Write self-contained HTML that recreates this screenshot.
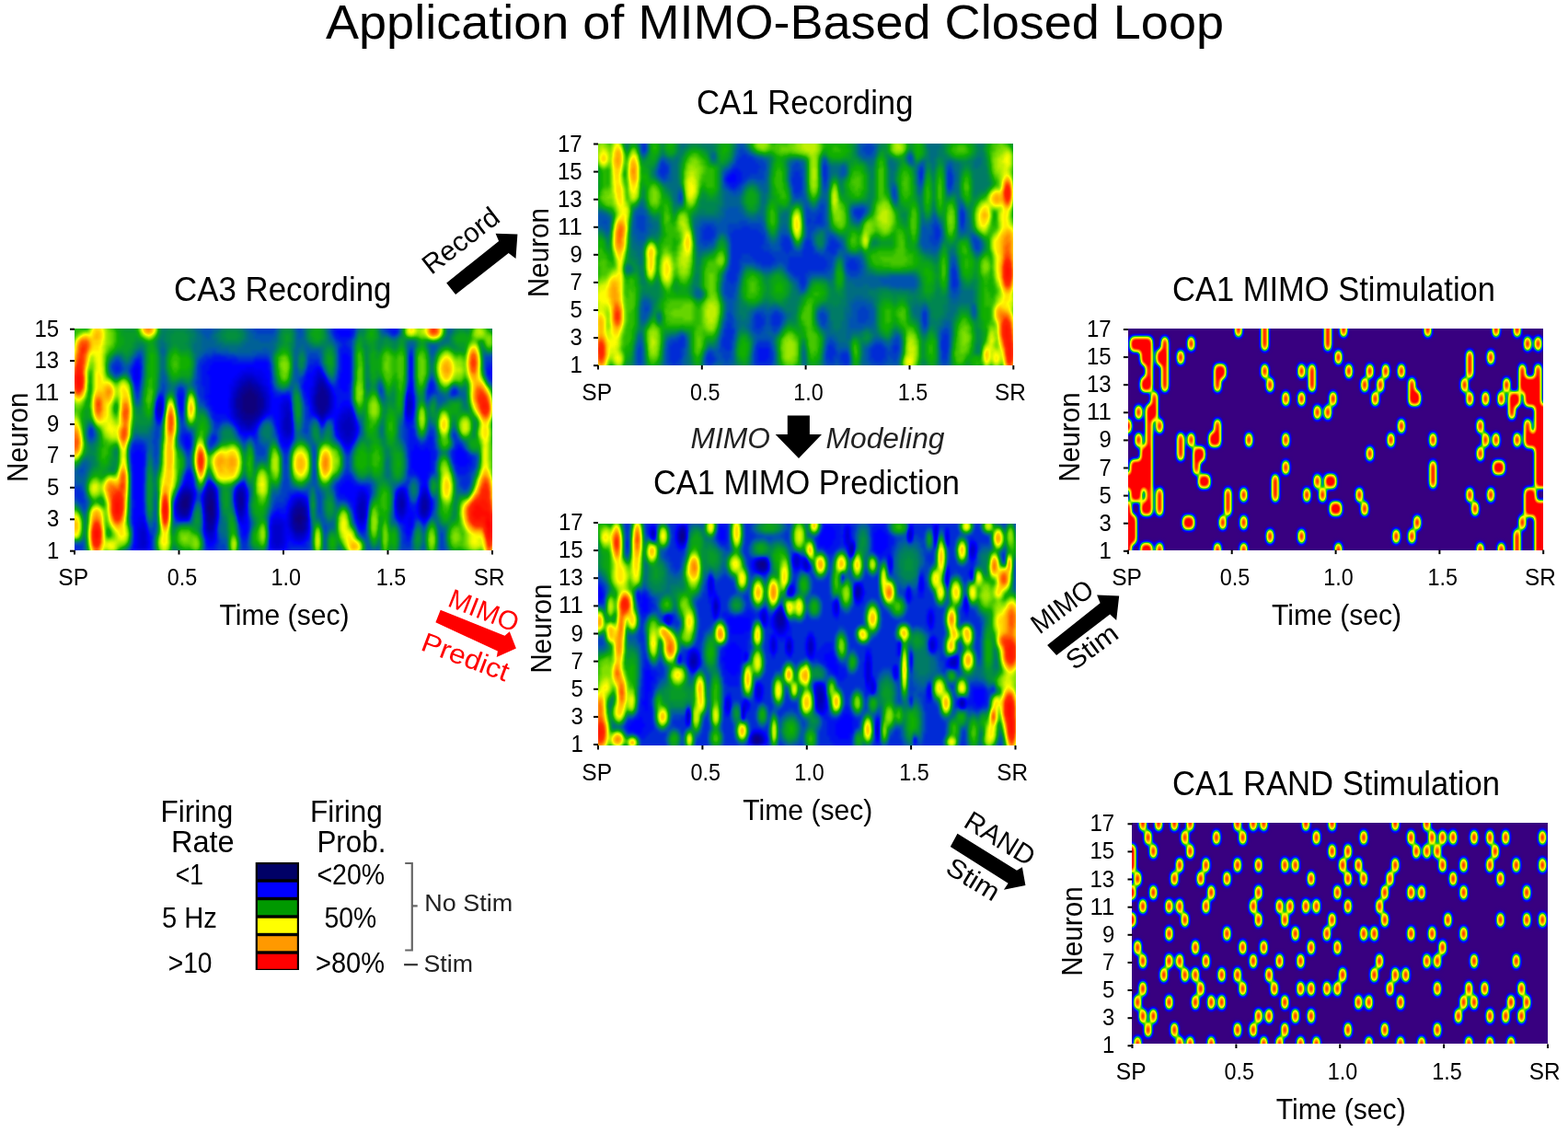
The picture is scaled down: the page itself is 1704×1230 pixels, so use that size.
<!DOCTYPE html>
<html><head><meta charset="utf-8"><title>Application of MIMO-Based Closed Loop</title>
<style>html,body{margin:0;padding:0;background:#fff;overflow:hidden}svg{display:block}text{font-family:"Liberation Sans", Arial, Helvetica, sans-serif}</style>
</head><body>
<svg width="1704" height="1230" viewBox="0 0 1704 1230">
<rect width="1704" height="1230" fill="#fff"/>
<clipPath id="c1"><rect x="81" y="357" width="454" height="241"/></clipPath>
<filter id="f1" filterUnits="userSpaceOnUse" x="69" y="345" width="480" height="267" color-interpolation-filters="sRGB"><feGaussianBlur color-interpolation-filters="sRGB" stdDeviation="1.5 1.5"/><feComponentTransfer color-interpolation-filters="sRGB"><feFuncR type="table" tableValues="0.078 0.059 0.039 0.02 0 0 0 0 0 0 0 0 0 0 0 0 0 0.015 0.029 0.044 0.059 0.172 0.284 0.397 0.51 0.632 0.755 0.877 1 1 1 1 1 1 1 1 1 1 1 1 1"/><feFuncG type="table" tableValues="0 0 0 0 0 0 0 0 0 0.083 0.167 0.25 0.333 0.382 0.431 0.48 0.529 0.569 0.608 0.647 0.686 0.735 0.784 0.833 0.882 0.912 0.941 0.971 1 0.912 0.824 0.735 0.647 0.529 0.412 0.294 0.176 0.132 0.088 0.044 0"/><feFuncB type="table" tableValues="0.412 0.49 0.569 0.647 0.725 0.794 0.863 0.931 1 0.922 0.843 0.765 0.686 0.593 0.5 0.407 0.314 0.235 0.157 0.078 0 0 0 0 0 0 0 0 0 0 0 0 0 0 0 0 0 0 0 0 0"/></feComponentTransfer></filter>
<g clip-path="url(#c1)"><g filter="url(#f1)"><g transform="translate(69 345) scale(3)" fill="none" stroke-width="1.04">
<rect x="-1" y="-1" width="162" height="91" fill="#464646"/>
<path stroke="#060606" d="M43.5 66v3M44.5 65v4M52.5 68v2M53.5 66v6M65.5 28v6M66.5 27v8M67.5 26v9M68.5 27v8M69.5 28v6M84.5 72v2M85.5 71v4M86.5 72v1"/>
<path stroke="#0d0d0d" d="M42.5 66v4M43.5 64v2M43.5 69v2M44.5 64v1M44.5 69v2M45.5 64v5M52.5 64v4M52.5 70v4M53.5 63v3M53.5 72v3M54.5 66v7M63.5 29v4M64.5 27v8M64.5 65v3M65.5 25v3M65.5 34v3M66.5 25v2M66.5 35v2M67.5 24v2M67.5 35v2M68.5 25v2M68.5 35v2M69.5 26v2M69.5 34v2M70.5 27v8M71.5 29v4M83.5 71v4M84.5 69v3M84.5 74v3M85.5 69v2M85.5 75v2M86.5 69v3M86.5 73v4M87.5 72v2M92.5 27v6M93.5 25v10M94.5 26v8M95.5 28v4M130.5 68v1"/>
<path stroke="#131313" d="M41.5 67v2M42.5 64v2M42.5 70v1M43.5 63v1M43.5 71v1M44.5 63v1M44.5 71v1M45.5 63v1M45.5 69v1M51.5 65v6M52.5 62v2M52.5 74v3M53.5 62v1M53.5 75v2M54.5 63v3M54.5 73v2M62.5 29v4M63.5 26v3M63.5 33v3M63.5 63v7M64.5 25v2M64.5 35v2M64.5 63v2M64.5 68v2M65.5 24v1M65.5 37v1M66.5 23v2M66.5 37v2M67.5 23v1M67.5 37v2M68.5 24v1M68.5 37v1M69.5 24v2M69.5 36v1M70.5 25v2M70.5 35v1M71.5 27v2M71.5 33v2M72.5 29v4M83.5 69v2M83.5 75v2M84.5 68v1M84.5 77v1M85.5 67v2M85.5 77v1M86.5 68v1M86.5 77v1M87.5 69v3M87.5 74v3M91.5 28v4M92.5 24v3M92.5 33v2M93.5 23v2M93.5 35v1M94.5 24v2M94.5 34v1M95.5 26v2M95.5 32v2M122.5 66v3M130.5 65v3M130.5 69v2M131.5 66v4"/>
<path stroke="#1a1a1a" d="M34.5 33v1M41.5 66v1M41.5 69v2M42.5 71v1M43.5 62v1M44.5 62v1M45.5 62v1M45.5 70v1M46.5 64v3M51.5 63v2M51.5 71v3M52.5 61v1M52.5 77v1M53.5 61v1M53.5 77v1M54.5 62v1M54.5 75v2M62.5 27v2M62.5 33v3M63.5 25v1M63.5 36v1M63.5 62v1M63.5 70v1M64.5 23v2M64.5 37v2M64.5 62v1M64.5 70v2M65.5 23v1M65.5 38v1M65.5 63v6M66.5 22v1M66.5 39v1M67.5 22v1M67.5 39v1M68.5 22v2M68.5 38v1M69.5 23v1M69.5 37v1M70.5 24v1M70.5 36v1M71.5 25v2M71.5 35v1M72.5 27v2M72.5 33v1M80.5 36v5M81.5 34v8M82.5 70v6M83.5 68v1M83.5 77v1M84.5 67v1M84.5 78v1M85.5 66v1M85.5 78v1M86.5 67v1M86.5 78v1M87.5 68v1M87.5 77v1M88.5 72v2M91.5 25v3M91.5 32v2M92.5 22v2M93.5 22v1M93.5 36v1M94.5 23v1M94.5 35v1M95.5 25v1M95.5 34v1M96.5 27v6M101.5 38v3M102.5 37v6M103.5 36v7M104.5 38v3M107.5 67v6M108.5 66v7M121.5 65v5M122.5 64v2M122.5 69v2M123.5 66v3M125.5 30v3M129.5 66v5M130.5 64v1M130.5 71v1M131.5 64v2M131.5 70v2"/>
<path stroke="#202020" d="M28.5 77v6M29.5 77v6M34.5 31v2M34.5 34v2M35.5 31v4M41.5 65v1M41.5 71v1M42.5 63v1M42.5 72v1M43.5 72v1M44.5 61v1M44.5 72v1M45.5 71v1M46.5 63v1M46.5 67v1M51.5 74v3M52.5 60v1M52.5 78v1M53.5 60v1M53.5 78v2M54.5 77v1M55.5 67v5M61.5 27v8M62.5 25v2M62.5 36v1M62.5 64v3M63.5 23v2M63.5 37v2M63.5 71v1M64.5 22v1M64.5 39v1M64.5 61v1M64.5 72v1M65.5 21v2M65.5 39v1M65.5 62v1M65.5 69v2M66.5 21v1M66.5 40v1M67.5 21v1M67.5 40v1M68.5 21v1M68.5 39v1M69.5 22v1M69.5 38v1M70.5 23v1M70.5 37v1M71.5 24v1M72.5 25v2M72.5 34v1M73.5 27v7M76.5 75v7M77.5 75v8M78.5 75v7M79.5 37v4M80.5 32v4M80.5 41v2M81.5 31v3M81.5 42v1M82.5 37v5M82.5 69v1M82.5 76v1M83.5 67v1M83.5 78v1M84.5 66v1M84.5 79v1M85.5 79v1M86.5 66v1M86.5 79v1M87.5 67v1M87.5 78v1M88.5 70v2M88.5 74v3M90.5 28v4M91.5 23v2M91.5 34v1M92.5 20v2M92.5 35v1M93.5 21v1M94.5 22v1M94.5 36v1M95.5 24v1M96.5 26v1M96.5 33v1M100.5 37v5M101.5 35v3M101.5 41v3M102.5 35v2M102.5 43v2M103.5 34v2M103.5 43v2M104.5 35v3M104.5 41v3M105.5 40v1M106.5 68v3M107.5 65v2M107.5 73v1M108.5 64v2M108.5 73v1M109.5 66v6M121.5 64v1M121.5 70v1M122.5 63v1M122.5 71v1M123.5 64v2M123.5 69v2M124.5 30v5M125.5 28v2M125.5 33v2M129.5 65v1M129.5 71v1M130.5 63v1M130.5 72v1M131.5 63v1M132.5 66v4"/>
<path stroke="#262626" d="M27.5 76v8M28.5 74v3M28.5 83v2M29.5 75v2M29.5 83v2M30.5 81v1M34.5 30v1M34.5 36v1M35.5 30v1M35.5 35v1M40.5 68v2M43.5 61v1M44.5 60v1M45.5 61v1M46.5 62v1M46.5 68v1M51.5 62v1M51.5 77v1M52.5 79v1M53.5 80v1M54.5 61v1M54.5 78v2M55.5 64v3M55.5 72v2M60.5 29v4M61.5 25v2M61.5 35v2M62.5 23v2M62.5 37v1M62.5 63v1M62.5 67v2M63.5 22v1M63.5 61v1M63.5 72v1M64.5 21v1M64.5 40v1M64.5 73v1M65.5 20v1M65.5 40v1M65.5 61v1M65.5 71v1M66.5 20v1M67.5 20v1M68.5 20v1M68.5 40v1M69.5 21v1M69.5 39v1M70.5 21v2M71.5 22v2M71.5 36v1M72.5 24v1M72.5 35v1M73.5 25v2M73.5 34v1M74.5 28v5M75.5 75v8M76.5 73v2M76.5 82v2M77.5 73v2M77.5 83v2M78.5 73v2M78.5 82v2M79.5 31v6M79.5 41v2M79.5 74v9M80.5 30v2M80.5 43v1M81.5 30v1M81.5 43v1M81.5 71v5M82.5 34v3M82.5 42v1M82.5 68v1M82.5 77v1M83.5 66v1M83.5 79v1M84.5 65v1M84.5 80v1M85.5 65v1M85.5 80v1M86.5 65v1M86.5 80v1M87.5 66v1M87.5 79v1M88.5 68v2M88.5 77v1M90.5 25v3M90.5 32v2M91.5 21v2M92.5 19v1M93.5 20v1M93.5 37v1M95.5 35v1M96.5 25v1M96.5 34v1M97.5 28v5M99.5 37v4M100.5 35v2M100.5 42v2M101.5 34v1M101.5 44v1M102.5 33v2M102.5 45v1M103.5 33v1M103.5 45v1M104.5 34v1M104.5 44v1M105.5 37v3M105.5 41v2M106.5 65v3M106.5 71v2M107.5 63v2M107.5 74v1M108.5 63v1M108.5 74v1M109.5 64v2M109.5 72v1M120.5 66v3M121.5 63v1M121.5 71v1M122.5 62v1M122.5 72v1M123.5 63v1M123.5 71v1M124.5 28v2M124.5 35v1M125.5 27v1M125.5 35v1M126.5 30v3M129.5 64v1M130.5 62v1M131.5 62v1M131.5 72v1M132.5 65v1M132.5 70v1"/>
<path stroke="#2d2d2d" d="M26.5 18v5M26.5 74v11M27.5 72v4M27.5 84v3M28.5 72v2M28.5 85v2M29.5 74v1M29.5 85v2M30.5 78v3M30.5 82v3M33.5 33v2M34.5 29v1M35.5 29v1M40.5 67v1M40.5 70v2M41.5 64v1M41.5 72v1M42.5 62v1M44.5 59v1M45.5 59v2M45.5 72v1M46.5 60v2M46.5 69v1M47.5 63v2M50.5 64v4M51.5 61v1M51.5 78v1M52.5 59v1M52.5 80v1M53.5 81v1M54.5 80v1M55.5 63v1M55.5 74v1M60.5 24v5M60.5 33v3M61.5 22v3M62.5 21v2M62.5 38v1M62.5 62v1M63.5 20v2M63.5 39v1M63.5 73v1M64.5 19v2M64.5 41v1M64.5 60v1M64.5 74v1M65.5 19v1M65.5 41v1M65.5 60v1M65.5 72v3M66.5 18v2M66.5 41v1M66.5 64v3M67.5 18v2M67.5 41v1M68.5 18v2M68.5 41v1M69.5 19v2M69.5 40v1M70.5 19v2M70.5 38v1M71.5 19v3M72.5 20v4M73.5 22v3M74.5 25v3M74.5 33v2M75.5 73v2M75.5 83v2M76.5 72v1M76.5 84v2M77.5 71v2M77.5 85v1M78.5 31v11M78.5 72v1M78.5 84v1M79.5 29v2M79.5 43v2M79.5 73v1M79.5 83v1M80.5 29v1M80.5 44v2M80.5 73v9M81.5 29v1M81.5 44v2M81.5 69v2M81.5 76v3M82.5 33v1M82.5 43v1M82.5 66v2M82.5 78v2M83.5 65v1M83.5 80v1M85.5 81v1M87.5 65v1M87.5 80v1M88.5 67v1M88.5 78v1M89.5 25v6M90.5 21v4M90.5 34v1M91.5 19v2M91.5 35v1M92.5 18v1M92.5 36v1M93.5 38v1M94.5 21v1M94.5 37v1M95.5 23v1M96.5 35v1M97.5 27v1M97.5 33v2M99.5 35v2M99.5 41v2M100.5 33v2M101.5 32v2M101.5 45v1M102.5 32v1M102.5 46v1M103.5 32v1M103.5 46v1M104.5 33v1M104.5 45v1M105.5 36v1M105.5 43v1M106.5 63v2M106.5 73v1M107.5 62v1M107.5 75v1M108.5 62v1M108.5 75v1M109.5 63v1M109.5 73v1M120.5 64v2M120.5 69v2M121.5 62v1M121.5 72v1M122.5 73v1M123.5 62v1M123.5 72v1M124.5 27v1M124.5 36v1M124.5 65v6M125.5 25v2M125.5 36v1M125.5 72v4M126.5 28v2M126.5 33v2M128.5 67v4M129.5 63v1M129.5 72v1M130.5 61v1M130.5 73v1M131.5 61v1M132.5 64v1M132.5 71v1"/>
<path stroke="#333333" d="M25.5 18v5M25.5 49v17M25.5 69v6M25.5 82v3M26.5 16v2M26.5 23v2M26.5 48v26M26.5 85v3M27.5 17v6M27.5 48v24M27.5 87v2M28.5 49v23M28.5 87v2M29.5 72v2M29.5 87v2M30.5 77v1M30.5 85v2M33.5 32v1M33.5 35v1M34.5 37v1M35.5 28v1M35.5 36v1M40.5 66v1M42.5 28v6M42.5 73v1M43.5 60v1M43.5 73v1M44.5 43v4M44.5 57v2M44.5 73v1M45.5 44v3M45.5 56v3M46.5 57v3M47.5 62v1M47.5 65v1M50.5 68v1M51.5 79v1M52.5 19v2M52.5 28v1M52.5 81v2M53.5 17v15M53.5 59v1M53.5 82v1M54.5 16v18M54.5 60v1M54.5 81v1M55.5 16v19M55.5 62v1M55.5 75v1M56.5 16v19M57.5 16v19M58.5 16v19M59.5 16v20M60.5 16v8M60.5 36v1M61.5 17v5M61.5 37v1M62.5 17v4M62.5 69v1M63.5 17v3M63.5 40v1M64.5 17v2M64.5 75v2M65.5 17v2M65.5 42v1M65.5 75v4M66.5 17v1M66.5 42v1M66.5 62v2M66.5 67v11M67.5 17v1M68.5 17v1M68.5 42v1M69.5 16v3M69.5 41v1M70.5 16v3M71.5 16v3M71.5 37v1M72.5 16v4M72.5 36v1M73.5 16v6M73.5 35v1M74.5 19v6M75.5 27v8M75.5 72v1M75.5 85v1M76.5 29v8M76.5 71v1M76.5 86v1M77.5 29v11M77.5 70v1M77.5 86v1M78.5 29v2M78.5 42v3M78.5 71v1M78.5 85v2M79.5 28v1M79.5 45v2M79.5 71v2M79.5 84v2M80.5 28v1M80.5 46v1M80.5 71v2M80.5 82v2M81.5 28v1M81.5 46v1M81.5 67v2M81.5 79v2M82.5 31v2M82.5 44v1M82.5 65v1M82.5 80v1M83.5 64v1M83.5 81v1M84.5 64v1M84.5 81v1M85.5 64v1M86.5 64v1M86.5 81v1M87.5 23v4M88.5 20v9M88.5 66v1M88.5 79v1M89.5 20v5M89.5 31v3M90.5 19v2M91.5 18v1M93.5 19v1M95.5 36v1M96.5 24v1M97.5 26v1M97.5 35v1M98.5 28v13M99.5 4v2M99.5 33v2M99.5 43v1M100.5 4v3M100.5 20v6M100.5 31v2M100.5 44v1M100.5 61v3M101.5 3v4M101.5 13v14M101.5 30v2M101.5 46v1M101.5 60v4M102.5 3v4M102.5 13v14M102.5 30v2M102.5 47v1M102.5 59v6M103.5 4v3M103.5 14v10M103.5 30v2M103.5 47v1M103.5 59v7M104.5 32v1M104.5 60v7M105.5 35v1M105.5 44v1M105.5 61v10M106.5 39v3M106.5 61v2M106.5 74v1M107.5 61v1M107.5 76v1M108.5 61v1M108.5 76v1M109.5 62v1M109.5 74v1M110.5 64v2M120.5 63v1M120.5 71v1M121.5 73v1M123.5 73v2M124.5 37v1M124.5 64v1M124.5 71v8M125.5 14v11M125.5 37v1M125.5 69v3M125.5 76v3M126.5 23v5M126.5 35v2M126.5 48v7M126.5 70v6M127.5 46v10M128.5 47v10M128.5 66v1M128.5 71v1M129.5 48v11M129.5 61v2M130.5 48v13M130.5 74v1M131.5 47v14M131.5 73v1M132.5 48v8M133.5 67v1M142.5 48v5M143.5 47v7M144.5 48v6M145.5 49v5M146.5 51v2M154.5 19v2"/>
<path stroke="#393939" d="M19.5 18v1M24.5 19v1M24.5 48v5M25.5 17v1M25.5 23v1M25.5 46v3M25.5 66v3M25.5 75v7M25.5 85v4M26.5 15v1M26.5 25v2M26.5 46v2M26.5 88v1M27.5 15v2M27.5 23v2M27.5 46v2M28.5 46v3M29.5 48v6M29.5 71v1M30.5 76v1M30.5 87v2M31.5 79v7M33.5 31v1M33.5 36v1M34.5 28v1M34.5 38v1M35.5 37v1M40.5 72v1M41.5 27v5M41.5 63v1M41.5 73v1M42.5 26v2M42.5 34v2M42.5 61v1M43.5 27v7M43.5 42v4M43.5 59v1M44.5 42v1M44.5 47v1M44.5 56v1M45.5 42v2M45.5 47v1M45.5 55v1M45.5 73v1M46.5 56v1M46.5 70v1M47.5 61v1M47.5 66v1M50.5 17v8M50.5 63v1M50.5 69v2M51.5 16v14M51.5 80v2M52.5 15v4M52.5 21v7M52.5 29v3M52.5 83v1M53.5 15v2M53.5 32v2M53.5 83v2M54.5 14v2M54.5 34v3M54.5 43v2M54.5 82v2M55.5 14v2M55.5 35v3M55.5 76v6M56.5 14v2M56.5 35v3M57.5 14v2M57.5 35v2M58.5 14v2M58.5 35v2M59.5 15v1M59.5 36v1M60.5 15v1M60.5 37v1M61.5 15v2M61.5 38v1M62.5 15v2M62.5 39v1M62.5 61v1M62.5 70v1M63.5 16v1M63.5 41v1M63.5 60v1M63.5 74v1M64.5 16v1M64.5 42v1M64.5 77v3M65.5 16v1M65.5 43v1M65.5 59v1M65.5 79v2M66.5 16v1M66.5 43v1M66.5 78v2M67.5 16v1M67.5 42v1M68.5 16v1M69.5 15v1M69.5 42v2M70.5 15v1M70.5 39v1M71.5 15v1M72.5 15v1M73.5 15v1M74.5 16v3M74.5 35v1M74.5 75v2M74.5 80v6M75.5 24v3M75.5 35v1M75.5 71v1M75.5 86v2M76.5 27v2M76.5 37v2M76.5 70v1M76.5 87v1M77.5 28v1M77.5 40v2M77.5 69v1M77.5 87v1M78.5 28v1M78.5 45v1M78.5 69v2M78.5 87v1M79.5 47v1M79.5 69v2M79.5 86v1M80.5 47v2M80.5 68v3M80.5 84v2M81.5 27v1M81.5 47v1M81.5 66v1M81.5 81v3M82.5 30v1M82.5 45v1M82.5 64v1M82.5 81v2M83.5 82v1M84.5 63v1M84.5 82v1M85.5 63v1M85.5 82v1M86.5 24v2M86.5 82v1M87.5 21v2M87.5 27v3M87.5 64v1M87.5 81v2M88.5 18v2M88.5 29v3M88.5 65v1M88.5 80v1M89.5 17v3M89.5 34v2M90.5 17v2M90.5 35v1M91.5 16v2M92.5 17v1M92.5 37v1M93.5 18v1M93.5 39v1M94.5 20v1M94.5 38v1M95.5 22v1M96.5 36v1M97.5 25v1M97.5 36v1M98.5 3v4M98.5 25v3M98.5 41v2M99.5 3v1M99.5 6v2M99.5 22v11M99.5 60v5M100.5 2v2M100.5 7v2M100.5 11v9M100.5 26v5M100.5 45v1M100.5 59v2M100.5 64v2M101.5 2v1M101.5 7v6M101.5 27v3M101.5 58v2M101.5 64v2M102.5 2v1M102.5 7v2M102.5 10v3M102.5 27v3M102.5 48v1M102.5 57v2M102.5 65v1M103.5 2v2M103.5 7v1M103.5 11v3M103.5 24v6M103.5 48v1M103.5 57v2M103.5 66v1M104.5 3v4M104.5 46v1M104.5 58v2M104.5 67v2M105.5 59v2M105.5 71v2M106.5 38v1M106.5 42v1M106.5 60v1M106.5 75v1M107.5 77v1M108.5 77v1M109.5 61v1M109.5 75v2M110.5 61v3M110.5 66v2M118.5 3v2M119.5 2v4M120.5 3v3M120.5 72v1M122.5 61v1M122.5 74v1M123.5 61v1M123.5 75v3M124.5 26v1M124.5 38v2M124.5 62v2M124.5 79v2M125.5 13v1M125.5 38v19M125.5 67v2M125.5 79v2M126.5 14v9M126.5 37v2M126.5 40v8M126.5 55v2M126.5 68v2M126.5 76v1M127.5 43v3M127.5 56v1M127.5 68v5M128.5 45v2M128.5 57v1M128.5 65v1M128.5 72v1M129.5 46v2M129.5 59v2M129.5 73v1M130.5 46v2M131.5 45v2M132.5 24v4M132.5 43v5M132.5 56v2M132.5 63v1M132.5 72v1M133.5 23v4M133.5 43v13M133.5 66v1M133.5 68v2M134.5 48v4M141.5 26v2M141.5 48v5M142.5 46v2M142.5 53v3M143.5 46v1M143.5 54v3M144.5 47v1M144.5 54v3M145.5 48v1M145.5 54v3M146.5 49v2M146.5 53v3M147.5 50v4M153.5 18v3M154.5 17v2M154.5 21v2M155.5 18v4"/>
<path stroke="#404040" d="M2.5 83v1M3.5 62v2M3.5 83v2M4.5 62v3M4.5 82v3M5.5 62v4M5.5 83v1M6.5 63v4M6.5 83v1M7.5 66v1M9.5 40v3M10.5 40v3M18.5 17v3M19.5 16v2M19.5 19v1M20.5 17v3M23.5 86v3M24.5 18v1M24.5 20v1M24.5 47v1M24.5 53v3M24.5 72v1M24.5 83v6M25.5 16v1M25.5 24v1M25.5 45v1M26.5 27v2M26.5 45v1M27.5 14v1M27.5 25v2M27.5 45v1M28.5 17v2M28.5 45v1M29.5 46v2M29.5 54v6M29.5 67v4M30.5 75v1M31.5 78v1M31.5 86v3M32.5 79v1M33.5 30v1M33.5 37v1M35.5 27v1M36.5 29v4M40.5 65v1M40.5 73v1M41.5 26v1M41.5 32v1M42.5 25v1M42.5 36v2M42.5 42v3M43.5 26v1M43.5 34v3M43.5 40v2M43.5 46v1M43.5 58v1M44.5 41v1M44.5 48v1M44.5 55v1M45.5 48v2M45.5 54v1M46.5 43v4M46.5 55v1M46.5 71v1M47.5 59v2M47.5 67v1M48.5 23v1M49.5 16v13M50.5 15v2M50.5 25v5M50.5 71v2M50.5 75v3M51.5 14v2M51.5 30v2M51.5 60v1M51.5 82v4M52.5 14v1M52.5 32v1M52.5 58v1M52.5 84v4M53.5 14v1M53.5 34v2M53.5 43v4M53.5 85v3M54.5 13v1M54.5 37v1M54.5 42v1M54.5 45v1M54.5 84v3M55.5 13v1M55.5 38v2M55.5 43v1M55.5 61v1M55.5 82v4M56.5 13v1M56.5 38v1M57.5 37v1M58.5 37v1M59.5 14v1M59.5 37v1M60.5 14v1M61.5 14v1M62.5 14v1M62.5 40v1M63.5 15v1M63.5 42v1M63.5 75v1M64.5 15v1M64.5 43v1M64.5 59v1M64.5 80v2M65.5 15v1M65.5 44v1M65.5 81v3M66.5 15v1M66.5 61v1M66.5 80v2M67.5 15v1M67.5 73v4M68.5 15v1M68.5 43v1M69.5 14v1M69.5 44v2M70.5 14v1M70.5 40v1M71.5 14v1M71.5 38v1M72.5 14v1M73.5 14v1M73.5 36v1M74.5 15v1M74.5 36v1M74.5 73v2M74.5 77v3M74.5 86v3M75.5 20v4M75.5 36v1M75.5 70v1M75.5 88v1M76.5 26v1M76.5 39v1M76.5 68v2M76.5 88v1M77.5 27v1M77.5 42v1M77.5 67v2M77.5 88v1M78.5 27v1M78.5 46v1M78.5 67v2M78.5 88v1M79.5 27v1M79.5 48v1M79.5 67v2M79.5 87v2M80.5 27v1M80.5 49v4M80.5 65v3M80.5 86v3M81.5 48v1M81.5 63v3M81.5 84v3M82.5 28v2M82.5 63v1M82.5 83v3M83.5 40v4M83.5 63v1M83.5 83v2M84.5 83v2M85.5 83v3M86.5 22v2M86.5 26v2M86.5 63v1M86.5 83v2M87.5 20v1M87.5 30v2M87.5 63v1M87.5 83v2M88.5 17v1M88.5 32v5M88.5 64v1M88.5 81v3M89.5 15v2M89.5 36v1M89.5 75v6M90.5 15v2M91.5 15v1M91.5 36v1M92.5 15v2M96.5 23v1M97.5 2v4M97.5 24v1M97.5 37v1M98.5 2v1M98.5 7v1M98.5 24v1M98.5 61v2M99.5 1v2M99.5 8v1M99.5 19v3M99.5 44v1M99.5 65v1M100.5 1v1M100.5 9v2M100.5 58v1M101.5 1v1M101.5 47v1M101.5 57v1M102.5 1v1M102.5 9v1M102.5 49v1M102.5 55v2M102.5 66v1M103.5 1v1M103.5 8v3M103.5 49v1M103.5 56v1M103.5 67v1M104.5 1v2M104.5 7v1M104.5 12v11M104.5 31v1M104.5 47v1M104.5 57v1M104.5 69v1M105.5 3v3M105.5 34v1M105.5 45v1M105.5 73v1M106.5 37v1M106.5 43v1M106.5 76v1M107.5 60v1M108.5 60v1M108.5 78v1M109.5 60v1M109.5 77v1M110.5 60v1M110.5 68v1M111.5 62v2M117.5 2v3M118.5 1v2M118.5 5v1M119.5 1v1M119.5 6v1M120.5 1v2M120.5 62v1M121.5 61v1M121.5 74v1M122.5 75v2M123.5 34v5M123.5 60v1M123.5 78v4M124.5 25v1M124.5 40v7M124.5 59v3M124.5 81v2M125.5 12v1M125.5 57v1M125.5 66v1M125.5 81v2M126.5 12v2M126.5 39v1M126.5 57v1M126.5 67v1M126.5 77v1M127.5 41v2M127.5 57v1M127.5 67v1M127.5 73v1M128.5 44v1M128.5 58v1M130.5 45v1M130.5 75v1M131.5 44v1M131.5 74v1M132.5 23v1M132.5 28v1M132.5 41v2M132.5 58v1M133.5 22v1M133.5 27v1M133.5 41v2M133.5 56v1M133.5 65v1M133.5 70v1M134.5 24v3M134.5 45v3M134.5 52v4M140.5 27v1M140.5 48v3M141.5 42v2M141.5 47v1M141.5 53v1M142.5 26v2M142.5 44v2M142.5 56v1M143.5 45v1M143.5 57v1M144.5 46v1M144.5 57v4M145.5 57v5M146.5 56v5M147.5 54v2M148.5 50v5M153.5 16v2M153.5 21v1M154.5 16v1M155.5 16v2M155.5 22v1M156.5 19v3"/>
<path stroke="#4c4c4c" d="M0.5 2v1M0.5 6v1M0.5 19v12M0.5 38v13M1.5 8v5M1.5 53v1M1.5 68v2M1.5 80v1M2.5 0v1M2.5 55v2M2.5 66v1M2.5 81v1M3.5 56v4M3.5 66v1M4.5 59v2M4.5 66v1M5.5 55v2M5.5 60v1M5.5 67v1M6.5 0v1M6.5 54v1M6.5 56v2M6.5 60v1M6.5 68v1M6.5 81v1M7.5 0v1M7.5 53v4M7.5 62v1M7.5 70v1M7.5 81v4M8.5 0v1M8.5 66v3M8.5 88v1M9.5 39v1M9.5 44v1M10.5 39v1M10.5 44v1M11.5 42v1M15.5 88v1M16.5 87v1M17.5 16v1M17.5 19v1M17.5 87v1M18.5 15v1M19.5 14v1M20.5 15v1M20.5 20v1M20.5 86v1M21.5 16v2M21.5 19v1M22.5 18v1M22.5 85v1M23.5 17v3M23.5 84v1M24.5 16v1M24.5 22v1M24.5 45v1M24.5 75v1M24.5 82v1M25.5 14v1M25.5 26v1M26.5 13v1M26.5 30v1M26.5 43v1M27.5 12v1M27.5 29v1M27.5 43v1M28.5 13v1M28.5 22v2M29.5 44v1M30.5 44v5M31.5 76v1M32.5 41v3M32.5 46v5M32.5 74v2M33.5 53v2M33.5 66v8M33.5 76v2M33.5 86v1M34.5 44v6M34.5 87v1M35.5 0v1M35.5 23v3M35.5 39v1M35.5 88v1M36.5 1v1M36.5 21v3M36.5 88v1M37.5 1v1M37.5 88v1M38.5 1v1M38.5 87v1M39.5 0v1M39.5 86v1M40.5 0v1M40.5 74v1M40.5 85v2M41.5 0v1M41.5 34v1M41.5 62v1M41.5 74v1M41.5 86v1M42.5 0v1M42.5 24v1M42.5 46v1M42.5 60v1M42.5 74v1M42.5 87v1M43.5 0v1M43.5 87v1M44.5 0v1M44.5 39v1M44.5 50v1M44.5 54v1M44.5 87v1M45.5 1v1M45.5 87v1M46.5 1v1M46.5 41v1M46.5 48v1M46.5 54v1M46.5 72v1M46.5 87v1M47.5 1v2M47.5 22v3M47.5 68v1M47.5 87v1M48.5 2v1M48.5 15v2M48.5 28v1M48.5 62v1M48.5 66v1M48.5 87v1M49.5 3v1M49.5 14v1M49.5 31v1M49.5 63v1M49.5 86v1M50.5 3v3M50.5 13v1M50.5 31v1M50.5 79v1M50.5 85v1M51.5 4v3M51.5 12v1M52.5 4v4M52.5 11v2M52.5 34v1M52.5 44v1M52.5 46v1M53.5 4v2M53.5 11v2M53.5 47v1M53.5 58v1M54.5 3v1M54.5 11v1M54.5 46v1M55.5 2v2M55.5 11v2M55.5 45v1M56.5 2v1M56.5 12v1M56.5 40v1M56.5 66v3M56.5 73v2M56.5 78v2M57.5 1v1M57.5 12v1M57.5 80v2M58.5 1v1M58.5 12v1M58.5 38v1M58.5 80v2M59.5 1v1M59.5 12v1M59.5 38v1M59.5 84v2M60.5 1v1M60.5 87v1M61.5 1v1M61.5 62v1M61.5 67v1M62.5 1v1M62.5 13v1M62.5 41v1M62.5 87v1M63.5 1v1M63.5 13v1M63.5 43v1M63.5 77v2M63.5 86v1M64.5 2v1M64.5 13v1M65.5 2v1M65.5 13v1M65.5 46v1M65.5 58v1M66.5 2v2M66.5 13v1M66.5 60v1M67.5 3v2M67.5 13v1M67.5 63v2M67.5 71v1M67.5 78v1M67.5 83v2M68.5 4v2M68.5 12v2M68.5 85v1M69.5 5v3M69.5 12v2M69.5 48v2M70.5 6v2M70.5 12v1M70.5 50v2M70.5 86v1M71.5 6v3M71.5 12v1M71.5 39v1M71.5 45v1M71.5 50v1M71.5 86v1M72.5 6v3M72.5 11v2M72.5 46v1M72.5 50v1M72.5 86v1M73.5 6v3M73.5 11v2M73.5 37v1M73.5 46v4M74.5 6v3M74.5 12v2M74.5 37v1M74.5 71v1M75.5 6v2M75.5 16v1M75.5 38v1M75.5 67v2M76.5 5v2M76.5 24v1M76.5 41v2M76.5 64v2M77.5 2v2M77.5 44v1M77.5 64v1M78.5 0v2M78.5 26v1M78.5 47v1M78.5 62v2M79.5 0v1M79.5 50v9M80.5 26v1M81.5 50v8M82.5 0v1M82.5 25v2M82.5 61v1M83.5 0v2M83.5 37v1M84.5 2v3M84.5 18v5M85.5 5v3M85.5 21v1M85.5 24v2M85.5 62v1M86.5 3v4M86.5 29v1M86.5 40v2M86.5 62v1M87.5 2v1M87.5 42v1M87.5 62v1M88.5 1v1M88.5 11v3M88.5 42v2M89.5 0v1M89.5 12v1M89.5 38v1M89.5 72v1M90.5 12v1M90.5 46v1M90.5 59v2M90.5 87v1M91.5 12v1M91.5 48v3M91.5 55v9M92.5 12v2M92.5 38v1M92.5 62v1M92.5 71v1M93.5 0v1M93.5 16v1M93.5 41v1M93.5 64v10M93.5 88v1M94.5 0v1M94.5 73v2M94.5 78v7M95.5 1v2M95.5 75v3M95.5 86v1M96.5 4v2M96.5 22v1M96.5 37v1M96.5 87v1M97.5 7v1M97.5 23v1M97.5 39v2M97.5 61v1M97.5 88v1M98.5 9v1M98.5 21v2M98.5 59v1M98.5 65v1M98.5 87v1M99.5 67v1M99.5 86v1M100.5 46v1M100.5 57v1M100.5 85v1M101.5 55v1M101.5 86v1M102.5 67v1M103.5 52v1M103.5 87v1M104.5 26v4M104.5 48v1M104.5 71v1M105.5 7v1M105.5 33v1M105.5 46v1M105.5 57v1M106.5 0v1M106.5 36v1M106.5 44v1M106.5 77v1M106.5 87v1M107.5 0v1M107.5 38v1M107.5 42v1M107.5 59v1M107.5 87v1M108.5 0v1M108.5 59v1M108.5 86v1M109.5 0v1M109.5 59v1M109.5 80v1M109.5 85v1M110.5 59v1M110.5 70v1M110.5 82v3M111.5 65v1M111.5 84v2M112.5 85v1M113.5 84v2M114.5 0v2M114.5 24v1M114.5 27v1M114.5 84v2M115.5 2v3M115.5 25v1M115.5 28v1M116.5 5v1M118.5 87v1M119.5 66v7M119.5 87v1M120.5 61v1M120.5 87v1M121.5 0v2M121.5 60v1M121.5 85v2M122.5 0v1M122.5 39v5M123.5 0v1M123.5 30v2M123.5 45v1M123.5 59v1M124.5 23v1M124.5 51v4M125.5 10v1M125.5 60v1M125.5 63v2M126.5 10v1M126.5 58v1M126.5 66v1M126.5 79v1M126.5 84v2M127.5 27v1M127.5 34v2M127.5 38v2M127.5 58v1M127.5 66v1M127.5 75v1M127.5 86v1M128.5 0v1M128.5 43v1M128.5 60v4M128.5 86v1M129.5 0v1M129.5 44v1M129.5 85v1M130.5 44v1M130.5 77v1M130.5 82v3M131.5 30v1M131.5 42v1M131.5 75v1M131.5 87v1M132.5 22v1M132.5 38v1M132.5 59v3M132.5 73v1M133.5 10v4M133.5 28v1M133.5 39v1M133.5 57v1M134.5 10v2M134.5 40v1M134.5 65v1M134.5 70v2M134.5 88v1M135.5 26v1M135.5 28v2M135.5 47v1M135.5 51v1M135.5 86v1M136.5 28v3M136.5 76v2M137.5 0v1M137.5 29v1M137.5 77v1M138.5 1v1M138.5 83v2M139.5 2v2M139.5 85v2M140.5 3v1M140.5 42v1M140.5 47v1M140.5 52v1M141.5 2v1M141.5 40v1M141.5 55v1M141.5 87v1M142.5 2v1M142.5 25v1M142.5 28v1M142.5 58v1M142.5 87v1M143.5 2v1M143.5 27v1M143.5 61v1M144.5 2v1M144.5 62v1M144.5 86v1M145.5 2v1M145.5 46v1M146.5 2v1M146.5 62v1M147.5 1v1M147.5 60v1M148.5 1v1M148.5 49v1M148.5 56v1M149.5 54v1M150.5 0v1M150.5 87v1M152.5 14v5M153.5 1v1M153.5 22v1M154.5 2v1M155.5 13v1M155.5 24v1M156.5 4v1M156.5 12v1M156.5 25v2M156.5 38v3M157.5 6v5M157.5 57v3M157.5 85v3M158.5 63v4M158.5 75v4M159.5 69v4"/>
<path stroke="#535353" d="M0.5 3v3M0.5 31v7M1.5 1v1M1.5 7v1M1.5 13v4M1.5 52v1M1.5 70v2M1.5 79v1M2.5 54v1M2.5 67v1M3.5 0v1M3.5 55v1M3.5 81v1M4.5 0v1M4.5 55v4M5.5 0v1M5.5 54v1M5.5 57v3M5.5 81v1M6.5 53v1M6.5 58v2M6.5 69v1M7.5 1v1M7.5 52v1M7.5 57v5M7.5 71v1M7.5 80v1M8.5 1v1M8.5 41v2M8.5 52v4M8.5 65v1M8.5 69v1M8.5 86v2M11.5 41v1M11.5 43v1M15.5 87v1M18.5 14v1M18.5 21v1M19.5 21v1M19.5 86v1M20.5 14v1M21.5 85v1M22.5 17v1M22.5 19v1M23.5 20v1M24.5 15v1M24.5 81v1M25.5 27v1M25.5 43v1M26.5 12v1M26.5 31v1M26.5 42v1M27.5 30v1M28.5 12v1M28.5 24v2M28.5 43v1M29.5 43v1M30.5 43v1M30.5 49v3M30.5 73v1M31.5 42v6M31.5 75v1M32.5 39v2M32.5 51v3M32.5 73v1M33.5 29v1M33.5 55v2M33.5 63v3M33.5 78v1M33.5 85v1M34.5 0v1M34.5 26v1M34.5 50v3M35.5 1v1M35.5 11v2M35.5 19v4M35.5 40v1M36.5 2v1M36.5 11v3M36.5 19v2M36.5 34v1M37.5 2v1M37.5 23v4M39.5 1v1M39.5 85v1M40.5 1v1M40.5 25v4M40.5 64v1M41.5 1v1M41.5 24v1M41.5 35v1M41.5 43v2M41.5 85v1M42.5 1v1M42.5 59v1M42.5 86v1M43.5 1v1M43.5 24v1M43.5 48v1M43.5 56v1M43.5 74v1M43.5 86v1M44.5 1v1M44.5 25v3M44.5 51v3M44.5 74v1M44.5 86v1M45.5 2v1M45.5 40v1M45.5 74v1M45.5 86v1M46.5 2v1M46.5 49v1M46.5 53v1M46.5 73v1M46.5 86v1M47.5 3v1M47.5 20v2M47.5 25v1M47.5 57v1M47.5 69v1M48.5 3v2M48.5 14v1M48.5 29v1M49.5 4v2M49.5 12v2M49.5 32v1M49.5 67v1M50.5 6v7M50.5 32v1M50.5 84v1M51.5 7v5M51.5 33v1M51.5 59v1M52.5 8v3M52.5 35v1M52.5 43v1M52.5 47v1M52.5 57v1M53.5 6v5M53.5 37v2M53.5 41v1M54.5 4v2M54.5 8v3M54.5 59v1M55.5 4v1M55.5 10v1M56.5 3v1M56.5 10v2M56.5 41v4M56.5 62v4M56.5 75v3M57.5 2v1M57.5 11v1M57.5 39v1M57.5 78v2M58.5 2v1M58.5 11v1M58.5 79v1M59.5 2v1M59.5 11v1M59.5 83v1M60.5 2v1M60.5 12v1M60.5 39v1M60.5 86v1M61.5 2v1M61.5 12v1M61.5 40v1M61.5 68v1M61.5 87v1M62.5 2v1M62.5 12v1M62.5 42v1M62.5 60v1M62.5 72v1M63.5 2v1M63.5 11v2M63.5 59v1M63.5 85v1M64.5 11v2M64.5 45v1M65.5 3v1M65.5 10v3M65.5 47v1M66.5 4v1M66.5 9v4M66.5 45v1M67.5 5v8M67.5 44v1M67.5 62v1M67.5 65v2M67.5 69v2M67.5 79v2M67.5 82v1M68.5 6v6M68.5 45v1M68.5 74v1M68.5 84v1M69.5 8v4M69.5 50v2M69.5 85v1M70.5 8v4M70.5 85v1M71.5 9v3M71.5 40v1M71.5 43v2M71.5 51v1M71.5 85v1M72.5 9v2M72.5 38v1M72.5 45v1M72.5 51v1M73.5 9v2M73.5 45v1M73.5 50v2M73.5 84v1M74.5 9v3M74.5 70v1M75.5 8v8M75.5 39v1M75.5 64v3M76.5 7v2M76.5 22v2M76.5 43v1M76.5 63v1M77.5 4v2M77.5 25v1M77.5 45v1M77.5 63v1M78.5 2v1M78.5 61v1M79.5 1v1M79.5 26v1M80.5 0v1M81.5 0v1M82.5 1v1M82.5 24v1M82.5 47v1M82.5 60v1M83.5 2v1M83.5 16v8M83.5 35v2M83.5 45v1M83.5 61v1M84.5 5v13M84.5 23v1M85.5 8v3M85.5 20v1M85.5 26v1M86.5 7v3M86.5 20v1M86.5 30v1M86.5 38v2M86.5 42v1M87.5 3v1M87.5 8v4M87.5 18v1M87.5 43v1M88.5 10v1M88.5 44v1M88.5 61v1M89.5 1v1M89.5 11v1M89.5 39v7M89.5 60v2M89.5 71v1M90.5 0v1M90.5 11v1M90.5 37v1M90.5 45v1M90.5 86v1M91.5 0v1M91.5 11v1M91.5 37v1M91.5 46v2M91.5 51v4M91.5 64v2M92.5 0v1M92.5 11v1M92.5 39v1M92.5 61v1M92.5 72v1M93.5 13v3M93.5 42v1M93.5 63v1M93.5 74v1M93.5 87v1M94.5 1v1M94.5 18v1M94.5 40v1M94.5 72v1M95.5 3v1M95.5 20v1M95.5 38v1M95.5 74v1M95.5 78v1M95.5 85v1M96.5 6v2M96.5 38v1M96.5 74v3M97.5 8v1M97.5 22v1M97.5 41v2M97.5 60v1M97.5 62v1M97.5 74v2M97.5 87v1M98.5 10v1M98.5 20v1M98.5 44v1M98.5 66v1M99.5 45v1M99.5 58v1M99.5 68v1M99.5 85v1M100.5 67v1M100.5 84v1M101.5 49v1M101.5 54v1M101.5 67v1M102.5 86v1M103.5 69v1M104.5 49v1M104.5 55v1M104.5 72v1M104.5 87v1M105.5 75v1M105.5 87v1M106.5 1v4M106.5 58v1M107.5 1v1M107.5 37v1M108.5 1v2M109.5 1v1M109.5 81v1M109.5 84v1M110.5 0v1M110.5 58v1M110.5 71v1M110.5 80v2M111.5 59v1M111.5 83v1M112.5 60v4M112.5 84v1M113.5 0v1M113.5 83v1M114.5 2v1M114.5 23v1M114.5 83v1M115.5 5v1M115.5 24v1M115.5 29v1M115.5 88v1M117.5 6v1M117.5 88v1M118.5 86v1M119.5 7v1M119.5 62v4M119.5 73v1M120.5 7v1M120.5 74v1M120.5 86v1M121.5 6v1M121.5 76v1M121.5 84v1M122.5 1v1M122.5 38v1M122.5 44v1M122.5 59v1M123.5 29v1M123.5 46v2M123.5 58v1M124.5 0v1M124.5 19v4M125.5 0v1M125.5 9v1M125.5 61v2M126.5 0v1M126.5 9v1M126.5 59v1M126.5 65v1M126.5 80v4M127.5 0v1M127.5 26v1M127.5 36v2M127.5 59v1M127.5 65v1M127.5 76v1M127.5 85v1M128.5 74v1M128.5 85v1M129.5 75v1M129.5 84v1M130.5 0v1M130.5 78v4M131.5 25v1M131.5 86v1M132.5 10v1M132.5 30v1M132.5 37v1M132.5 88v1M133.5 14v2M133.5 20v1M133.5 64v1M133.5 72v1M133.5 88v1M134.5 12v1M134.5 22v1M134.5 28v1M134.5 39v1M134.5 57v1M134.5 72v1M135.5 10v1M135.5 25v1M135.5 30v1M135.5 46v1M135.5 74v2M135.5 85v1M136.5 27v1M136.5 31v1M136.5 75v1M137.5 28v1M137.5 30v1M137.5 76v1M138.5 2v1M138.5 29v1M138.5 81v2M139.5 4v2M139.5 27v2M139.5 48v2M140.5 4v1M140.5 25v1M140.5 41v1M140.5 43v1M140.5 86v1M141.5 3v1M141.5 86v1M142.5 41v1M142.5 59v3M142.5 86v1M143.5 26v1M143.5 28v1M143.5 43v1M143.5 62v1M143.5 86v1M144.5 27v2M144.5 63v1M145.5 27v3M145.5 63v1M145.5 86v1M146.5 86v1M147.5 2v1M147.5 61v1M147.5 86v1M148.5 57v1M148.5 86v1M149.5 49v1M149.5 86v1M150.5 86v1M151.5 87v2M152.5 1v1M152.5 13v1M152.5 19v1M153.5 13v1M154.5 13v1M155.5 3v1M156.5 27v2M156.5 36v2M156.5 41v6M157.5 60v3M157.5 82v3M158.5 67v8"/>
<path stroke="#595959" d="M1.5 6v1M1.5 17v2M1.5 51v1M1.5 72v1M1.5 77v2M2.5 68v1M3.5 67v1M4.5 67v1M4.5 81v1M5.5 68v1M6.5 1v1M6.5 52v1M7.5 51v1M7.5 72v1M7.5 79v1M8.5 40v1M8.5 43v1M8.5 51v1M8.5 56v2M8.5 64v1M8.5 85v1M9.5 0v1M9.5 38v1M9.5 45v1M9.5 52v3M10.5 45v1M11.5 40v1M11.5 44v1M16.5 17v2M17.5 15v1M17.5 20v1M18.5 86v1M20.5 0v1M20.5 85v1M21.5 0v1M21.5 15v1M21.5 20v1M22.5 0v1M22.5 16v1M22.5 84v1M23.5 0v1M23.5 16v1M23.5 83v1M24.5 0v1M24.5 14v1M24.5 76v1M24.5 80v1M25.5 0v1M25.5 13v1M25.5 28v1M25.5 42v1M26.5 0v1M27.5 11v1M27.5 31v1M27.5 42v1M28.5 11v1M28.5 26v1M28.5 42v1M29.5 42v1M30.5 42v1M30.5 52v2M30.5 72v1M31.5 40v2M31.5 48v2M31.5 74v1M32.5 36v3M32.5 54v2M32.5 70v3M33.5 57v1M33.5 61v2M33.5 84v1M34.5 25v1M34.5 53v1M35.5 2v1M35.5 8v3M35.5 13v6M35.5 41v2M35.5 87v1M36.5 3v1M36.5 9v2M36.5 14v5M37.5 3v1M37.5 21v2M37.5 27v1M37.5 87v1M38.5 2v1M38.5 24v2M38.5 86v1M39.5 2v1M39.5 67v6M40.5 2v1M40.5 75v1M40.5 84v1M41.5 2v1M41.5 42v1M41.5 45v1M42.5 2v1M42.5 23v1M42.5 47v1M43.5 2v1M44.5 2v1M44.5 24v1M44.5 28v1M44.5 38v1M46.5 3v1M46.5 23v2M46.5 40v1M46.5 50v3M47.5 4v1M47.5 9v4M47.5 18v2M47.5 26v1M47.5 43v1M47.5 86v1M48.5 5v9M48.5 30v1M48.5 61v1M48.5 67v1M48.5 86v1M49.5 6v6M49.5 68v1M50.5 61v1M50.5 80v1M50.5 83v1M53.5 39v2M54.5 6v2M55.5 5v1M55.5 7v3M55.5 46v1M55.5 60v1M56.5 4v1M56.5 9v1M57.5 3v1M57.5 9v2M57.5 40v1M57.5 72v6M58.5 3v1M58.5 10v1M58.5 39v1M58.5 74v5M59.5 10v1M59.5 39v1M59.5 80v3M60.5 10v2M61.5 10v2M61.5 41v1M61.5 61v1M61.5 69v1M62.5 10v2M62.5 43v1M62.5 73v1M63.5 3v1M63.5 10v1M63.5 44v1M63.5 79v1M63.5 84v1M64.5 3v1M64.5 9v2M64.5 58v1M65.5 4v1M65.5 8v2M65.5 57v1M66.5 5v4M66.5 59v1M67.5 61v1M67.5 67v2M67.5 81v1M68.5 46v1M68.5 73v1M68.5 75v1M69.5 52v2M69.5 84v1M70.5 52v1M71.5 41v2M72.5 39v1M72.5 43v2M72.5 85v1M73.5 38v1M73.5 44v1M73.5 83v1M74.5 38v1M74.5 44v3M74.5 69v1M75.5 40v4M75.5 63v1M76.5 9v3M76.5 21v1M76.5 62v1M77.5 6v3M77.5 62v1M78.5 3v1M78.5 60v1M79.5 2v1M80.5 1v1M81.5 1v1M81.5 25v1M82.5 2v1M82.5 23v1M82.5 59v1M83.5 3v2M83.5 11v5M83.5 24v2M83.5 34v1M84.5 24v1M84.5 41v3M84.5 61v1M85.5 11v2M85.5 19v1M85.5 41v2M86.5 10v2M86.5 19v1M86.5 31v7M86.5 43v1M87.5 4v4M87.5 12v2M87.5 16v2M87.5 61v1M88.5 2v1M88.5 9v1M88.5 60v1M89.5 10v1M89.5 46v1M89.5 59v1M89.5 62v3M89.5 69v2M90.5 1v1M90.5 38v1M90.5 44v1M90.5 61v1M90.5 85v1M91.5 66v7M91.5 88v1M92.5 1v1M92.5 88v1M93.5 1v1M93.5 11v2M93.5 43v1M93.5 62v1M93.5 75v1M93.5 86v1M94.5 2v1M94.5 17v1M94.5 41v1M94.5 63v3M94.5 70v2M95.5 4v2M95.5 39v1M95.5 73v1M95.5 79v1M95.5 84v1M96.5 8v1M96.5 21v1M96.5 86v1M97.5 9v1M97.5 43v1M97.5 63v1M97.5 73v1M97.5 76v1M98.5 11v2M98.5 18v2M98.5 67v1M98.5 86v1M99.5 84v1M100.5 47v1M100.5 56v1M101.5 50v4M101.5 85v1M104.5 50v5M104.5 73v1M105.5 8v2M105.5 32v1M105.5 47v1M105.5 56v1M106.5 5v1M106.5 35v1M106.5 45v1M107.5 2v2M107.5 43v1M107.5 58v1M107.5 79v1M108.5 3v1M108.5 39v4M108.5 80v1M109.5 58v1M109.5 82v2M110.5 24v1M110.5 72v1M110.5 79v1M111.5 0v1M111.5 58v1M111.5 66v1M112.5 0v1M112.5 59v1M112.5 64v1M113.5 1v1M114.5 3v2M114.5 28v1M114.5 81v2M115.5 6v1M115.5 30v1M115.5 39v4M115.5 87v1M116.5 6v1M116.5 28v2M117.5 51v7M117.5 87v1M118.5 7v1M119.5 60v2M119.5 74v1M119.5 86v1M120.5 60v1M121.5 39v5M121.5 77v1M121.5 83v1M122.5 2v3M122.5 37v1M122.5 45v1M123.5 28v1M123.5 48v1M123.5 57v1M124.5 9v10M125.5 8v1M126.5 8v1M126.5 64v1M127.5 9v2M127.5 25v1M127.5 60v1M127.5 64v1M127.5 84v1M128.5 42v1M128.5 75v1M129.5 76v1M129.5 83v1M130.5 43v1M131.5 0v1M131.5 24v1M131.5 31v1M131.5 41v1M131.5 76v1M131.5 85v1M132.5 9v1M132.5 11v2M132.5 21v1M132.5 31v1M132.5 36v1M132.5 87v1M133.5 9v1M133.5 16v4M133.5 29v1M133.5 38v1M134.5 9v1M134.5 13v1M134.5 64v1M134.5 73v1M134.5 87v1M135.5 9v1M135.5 11v1M135.5 24v1M135.5 31v2M135.5 43v1M135.5 45v1M135.5 52v2M135.5 56v2M135.5 64v5M135.5 72v2M135.5 76v1M135.5 84v1M136.5 0v1M136.5 9v1M136.5 48v2M137.5 8v2M137.5 27v1M138.5 7v2M138.5 28v1M138.5 30v1M138.5 76v5M139.5 6v3M139.5 29v1M139.5 50v1M139.5 84v1M140.5 5v1M140.5 29v1M140.5 53v1M140.5 85v1M141.5 24v1M141.5 29v1M141.5 39v1M141.5 56v1M142.5 3v1M142.5 62v2M143.5 3v1M143.5 63v1M144.5 3v1M144.5 26v1M144.5 29v1M144.5 44v1M145.5 3v1M145.5 25v2M145.5 30v2M145.5 45v1M146.5 3v1M146.5 47v1M146.5 63v1M147.5 48v1M148.5 58v1M149.5 1v1M149.5 55v1M150.5 1v1M150.5 50v2M151.5 1v1M152.5 12v1M152.5 20v1M153.5 2v1M154.5 24v1M155.5 25v1M156.5 5v1M156.5 11v1M156.5 29v1M156.5 35v1M156.5 47v8M157.5 63v2M157.5 80v2"/>
<path stroke="#606060" d="M1.5 2v1M1.5 19v2M1.5 25v16M1.5 50v1M1.5 73v4M2.5 1v1M2.5 7v2M2.5 53v1M3.5 54v1M4.5 54v1M5.5 53v1M6.5 70v1M7.5 2v1M7.5 73v6M8.5 2v1M8.5 39v1M8.5 44v1M8.5 50v1M8.5 58v1M8.5 70v1M8.5 84v1M9.5 46v1M9.5 50v2M9.5 55v1M9.5 66v2M9.5 88v1M10.5 38v1M10.5 46v2M10.5 50v4M11.5 45v1M14.5 88v1M15.5 86v1M16.5 16v1M16.5 19v1M16.5 86v1M17.5 86v1M19.5 0v1M19.5 13v1M19.5 48v2M20.5 1v1M20.5 13v1M20.5 21v1M21.5 1v1M21.5 14v1M21.5 84v1M22.5 1v1M22.5 15v1M22.5 20v1M23.5 1v1M23.5 15v1M23.5 21v1M23.5 48v3M24.5 1v1M24.5 23v1M24.5 44v1M24.5 77v1M24.5 79v1M25.5 1v1M25.5 12v1M25.5 29v1M25.5 41v1M26.5 11v1M26.5 32v1M26.5 40v2M27.5 10v1M27.5 32v1M27.5 41v1M28.5 10v1M28.5 27v2M28.5 41v1M29.5 12v9M29.5 41v1M30.5 40v2M30.5 54v2M30.5 70v2M31.5 39v1M31.5 50v2M31.5 73v1M32.5 34v2M32.5 56v4M32.5 65v5M33.5 28v1M33.5 58v3M33.5 79v1M33.5 83v1M34.5 1v1M34.5 8v4M34.5 22v3M34.5 54v1M34.5 86v1M35.5 3v2M35.5 6v2M35.5 43v2M36.5 4v5M36.5 35v1M36.5 87v1M37.5 4v1M37.5 9v4M37.5 20v1M38.5 3v1M38.5 23v1M38.5 26v1M39.5 3v1M39.5 24v3M39.5 73v3M39.5 84v1M40.5 3v1M40.5 24v1M40.5 29v1M40.5 83v1M41.5 23v1M41.5 36v1M41.5 41v1M41.5 46v1M41.5 61v1M41.5 75v1M41.5 84v1M42.5 3v1M42.5 58v1M42.5 85v1M43.5 3v1M43.5 23v1M43.5 49v1M43.5 55v1M44.5 3v1M44.5 29v1M45.5 3v2M45.5 24v1M45.5 85v1M46.5 4v2M46.5 7v5M46.5 22v1M46.5 25v1M46.5 74v1M47.5 5v4M47.5 13v5M47.5 41v2M47.5 44v1M47.5 56v1M47.5 70v1M48.5 31v1M48.5 68v1M49.5 33v1M49.5 62v1M49.5 69v2M49.5 76v2M49.5 85v1M50.5 33v1M50.5 81v2M51.5 34v1M52.5 36v1M52.5 42v1M52.5 56v1M53.5 57v1M54.5 47v1M55.5 6v1M56.5 5v4M56.5 45v1M56.5 61v1M57.5 4v1M57.5 8v1M57.5 41v3M57.5 70v2M58.5 9v1M58.5 40v1M58.5 72v2M59.5 3v1M59.5 9v1M59.5 40v1M59.5 77v3M60.5 3v1M60.5 9v1M60.5 40v1M61.5 3v1M61.5 9v1M61.5 42v1M61.5 70v1M62.5 3v1M62.5 9v1M62.5 86v1M63.5 9v1M63.5 80v1M63.5 83v1M64.5 4v1M64.5 8v1M64.5 46v1M65.5 5v3M65.5 48v1M65.5 56v1M66.5 46v1M66.5 58v1M67.5 45v1M67.5 60v1M68.5 62v1M68.5 72v1M68.5 76v1M68.5 83v1M69.5 54v1M70.5 84v1M71.5 52v1M72.5 40v3M72.5 52v1M73.5 39v5M73.5 52v1M73.5 72v1M74.5 39v5M74.5 47v1M74.5 68v1M75.5 44v1M75.5 62v1M76.5 12v1M76.5 19v2M76.5 44v1M77.5 9v2M77.5 24v1M78.5 4v2M78.5 25v1M78.5 48v1M79.5 3v1M80.5 2v1M80.5 25v1M81.5 2v1M82.5 3v1M82.5 22v1M82.5 48v1M82.5 58v1M83.5 5v6M83.5 26v2M83.5 31v3M83.5 60v1M84.5 25v1M84.5 39v2M84.5 44v1M85.5 13v1M85.5 18v1M85.5 27v1M85.5 40v1M85.5 43v1M85.5 61v1M86.5 12v1M86.5 18v1M86.5 61v1M87.5 14v2M87.5 44v1M88.5 3v1M88.5 8v1M88.5 45v1M89.5 2v1M89.5 9v1M89.5 47v1M89.5 58v1M89.5 65v4M90.5 10v1M90.5 39v1M90.5 43v1M90.5 62v1M90.5 75v2M90.5 84v1M91.5 1v1M91.5 10v1M91.5 38v1M91.5 45v1M91.5 73v1M92.5 10v1M92.5 40v2M92.5 60v1M92.5 73v1M93.5 2v1M93.5 10v1M94.5 3v1M94.5 10v2M94.5 42v1M94.5 62v1M94.5 66v4M95.5 6v4M95.5 19v1M95.5 40v1M95.5 72v1M95.5 80v4M96.5 9v1M96.5 39v2M96.5 61v3M96.5 73v1M96.5 77v1M97.5 10v1M97.5 21v1M97.5 44v1M97.5 59v1M97.5 64v1M97.5 72v1M97.5 86v1M98.5 13v5M98.5 45v1M98.5 58v1M98.5 68v9M98.5 85v1M99.5 69v1M99.5 83v1M100.5 83v1M102.5 68v1M103.5 86v1M104.5 74v1M105.5 10v3M106.5 6v1M106.5 57v1M106.5 78v1M107.5 4v1M107.5 36v1M107.5 44v1M107.5 86v1M108.5 4v1M108.5 36v3M108.5 43v1M108.5 58v1M108.5 85v1M109.5 2v1M110.5 1v1M110.5 22v2M110.5 25v2M110.5 57v1M110.5 73v2M110.5 77v2M111.5 1v1M111.5 82v1M112.5 1v1M112.5 83v1M113.5 2v1M113.5 24v2M113.5 60v2M113.5 82v1M114.5 5v1M114.5 22v1M114.5 40v2M114.5 80v1M115.5 7v1M115.5 23v1M115.5 37v2M115.5 43v1M115.5 86v1M116.5 26v2M116.5 30v2M116.5 52v6M116.5 88v1M117.5 48v3M117.5 58v1M118.5 55v6M118.5 71v4M118.5 85v1M119.5 8v1M119.5 59v1M120.5 8v1M120.5 59v1M120.5 75v1M120.5 85v1M121.5 37v2M121.5 44v1M121.5 59v1M121.5 78v2M121.5 81v2M122.5 5v1M122.5 36v1M122.5 46v1M122.5 58v1M123.5 1v1M123.5 49v2M123.5 55v2M124.5 8v1M126.5 60v4M127.5 8v1M127.5 11v1M127.5 23v2M127.5 61v3M127.5 77v1M128.5 1v1M128.5 29v2M128.5 84v1M129.5 1v1M129.5 43v1M129.5 77v1M129.5 82v1M131.5 32v1M131.5 40v1M131.5 84v1M132.5 13v1M132.5 20v1M132.5 32v4M132.5 74v1M133.5 37v1M133.5 58v1M133.5 63v1M133.5 73v1M133.5 87v1M134.5 14v1M134.5 21v1M134.5 29v1M134.5 38v1M134.5 58v1M134.5 86v1M135.5 33v1M135.5 42v1M135.5 44v1M135.5 54v2M135.5 58v2M135.5 62v2M135.5 69v3M135.5 77v2M135.5 82v2M136.5 10v1M136.5 26v1M136.5 32v1M136.5 74v1M137.5 1v1M137.5 31v1M137.5 75v1M138.5 3v1M138.5 6v1M138.5 9v1M138.5 27v1M138.5 75v1M139.5 9v1M139.5 26v1M139.5 83v1M140.5 6v1M140.5 40v1M140.5 44v1M140.5 46v1M141.5 4v1M141.5 38v1M141.5 57v1M142.5 29v1M142.5 64v2M143.5 25v1M143.5 29v1M143.5 85v1M144.5 25v1M144.5 30v1M145.5 32v1M146.5 32v1M146.5 46v1M147.5 62v1M149.5 56v1M150.5 49v1M150.5 52v1M151.5 86v1M153.5 23v1M154.5 3v1M155.5 4v1M155.5 12v1M156.5 30v5M156.5 55v2M156.5 88v1M157.5 65v2M157.5 78v2"/>
<path stroke="#666666" d="M1.5 3v3M1.5 21v4M1.5 41v2M1.5 49v1M2.5 9v3M2.5 69v1M2.5 80v1M3.5 1v1M4.5 1v1M5.5 1v1M6.5 80v1M7.5 50v1M8.5 38v1M8.5 45v1M8.5 49v1M8.5 59v1M8.5 63v1M8.5 71v2M8.5 83v1M9.5 1v1M9.5 37v1M9.5 47v3M9.5 56v1M9.5 87v1M10.5 48v2M10.5 54v1M11.5 46v3M11.5 50v4M12.5 42v3M14.5 87v1M17.5 14v1M17.5 54v2M18.5 0v1M18.5 13v1M18.5 48v3M18.5 52v4M19.5 1v1M19.5 47v1M19.5 50v2M19.5 85v1M21.5 2v1M21.5 13v1M22.5 2v1M22.5 14v1M23.5 2v1M23.5 14v1M23.5 47v1M23.5 51v1M24.5 2v1M24.5 13v1M24.5 78v1M25.5 2v1M25.5 11v1M25.5 30v1M25.5 40v1M26.5 1v1M26.5 9v2M26.5 33v2M26.5 38v2M27.5 0v1M27.5 9v1M27.5 33v2M27.5 39v2M28.5 9v1M28.5 29v3M28.5 39v2M29.5 10v2M29.5 21v2M29.5 39v2M30.5 39v1M30.5 56v3M30.5 68v2M31.5 38v1M31.5 52v2M31.5 72v1M32.5 33v1M32.5 60v5M33.5 0v1M33.5 27v1M33.5 80v3M34.5 7v1M34.5 12v2M34.5 20v2M34.5 55v1M35.5 5v1M35.5 45v1M37.5 5v4M37.5 13v1M37.5 19v1M37.5 28v1M38.5 4v7M38.5 22v1M39.5 4v2M39.5 23v1M39.5 66v1M39.5 76v2M39.5 83v1M40.5 4v1M40.5 23v1M40.5 30v1M40.5 63v1M40.5 76v1M41.5 3v2M41.5 37v2M41.5 40v1M42.5 4v1M42.5 22v1M43.5 4v1M43.5 22v1M43.5 85v1M44.5 4v2M44.5 9v1M44.5 23v1M44.5 37v1M44.5 85v1M45.5 5v6M45.5 23v1M45.5 25v1M45.5 39v1M46.5 6v1M46.5 12v1M46.5 21v1M46.5 85v1M47.5 40v1M47.5 45v1M47.5 71v2M48.5 32v2M48.5 60v1M48.5 69v1M49.5 34v1M49.5 71v5M50.5 34v1M51.5 35v1M51.5 58v1M52.5 37v1M52.5 48v1M53.5 48v1M57.5 5v3M57.5 44v1M57.5 67v3M58.5 4v2M58.5 7v2M58.5 41v3M58.5 71v1M59.5 4v1M59.5 8v1M59.5 41v3M59.5 73v4M60.5 4v1M60.5 8v1M60.5 41v3M60.5 62v7M60.5 85v1M61.5 4v1M61.5 8v1M61.5 43v1M61.5 71v1M62.5 4v1M62.5 8v1M62.5 44v1M62.5 74v1M63.5 4v2M63.5 7v2M63.5 45v1M63.5 81v2M64.5 5v3M65.5 49v2M65.5 54v2M66.5 47v1M68.5 47v1M68.5 60v2M68.5 63v2M68.5 71v1M69.5 55v1M69.5 74v1M70.5 53v1M71.5 84v1M72.5 84v1M73.5 53v1M73.5 71v1M73.5 73v1M73.5 82v1M74.5 48v1M74.5 66v2M75.5 45v1M75.5 61v1M76.5 13v1M76.5 17v2M76.5 61v1M77.5 11v1M77.5 23v1M77.5 46v1M77.5 61v1M78.5 6v4M78.5 59v1M79.5 4v1M79.5 25v1M80.5 3v1M81.5 3v1M81.5 24v1M82.5 4v1M82.5 9v3M82.5 21v1M82.5 57v1M83.5 28v3M83.5 46v1M84.5 26v1M84.5 38v1M85.5 14v4M85.5 28v1M85.5 38v2M85.5 44v1M86.5 13v2M86.5 16v2M86.5 44v1M87.5 60v1M88.5 4v4M88.5 59v1M89.5 3v1M89.5 48v1M89.5 57v1M90.5 2v1M90.5 9v1M90.5 40v3M90.5 63v1M90.5 73v2M90.5 77v1M90.5 83v1M91.5 39v1M91.5 44v1M91.5 87v1M92.5 2v1M92.5 42v4M92.5 59v1M93.5 9v1M93.5 44v1M93.5 61v1M93.5 76v1M93.5 85v1M94.5 4v1M94.5 8v2M94.5 12v5M94.5 43v1M95.5 10v1M95.5 18v1M95.5 41v2M95.5 62v4M95.5 71v1M96.5 10v1M96.5 20v1M96.5 41v3M96.5 60v1M96.5 64v1M96.5 72v1M96.5 85v1M97.5 11v1M97.5 20v1M97.5 65v2M97.5 71v1M97.5 77v1M98.5 77v1M99.5 46v1M99.5 57v1M99.5 82v1M100.5 68v1M101.5 84v1M103.5 70v1M105.5 13v6M105.5 31v1M105.5 48v1M105.5 55v1M105.5 76v1M106.5 7v1M106.5 34v1M106.5 46v1M107.5 5v1M107.5 35v1M108.5 5v2M108.5 35v1M108.5 44v1M109.5 3v1M109.5 10v16M109.5 57v1M110.5 2v1M110.5 17v5M110.5 75v2M111.5 57v1M111.5 67v1M111.5 81v1M112.5 58v1M112.5 65v1M113.5 3v1M113.5 23v1M113.5 26v1M113.5 59v1M113.5 62v2M114.5 6v6M114.5 29v1M114.5 39v1M114.5 42v2M114.5 79v1M115.5 8v2M115.5 31v1M115.5 36v1M115.5 44v2M116.5 7v1M116.5 32v3M116.5 43v9M116.5 58v1M117.5 7v1M117.5 29v2M117.5 47v1M117.5 59v1M117.5 86v1M118.5 8v1M118.5 29v1M118.5 50v5M118.5 61v1M118.5 70v1M118.5 75v1M118.5 84v1M119.5 9v2M119.5 27v4M119.5 58v1M119.5 75v1M119.5 85v1M120.5 9v2M120.5 84v1M121.5 7v1M121.5 36v1M121.5 45v1M121.5 80v1M122.5 6v1M122.5 35v1M122.5 47v1M123.5 27v1M123.5 51v4M127.5 12v2M127.5 22v1M127.5 78v2M127.5 82v2M128.5 28v1M128.5 31v1M128.5 41v1M128.5 76v1M128.5 83v1M129.5 78v4M130.5 1v1M130.5 27v3M131.5 9v2M131.5 23v1M131.5 77v1M131.5 83v1M132.5 0v1M132.5 14v3M132.5 19v1M132.5 86v1M133.5 30v1M133.5 36v1M134.5 15v1M134.5 20v1M134.5 30v1M134.5 36v2M134.5 63v1M134.5 74v1M135.5 0v1M135.5 12v1M135.5 34v1M135.5 41v1M135.5 60v2M135.5 79v3M136.5 8v1M136.5 47v1M136.5 50v1M136.5 73v1M137.5 7v1M137.5 10v1M137.5 48v2M138.5 4v2M138.5 31v1M138.5 48v2M139.5 30v1M140.5 7v4M140.5 45v1M140.5 54v1M141.5 5v1M141.5 10v1M141.5 37v1M141.5 67v6M141.5 85v1M142.5 4v1M142.5 24v1M142.5 40v1M142.5 66v2M142.5 85v1M143.5 42v1M143.5 64v1M144.5 31v2M144.5 64v1M144.5 85v1M145.5 4v1M145.5 24v1M145.5 33v1M145.5 44v1M145.5 64v1M146.5 4v1M146.5 31v1M146.5 33v1M146.5 45v1M147.5 3v1M148.5 2v1M148.5 40v3M148.5 48v1M148.5 59v1M149.5 38v2M149.5 48v1M150.5 53v1M151.5 10v2M152.5 11v1M152.5 21v1M153.5 12v1M154.5 12v1M155.5 26v1M156.5 6v1M156.5 10v1M156.5 57v2M156.5 87v1M157.5 67v2M157.5 76v2"/>
<path stroke="#6c6c6c" d="M1.5 43v1M1.5 48v1M2.5 2v1M2.5 6v1M2.5 12v2M2.5 52v1M3.5 53v1M3.5 68v1M4.5 53v1M4.5 68v1M5.5 69v1M6.5 2v1M6.5 51v1M8.5 37v1M8.5 46v3M8.5 60v3M8.5 73v2M8.5 82v1M9.5 57v1M9.5 65v1M9.5 68v1M10.5 55v1M11.5 49v1M11.5 54v1M12.5 41v1M12.5 45v2M12.5 52v2M16.5 0v1M16.5 15v1M16.5 20v1M16.5 54v2M17.5 0v1M17.5 21v1M17.5 51v3M18.5 1v1M18.5 22v1M18.5 47v1M18.5 51v1M19.5 12v1M19.5 22v1M19.5 52v2M20.5 2v1M20.5 12v1M20.5 84v1M21.5 3v1M21.5 12v1M22.5 3v2M22.5 13v1M22.5 83v1M23.5 3v2M23.5 12v2M23.5 52v1M23.5 71v3M23.5 82v1M24.5 3v2M24.5 11v2M25.5 3v2M25.5 9v2M25.5 31v1M25.5 39v1M26.5 2v1M26.5 7v2M26.5 35v3M27.5 8v1M27.5 35v4M28.5 8v1M28.5 32v7M29.5 9v1M29.5 23v2M29.5 36v3M30.5 37v2M30.5 59v9M31.5 37v1M31.5 54v3M31.5 70v2M32.5 32v1M33.5 8v3M33.5 26v1M34.5 6v1M34.5 14v6M34.5 75v2M34.5 85v1M35.5 46v2M36.5 36v1M37.5 14v5M37.5 86v1M38.5 11v1M38.5 21v1M38.5 27v1M38.5 85v1M39.5 6v5M39.5 27v1M39.5 78v1M39.5 82v1M40.5 5v5M40.5 77v1M40.5 82v1M41.5 5v6M41.5 22v1M41.5 39v1M41.5 47v1M41.5 60v1M42.5 5v7M42.5 48v1M42.5 57v1M42.5 75v1M42.5 84v1M43.5 5v7M43.5 50v1M43.5 54v1M43.5 75v1M44.5 6v3M44.5 10v2M44.5 22v1M44.5 30v1M44.5 36v1M44.5 75v1M45.5 11v1M45.5 22v1M45.5 26v1M45.5 75v1M46.5 13v2M46.5 19v2M46.5 39v1M46.5 75v1M47.5 27v1M47.5 39v1M47.5 46v1M47.5 73v3M48.5 34v2M48.5 70v3M48.5 74v3M48.5 85v1M49.5 78v1M49.5 84v1M51.5 44v2M52.5 38v1M52.5 40v2M52.5 55v1M57.5 61v6M58.5 6v1M58.5 44v1M58.5 69v2M59.5 5v3M59.5 44v1M59.5 62v1M59.5 69v4M60.5 5v3M60.5 44v1M60.5 61v1M60.5 69v2M61.5 5v3M61.5 44v1M61.5 60v1M61.5 86v1M62.5 5v3M62.5 75v2M63.5 6v1M64.5 47v1M64.5 57v1M65.5 51v3M66.5 48v1M66.5 57v1M67.5 46v1M67.5 59v1M68.5 48v1M68.5 58v2M68.5 65v2M68.5 69v2M68.5 77v1M68.5 82v1M69.5 56v1M69.5 72v2M69.5 75v1M69.5 83v1M70.5 83v1M73.5 69v2M73.5 74v1M74.5 49v2M74.5 65v1M75.5 60v1M76.5 14v3M76.5 45v1M77.5 12v1M77.5 22v1M78.5 10v1M78.5 24v1M78.5 49v1M78.5 58v1M79.5 5v5M80.5 4v2M81.5 4v2M81.5 9v1M82.5 5v4M82.5 12v2M82.5 20v1M82.5 49v1M82.5 56v1M83.5 59v1M84.5 27v1M84.5 36v2M84.5 45v1M84.5 60v1M85.5 29v2M85.5 36v2M86.5 15v1M87.5 45v1M88.5 46v1M89.5 4v1M89.5 7v2M89.5 49v1M89.5 56v1M90.5 64v3M90.5 69v4M90.5 78v2M90.5 82v1M91.5 2v1M91.5 9v1M91.5 40v4M91.5 74v1M92.5 9v1M92.5 46v1M92.5 74v1M92.5 87v1M93.5 3v1M93.5 8v1M93.5 84v1M94.5 5v3M94.5 44v1M94.5 61v1M95.5 11v2M95.5 17v1M95.5 43v1M95.5 61v1M95.5 66v5M96.5 11v1M96.5 19v1M96.5 44v1M96.5 65v2M96.5 70v2M96.5 78v1M96.5 84v1M97.5 12v2M97.5 18v2M97.5 45v1M97.5 58v1M97.5 67v4M97.5 85v1M98.5 78v1M98.5 84v1M99.5 70v1M99.5 81v1M100.5 48v1M100.5 55v1M100.5 82v1M101.5 68v1M102.5 85v1M104.5 86v1M105.5 19v4M105.5 49v1M105.5 54v1M106.5 8v1M106.5 56v1M106.5 86v1M107.5 6v1M107.5 45v1M107.5 57v1M108.5 7v4M108.5 34v1M108.5 57v1M109.5 4v2M109.5 8v2M109.5 26v3M109.5 41v5M110.5 10v7M110.5 27v1M110.5 44v3M110.5 56v1M111.5 2v1M111.5 23v3M111.5 56v1M112.5 2v1M112.5 24v2M112.5 82v1M113.5 4v1M113.5 8v4M113.5 22v1M113.5 58v1M113.5 64v1M113.5 81v1M114.5 12v1M114.5 21v1M114.5 38v1M114.5 58v3M114.5 77v2M115.5 10v1M115.5 22v1M115.5 32v1M115.5 34v2M115.5 46v1M115.5 56v4M115.5 85v1M116.5 8v2M116.5 25v1M116.5 35v8M116.5 59v1M116.5 87v1M117.5 8v2M117.5 28v1M117.5 31v2M117.5 46v1M117.5 60v1M117.5 85v1M118.5 9v2M118.5 27v2M118.5 30v2M118.5 47v3M118.5 62v2M118.5 68v2M118.5 76v1M118.5 83v1M119.5 11v1M119.5 25v2M119.5 31v2M119.5 56v2M119.5 84v1M120.5 11v1M120.5 42v5M120.5 58v1M120.5 76v1M121.5 8v2M121.5 35v1M121.5 46v2M121.5 58v1M122.5 7v1M122.5 34v1M122.5 48v1M122.5 56v2M123.5 7v4M123.5 26v1M124.5 1v1M127.5 1v1M127.5 14v8M127.5 80v2M128.5 8v3M128.5 27v1M128.5 32v1M128.5 40v1M128.5 77v2M128.5 81v2M129.5 28v2M130.5 26v1M130.5 30v1M130.5 42v1M131.5 11v1M131.5 33v1M131.5 39v1M131.5 78v1M131.5 82v1M132.5 17v2M133.5 0v1M133.5 31v1M133.5 34v2M133.5 59v2M133.5 62v1M134.5 0v1M134.5 16v1M134.5 19v1M134.5 31v5M134.5 59v1M134.5 62v1M134.5 85v1M135.5 23v1M135.5 35v1M136.5 11v1M136.5 25v1M136.5 72v1M137.5 26v1M137.5 32v1M137.5 74v1M138.5 10v1M138.5 74v1M139.5 10v1M139.5 31v1M139.5 47v1M139.5 51v1M139.5 74v3M139.5 82v1M140.5 30v1M140.5 38v2M140.5 72v2M140.5 84v1M141.5 6v1M141.5 8v2M141.5 11v1M141.5 30v1M141.5 36v1M141.5 58v1M141.5 65v2M141.5 73v1M142.5 5v1M142.5 10v2M142.5 30v1M142.5 39v1M142.5 68v4M143.5 4v1M143.5 11v1M143.5 30v1M143.5 65v1M144.5 4v1M144.5 11v1M144.5 33v1M145.5 23v1M145.5 85v1M146.5 5v1M146.5 28v3M146.5 34v1M146.5 44v1M146.5 64v1M146.5 85v1M147.5 47v1M148.5 36v4M148.5 43v1M148.5 60v1M149.5 37v1M149.5 40v1M149.5 57v1M150.5 48v1M150.5 54v1M150.5 85v1M151.5 9v1M151.5 12v2M151.5 85v1M152.5 2v1M155.5 38v2M156.5 7v1M156.5 9v1M156.5 59v1M156.5 86v1M157.5 69v7"/>
<path stroke="#737373" d="M1.5 44v4M2.5 5v1M2.5 14v1M2.5 30v6M2.5 70v1M5.5 2v1M5.5 52v1M6.5 71v1M6.5 79v1M7.5 3v1M7.5 36v7M7.5 49v1M8.5 3v1M8.5 33v4M8.5 75v2M8.5 80v2M9.5 2v1M9.5 24v4M9.5 36v1M9.5 86v1M10.5 56v1M11.5 39v1M11.5 55v1M12.5 47v5M12.5 54v2M13.5 54v1M13.5 66v1M14.5 55v2M15.5 54v3M16.5 14v1M16.5 52v2M16.5 77v2M17.5 13v1M17.5 48v3M18.5 12v1M19.5 2v1M19.5 11v1M19.5 46v1M19.5 54v1M20.5 3v2M20.5 11v1M21.5 4v3M21.5 10v2M21.5 21v1M22.5 5v8M22.5 21v1M23.5 5v7M23.5 53v1M23.5 69v2M23.5 74v1M24.5 5v6M24.5 24v1M24.5 43v1M25.5 5v4M25.5 32v1M25.5 37v2M26.5 3v1M26.5 5v2M27.5 7v1M29.5 25v1M29.5 34v2M30.5 9v8M30.5 36v1M31.5 36v1M31.5 57v13M32.5 9v1M32.5 31v1M33.5 11v2M33.5 23v3M34.5 2v1M34.5 5v1M34.5 56v1M34.5 74v1M34.5 77v1M35.5 48v3M35.5 86v1M37.5 29v1M38.5 12v1M38.5 20v1M39.5 11v1M39.5 22v1M39.5 65v1M39.5 79v3M40.5 10v1M40.5 22v1M40.5 31v1M40.5 78v1M40.5 81v1M41.5 11v1M41.5 76v1M41.5 83v1M42.5 12v1M42.5 21v1M42.5 49v1M42.5 56v1M43.5 12v1M43.5 21v1M43.5 51v3M43.5 84v1M44.5 12v1M44.5 21v1M44.5 31v1M44.5 84v1M45.5 12v2M45.5 21v1M45.5 84v1M46.5 15v4M46.5 26v1M47.5 38v1M47.5 76v1M47.5 85v1M48.5 36v5M48.5 59v1M48.5 73v1M48.5 77v1M49.5 35v2M49.5 61v1M50.5 35v1M50.5 60v1M51.5 36v1M51.5 43v1M52.5 39v1M53.5 56v1M54.5 58v1M56.5 46v1M56.5 60v1M57.5 45v1M58.5 45v1M58.5 61v8M59.5 61v1M59.5 63v6M60.5 71v2M61.5 72v2M62.5 59v1M62.5 77v1M66.5 49v1M66.5 56v1M67.5 58v1M68.5 49v1M68.5 56v2M68.5 67v2M68.5 78v4M69.5 57v1M69.5 71v1M69.5 76v1M69.5 82v1M70.5 54v1M70.5 72v3M71.5 53v1M71.5 83v1M72.5 53v1M72.5 71v2M73.5 54v1M73.5 68v1M73.5 75v1M73.5 81v1M74.5 51v2M74.5 64v1M75.5 46v1M76.5 60v1M77.5 21v1M77.5 60v1M78.5 11v1M78.5 57v1M79.5 10v1M79.5 24v1M80.5 6v5M80.5 24v1M81.5 6v3M81.5 10v2M81.5 23v1M82.5 14v2M82.5 19v1M82.5 50v1M82.5 55v1M84.5 28v8M85.5 31v5M85.5 60v1M86.5 60v1M89.5 5v2M89.5 50v2M89.5 54v2M90.5 3v2M90.5 7v2M90.5 67v2M90.5 80v2M91.5 3v1M91.5 8v1M92.5 3v1M92.5 8v1M92.5 58v1M93.5 4v4M93.5 45v1M93.5 60v1M93.5 77v1M95.5 13v4M95.5 44v1M96.5 12v2M96.5 17v2M96.5 67v3M96.5 79v1M96.5 83v1M97.5 14v4M97.5 78v1M98.5 46v1M98.5 57v1M98.5 79v1M98.5 83v1M99.5 80v1M100.5 49v1M102.5 69v1M103.5 71v1M104.5 75v1M105.5 23v1M105.5 30v1M105.5 50v4M105.5 86v1M106.5 9v1M106.5 33v1M106.5 47v1M106.5 55v1M106.5 79v1M107.5 7v2M107.5 34v1M107.5 46v1M107.5 56v1M108.5 11v1M108.5 33v1M108.5 45v1M108.5 56v1M108.5 81v1M108.5 84v1M109.5 6v2M109.5 29v12M109.5 46v1M109.5 56v1M110.5 3v2M110.5 8v2M110.5 28v1M110.5 43v1M110.5 47v2M110.5 54v2M111.5 3v1M111.5 9v4M111.5 20v3M111.5 26v1M111.5 44v2M111.5 55v1M111.5 68v1M111.5 80v1M112.5 3v1M112.5 8v4M112.5 22v2M112.5 26v1M112.5 57v1M112.5 66v1M113.5 5v3M113.5 12v3M113.5 19v3M113.5 27v1M113.5 40v4M113.5 57v1M113.5 65v1M113.5 80v1M114.5 13v1M114.5 20v1M114.5 37v1M114.5 44v2M114.5 57v1M114.5 61v2M114.5 75v2M115.5 11v1M115.5 33v1M115.5 47v2M115.5 54v2M115.5 60v1M115.5 84v1M116.5 10v1M116.5 24v1M116.5 60v1M116.5 86v1M117.5 10v1M117.5 27v1M117.5 33v2M117.5 44v2M117.5 61v1M118.5 26v1M118.5 32v1M118.5 46v1M118.5 64v4M118.5 77v1M118.5 82v1M119.5 24v1M119.5 33v1M119.5 45v11M119.5 76v1M120.5 26v16M120.5 47v2M120.5 57v1M120.5 77v1M120.5 83v1M121.5 10v1M121.5 34v1M121.5 48v1M121.5 57v1M122.5 8v2M122.5 33v1M122.5 49v7M123.5 2v1M123.5 6v1M123.5 11v1M123.5 25v1M124.5 7v1M128.5 26v1M128.5 79v2M129.5 9v1M129.5 27v1M129.5 30v1M129.5 42v1M130.5 9v1M130.5 25v1M131.5 8v1M131.5 22v1M131.5 34v2M131.5 38v1M131.5 79v3M132.5 8v1M132.5 75v1M132.5 85v1M133.5 32v2M133.5 61v1M133.5 74v1M133.5 86v1M134.5 17v2M134.5 60v2M134.5 75v1M135.5 8v1M135.5 13v1M135.5 36v1M135.5 40v1M136.5 33v1M136.5 46v1M136.5 51v1M136.5 71v1M137.5 2v1M137.5 73v1M138.5 26v1M138.5 32v1M138.5 50v1M139.5 25v1M139.5 32v1M139.5 73v1M139.5 77v1M139.5 81v1M140.5 11v1M140.5 24v1M140.5 31v1M140.5 35v3M140.5 55v1M140.5 70v2M140.5 74v1M141.5 7v1M141.5 35v1M141.5 59v1M141.5 64v1M141.5 84v1M142.5 6v1M142.5 9v1M142.5 12v1M142.5 35v4M142.5 72v1M142.5 84v1M143.5 5v1M143.5 9v2M143.5 24v1M143.5 31v4M143.5 84v1M144.5 5v1M144.5 9v2M144.5 12v1M144.5 24v1M144.5 34v1M144.5 43v1M145.5 5v1M145.5 9v4M145.5 34v1M146.5 6v1M146.5 25v3M147.5 4v1M147.5 33v3M147.5 43v2M147.5 46v1M147.5 63v1M147.5 85v1M148.5 47v1M148.5 85v1M149.5 2v1M149.5 41v3M149.5 47v1M149.5 85v1M150.5 47v1M151.5 14v1M152.5 10v1M152.5 88v1M153.5 3v1M154.5 4v1M155.5 5v1M155.5 11v1M155.5 27v1M155.5 37v1M155.5 40v1M156.5 8v1M156.5 60v1"/>
<path stroke="#797979" d="M2.5 3v2M2.5 15v1M2.5 29v1M2.5 36v1M2.5 51v1M2.5 79v1M3.5 2v1M3.5 6v2M3.5 80v1M4.5 2v1M5.5 80v1M6.5 3v1M6.5 50v1M7.5 33v3M7.5 43v1M7.5 48v1M8.5 30v3M8.5 77v3M9.5 21v3M9.5 28v3M9.5 33v3M9.5 58v1M10.5 0v1M10.5 37v1M10.5 57v1M10.5 66v2M10.5 88v1M11.5 56v1M12.5 40v1M12.5 56v1M12.5 66v1M13.5 42v5M13.5 52v2M13.5 55v3M13.5 65v1M13.5 67v1M13.5 88v1M14.5 53v2M14.5 57v1M14.5 66v2M14.5 86v1M15.5 0v1M15.5 53v1M15.5 85v1M16.5 1v1M16.5 50v2M16.5 56v1M17.5 1v1M17.5 47v1M17.5 56v1M18.5 2v1M18.5 32v2M18.5 46v1M18.5 56v1M18.5 85v1M19.5 3v2M19.5 10v1M19.5 31v3M20.5 5v6M21.5 7v3M21.5 83v1M23.5 22v1M23.5 46v1M23.5 54v1M23.5 67v2M25.5 33v4M26.5 4v1M27.5 1v1M28.5 0v1M29.5 8v1M29.5 26v3M29.5 31v3M30.5 17v5M30.5 35v1M31.5 9v4M31.5 35v1M32.5 8v1M32.5 10v3M32.5 30v1M33.5 7v1M33.5 13v10M34.5 3v2M34.5 57v1M34.5 63v3M34.5 72v2M35.5 51v2M36.5 37v1M36.5 86v1M38.5 13v2M38.5 18v2M39.5 12v1M39.5 21v1M39.5 28v1M40.5 11v1M40.5 21v1M40.5 62v1M40.5 79v2M41.5 12v1M41.5 21v1M41.5 48v1M41.5 59v1M41.5 82v1M42.5 13v1M42.5 19v2M42.5 50v1M42.5 55v1M42.5 83v1M43.5 13v1M43.5 19v2M44.5 13v1M44.5 19v2M44.5 32v4M45.5 14v1M45.5 18v3M46.5 76v1M46.5 84v1M47.5 28v1M47.5 47v1M47.5 55v1M47.5 77v1M48.5 41v2M49.5 37v2M49.5 79v1M50.5 36v2M51.5 37v3M51.5 41v2M51.5 46v1M52.5 49v1M52.5 54v1M55.5 47v1M55.5 59v1M59.5 45v1M60.5 73v6M60.5 84v1M61.5 74v2M62.5 45v1M62.5 78v1M62.5 85v1M63.5 46v1M63.5 58v1M64.5 48v1M64.5 56v1M66.5 50v2M66.5 54v2M67.5 47v1M68.5 50v6M69.5 58v1M69.5 64v7M69.5 77v1M69.5 81v1M70.5 69v3M70.5 75v1M70.5 82v1M71.5 70v4M72.5 69v2M72.5 73v1M72.5 83v1M73.5 67v1M73.5 76v1M73.5 80v1M74.5 53v4M74.5 62v2M75.5 59v1M76.5 46v1M77.5 13v1M77.5 19v2M77.5 47v1M78.5 12v1M78.5 23v1M78.5 50v1M78.5 56v1M79.5 11v1M80.5 11v1M81.5 12v1M82.5 16v3M82.5 51v4M83.5 47v1M85.5 45v1M86.5 45v1M87.5 59v1M88.5 47v1M88.5 58v1M89.5 52v2M90.5 5v2M91.5 4v4M91.5 75v1M91.5 86v1M92.5 4v4M92.5 47v1M93.5 78v1M93.5 83v1M95.5 60v1M96.5 14v3M96.5 45v1M96.5 59v1M96.5 80v3M97.5 46v1M97.5 79v1M97.5 83v2M98.5 80v3M99.5 47v1M99.5 56v1M99.5 71v1M99.5 79v1M100.5 54v1M100.5 69v1M101.5 83v1M103.5 72v1M105.5 24v1M106.5 10v2M106.5 48v2M106.5 54v1M107.5 9v2M107.5 33v1M107.5 47v1M107.5 55v1M107.5 80v1M108.5 12v2M108.5 32v1M108.5 46v2M108.5 55v1M109.5 47v2M109.5 54v2M110.5 5v3M110.5 41v2M110.5 49v5M111.5 4v1M111.5 7v2M111.5 13v7M111.5 27v1M111.5 42v2M111.5 46v3M111.5 54v1M112.5 4v4M112.5 12v10M112.5 41v5M112.5 56v1M112.5 81v1M113.5 15v4M113.5 39v1M113.5 44v2M113.5 56v1M113.5 66v1M114.5 14v6M114.5 30v1M114.5 46v1M114.5 55v2M114.5 63v2M114.5 72v3M115.5 12v1M115.5 21v1M115.5 49v5M115.5 61v1M115.5 72v3M115.5 83v1M116.5 11v1M116.5 61v1M117.5 26v1M117.5 35v2M117.5 42v2M117.5 62v1M117.5 70v5M117.5 84v1M118.5 11v1M118.5 25v1M118.5 33v2M118.5 44v2M118.5 78v4M119.5 12v1M119.5 23v1M119.5 34v2M119.5 43v2M119.5 77v1M119.5 82v2M120.5 12v1M120.5 23v3M120.5 49v8M120.5 78v5M121.5 11v1M121.5 32v2M121.5 49v3M121.5 54v3M122.5 10v1M122.5 30v3M123.5 12v1M123.5 24v1M125.5 1v1M125.5 7v1M126.5 1v1M126.5 7v1M127.5 7v1M128.5 11v1M128.5 25v1M128.5 33v1M128.5 39v1M129.5 8v1M129.5 10v1M129.5 26v1M130.5 8v1M130.5 10v1M130.5 31v1M130.5 41v1M131.5 1v1M131.5 12v1M131.5 36v2M134.5 84v1M135.5 22v1M135.5 37v3M136.5 1v1M136.5 12v1M136.5 45v1M136.5 66v5M137.5 11v1M137.5 47v1M137.5 50v1M137.5 72v1M138.5 47v1M138.5 73v1M139.5 33v1M139.5 46v1M139.5 52v1M139.5 72v1M139.5 78v3M140.5 32v3M140.5 68v2M140.5 75v1M140.5 83v1M141.5 12v1M141.5 31v4M141.5 60v4M141.5 74v1M142.5 7v2M142.5 31v4M142.5 73v1M143.5 6v3M143.5 12v1M143.5 35v1M143.5 66v1M144.5 6v3M144.5 65v1M144.5 84v1M145.5 6v3M145.5 22v1M146.5 7v2M146.5 24v1M146.5 43v1M147.5 5v1M147.5 36v1M147.5 42v1M147.5 45v1M148.5 35v1M148.5 44v3M148.5 61v1M149.5 36v1M149.5 44v3M150.5 2v1M150.5 9v1M150.5 46v1M151.5 2v1M151.5 8v1M151.5 15v4M153.5 11v1M154.5 25v1M155.5 41v4M156.5 61v1M156.5 85v1"/>
<path stroke="#808080" d="M2.5 16v1M2.5 28v1M2.5 37v1M3.5 3v3M3.5 8v1M3.5 52v1M3.5 69v1M4.5 3v1M4.5 52v1M4.5 69v1M4.5 80v1M5.5 3v1M6.5 34v4M6.5 72v1M6.5 78v1M7.5 32v1M7.5 44v1M7.5 47v1M8.5 29v1M9.5 20v1M9.5 31v2M9.5 64v1M9.5 69v1M9.5 85v1M11.5 57v1M11.5 66v1M12.5 57v1M12.5 65v1M13.5 41v1M13.5 47v5M13.5 58v1M14.5 46v1M14.5 51v2M14.5 68v1M15.5 16v4M15.5 50v3M15.5 76v3M16.5 13v1M16.5 21v1M16.5 47v3M16.5 76v1M16.5 79v1M16.5 85v1M17.5 2v1M17.5 12v1M17.5 46v1M17.5 85v1M18.5 3v1M18.5 11v1M18.5 31v1M18.5 34v1M19.5 5v5M19.5 34v1M19.5 55v1M20.5 22v1M23.5 55v1M23.5 65v2M23.5 75v1M23.5 81v1M24.5 25v1M24.5 42v1M27.5 6v1M28.5 7v1M29.5 29v2M30.5 8v1M30.5 22v3M30.5 33v2M31.5 8v1M31.5 13v9M31.5 33v2M32.5 0v1M32.5 13v13M32.5 28v2M33.5 1v1M34.5 58v5M34.5 66v6M34.5 78v1M34.5 84v1M35.5 53v1M36.5 38v1M37.5 30v1M38.5 15v3M38.5 28v1M38.5 84v1M39.5 13v1M39.5 19v2M40.5 12v1M40.5 20v1M40.5 32v1M41.5 13v1M41.5 19v2M41.5 49v2M41.5 57v2M41.5 77v1M42.5 14v5M42.5 51v4M42.5 76v1M43.5 14v5M43.5 76v1M43.5 83v1M44.5 14v5M44.5 76v1M45.5 15v3M45.5 27v1M45.5 38v1M45.5 76v1M45.5 83v1M46.5 77v1M47.5 37v1M48.5 43v1M48.5 78v1M49.5 39v2M49.5 80v1M49.5 83v1M50.5 38v3M51.5 40v1M51.5 57v1M52.5 53v1M53.5 49v1M53.5 55v1M54.5 48v1M57.5 60v1M59.5 60v1M60.5 45v1M60.5 60v1M60.5 79v1M61.5 45v1M61.5 76v2M64.5 49v1M66.5 52v2M67.5 48v2M67.5 56v2M69.5 59v5M69.5 78v3M70.5 55v1M70.5 67v2M70.5 76v1M70.5 81v1M71.5 54v1M71.5 68v2M71.5 74v1M72.5 54v1M72.5 68v1M73.5 55v1M73.5 66v1M73.5 77v3M74.5 57v5M75.5 47v1M75.5 58v1M76.5 59v1M77.5 14v5M77.5 59v1M78.5 13v1M78.5 22v1M78.5 51v5M79.5 12v1M79.5 23v1M80.5 12v1M80.5 23v1M81.5 13v1M81.5 22v1M83.5 58v1M84.5 46v1M84.5 59v1M87.5 46v1M92.5 57v1M92.5 75v1M92.5 86v1M93.5 79v4M94.5 45v1M94.5 60v1M95.5 45v1M97.5 57v1M97.5 80v3M99.5 78v1M100.5 50v4M100.5 81v1M105.5 25v5M105.5 77v1M106.5 12v1M106.5 32v1M106.5 50v4M107.5 11v1M107.5 48v7M107.5 85v1M108.5 14v2M108.5 31v1M108.5 48v7M108.5 82v2M109.5 49v5M110.5 29v1M110.5 37v4M111.5 5v2M111.5 40v2M111.5 49v5M111.5 69v1M111.5 79v1M112.5 27v1M112.5 39v2M112.5 46v3M112.5 54v2M112.5 67v1M112.5 80v1M113.5 28v1M113.5 38v1M113.5 46v2M113.5 54v2M113.5 67v1M113.5 79v1M114.5 36v1M114.5 47v3M114.5 52v3M114.5 65v7M115.5 13v1M115.5 20v1M115.5 62v2M115.5 69v3M115.5 75v1M115.5 82v1M116.5 23v1M116.5 62v1M116.5 70v3M116.5 85v1M117.5 11v1M117.5 25v1M117.5 37v5M117.5 63v7M117.5 75v1M117.5 83v1M118.5 12v1M118.5 24v1M118.5 35v3M118.5 41v3M119.5 13v1M119.5 21v2M119.5 36v7M119.5 78v4M120.5 13v2M120.5 20v3M121.5 12v1M121.5 26v6M121.5 52v2M122.5 11v1M122.5 27v3M123.5 3v3M123.5 13v1M123.5 21v3M128.5 2v1M128.5 7v1M128.5 12v1M128.5 24v1M128.5 34v1M128.5 38v1M129.5 2v1M129.5 11v1M129.5 25v1M129.5 31v1M129.5 41v1M130.5 11v1M130.5 24v1M131.5 13v2M131.5 21v1M132.5 76v1M132.5 84v1M133.5 8v1M133.5 75v1M133.5 85v1M134.5 8v1M134.5 76v1M135.5 14v1M136.5 24v1M136.5 43v2M136.5 52v1M136.5 65v1M137.5 6v1M137.5 25v1M137.5 70v2M138.5 11v1M138.5 33v1M138.5 71v2M139.5 11v1M139.5 34v1M139.5 42v2M139.5 70v2M140.5 67v1M141.5 23v1M142.5 13v1M142.5 23v1M142.5 74v1M143.5 36v1M143.5 41v1M143.5 67v1M143.5 83v1M144.5 13v1M144.5 23v1M144.5 35v1M145.5 13v1M145.5 43v1M145.5 65v1M145.5 84v1M146.5 9v1M146.5 23v1M146.5 35v1M147.5 6v2M147.5 32v1M147.5 41v1M148.5 3v1M149.5 58v1M150.5 8v1M150.5 45v1M150.5 55v1M151.5 19v1M152.5 9v1M152.5 22v1M152.5 87v1M153.5 24v1M154.5 11v1M155.5 10v1M155.5 28v1M155.5 36v1M155.5 45v1M156.5 62v2M156.5 84v1"/>
<path stroke="#868686" d="M2.5 17v1M2.5 38v1M2.5 71v1M2.5 78v1M3.5 31v4M4.5 4v2M5.5 4v1M5.5 51v1M5.5 70v1M6.5 4v1M6.5 33v1M6.5 38v1M7.5 4v1M7.5 31v1M7.5 45v2M8.5 4v1M8.5 28v1M9.5 3v1M9.5 19v1M9.5 59v1M10.5 1v1M10.5 36v1M10.5 65v1M13.5 64v1M14.5 44v2M14.5 47v4M14.5 58v1M14.5 65v1M15.5 1v1M15.5 14v2M15.5 45v5M15.5 57v1M15.5 74v2M16.5 2v1M16.5 12v1M16.5 46v1M17.5 11v1M17.5 22v1M17.5 78v1M18.5 4v1M18.5 9v2M18.5 23v1M18.5 45v1M19.5 23v1M19.5 30v1M19.5 35v1M19.5 45v1M19.5 84v1M20.5 83v1M22.5 82v1M23.5 64v1M24.5 26v1M24.5 41v1M27.5 2v1M27.5 5v1M30.5 25v3M30.5 31v2M31.5 22v4M31.5 31v2M32.5 26v2M33.5 6v1M35.5 54v1M35.5 85v1M36.5 39v2M37.5 85v1M39.5 14v5M39.5 64v1M40.5 13v3M40.5 18v2M41.5 14v5M41.5 51v6M41.5 78v4M42.5 82v1M44.5 83v1M46.5 38v1M47.5 48v1M47.5 54v1M47.5 78v1M47.5 84v1M48.5 58v1M48.5 84v1M49.5 41v2M49.5 60v1M49.5 81v2M50.5 41v3M52.5 50v3M54.5 57v1M57.5 46v1M58.5 46v1M58.5 60v1M60.5 80v1M60.5 83v1M61.5 78v1M61.5 85v1M62.5 79v1M64.5 55v1M67.5 50v6M70.5 65v2M70.5 77v4M71.5 67v1M71.5 82v1M72.5 67v1M72.5 74v1M72.5 82v1M73.5 65v1M75.5 48v1M75.5 57v1M77.5 48v1M77.5 58v1M78.5 21v1M79.5 13v1M80.5 13v1M81.5 14v1M81.5 21v1M85.5 59v1M86.5 59v1M88.5 57v1M91.5 85v1M92.5 48v1M93.5 46v1M93.5 59v1M98.5 47v1M98.5 56v1M99.5 48v1M99.5 55v1M99.5 72v2M99.5 77v1M101.5 69v1M102.5 70v1M102.5 84v1M103.5 73v1M103.5 85v1M106.5 13v6M106.5 31v1M107.5 12v1M107.5 32v1M108.5 16v7M108.5 30v1M110.5 30v1M110.5 35v2M111.5 28v1M111.5 37v3M111.5 70v1M111.5 78v1M112.5 38v1M112.5 49v5M112.5 68v1M113.5 37v1M113.5 48v6M113.5 68v2M113.5 78v1M114.5 31v1M114.5 35v1M114.5 50v2M115.5 14v6M115.5 64v5M115.5 76v6M116.5 12v1M116.5 22v1M116.5 63v7M116.5 73v1M117.5 12v1M117.5 23v2M117.5 76v2M117.5 81v2M118.5 13v1M118.5 22v2M118.5 38v3M119.5 14v7M120.5 15v5M121.5 13v1M121.5 22v4M122.5 12v2M122.5 23v4M123.5 14v7M128.5 13v1M128.5 22v2M128.5 35v3M129.5 12v1M129.5 24v1M130.5 2v1M130.5 12v1M130.5 23v1M130.5 32v1M131.5 15v6M134.5 77v1M134.5 83v1M135.5 15v1M135.5 21v1M136.5 7v1M136.5 34v1M136.5 42v1M136.5 53v1M136.5 56v3M136.5 64v1M137.5 33v1M137.5 46v1M137.5 51v1M137.5 68v2M138.5 25v1M138.5 46v1M138.5 51v1M138.5 69v2M139.5 35v1M139.5 44v2M139.5 53v1M139.5 69v1M140.5 12v1M140.5 56v1M140.5 76v1M140.5 82v1M141.5 13v1M141.5 75v1M141.5 83v1M142.5 75v1M142.5 83v1M143.5 13v1M143.5 23v1M143.5 68v2M143.5 72v4M144.5 78v1M144.5 83v1M145.5 14v1M145.5 21v1M145.5 35v1M146.5 10v1M146.5 84v1M147.5 8v1M147.5 37v1M148.5 34v1M150.5 10v1M150.5 38v1M150.5 44v1M151.5 20v1M151.5 84v1M152.5 3v1M152.5 8v1M153.5 4v1M154.5 5v1M155.5 6v1M155.5 46v2M155.5 88v1M156.5 64v2M156.5 83v1"/>
<path stroke="#8c8c8c" d="M2.5 18v1M2.5 27v1M2.5 50v1M2.5 72v1M3.5 9v1M4.5 6v1M4.5 33v1M5.5 5v1M5.5 33v3M6.5 32v1M6.5 39v1M6.5 73v1M6.5 77v1M7.5 30v1M8.5 27v1M9.5 63v1M10.5 19v8M10.5 58v1M10.5 87v1M11.5 38v1M11.5 65v1M11.5 67v1M11.5 88v1M12.5 39v1M12.5 58v1M12.5 67v1M12.5 88v1M13.5 40v1M13.5 59v1M13.5 87v1M14.5 0v1M14.5 43v1M14.5 85v1M15.5 13v1M15.5 20v1M15.5 44v1M15.5 72v2M15.5 79v1M16.5 11v1M16.5 45v1M16.5 75v1M17.5 3v2M17.5 10v1M17.5 45v1M17.5 77v1M17.5 79v1M18.5 5v4M18.5 30v1M18.5 35v1M19.5 29v1M22.5 22v1M23.5 23v1M23.5 45v1M23.5 56v1M23.5 62v2M23.5 76v1M23.5 80v1M24.5 27v1M24.5 40v1M29.5 0v1M29.5 7v1M30.5 28v3M31.5 0v1M31.5 26v5M32.5 7v1M34.5 79v1M34.5 83v1M35.5 55v1M36.5 41v3M37.5 31v1M38.5 83v1M39.5 29v1M40.5 16v2M40.5 44v3M40.5 61v1M42.5 77v1M42.5 81v1M43.5 77v1M43.5 82v1M44.5 77v1M44.5 82v1M45.5 77v1M45.5 82v1M46.5 27v1M46.5 78v1M46.5 83v1M47.5 29v1M47.5 36v1M48.5 44v1M48.5 79v1M50.5 59v1M51.5 47v1M53.5 54v1M59.5 46v1M60.5 81v2M61.5 59v1M62.5 46v1M62.5 84v1M63.5 47v1M63.5 57v1M64.5 50v2M64.5 53v2M70.5 56v1M70.5 64v1M71.5 66v1M71.5 75v1M71.5 81v1M72.5 66v1M73.5 56v1M73.5 64v1M75.5 49v1M75.5 56v1M76.5 47v1M76.5 58v1M78.5 14v2M78.5 18v3M79.5 22v1M80.5 22v1M81.5 15v1M81.5 19v2M83.5 48v1M83.5 57v1M85.5 46v1M86.5 46v1M87.5 58v1M88.5 48v1M91.5 76v1M92.5 49v1M92.5 56v1M92.5 85v1M95.5 59v1M96.5 46v1M96.5 58v1M97.5 47v1M99.5 49v1M99.5 54v1M99.5 74v3M100.5 70v1M100.5 80v1M101.5 82v1M103.5 74v1M104.5 76v1M105.5 78v1M106.5 19v4M107.5 13v5M107.5 31v1M108.5 23v3M108.5 28v2M110.5 31v4M111.5 29v1M111.5 36v1M111.5 71v1M111.5 77v1M112.5 28v1M112.5 37v1M112.5 79v1M113.5 29v1M113.5 36v1M113.5 70v1M113.5 77v1M114.5 32v3M116.5 13v3M116.5 19v3M116.5 74v1M116.5 84v1M117.5 13v1M117.5 20v3M117.5 78v3M118.5 14v8M121.5 14v8M122.5 14v9M124.5 2v1M127.5 2v1M128.5 14v8M129.5 7v1M129.5 13v1M129.5 23v1M129.5 32v1M129.5 40v1M130.5 7v1M130.5 13v2M130.5 21v2M130.5 40v1M131.5 7v1M132.5 1v1M132.5 77v1M132.5 83v1M133.5 76v1M133.5 84v1M134.5 78v1M134.5 82v1M136.5 13v1M136.5 54v2M136.5 59v5M137.5 3v1M137.5 5v1M137.5 12v1M137.5 44v2M137.5 67v1M138.5 44v2M138.5 68v1M139.5 41v1M139.5 68v1M140.5 66v1M140.5 77v2M140.5 80v2M141.5 76v1M141.5 82v1M142.5 14v1M142.5 82v1M143.5 37v1M143.5 40v1M143.5 70v2M143.5 76v2M143.5 81v2M144.5 14v1M144.5 22v1M144.5 42v1M144.5 66v1M144.5 76v2M144.5 79v4M145.5 15v1M145.5 20v1M145.5 83v1M146.5 22v1M146.5 42v1M146.5 65v1M147.5 31v1M147.5 38v3M147.5 84v1M148.5 4v1M148.5 7v1M148.5 62v1M149.5 3v1M149.5 8v1M149.5 59v1M150.5 37v1M150.5 39v1M150.5 43v1M150.5 56v1M150.5 84v1M152.5 86v1M153.5 5v1M153.5 10v1M154.5 10v1M155.5 7v3M155.5 29v1M155.5 48v9M156.5 66v1"/>
<path stroke="#939393" d="M2.5 19v1M2.5 26v1M2.5 39v1M2.5 73v1M2.5 77v1M3.5 10v2M3.5 30v1M3.5 35v1M4.5 32v1M4.5 34v1M5.5 32v1M5.5 36v1M6.5 5v1M6.5 31v1M6.5 40v1M6.5 49v1M6.5 74v3M9.5 18v1M9.5 60v1M9.5 70v1M9.5 84v1M10.5 17v2M10.5 27v1M10.5 35v1M10.5 68v1M11.5 0v1M11.5 58v1M12.5 64v1M13.5 63v1M13.5 68v1M14.5 42v1M14.5 64v1M14.5 69v1M15.5 2v1M15.5 12v1M15.5 21v1M15.5 67v5M15.5 84v1M16.5 3v2M16.5 10v1M16.5 44v1M17.5 5v5M18.5 36v1M18.5 57v1M19.5 24v1M19.5 36v1M19.5 56v1M20.5 48v5M21.5 22v1M21.5 82v1M23.5 57v2M23.5 60v2M23.5 77v1M23.5 79v1M24.5 28v1M24.5 39v1M27.5 3v2M28.5 1v1M28.5 6v1M30.5 0v1M34.5 80v1M34.5 82v1M35.5 56v1M36.5 44v1M36.5 85v1M38.5 29v1M38.5 76v5M38.5 82v1M39.5 63v1M40.5 33v1M40.5 43v1M40.5 47v1M40.5 60v1M42.5 78v3M43.5 78v1M43.5 81v1M44.5 78v1M44.5 81v1M45.5 37v1M45.5 78v4M46.5 79v4M47.5 49v1M47.5 53v1M47.5 79v1M47.5 83v1M48.5 80v1M48.5 83v1M49.5 43v1M50.5 44v1M51.5 56v1M53.5 50v1M53.5 53v1M56.5 47v1M56.5 59v1M60.5 46v1M61.5 79v1M62.5 58v1M62.5 80v1M64.5 52v1M71.5 55v1M71.5 65v1M71.5 76v1M71.5 80v1M72.5 55v1M72.5 65v1M72.5 75v1M72.5 81v1M73.5 57v1M75.5 50v1M75.5 55v1M76.5 48v1M76.5 57v1M77.5 49v1M77.5 57v1M78.5 16v2M79.5 14v2M79.5 19v3M80.5 14v2M80.5 20v2M81.5 16v3M84.5 47v1M84.5 58v1M87.5 47v1M88.5 56v1M91.5 84v1M92.5 50v1M92.5 55v1M92.5 76v1M94.5 59v1M95.5 46v1M97.5 56v1M98.5 48v1M98.5 55v1M99.5 50v1M99.5 53v1M103.5 75v1M106.5 23v2M106.5 30v1M106.5 80v1M107.5 18v6M107.5 30v1M108.5 26v2M111.5 30v1M111.5 35v1M111.5 72v5M112.5 29v1M112.5 36v1M112.5 69v1M112.5 78v1M113.5 30v1M113.5 35v1M113.5 71v2M113.5 75v2M116.5 16v3M116.5 75v2M116.5 82v2M117.5 14v6M124.5 6v1M127.5 6v1M128.5 3v1M128.5 6v1M129.5 3v1M129.5 14v9M130.5 15v6M130.5 33v1M130.5 39v1M132.5 78v2M132.5 81v2M133.5 77v1M133.5 83v1M134.5 79v3M135.5 1v1M135.5 16v1M135.5 20v1M136.5 23v1M136.5 35v1M137.5 4v1M137.5 24v1M137.5 43v1M137.5 52v1M137.5 66v1M138.5 34v1M138.5 43v1M138.5 52v1M138.5 67v1M139.5 12v1M139.5 24v1M139.5 36v1M139.5 54v1M139.5 67v1M140.5 23v1M140.5 57v1M140.5 65v1M140.5 79v1M141.5 14v1M141.5 22v1M141.5 77v1M141.5 81v1M142.5 22v1M142.5 76v2M142.5 81v1M143.5 14v1M143.5 22v1M143.5 38v2M143.5 78v3M144.5 15v1M144.5 21v1M144.5 36v1M144.5 75v1M145.5 16v4M145.5 42v1M145.5 77v6M146.5 11v1M146.5 36v1M146.5 83v1M147.5 9v1M147.5 30v1M147.5 64v1M148.5 5v2M148.5 8v1M148.5 84v1M149.5 7v1M149.5 35v1M149.5 84v1M150.5 7v1M150.5 11v1M150.5 40v1M151.5 3v1M151.5 7v1M151.5 46v7M152.5 4v1M152.5 7v1M153.5 6v1M153.5 9v1M154.5 6v1M154.5 26v1M154.5 45v7M155.5 35v1M155.5 57v1M155.5 87v1M156.5 67v1M156.5 82v1"/>
<path stroke="#999999" d="M2.5 20v2M2.5 24v2M2.5 40v1M2.5 49v1M2.5 74v3M3.5 12v1M3.5 36v1M3.5 51v1M3.5 70v1M4.5 7v1M4.5 31v1M4.5 35v1M4.5 51v1M4.5 70v1M5.5 6v1M5.5 31v1M5.5 71v1M5.5 79v1M7.5 29v1M8.5 26v1M9.5 4v1M9.5 17v1M9.5 61v2M9.5 71v1M9.5 83v1M10.5 2v1M10.5 16v1M10.5 28v1M10.5 34v1M10.5 59v1M10.5 64v1M11.5 64v1M12.5 59v1M13.5 0v1M13.5 39v1M13.5 60v1M13.5 62v1M14.5 1v1M14.5 41v1M14.5 59v1M15.5 3v1M15.5 10v2M15.5 43v1M15.5 80v1M16.5 5v5M16.5 22v1M16.5 57v1M16.5 74v1M16.5 80v1M17.5 32v3M17.5 44v1M17.5 57v1M17.5 76v1M18.5 24v1M18.5 29v1M18.5 44v1M18.5 78v2M18.5 84v1M19.5 28v1M19.5 37v1M19.5 44v1M19.5 83v1M20.5 23v1M20.5 47v1M20.5 82v1M22.5 81v1M23.5 59v1M23.5 78v1M24.5 29v1M24.5 38v1M30.5 7v1M31.5 7v1M33.5 2v1M33.5 5v1M34.5 81v1M35.5 57v1M35.5 84v1M36.5 45v1M37.5 32v1M37.5 84v1M38.5 81v1M40.5 48v7M40.5 59v1M43.5 79v2M44.5 79v2M45.5 28v1M46.5 37v1M47.5 30v1M47.5 35v1M47.5 50v3M47.5 80v3M48.5 45v1M48.5 57v1M48.5 81v2M49.5 59v1M53.5 51v2M54.5 49v1M54.5 56v1M55.5 48v1M55.5 58v1M59.5 59v1M60.5 59v1M61.5 46v1M61.5 84v1M62.5 83v1M63.5 48v1M70.5 57v1M70.5 63v1M71.5 64v1M71.5 77v3M72.5 76v1M72.5 80v1M73.5 58v1M73.5 63v1M75.5 51v4M76.5 56v1M77.5 56v1M79.5 16v3M80.5 16v4M83.5 49v1M83.5 56v1M85.5 58v1M86.5 58v1M88.5 49v1M91.5 77v1M92.5 51v1M92.5 54v1M92.5 84v1M93.5 47v1M93.5 58v1M94.5 46v1M96.5 47v1M97.5 48v1M98.5 49v2M98.5 53v2M99.5 51v2M100.5 71v1M100.5 79v1M101.5 70v1M101.5 81v1M102.5 71v1M102.5 83v1M104.5 85v1M105.5 79v1M106.5 25v5M106.5 85v1M107.5 24v3M107.5 28v2M107.5 81v1M107.5 84v1M111.5 31v4M112.5 30v1M112.5 35v1M112.5 70v2M112.5 77v1M113.5 31v4M113.5 73v2M116.5 77v5M126.5 2v1M128.5 5v1M129.5 6v1M129.5 33v1M129.5 39v1M130.5 3v1M130.5 6v1M130.5 34v1M130.5 38v1M131.5 2v1M132.5 80v1M133.5 78v1M133.5 82v1M135.5 17v3M136.5 14v1M136.5 41v1M137.5 34v1M137.5 53v1M138.5 12v1M138.5 24v1M138.5 42v1M138.5 53v1M139.5 40v1M139.5 55v1M140.5 13v1M140.5 58v1M140.5 64v1M141.5 78v3M142.5 15v1M142.5 21v1M142.5 78v3M143.5 15v1M143.5 21v1M144.5 16v2M144.5 20v1M144.5 67v1M144.5 74v1M145.5 36v1M145.5 66v1M146.5 21v1M146.5 41v1M146.5 82v1M147.5 29v1M148.5 33v1M149.5 9v1M149.5 60v1M150.5 3v1M150.5 41v2M150.5 57v1M151.5 21v1M151.5 45v1M151.5 53v1M151.5 83v1M152.5 5v2M152.5 23v1M152.5 85v1M153.5 7v2M153.5 88v1M154.5 7v3M154.5 39v1M154.5 43v2M154.5 52v3M155.5 30v1M155.5 34v1M155.5 58v1M156.5 68v1M156.5 81v1"/>
<path stroke="#9f9f9f" d="M2.5 22v2M2.5 41v1M3.5 13v1M3.5 29v1M3.5 79v1M5.5 37v1M5.5 50v1M6.5 30v1M6.5 41v1M6.5 48v1M7.5 5v1M8.5 5v1M8.5 24v2M9.5 16v1M9.5 72v2M10.5 14v2M10.5 29v1M10.5 33v1M10.5 86v1M11.5 1v1M11.5 37v1M11.5 59v1M11.5 87v1M12.5 0v1M12.5 63v1M12.5 87v1M13.5 61v1M13.5 86v1M14.5 2v1M14.5 13v5M14.5 40v1M14.5 63v1M14.5 70v2M14.5 84v1M15.5 4v6M15.5 42v1M15.5 58v1M15.5 66v1M16.5 43v1M16.5 84v1M17.5 23v1M17.5 31v1M17.5 35v1M17.5 80v1M17.5 84v1M18.5 37v1M18.5 80v1M19.5 25v3M19.5 38v1M19.5 57v1M19.5 82v1M20.5 53v1M20.5 81v1M21.5 81v1M22.5 23v1M22.5 74v1M23.5 24v1M24.5 30v1M24.5 37v1M32.5 1v1M32.5 6v1M35.5 58v1M36.5 46v2M38.5 75v1M39.5 30v1M39.5 62v1M40.5 34v1M40.5 42v1M40.5 55v4M46.5 28v1M47.5 31v1M47.5 34v1M49.5 44v1M50.5 45v1M50.5 58v1M51.5 48v1M51.5 55v1M57.5 47v1M57.5 59v1M58.5 47v1M58.5 59v1M59.5 47v1M61.5 80v1M62.5 47v1M62.5 81v2M63.5 56v1M70.5 58v2M70.5 61v2M71.5 56v1M72.5 56v1M72.5 64v1M72.5 77v3M73.5 59v4M76.5 49v2M76.5 55v1M77.5 50v6M83.5 55v1M84.5 57v1M85.5 47v1M86.5 47v1M87.5 48v1M87.5 57v1M88.5 50v1M88.5 55v1M91.5 78v1M91.5 83v1M92.5 52v2M92.5 77v1M92.5 83v1M96.5 57v1M97.5 49v1M97.5 55v1M98.5 51v2M100.5 78v1M101.5 80v1M102.5 72v1M103.5 76v1M104.5 77v1M105.5 85v1M107.5 27v1M112.5 31v4M112.5 72v5M124.5 3v1M125.5 2v1M125.5 6v1M126.5 6v1M127.5 3v1M128.5 4v1M129.5 4v2M129.5 34v2M129.5 37v2M130.5 35v3M132.5 7v1M133.5 1v1M133.5 79v3M134.5 1v1M135.5 7v1M136.5 2v1M136.5 22v1M136.5 36v1M136.5 40v1M137.5 13v1M137.5 42v1M137.5 54v3M137.5 65v1M138.5 54v1M138.5 66v1M139.5 37v3M139.5 66v1M140.5 59v1M140.5 63v1M141.5 15v1M141.5 21v1M142.5 16v2M142.5 20v1M143.5 16v2M143.5 20v1M144.5 18v2M144.5 37v1M144.5 41v1M144.5 73v1M145.5 76v1M146.5 12v1M146.5 37v1M146.5 78v4M147.5 24v5M147.5 83v1M148.5 9v1M149.5 4v3M150.5 6v1M150.5 12v1M150.5 36v1M150.5 83v1M151.5 4v1M151.5 6v1M151.5 44v1M151.5 54v1M154.5 38v1M154.5 40v3M154.5 88v1M155.5 31v3M156.5 69v1M156.5 80v1"/>
<path stroke="#a6a6a6" d="M2.5 42v1M2.5 48v1M3.5 14v1M3.5 37v1M3.5 71v1M4.5 30v1M4.5 36v1M5.5 38v1M6.5 42v1M8.5 19v5M9.5 5v1M9.5 15v1M9.5 74v1M9.5 82v1M10.5 3v1M10.5 30v3M10.5 60v1M10.5 63v1M11.5 16v3M11.5 63v1M11.5 68v1M12.5 38v1M12.5 60v3M12.5 68v1M13.5 1v1M14.5 10v3M14.5 18v3M14.5 39v1M14.5 60v1M14.5 72v3M15.5 22v1M15.5 41v1M15.5 81v1M15.5 83v1M16.5 42v1M16.5 73v1M17.5 36v1M17.5 43v1M18.5 25v1M18.5 28v1M18.5 38v1M18.5 43v1M18.5 77v1M19.5 43v1M19.5 79v3M20.5 24v1M20.5 29v4M20.5 46v1M21.5 23v1M22.5 49v2M22.5 72v2M22.5 75v1M22.5 80v1M23.5 25v1M23.5 44v1M24.5 31v1M24.5 36v1M28.5 5v1M29.5 6v1M33.5 3v2M35.5 59v2M35.5 77v2M35.5 83v1M36.5 48v6M36.5 84v1M37.5 33v1M37.5 83v1M38.5 30v1M38.5 74v1M45.5 29v1M45.5 36v1M47.5 32v2M54.5 55v1M60.5 47v1M61.5 58v1M61.5 81v3M63.5 49v1M63.5 55v1M70.5 60v1M71.5 57v1M71.5 63v1M72.5 57v1M72.5 63v1M76.5 51v4M83.5 50v2M83.5 54v1M84.5 48v1M88.5 51v4M91.5 79v4M92.5 78v2M92.5 82v1M93.5 57v1M94.5 58v1M95.5 58v1M97.5 50v5M100.5 72v2M100.5 77v1M101.5 71v1M102.5 73v1M102.5 82v1M103.5 84v1M107.5 82v1M124.5 4v2M127.5 5v1M129.5 36v1M130.5 4v2M131.5 6v1M136.5 6v1M136.5 15v1M137.5 23v1M137.5 57v1M138.5 13v1M138.5 35v1M138.5 55v1M139.5 13v1M139.5 23v1M139.5 56v1M140.5 14v1M140.5 22v1M140.5 60v3M141.5 16v1M141.5 20v1M142.5 18v2M143.5 18v2M144.5 38v3M144.5 68v1M144.5 72v1M145.5 37v1M145.5 41v1M146.5 20v1M146.5 38v3M147.5 10v1M147.5 23v1M147.5 82v1M148.5 32v1M148.5 63v1M148.5 83v1M149.5 34v1M149.5 83v1M150.5 4v2M151.5 5v1M151.5 22v1M151.5 82v1M152.5 84v1M153.5 25v1M153.5 87v1M154.5 27v1M154.5 37v1M154.5 55v1M155.5 59v1M155.5 86v1M156.5 70v2M156.5 78v2"/>
<path stroke="#acacac" d="M2.5 43v2M2.5 47v1M3.5 15v1M3.5 28v1M3.5 50v1M3.5 78v1M4.5 8v1M4.5 71v1M4.5 79v1M5.5 30v1M5.5 72v1M5.5 78v1M6.5 6v1M6.5 47v1M7.5 28v1M8.5 18v1M9.5 14v1M9.5 75v1M9.5 81v1M10.5 13v1M10.5 61v2M10.5 69v1M10.5 85v1M11.5 2v1M11.5 14v2M11.5 19v7M11.5 60v1M11.5 62v1M12.5 1v1M13.5 38v1M13.5 69v1M14.5 3v2M14.5 8v2M14.5 21v2M14.5 38v1M14.5 61v2M14.5 75v1M14.5 83v1M15.5 38v3M15.5 65v1M15.5 82v1M16.5 32v6M16.5 41v1M16.5 72v1M16.5 81v1M16.5 83v1M17.5 30v1M17.5 37v2M17.5 42v1M17.5 75v1M17.5 81v1M18.5 26v2M18.5 39v1M18.5 41v2M18.5 58v1M18.5 81v3M19.5 39v2M19.5 42v1M19.5 78v1M20.5 25v1M20.5 27v2M20.5 33v1M20.5 54v1M20.5 80v1M21.5 80v1M22.5 24v1M22.5 48v1M22.5 51v2M22.5 76v2M22.5 79v1M23.5 26v1M24.5 32v4M28.5 2v1M29.5 1v1M35.5 61v1M35.5 76v1M35.5 79v1M35.5 82v1M36.5 54v2M36.5 83v1M37.5 82v1M39.5 61v1M40.5 35v1M40.5 41v1M46.5 36v1M48.5 46v1M48.5 56v1M49.5 45v1M50.5 46v1M51.5 49v1M51.5 54v1M54.5 50v1M54.5 54v1M55.5 57v1M56.5 48v1M56.5 58v1M58.5 48v1M60.5 58v1M61.5 47v1M62.5 57v1M63.5 50v1M63.5 54v1M71.5 58v2M71.5 61v2M72.5 58v2M72.5 61v2M83.5 52v2M84.5 56v1M85.5 48v1M85.5 57v1M86.5 48v1M86.5 57v1M87.5 49v1M87.5 56v1M92.5 80v2M93.5 48v1M94.5 47v1M95.5 47v1M96.5 48v1M96.5 56v1M100.5 74v3M101.5 72v1M101.5 78v2M102.5 74v3M102.5 81v1M103.5 77v1M104.5 78v1M105.5 80v1M107.5 83v1M127.5 4v1M133.5 7v1M134.5 7v1M136.5 21v1M136.5 37v3M137.5 14v1M137.5 35v1M137.5 41v1M137.5 58v2M137.5 63v2M138.5 23v1M138.5 41v1M138.5 56v1M138.5 65v1M139.5 57v1M139.5 65v1M141.5 17v3M144.5 69v3M145.5 38v3M145.5 75v1M146.5 13v1M146.5 19v1M146.5 77v1M147.5 78v4M148.5 82v1M149.5 10v1M149.5 61v1M149.5 82v1M150.5 13v1M150.5 58v1M150.5 80v3M151.5 38v2M151.5 43v1M151.5 55v1M151.5 80v2M152.5 46v1M153.5 45v8M154.5 56v1M155.5 60v1M156.5 72v6"/>
<path stroke="#b2b2b2" d="M2.5 45v2M3.5 16v1M3.5 38v1M3.5 72v1M4.5 9v1M4.5 29v1M4.5 37v1M4.5 50v1M5.5 7v1M5.5 39v1M5.5 49v1M5.5 73v1M5.5 77v1M6.5 29v1M6.5 43v2M6.5 46v1M9.5 6v1M9.5 13v1M9.5 76v1M9.5 80v1M10.5 4v1M10.5 12v1M11.5 12v2M11.5 26v1M11.5 36v1M11.5 61v1M11.5 86v1M12.5 2v1M12.5 12v8M12.5 86v1M13.5 2v1M13.5 10v11M13.5 85v1M14.5 5v3M14.5 23v1M14.5 37v1M14.5 76v1M14.5 82v1M15.5 23v1M15.5 36v2M15.5 59v1M16.5 23v1M16.5 31v1M16.5 38v3M16.5 58v1M16.5 71v1M16.5 82v1M17.5 24v1M17.5 39v3M17.5 58v1M17.5 82v2M18.5 40v1M18.5 76v1M19.5 41v1M19.5 58v1M19.5 77v1M20.5 26v1M20.5 34v5M20.5 45v1M20.5 79v1M21.5 24v1M21.5 48v3M21.5 79v1M22.5 25v1M22.5 47v1M22.5 53v1M22.5 70v2M22.5 78v1M23.5 27v1M28.5 3v2M30.5 6v1M31.5 1v1M31.5 6v1M35.5 62v2M35.5 75v1M35.5 80v2M36.5 56v2M36.5 82v1M37.5 34v1M37.5 78v4M38.5 63v4M38.5 73v1M39.5 31v1M39.5 58v3M40.5 36v2M40.5 39v2M45.5 30v1M45.5 35v1M46.5 29v1M49.5 58v1M54.5 51v1M54.5 53v1M55.5 49v1M55.5 56v1M57.5 48v1M57.5 58v1M58.5 58v1M59.5 48v1M59.5 58v1M62.5 48v1M62.5 56v1M63.5 51v3M71.5 60v1M72.5 60v1M84.5 49v1M87.5 50v1M87.5 55v1M93.5 49v1M93.5 56v1M95.5 57v1M96.5 49v1M101.5 73v5M102.5 77v4M103.5 78v1M103.5 83v1M104.5 79v1M106.5 81v1M106.5 84v1M125.5 3v1M125.5 5v1M126.5 3v1M126.5 5v1M131.5 3v1M131.5 5v1M136.5 16v2M136.5 19v2M137.5 22v1M137.5 36v1M137.5 60v3M138.5 36v1M138.5 40v1M138.5 57v1M139.5 14v1M139.5 58v1M139.5 64v1M140.5 15v1M140.5 21v1M145.5 67v1M146.5 14v1M146.5 18v1M146.5 66v1M147.5 22v1M147.5 65v1M148.5 10v1M148.5 31v1M148.5 78v4M149.5 79v3M150.5 14v1M150.5 18v4M150.5 35v1M150.5 79v1M151.5 37v1M151.5 40v3M151.5 56v1M151.5 79v1M152.5 24v1M152.5 44v2M152.5 47v7M152.5 83v1M153.5 39v1M153.5 43v2M153.5 53v2M154.5 87v1M155.5 61v1M155.5 85v1"/>
<path stroke="#b9b9b9" d="M3.5 17v1M3.5 27v1M3.5 39v1M3.5 73v1M3.5 76v2M4.5 10v1M4.5 38v1M4.5 72v1M4.5 78v1M5.5 29v1M5.5 74v3M6.5 45v1M7.5 6v1M7.5 27v1M8.5 6v1M8.5 17v1M9.5 77v3M10.5 5v2M10.5 11v1M10.5 70v1M11.5 3v1M11.5 10v2M11.5 27v1M11.5 69v1M12.5 3v1M12.5 10v2M12.5 20v6M12.5 37v1M12.5 69v1M13.5 3v2M13.5 8v2M13.5 21v5M13.5 37v1M13.5 70v1M14.5 24v1M14.5 36v1M14.5 77v5M15.5 31v5M15.5 64v1M16.5 70v1M17.5 29v1M17.5 74v1M20.5 39v1M20.5 55v1M20.5 77v2M21.5 25v4M21.5 47v1M21.5 51v2M21.5 75v4M22.5 26v1M22.5 46v1M22.5 54v1M22.5 69v1M23.5 28v1M23.5 43v1M30.5 1v1M32.5 2v1M32.5 5v1M36.5 58v2M36.5 78v4M37.5 43v3M37.5 77v1M38.5 31v1M38.5 60v3M38.5 67v2M38.5 71v2M39.5 46v2M39.5 53v5M40.5 38v1M45.5 31v1M45.5 34v1M46.5 30v1M46.5 35v1M48.5 47v1M50.5 57v1M51.5 50v1M51.5 52v2M54.5 52v1M55.5 55v1M56.5 57v1M57.5 57v1M58.5 49v1M58.5 57v1M59.5 49v1M59.5 57v1M60.5 48v1M60.5 57v1M61.5 48v1M61.5 57v1M62.5 49v1M62.5 55v1M84.5 50v1M84.5 55v1M85.5 49v1M85.5 56v1M86.5 49v1M86.5 56v1M87.5 51v1M87.5 54v1M93.5 55v1M94.5 48v1M94.5 57v1M95.5 48v1M96.5 50v1M96.5 55v1M103.5 79v4M104.5 80v1M104.5 84v1M105.5 84v1M125.5 4v1M126.5 4v1M131.5 4v1M132.5 2v1M135.5 2v1M136.5 3v1M136.5 5v1M136.5 18v1M137.5 15v1M137.5 21v1M137.5 37v1M137.5 40v1M138.5 14v1M138.5 22v1M138.5 37v3M138.5 58v1M138.5 64v1M139.5 22v1M139.5 59v1M139.5 62v2M140.5 16v1M140.5 20v1M145.5 74v1M146.5 15v3M146.5 76v1M147.5 11v1M147.5 77v1M149.5 11v1M149.5 33v1M149.5 62v1M149.5 78v1M150.5 15v3M150.5 22v1M150.5 59v1M150.5 78v1M151.5 23v1M152.5 38v6M152.5 54v1M152.5 82v1M153.5 26v1M153.5 38v1M153.5 40v3M153.5 86v1M154.5 28v1M154.5 36v1M154.5 57v1M155.5 62v3"/>
<path stroke="#bfbfbf" d="M3.5 49v1M3.5 74v2M4.5 11v1M4.5 73v1M4.5 77v1M5.5 40v1M8.5 16v1M9.5 7v1M9.5 12v1M10.5 7v4M10.5 71v1M10.5 84v1M11.5 4v2M11.5 8v2M11.5 35v1M12.5 4v1M12.5 8v2M12.5 26v1M13.5 5v3M13.5 26v1M13.5 71v1M13.5 84v1M14.5 25v2M14.5 34v2M15.5 24v1M15.5 30v1M15.5 60v1M15.5 63v1M16.5 24v1M16.5 30v1M16.5 67v3M17.5 25v1M17.5 28v1M18.5 59v1M18.5 75v1M19.5 59v1M19.5 76v1M20.5 44v1M20.5 76v1M21.5 29v1M21.5 53v1M21.5 74v1M22.5 27v2M22.5 66v3M23.5 29v1M29.5 2v1M29.5 5v1M32.5 3v2M35.5 64v1M35.5 74v1M36.5 60v1M36.5 77v1M37.5 35v1M37.5 41v2M37.5 46v15M38.5 55v5M38.5 69v2M39.5 32v1M39.5 44v2M39.5 48v5M45.5 32v2M46.5 31v1M46.5 34v1M48.5 55v1M49.5 46v1M50.5 47v1M51.5 51v1M55.5 50v1M55.5 54v1M56.5 49v1M56.5 56v1M57.5 49v1M57.5 56v1M58.5 50v1M58.5 54v3M59.5 50v1M59.5 55v2M60.5 49v1M60.5 56v1M61.5 49v1M61.5 56v1M62.5 50v1M62.5 54v1M84.5 51v4M85.5 50v1M85.5 55v1M86.5 50v1M86.5 55v1M87.5 52v2M93.5 50v2M93.5 54v1M95.5 56v1M96.5 51v4M104.5 81v1M105.5 81v1M106.5 82v2M132.5 6v1M136.5 4v1M137.5 16v1M137.5 20v1M137.5 38v2M138.5 15v1M138.5 59v5M139.5 15v1M139.5 21v1M139.5 60v2M140.5 17v3M145.5 68v1M145.5 73v1M147.5 21v1M148.5 23v4M148.5 30v1M148.5 64v1M150.5 60v1M151.5 57v1M151.5 78v1M152.5 55v1M152.5 81v1M153.5 37v1M153.5 55v1M154.5 86v1M155.5 65v1M155.5 84v1"/>
<path stroke="#c6c6c6" d="M3.5 18v1M3.5 26v1M3.5 40v1M4.5 12v1M4.5 28v1M4.5 39v1M4.5 49v1M4.5 74v3M5.5 8v1M5.5 41v1M5.5 48v1M6.5 7v1M6.5 28v1M7.5 26v1M8.5 15v1M10.5 72v1M11.5 6v2M11.5 28v1M11.5 70v1M11.5 85v1M12.5 5v3M12.5 27v1M12.5 36v1M12.5 70v1M12.5 85v1M13.5 27v1M13.5 36v1M13.5 72v1M14.5 27v7M15.5 25v1M15.5 29v1M15.5 61v2M16.5 29v1M16.5 59v1M16.5 66v1M17.5 26v2M17.5 59v1M17.5 73v1M20.5 40v1M20.5 56v1M20.5 75v1M21.5 30v1M21.5 46v1M21.5 54v1M22.5 29v1M22.5 45v1M22.5 55v1M22.5 64v2M23.5 30v1M23.5 38v5M31.5 2v1M31.5 5v1M35.5 65v1M35.5 73v1M36.5 61v1M37.5 36v5M37.5 61v2M37.5 76v1M38.5 32v1M38.5 45v10M39.5 43v1M46.5 32v2M48.5 48v1M49.5 57v1M50.5 56v1M55.5 51v3M56.5 50v1M56.5 54v2M57.5 50v1M57.5 53v3M58.5 51v3M59.5 51v4M60.5 50v1M60.5 54v2M61.5 50v1M61.5 54v2M62.5 51v3M85.5 51v4M86.5 51v4M93.5 52v2M94.5 49v1M94.5 56v1M95.5 49v1M104.5 82v2M105.5 82v2M133.5 2v1M134.5 2v1M135.5 6v1M137.5 17v3M138.5 16v1M138.5 20v2M139.5 16v2M139.5 20v1M145.5 69v1M145.5 71v2M146.5 67v1M146.5 75v1M147.5 12v1M147.5 20v1M147.5 76v1M148.5 11v1M148.5 22v1M148.5 27v3M148.5 77v1M149.5 12v1M149.5 21v3M149.5 32v1M149.5 63v1M149.5 77v1M150.5 23v1M150.5 34v1M150.5 77v1M151.5 36v1M152.5 25v1M152.5 37v1M152.5 56v1M152.5 80v1M153.5 56v1M153.5 85v1M154.5 29v1M154.5 35v1M154.5 58v1M155.5 66v1M155.5 83v1"/>
<path stroke="#cccccc" d="M3.5 19v2M3.5 25v1M3.5 41v2M3.5 48v1M4.5 13v1M4.5 40v1M5.5 28v1M5.5 42v1M7.5 7v1M8.5 7v1M8.5 14v1M9.5 8v1M9.5 11v1M10.5 73v1M10.5 83v1M11.5 29v1M11.5 34v1M11.5 71v1M12.5 28v1M12.5 71v1M13.5 28v1M13.5 35v1M13.5 73v1M13.5 83v1M15.5 26v3M16.5 25v1M16.5 28v1M16.5 65v1M18.5 60v1M19.5 60v1M19.5 75v1M20.5 41v3M20.5 57v1M21.5 31v1M21.5 38v1M21.5 45v1M21.5 73v1M22.5 30v1M22.5 56v1M22.5 63v1M23.5 31v1M23.5 37v1M29.5 3v2M30.5 2v1M30.5 5v1M35.5 66v1M35.5 72v1M36.5 62v1M36.5 76v1M37.5 63v1M38.5 43v2M39.5 33v1M39.5 42v1M48.5 54v1M56.5 51v3M57.5 51v2M60.5 51v3M61.5 51v3M94.5 50v1M94.5 55v1M95.5 50v1M95.5 54v2M132.5 3v1M138.5 17v3M139.5 18v2M145.5 70v1M146.5 74v1M147.5 66v1M148.5 21v1M149.5 20v1M149.5 24v1M149.5 31v1M150.5 24v1M150.5 61v1M151.5 24v1M151.5 58v1M151.5 77v1M153.5 27v1M153.5 57v1M154.5 30v1M154.5 59v1M154.5 85v1M155.5 67v2"/>
<path stroke="#d2d2d2" d="M3.5 21v4M3.5 43v5M4.5 14v2M4.5 41v1M4.5 48v1M5.5 9v1M5.5 43v1M5.5 46v2M6.5 27v1M7.5 19v2M7.5 24v2M8.5 13v1M9.5 9v2M10.5 74v1M11.5 30v4M11.5 72v1M12.5 35v1M12.5 72v1M13.5 29v1M13.5 34v1M13.5 74v1M13.5 82v1M16.5 26v2M16.5 60v2M16.5 63v2M17.5 60v1M17.5 72v1M18.5 74v1M19.5 61v1M20.5 58v2M20.5 74v1M21.5 32v2M21.5 36v2M21.5 39v1M21.5 55v1M21.5 72v1M22.5 44v1M22.5 57v6M23.5 32v1M23.5 35v2M30.5 3v2M31.5 3v2M35.5 67v2M35.5 71v1M36.5 63v1M37.5 75v1M38.5 33v1M38.5 42v1M39.5 34v1M39.5 41v1M48.5 49v2M48.5 53v1M49.5 47v1M49.5 56v1M50.5 48v1M50.5 55v1M94.5 51v4M95.5 51v3M132.5 4v2M133.5 6v1M134.5 6v1M135.5 3v1M147.5 13v1M147.5 19v1M147.5 75v1M148.5 12v1M148.5 20v1M148.5 65v1M148.5 76v1M149.5 13v1M149.5 19v1M149.5 25v1M149.5 30v1M150.5 33v1M150.5 62v1M151.5 25v1M151.5 35v1M151.5 59v1M152.5 26v1M152.5 36v1M152.5 57v1M152.5 79v1M153.5 36v1M153.5 84v1M154.5 31v1M154.5 34v1M154.5 60v1M155.5 69v1M155.5 82v1"/>
<path stroke="#d9d9d9" d="M4.5 16v1M4.5 27v1M4.5 42v2M4.5 47v1M5.5 10v3M5.5 44v2M6.5 8v1M7.5 8v1M7.5 17v2M7.5 21v3M8.5 8v1M8.5 12v1M10.5 75v1M10.5 82v1M11.5 73v1M11.5 84v1M12.5 29v1M12.5 34v1M12.5 73v1M12.5 84v1M13.5 30v4M13.5 75v1M16.5 62v1M17.5 61v2M17.5 71v1M18.5 61v1M19.5 74v1M20.5 60v1M21.5 34v2M21.5 40v1M21.5 44v1M21.5 56v1M21.5 71v1M22.5 31v2M22.5 37v3M22.5 43v1M23.5 33v2M35.5 69v2M36.5 75v1M37.5 64v1M38.5 34v1M38.5 41v1M39.5 35v1M39.5 39v2M48.5 51v2M135.5 4v2M146.5 68v1M146.5 72v2M147.5 14v2M147.5 17v2M149.5 14v2M149.5 17v2M149.5 26v4M149.5 64v1M149.5 76v1M150.5 25v1M150.5 32v1M150.5 63v1M150.5 76v1M151.5 60v1M151.5 76v1M152.5 58v1M152.5 78v1M153.5 28v1M153.5 58v1M153.5 83v1M154.5 32v2M154.5 61v2M154.5 84v1M155.5 70v1M155.5 81v1"/>
<path stroke="#dfdfdf" d="M4.5 17v1M4.5 26v1M4.5 44v3M5.5 13v2M5.5 27v1M6.5 9v2M6.5 26v1M7.5 9v1M7.5 13v4M8.5 9v3M10.5 76v1M10.5 81v1M11.5 83v1M12.5 30v1M12.5 32v2M12.5 83v1M13.5 76v1M13.5 80v2M17.5 63v8M18.5 62v2M18.5 73v1M19.5 62v1M20.5 61v2M20.5 73v1M21.5 41v3M21.5 57v3M21.5 62v3M21.5 70v1M22.5 33v4M22.5 40v3M36.5 64v1M37.5 65v1M37.5 74v1M38.5 35v6M39.5 36v3M49.5 48v1M49.5 55v1M50.5 49v2M50.5 53v2M133.5 3v1M133.5 5v1M134.5 3v1M134.5 5v1M146.5 69v3M147.5 16v1M147.5 67v1M147.5 74v1M148.5 13v2M148.5 18v2M148.5 66v1M148.5 75v1M149.5 16v1M149.5 65v1M150.5 26v2M150.5 31v1M150.5 64v1M151.5 26v1M151.5 34v1M151.5 61v1M152.5 27v1M152.5 35v1M152.5 59v1M153.5 29v1M153.5 35v1M153.5 59v1M153.5 82v1M154.5 63v3M154.5 83v1M155.5 71v1M155.5 80v1"/>
<path stroke="#e6e6e6" d="M4.5 18v2M5.5 15v2M6.5 11v8M7.5 10v3M10.5 77v4M11.5 74v1M12.5 31v1M12.5 74v1M13.5 77v3M18.5 64v1M18.5 72v1M19.5 63v1M19.5 73v1M20.5 63v1M20.5 72v1M21.5 60v2M21.5 65v5M36.5 65v1M36.5 74v1M37.5 66v1M37.5 73v1M49.5 49v1M49.5 54v1M50.5 51v2M133.5 4v1M134.5 4v1M147.5 68v1M147.5 73v1M148.5 15v3M149.5 75v1M150.5 28v3M150.5 65v1M150.5 75v1M151.5 27v2M151.5 33v1M151.5 62v2M151.5 75v1M152.5 28v1M152.5 60v2M152.5 76v2M153.5 30v1M153.5 34v1M153.5 60v2M153.5 81v1M154.5 66v2M155.5 72v3M155.5 77v3"/>
<path stroke="#ececec" d="M4.5 20v1M4.5 24v2M5.5 17v2M5.5 26v1M6.5 19v2M6.5 25v1M11.5 75v1M11.5 82v1M12.5 75v1M12.5 82v1M18.5 65v1M18.5 71v1M19.5 64v1M19.5 72v1M20.5 64v2M20.5 71v1M36.5 66v1M36.5 73v1M37.5 67v1M37.5 72v1M49.5 50v4M147.5 69v4M148.5 67v1M148.5 74v1M149.5 66v1M149.5 74v1M150.5 66v1M150.5 74v1M151.5 29v4M151.5 64v2M151.5 74v1M152.5 29v2M152.5 33v2M152.5 62v4M152.5 75v1M153.5 31v3M153.5 62v5M153.5 80v1M154.5 68v2M154.5 81v2M155.5 75v2"/>
<path stroke="#f2f2f2" d="M4.5 21v3M5.5 19v2M5.5 25v1M6.5 21v4M11.5 76v1M11.5 80v2M12.5 76v1M12.5 80v2M18.5 66v5M19.5 65v2M19.5 71v1M20.5 66v5M36.5 67v1M36.5 71v2M37.5 68v4M148.5 68v2M148.5 72v2M149.5 67v1M149.5 73v1M150.5 67v1M150.5 73v1M151.5 66v3M151.5 72v2M152.5 31v2M152.5 66v4M152.5 72v3M153.5 67v3M153.5 79v1M154.5 70v1M154.5 80v1"/>
<path stroke="#f9f9f9" d="M5.5 21v4M11.5 77v3M12.5 77v3M19.5 67v4M36.5 68v3M148.5 70v2M149.5 68v5M150.5 68v5M151.5 69v3M152.5 70v2M153.5 70v3M153.5 76v3M154.5 71v3M154.5 78v2"/>
<path stroke="#ffffff" d="M153.5 73v3M154.5 74v4"/>
</g></g></g>
<rect x="76.0" y="597.7" width="5" height="2" fill="#000"/>
<text x="64.2" y="606.7" font-size="25.7" fill="#000" text-anchor="end" textLength="13.3" lengthAdjust="spacingAndGlyphs">1</text>
<rect x="76.0" y="563.3" width="5" height="2" fill="#000"/>
<text x="64.2" y="572.3" font-size="25.7" fill="#000" text-anchor="end" textLength="13.3" lengthAdjust="spacingAndGlyphs">3</text>
<rect x="76.0" y="528.8" width="5" height="2" fill="#000"/>
<text x="64.2" y="537.8" font-size="25.7" fill="#000" text-anchor="end" textLength="13.3" lengthAdjust="spacingAndGlyphs">5</text>
<rect x="76.0" y="494.4" width="5" height="2" fill="#000"/>
<text x="64.2" y="503.4" font-size="25.7" fill="#000" text-anchor="end" textLength="13.3" lengthAdjust="spacingAndGlyphs">7</text>
<rect x="76.0" y="460.0" width="5" height="2" fill="#000"/>
<text x="64.2" y="469.0" font-size="25.7" fill="#000" text-anchor="end" textLength="13.3" lengthAdjust="spacingAndGlyphs">9</text>
<rect x="76.0" y="425.6" width="5" height="2" fill="#000"/>
<text x="64.2" y="434.6" font-size="25.7" fill="#000" text-anchor="end" textLength="26.7" lengthAdjust="spacingAndGlyphs">11</text>
<rect x="76.0" y="391.1" width="5" height="2" fill="#000"/>
<text x="64.2" y="400.1" font-size="25.7" fill="#000" text-anchor="end" textLength="26.7" lengthAdjust="spacingAndGlyphs">13</text>
<rect x="76.0" y="356.7" width="5" height="2" fill="#000"/>
<text x="64.2" y="365.7" font-size="25.7" fill="#000" text-anchor="end" textLength="26.7" lengthAdjust="spacingAndGlyphs">15</text>
<rect x="80.0" y="598.0" width="2" height="4.5" fill="#000"/>
<text x="79.7" y="636.3" font-size="25" fill="#000" text-anchor="middle" textLength="32.8" lengthAdjust="spacingAndGlyphs">SP</text>
<rect x="193.5" y="598.0" width="2" height="4.5" fill="#000"/>
<text x="197.9" y="636.3" font-size="25" fill="#000" text-anchor="middle" textLength="32.5" lengthAdjust="spacingAndGlyphs">0.5</text>
<rect x="307.0" y="598.0" width="2" height="4.5" fill="#000"/>
<text x="310.8" y="636.3" font-size="25" fill="#000" text-anchor="middle" textLength="32.5" lengthAdjust="spacingAndGlyphs">1.0</text>
<rect x="420.5" y="598.0" width="2" height="4.5" fill="#000"/>
<text x="424.9" y="636.3" font-size="25" fill="#000" text-anchor="middle" textLength="32.5" lengthAdjust="spacingAndGlyphs">1.5</text>
<rect x="534.0" y="598.0" width="2" height="4.5" fill="#000"/>
<text x="531.7" y="636.3" font-size="25" fill="#000" text-anchor="middle" textLength="33.8" lengthAdjust="spacingAndGlyphs">SR</text>
<text x="189.0" y="327.0" font-size="37.5" fill="#000" textLength="236.5" lengthAdjust="spacingAndGlyphs">CA3 Recording</text>
<text x="29.8" y="475.3" font-size="31.5" fill="#000" text-anchor="middle" textLength="97.5" lengthAdjust="spacingAndGlyphs" transform="rotate(-90 29.8 475.3)">Neuron</text>
<text x="309.0" y="679.0" font-size="30.5" fill="#000" text-anchor="middle" textLength="141.0" lengthAdjust="spacingAndGlyphs">Time (sec)</text>
<clipPath id="c2"><rect x="650" y="156" width="451" height="241"/></clipPath>
<filter id="f2" filterUnits="userSpaceOnUse" x="638" y="144" width="477" height="267" color-interpolation-filters="sRGB"><feGaussianBlur color-interpolation-filters="sRGB" stdDeviation="1.5 1.5"/><feComponentTransfer color-interpolation-filters="sRGB"><feFuncR type="table" tableValues="0.078 0.059 0.039 0.02 0 0 0 0 0 0 0 0 0 0 0 0 0 0.015 0.029 0.044 0.059 0.172 0.284 0.397 0.51 0.632 0.755 0.877 1 1 1 1 1 1 1 1 1 1 1 1 1"/><feFuncG type="table" tableValues="0 0 0 0 0 0 0 0 0 0.083 0.167 0.25 0.333 0.382 0.431 0.48 0.529 0.569 0.608 0.647 0.686 0.735 0.784 0.833 0.882 0.912 0.941 0.971 1 0.912 0.824 0.735 0.647 0.529 0.412 0.294 0.176 0.132 0.088 0.044 0"/><feFuncB type="table" tableValues="0.412 0.49 0.569 0.647 0.725 0.794 0.863 0.931 1 0.922 0.843 0.765 0.686 0.593 0.5 0.407 0.314 0.235 0.157 0.078 0 0 0 0 0 0 0 0 0 0 0 0 0 0 0 0 0 0 0 0 0"/></feComponentTransfer></filter>
<g clip-path="url(#c2)"><g filter="url(#f2)"><g transform="translate(638 144) scale(3)" fill="none" stroke-width="1.04">
<rect x="-1" y="-1" width="161" height="91" fill="#595959"/>
<path stroke="#333333" d="M51.5 16v2M52.5 15v3M53.5 15v3"/>
<path stroke="#393939" d="M50.5 16v2M51.5 15v1M51.5 18v1M52.5 14v1M52.5 18v2M53.5 13v2M53.5 18v2M54.5 13v6M55.5 14v4M62.5 78v5M63.5 78v5M64.5 78v5M65.5 78v4"/>
<path stroke="#404040" d="M20.5 4v3M26.5 13v2M27.5 11v5M28.5 12v3M30.5 77v6M31.5 76v8M32.5 76v7M33.5 75v7M34.5 74v4M42.5 35v4M43.5 34v5M43.5 81v2M44.5 34v5M44.5 80v4M45.5 35v3M45.5 81v2M49.5 74v4M50.5 15v1M50.5 18v1M50.5 71v8M51.5 14v1M51.5 19v1M51.5 50v4M51.5 69v10M52.5 13v1M52.5 20v1M52.5 36v19M52.5 71v4M53.5 12v1M53.5 20v1M53.5 35v19M54.5 10v3M54.5 19v1M54.5 35v16M55.5 9v5M55.5 18v1M55.5 35v11M56.5 8v10M56.5 34v10M57.5 8v9M57.5 34v10M58.5 9v7M58.5 34v10M59.5 9v6M59.5 35v10M60.5 10v5M60.5 35v11M61.5 11v4M61.5 35v12M61.5 66v5M61.5 77v7M62.5 12v1M62.5 36v11M62.5 66v5M62.5 76v2M62.5 83v2M63.5 37v4M63.5 42v6M63.5 67v3M63.5 76v2M63.5 83v2M64.5 43v5M64.5 76v2M64.5 83v2M65.5 43v5M65.5 76v2M65.5 82v3M66.5 44v4M66.5 78v6M67.5 45v2M67.5 66v4M68.5 65v5M69.5 66v4M70.5 40v1M71.5 38v5M72.5 38v6M73.5 39v4M73.5 45v5M74.5 16v3M74.5 45v6M75.5 14v8M75.5 45v7M76.5 14v8M76.5 45v7M77.5 16v5M77.5 45v10M78.5 42v14M79.5 39v12M80.5 31v2M80.5 39v11M81.5 41v9M82.5 32v1M82.5 44v6M83.5 30v3M83.5 44v6M84.5 29v4M84.5 45v5M85.5 12v4M85.5 45v5M86.5 12v6M86.5 46v3M87.5 41v2M87.5 77v5M88.5 39v5M88.5 77v6M89.5 39v5M89.5 78v3M90.5 40v2M92.5 80v3M93.5 80v4M94.5 47v2M94.5 80v4M95.5 46v4M96.5 46v4M97.5 28v2M97.5 47v3M98.5 28v3M99.5 28v2M103.5 78v4M104.5 77v6M105.5 77v6M106.5 77v6M107.5 78v4M111.5 77v3M112.5 77v2M120.5 14v3M121.5 13v4M122.5 65v5M126.5 34v5M127.5 35v3M128.5 75v4M129.5 73v9M130.5 73v7M131.5 14v6M132.5 49v7M133.5 50v6M135.5 28v6M136.5 29v4"/>
<path stroke="#464646" d="M6.5 32v1M18.5 30v5M18.5 78v6M19.5 30v6M19.5 77v7M20.5 3v1M20.5 7v1M20.5 30v6M21.5 3v4M21.5 63v2M26.5 11v2M26.5 15v1M27.5 10v1M27.5 16v1M28.5 11v1M28.5 15v2M29.5 12v3M29.5 76v8M30.5 75v2M30.5 83v3M31.5 75v1M31.5 84v2M32.5 74v2M32.5 83v3M33.5 22v3M33.5 74v1M33.5 82v3M34.5 23v1M34.5 73v1M34.5 78v4M35.5 74v4M41.5 34v6M42.5 33v2M42.5 39v2M43.5 33v1M43.5 39v2M43.5 80v1M43.5 83v2M44.5 33v1M44.5 39v1M44.5 79v1M44.5 84v1M45.5 33v2M45.5 38v2M45.5 79v2M45.5 83v1M46.5 34v4M46.5 81v2M48.5 75v5M49.5 16v2M49.5 71v3M49.5 78v4M50.5 14v1M50.5 19v1M50.5 51v8M50.5 68v3M50.5 79v4M51.5 13v1M51.5 20v1M51.5 33v5M51.5 48v2M51.5 54v6M51.5 65v4M51.5 79v3M52.5 12v1M52.5 33v3M52.5 55v5M52.5 66v5M52.5 75v4M53.5 11v1M53.5 21v1M53.5 33v2M53.5 54v4M53.5 71v2M54.5 8v2M54.5 20v1M54.5 33v2M54.5 51v3M55.5 6v3M55.5 19v2M55.5 32v3M55.5 46v4M56.5 6v2M56.5 18v1M56.5 32v2M56.5 44v3M57.5 7v1M57.5 17v1M57.5 32v2M57.5 44v3M58.5 8v1M58.5 16v1M58.5 33v1M58.5 44v3M59.5 8v1M59.5 15v2M59.5 33v2M59.5 45v2M60.5 9v1M60.5 15v2M60.5 33v2M60.5 46v1M60.5 66v6M60.5 79v5M61.5 9v2M61.5 15v2M61.5 33v2M61.5 47v1M61.5 65v1M61.5 71v2M61.5 76v1M61.5 84v1M62.5 10v2M62.5 13v4M62.5 33v3M62.5 47v1M62.5 65v1M62.5 71v2M62.5 75v1M62.5 85v1M63.5 10v7M63.5 34v3M63.5 41v1M63.5 48v1M63.5 65v2M63.5 70v2M63.5 75v1M63.5 85v1M64.5 11v3M64.5 36v7M64.5 48v1M64.5 66v4M64.5 75v1M64.5 85v1M65.5 40v3M65.5 48v1M65.5 75v1M65.5 85v1M66.5 42v2M66.5 48v1M66.5 66v4M66.5 76v2M66.5 84v1M67.5 43v2M67.5 47v1M67.5 65v1M67.5 70v2M67.5 79v4M68.5 43v5M68.5 64v1M68.5 70v2M69.5 43v4M69.5 65v1M69.5 70v1M70.5 37v3M70.5 41v6M70.5 65v4M71.5 37v1M71.5 43v5M72.5 37v1M72.5 44v6M73.5 38v1M73.5 43v2M73.5 50v1M74.5 12v4M74.5 19v3M74.5 41v4M74.5 51v1M75.5 11v3M75.5 22v2M75.5 43v2M75.5 52v1M76.5 11v3M76.5 22v2M76.5 43v2M76.5 52v2M77.5 13v3M77.5 21v2M77.5 43v2M77.5 55v2M78.5 40v2M78.5 56v1M79.5 27v7M79.5 38v1M79.5 51v4M80.5 28v3M80.5 33v6M80.5 50v2M81.5 29v7M81.5 39v2M81.5 50v1M82.5 29v3M82.5 33v2M82.5 42v2M82.5 50v1M83.5 28v2M83.5 33v1M83.5 43v1M83.5 50v1M84.5 26v3M84.5 33v1M84.5 44v1M84.5 50v1M84.5 65v3M85.5 11v1M85.5 16v3M85.5 26v8M85.5 44v1M85.5 50v1M85.5 65v5M86.5 10v2M86.5 18v2M86.5 42v4M86.5 49v2M86.5 66v3M86.5 79v4M87.5 38v3M87.5 43v7M87.5 76v1M87.5 82v2M88.5 37v2M88.5 44v5M88.5 75v2M88.5 83v1M89.5 38v1M89.5 44v1M89.5 76v2M89.5 81v3M90.5 39v1M90.5 42v2M90.5 79v3M91.5 40v2M91.5 80v4M92.5 79v1M92.5 83v2M93.5 79v1M93.5 84v1M94.5 45v2M94.5 49v2M94.5 79v1M94.5 84v1M95.5 45v1M95.5 50v2M96.5 28v2M96.5 45v1M96.5 50v2M97.5 27v1M97.5 30v1M97.5 45v2M97.5 50v2M98.5 27v1M98.5 31v1M98.5 46v5M98.5 64v5M99.5 27v1M99.5 30v1M99.5 48v1M99.5 63v6M100.5 5v2M100.5 27v2M100.5 63v6M101.5 4v4M101.5 64v4M102.5 4v4M102.5 78v5M103.5 5v2M103.5 77v1M103.5 82v2M104.5 76v1M104.5 83v1M105.5 76v1M105.5 83v2M106.5 76v1M106.5 83v2M107.5 77v1M107.5 82v2M108.5 78v5M109.5 79v2M110.5 77v5M111.5 20v4M111.5 75v2M111.5 80v3M112.5 74v3M112.5 79v3M117.5 9v1M120.5 12v2M120.5 17v2M121.5 12v1M121.5 17v1M121.5 65v4M122.5 64v1M122.5 70v1M124.5 37v3M125.5 33v8M126.5 32v2M126.5 39v2M127.5 33v2M127.5 38v2M128.5 72v3M128.5 79v4M129.5 71v2M129.5 82v2M130.5 14v6M130.5 71v2M130.5 80v3M131.5 12v2M131.5 20v1M132.5 15v4M132.5 47v2M132.5 56v2M133.5 48v2M133.5 56v2M134.5 53v3M135.5 27v1M135.5 34v1M136.5 28v1M136.5 33v2M140.5 38v4M141.5 39v4"/>
<path stroke="#4c4c4c" d="M3.5 30v3M4.5 29v5M5.5 30v4M6.5 30v2M6.5 33v2M7.5 31v5M17.5 29v8M18.5 28v2M18.5 35v4M18.5 76v2M18.5 84v2M19.5 3v4M19.5 27v3M19.5 36v3M19.5 75v2M19.5 84v2M20.5 2v1M20.5 28v2M20.5 36v3M20.5 61v7M21.5 2v1M21.5 30v7M21.5 61v2M21.5 65v2M22.5 33v1M22.5 62v3M25.5 13v3M26.5 10v1M26.5 16v1M27.5 9v1M27.5 17v1M28.5 10v1M28.5 17v1M28.5 78v6M29.5 11v1M29.5 15v2M29.5 75v1M29.5 84v3M30.5 74v1M30.5 86v1M31.5 74v1M31.5 86v2M32.5 86v1M33.5 21v1M33.5 73v1M33.5 85v2M34.5 22v1M34.5 24v1M34.5 82v3M35.5 73v1M35.5 78v3M40.5 34v7M41.5 32v2M41.5 40v2M42.5 32v1M42.5 41v1M42.5 82v2M43.5 32v1M43.5 41v1M43.5 79v1M43.5 85v1M44.5 32v1M44.5 40v1M44.5 78v1M44.5 85v1M45.5 32v1M45.5 40v1M45.5 84v1M46.5 32v2M46.5 38v1M46.5 79v2M46.5 83v1M47.5 33v4M47.5 78v5M48.5 32v4M48.5 73v2M48.5 80v3M49.5 14v2M49.5 18v2M49.5 31v5M49.5 54v5M49.5 69v2M49.5 82v3M50.5 13v1M50.5 20v1M50.5 28v9M50.5 50v1M50.5 59v2M50.5 65v3M50.5 83v2M51.5 21v1M51.5 27v6M51.5 38v2M51.5 46v2M51.5 60v5M51.5 82v3M52.5 11v1M52.5 21v2M52.5 27v6M52.5 60v6M52.5 79v4M53.5 9v2M53.5 22v1M53.5 27v6M53.5 58v3M53.5 67v4M53.5 73v3M54.5 6v2M54.5 21v2M54.5 27v6M54.5 54v2M55.5 4v2M55.5 21v1M55.5 29v3M55.5 50v2M56.5 4v2M56.5 19v1M56.5 30v2M56.5 47v2M57.5 6v1M57.5 18v1M57.5 31v1M57.5 47v1M58.5 7v1M58.5 17v1M58.5 31v2M58.5 47v1M59.5 32v1M59.5 47v1M59.5 67v5M60.5 8v1M60.5 32v1M60.5 47v1M60.5 65v1M60.5 72v1M60.5 77v2M60.5 84v2M61.5 17v1M61.5 32v1M61.5 48v1M61.5 64v1M61.5 73v3M61.5 85v2M62.5 9v1M62.5 17v1M62.5 31v2M62.5 48v1M62.5 64v1M62.5 73v2M62.5 86v1M63.5 9v1M63.5 17v2M63.5 32v2M63.5 49v1M63.5 64v1M63.5 72v3M63.5 86v1M64.5 10v1M64.5 14v4M64.5 35v1M64.5 49v1M64.5 64v2M64.5 70v5M64.5 86v1M65.5 38v2M65.5 49v1M65.5 65v7M65.5 73v2M65.5 86v1M66.5 40v2M66.5 49v1M66.5 64v2M66.5 70v2M66.5 74v2M66.5 85v1M67.5 41v2M67.5 48v1M67.5 64v1M67.5 72v1M67.5 77v2M67.5 83v2M68.5 40v3M68.5 48v1M68.5 72v1M69.5 38v5M69.5 47v1M69.5 64v1M69.5 71v1M70.5 36v1M70.5 47v1M70.5 69v1M71.5 35v2M71.5 48v1M71.5 66v2M72.5 36v1M72.5 50v1M73.5 14v4M73.5 37v1M73.5 51v1M74.5 11v1M74.5 22v1M74.5 40v1M74.5 52v1M75.5 10v1M75.5 42v1M75.5 53v1M76.5 10v1M76.5 54v2M77.5 11v2M77.5 23v1M77.5 42v1M77.5 57v1M78.5 13v12M78.5 39v1M78.5 57v1M79.5 25v2M79.5 34v4M79.5 55v1M80.5 27v1M80.5 52v1M81.5 28v1M81.5 36v3M81.5 51v1M82.5 28v1M82.5 35v1M82.5 41v1M82.5 51v1M83.5 27v1M83.5 34v1M83.5 51v1M84.5 25v1M84.5 34v1M84.5 43v1M84.5 51v1M84.5 68v2M85.5 10v1M85.5 19v2M85.5 24v2M85.5 34v1M85.5 43v1M85.5 51v1M85.5 64v1M85.5 70v1M86.5 20v2M86.5 25v9M86.5 40v2M86.5 51v1M86.5 65v1M86.5 69v2M86.5 77v2M86.5 83v2M87.5 12v5M87.5 36v2M87.5 50v2M87.5 74v2M87.5 84v2M88.5 49v2M88.5 74v1M88.5 84v2M89.5 37v1M89.5 45v2M89.5 75v1M89.5 84v1M90.5 38v1M90.5 44v1M90.5 76v3M90.5 82v2M91.5 39v1M91.5 42v1M91.5 78v2M91.5 84v1M92.5 12v4M92.5 40v3M92.5 78v1M92.5 85v1M93.5 13v2M93.5 44v6M93.5 78v1M93.5 85v1M94.5 44v1M94.5 51v1M94.5 78v1M94.5 85v1M95.5 52v1M95.5 67v4M95.5 82v1M96.5 27v1M96.5 30v1M96.5 52v1M96.5 62v9M97.5 31v1M97.5 52v1M97.5 61v10M98.5 45v1M98.5 51v2M98.5 61v3M98.5 69v2M99.5 3v5M99.5 26v1M99.5 46v2M99.5 49v3M99.5 61v2M99.5 69v2M100.5 3v2M100.5 7v2M100.5 29v1M100.5 61v2M100.5 69v1M101.5 3v1M101.5 8v1M101.5 62v2M101.5 68v2M101.5 78v5M102.5 3v1M102.5 8v1M102.5 62v8M102.5 77v1M102.5 83v2M103.5 3v2M103.5 7v2M103.5 64v5M103.5 76v1M103.5 84v1M104.5 5v1M104.5 75v1M104.5 84v2M105.5 75v1M105.5 85v1M106.5 53v1M106.5 75v1M106.5 85v1M107.5 53v2M107.5 76v1M107.5 84v2M108.5 53v2M108.5 77v1M108.5 83v2M109.5 53v2M109.5 77v2M109.5 81v3M110.5 20v3M110.5 52v4M110.5 75v2M110.5 82v2M111.5 19v1M111.5 24v1M111.5 52v4M111.5 74v1M111.5 83v2M112.5 52v4M112.5 73v1M112.5 82v2M113.5 52v4M113.5 75v5M114.5 52v4M115.5 52v4M116.5 8v2M116.5 52v4M117.5 8v1M117.5 10v1M117.5 52v4M118.5 53v3M120.5 19v1M121.5 11v1M121.5 18v1M121.5 34v7M121.5 64v1M121.5 69v2M122.5 34v8M122.5 63v1M122.5 71v1M123.5 35v7M123.5 65v5M124.5 33v4M124.5 40v2M125.5 30v3M125.5 41v2M126.5 31v1M126.5 41v2M127.5 40v2M128.5 35v3M128.5 71v1M128.5 83v2M129.5 70v1M129.5 84v2M130.5 12v2M130.5 20v1M130.5 69v2M130.5 83v2M131.5 11v1M131.5 21v1M131.5 49v8M131.5 71v7M132.5 13v2M132.5 19v2M132.5 45v2M132.5 58v2M133.5 46v2M133.5 58v2M134.5 51v2M134.5 56v3M135.5 26v1M135.5 35v1M136.5 27v1M136.5 35v1M139.5 37v3M140.5 37v1M140.5 42v1M140.5 63v3M141.5 38v1M142.5 39v4"/>
<path stroke="#535353" d="M1.5 29v6M2.5 28v7M3.5 28v2M3.5 33v2M4.5 34v1M5.5 29v1M5.5 34v1M6.5 29v1M6.5 35v1M7.5 30v1M7.5 36v1M8.5 31v2M16.5 32v6M17.5 28v1M17.5 37v3M17.5 79v9M18.5 27v1M18.5 39v2M18.5 74v2M18.5 86v3M19.5 1v2M19.5 7v1M19.5 26v1M19.5 39v3M19.5 63v5M19.5 73v2M19.5 86v3M20.5 0v2M20.5 8v1M20.5 27v1M20.5 39v1M20.5 60v1M20.5 68v1M20.5 78v10M21.5 1v1M21.5 7v1M21.5 28v2M21.5 37v1M21.5 60v1M21.5 67v1M22.5 30v3M22.5 34v3M22.5 60v2M22.5 65v1M23.5 33v2M25.5 12v1M28.5 9v1M28.5 76v2M28.5 84v5M29.5 10v1M29.5 17v1M29.5 74v1M29.5 87v2M30.5 11v7M30.5 87v2M31.5 88v1M32.5 73v1M32.5 87v2M33.5 20v1M33.5 25v1M33.5 87v2M34.5 21v1M34.5 25v1M34.5 72v1M34.5 85v4M35.5 81v7M36.5 75v3M39.5 33v5M39.5 57v2M40.5 32v2M40.5 41v2M40.5 57v3M41.5 31v1M41.5 42v1M42.5 31v1M42.5 42v1M42.5 81v1M42.5 84v1M43.5 31v1M43.5 86v1M44.5 31v1M44.5 41v1M44.5 86v1M45.5 8v2M45.5 31v1M45.5 41v1M45.5 78v1M45.5 85v2M46.5 31v1M46.5 39v1M46.5 78v1M46.5 84v3M47.5 31v2M47.5 37v1M47.5 76v2M47.5 83v5M48.5 30v2M48.5 36v1M48.5 72v1M48.5 83v6M49.5 20v1M49.5 27v4M49.5 36v1M49.5 52v2M49.5 59v1M49.5 68v1M49.5 85v4M50.5 21v7M50.5 37v1M50.5 49v1M50.5 61v4M50.5 85v4M51.5 12v1M51.5 22v5M51.5 40v6M51.5 85v4M52.5 23v4M52.5 83v6M53.5 8v1M53.5 23v4M53.5 61v6M53.5 76v2M54.5 1v5M54.5 23v4M54.5 56v3M54.5 68v4M55.5 0v4M55.5 22v1M55.5 26v3M55.5 52v1M56.5 0v4M56.5 20v1M56.5 28v2M56.5 49v1M57.5 0v2M57.5 5v1M57.5 30v1M58.5 6v1M58.5 69v2M59.5 7v1M59.5 17v1M59.5 31v1M59.5 65v2M59.5 72v1M59.5 83v4M60.5 17v1M60.5 31v1M60.5 48v1M60.5 64v1M60.5 73v4M60.5 86v3M61.5 8v1M61.5 18v1M61.5 30v2M61.5 87v2M62.5 18v2M62.5 30v1M62.5 49v1M62.5 63v1M62.5 87v2M63.5 19v2M63.5 30v2M63.5 63v1M63.5 87v2M64.5 9v1M64.5 18v4M64.5 33v2M64.5 50v1M64.5 63v1M64.5 87v2M65.5 10v6M65.5 37v1M65.5 50v1M65.5 64v1M65.5 72v1M65.5 87v2M66.5 39v1M66.5 63v1M66.5 72v2M66.5 86v3M67.5 40v1M67.5 49v1M67.5 63v1M67.5 73v4M67.5 85v3M68.5 39v1M68.5 63v1M69.5 36v2M69.5 48v1M69.5 63v1M70.5 34v2M70.5 48v1M70.5 64v1M70.5 70v1M71.5 33v2M71.5 49v1M71.5 65v1M71.5 68v1M72.5 34v2M73.5 11v3M73.5 18v2M73.5 52v1M74.5 10v1M74.5 23v2M74.5 39v1M74.5 53v1M75.5 24v1M75.5 54v1M76.5 24v1M76.5 42v1M76.5 56v1M77.5 10v1M77.5 24v1M77.5 41v1M78.5 11v2M78.5 25v3M78.5 38v1M78.5 79v6M79.5 24v1M79.5 56v1M80.5 26v1M80.5 53v1M81.5 27v1M81.5 52v1M82.5 27v1M82.5 36v1M82.5 40v1M83.5 26v1M83.5 35v1M83.5 42v1M83.5 65v3M84.5 24v1M84.5 42v1M84.5 64v1M85.5 9v1M85.5 21v3M85.5 42v1M85.5 63v1M86.5 9v1M86.5 22v3M86.5 34v6M86.5 52v1M86.5 64v1M86.5 71v1M86.5 75v2M86.5 85v2M87.5 11v1M87.5 17v3M87.5 35v1M87.5 52v1M87.5 65v9M87.5 86v3M88.5 36v1M88.5 51v2M88.5 73v1M88.5 86v3M89.5 47v2M89.5 73v2M89.5 85v3M90.5 37v1M90.5 74v2M90.5 84v3M91.5 13v3M91.5 38v1M91.5 43v1M91.5 76v2M91.5 85v2M92.5 39v1M92.5 43v2M92.5 76v2M92.5 86v1M93.5 12v1M93.5 15v1M93.5 42v2M93.5 50v1M93.5 76v2M93.5 86v2M94.5 52v2M94.5 65v10M94.5 77v1M94.5 86v1M95.5 28v1M95.5 44v1M95.5 53v1M95.5 61v6M95.5 71v2M95.5 81v1M95.5 83v2M96.5 31v1M96.5 44v1M96.5 53v2M96.5 60v2M96.5 71v1M97.5 26v1M97.5 32v1M97.5 44v1M97.5 53v3M97.5 59v2M97.5 71v1M98.5 3v5M98.5 26v1M98.5 32v1M98.5 44v1M98.5 53v3M98.5 59v2M98.5 71v1M99.5 1v2M99.5 8v1M99.5 31v1M99.5 45v1M99.5 52v4M99.5 59v2M99.5 71v1M100.5 1v2M100.5 9v1M100.5 26v1M100.5 48v7M100.5 60v1M100.5 70v1M100.5 78v8M101.5 1v2M101.5 9v1M101.5 27v2M101.5 52v3M101.5 60v2M101.5 70v1M101.5 77v1M101.5 83v4M102.5 1v2M102.5 9v1M102.5 52v4M102.5 61v1M102.5 70v1M102.5 76v1M102.5 85v3M103.5 1v2M103.5 9v1M103.5 52v4M103.5 62v2M103.5 69v2M103.5 75v1M103.5 85v3M104.5 2v3M104.5 6v2M104.5 52v4M104.5 74v1M104.5 86v3M105.5 52v4M105.5 74v1M105.5 86v3M106.5 52v1M106.5 54v2M106.5 86v3M107.5 52v1M107.5 55v1M107.5 75v1M107.5 86v2M108.5 52v1M108.5 55v1M108.5 76v1M108.5 85v3M109.5 52v1M109.5 55v1M109.5 76v1M109.5 84v4M110.5 18v2M110.5 23v1M110.5 74v1M110.5 84v4M111.5 25v1M111.5 73v1M111.5 85v3M112.5 23v1M112.5 56v1M112.5 84v3M113.5 74v1M113.5 80v1M114.5 56v1M115.5 56v1M116.5 10v1M116.5 56v1M117.5 11v1M117.5 56v1M118.5 52v1M118.5 56v1M119.5 14v1M119.5 53v3M120.5 11v1M120.5 20v2M121.5 10v1M121.5 19v1M121.5 31v3M121.5 41v1M121.5 63v1M121.5 71v1M122.5 33v1M122.5 42v1M122.5 62v1M122.5 72v1M123.5 33v2M123.5 42v1M123.5 64v1M123.5 70v1M124.5 32v1M124.5 42v2M125.5 29v1M125.5 43v1M126.5 30v1M126.5 43v1M127.5 32v1M127.5 72v6M128.5 34v1M128.5 38v2M128.5 70v1M128.5 85v4M129.5 68v2M129.5 86v3M130.5 11v1M130.5 21v1M130.5 68v1M130.5 85v4M131.5 10v1M131.5 46v3M131.5 57v3M131.5 68v3M131.5 78v3M132.5 11v2M132.5 44v1M132.5 60v2M133.5 14v4M133.5 45v1M133.5 60v2M134.5 28v4M134.5 49v2M134.5 59v2M135.5 25v1M135.5 36v1M135.5 57v1M136.5 26v1M136.5 36v1M137.5 29v7M139.5 36v1M139.5 40v1M139.5 62v4M140.5 62v1M140.5 66v1M141.5 43v1"/>
<path stroke="#606060" d="M0.5 4v3M1.5 2v1M1.5 8v1M1.5 44v3M1.5 49v6M1.5 65v9M1.5 84v2M2.5 1v1M2.5 10v1M2.5 21v5M2.5 37v1M2.5 88v1M3.5 27v1M4.5 0v1M4.5 35v1M5.5 0v1M6.5 0v1M6.5 28v1M6.5 37v1M7.5 0v1M7.5 38v2M7.5 88v1M8.5 35v1M8.5 87v1M9.5 87v1M10.5 87v1M11.5 87v1M13.5 1v2M13.5 86v1M14.5 4v2M14.5 85v2M15.5 2v2M15.5 50v1M15.5 85v2M16.5 1v2M16.5 29v1M16.5 42v3M16.5 49v1M16.5 83v2M17.5 2v1M17.5 27v1M17.5 43v3M17.5 76v1M18.5 3v2M18.5 26v1M18.5 45v3M18.5 72v1M19.5 8v1M19.5 24v1M19.5 48v4M19.5 60v1M19.5 70v2M20.5 9v1M20.5 24v1M20.5 41v2M20.5 50v5M20.5 57v2M20.5 70v1M20.5 74v2M21.5 8v1M21.5 27v1M21.5 39v1M21.5 58v1M21.5 85v2M22.5 1v2M22.5 29v1M22.5 58v2M22.5 67v1M22.5 87v1M23.5 0v1M23.5 30v1M23.5 37v1M23.5 59v2M23.5 65v1M23.5 88v1M24.5 13v1M24.5 15v1M24.5 31v1M24.5 37v1M24.5 60v2M24.5 87v2M25.5 0v1M25.5 31v1M25.5 36v2M25.5 65v1M25.5 67v1M25.5 87v1M26.5 1v1M26.5 65v1M26.5 68v1M26.5 85v2M27.5 2v1M27.5 7v1M27.5 80v3M28.5 1v1M28.5 8v1M28.5 19v1M28.5 74v1M29.5 20v1M29.5 73v1M30.5 9v1M30.5 21v2M31.5 1v1M31.5 9v1M31.5 25v2M32.5 2v1M32.5 8v1M32.5 26v1M32.5 72v1M33.5 4v7M33.5 17v2M33.5 26v1M34.5 6v2M34.5 20v1M34.5 26v1M35.5 5v1M35.5 72v1M36.5 4v1M36.5 73v1M37.5 3v1M37.5 81v3M38.5 3v1M38.5 31v4M38.5 55v4M38.5 85v2M39.5 3v1M39.5 30v1M39.5 41v2M39.5 51v5M39.5 87v1M40.5 3v1M40.5 29v1M40.5 45v3M40.5 87v2M41.5 3v2M41.5 28v2M41.5 44v1M41.5 87v1M42.5 4v1M42.5 28v2M42.5 43v1M42.5 79v1M43.5 4v2M43.5 29v1M43.5 43v1M44.5 4v5M44.5 29v1M45.5 3v4M45.5 10v1M45.5 29v1M45.5 42v1M45.5 77v1M46.5 2v2M46.5 10v1M46.5 28v2M46.5 41v1M46.5 76v1M47.5 1v1M47.5 26v3M48.5 0v1M48.5 14v13M48.5 37v1M48.5 54v2M48.5 57v2M48.5 70v1M49.5 12v1M49.5 37v1M49.5 50v1M49.5 61v1M49.5 65v2M50.5 39v1M50.5 48v1M51.5 0v1M52.5 1v1M52.5 9v1M53.5 3v3M54.5 74v1M54.5 84v1M55.5 55v2M55.5 60v6M55.5 71v1M55.5 85v2M56.5 22v1M56.5 26v1M56.5 51v1M56.5 63v5M56.5 70v2M56.5 86v1M57.5 20v1M57.5 28v1M57.5 49v1M57.5 63v4M57.5 71v1M57.5 86v1M58.5 2v1M58.5 5v1M58.5 19v1M58.5 29v1M58.5 64v1M58.5 72v1M58.5 84v2M59.5 1v1M59.5 29v1M59.5 63v1M59.5 74v1M59.5 78v2M60.5 0v1M60.5 7v1M60.5 29v1M60.5 49v1M60.5 63v1M61.5 0v1M61.5 19v1M62.5 21v1M62.5 27v1M62.5 62v1M63.5 8v1M64.5 26v6M64.5 51v1M64.5 61v1M65.5 0v1M65.5 22v2M65.5 35v1M65.5 51v1M65.5 61v1M66.5 0v1M66.5 9v4M66.5 37v1M66.5 62v1M67.5 38v1M67.5 50v1M68.5 37v1M68.5 74v1M68.5 77v2M69.5 33v2M69.5 49v1M69.5 62v1M69.5 86v2M70.5 29v1M70.5 71v1M70.5 88v1M71.5 28v1M71.5 63v1M71.5 88v1M72.5 11v1M72.5 28v1M72.5 52v1M72.5 62v3M72.5 68v1M73.5 20v1M73.5 35v1M73.5 60v5M73.5 67v1M74.5 0v1M74.5 9v1M74.5 38v1M74.5 55v13M75.5 0v1M75.5 9v1M75.5 25v1M75.5 57v9M75.5 88v1M76.5 0v1M76.5 9v1M76.5 25v1M76.5 41v1M76.5 59v2M76.5 87v2M77.5 0v1M77.5 85v3M78.5 31v2M78.5 37v1M78.5 58v1M78.5 76v1M79.5 18v4M79.5 57v1M79.5 81v6M80.5 55v1M80.5 87v1M81.5 26v1M81.5 53v1M81.5 87v1M82.5 26v1M82.5 87v1M83.5 37v1M83.5 40v1M83.5 69v1M83.5 86v2M84.5 0v1M84.5 22v1M84.5 36v1M84.5 41v1M84.5 85v2M85.5 0v1M85.5 36v5M85.5 62v1M85.5 72v1M85.5 78v2M86.5 53v1M86.5 62v1M87.5 0v1M87.5 10v1M87.5 21v11M87.5 54v1M87.5 62v2M88.5 0v1M88.5 11v1M88.5 16v1M88.5 35v1M88.5 54v2M88.5 62v6M89.5 0v1M89.5 11v1M89.5 15v1M89.5 51v2M89.5 63v8M90.5 0v1M90.5 11v1M90.5 15v1M90.5 46v1M90.5 63v9M91.5 0v1M91.5 11v1M91.5 17v2M91.5 37v1M91.5 45v1M91.5 62v9M92.5 0v1M92.5 17v1M92.5 46v2M92.5 60v8M93.5 16v1M93.5 39v2M93.5 52v11M94.5 1v1M94.5 12v3M95.5 1v1M95.5 26v1M95.5 31v1M95.5 43v1M95.5 75v1M95.5 79v1M96.5 2v1M96.5 73v1M96.5 87v1M97.5 3v5M97.5 33v1M97.5 73v1M97.5 87v1M98.5 25v1M98.5 33v1M98.5 43v1M98.5 73v1M98.5 85v2M99.5 25v1M99.5 43v1M99.5 72v2M99.5 76v5M100.5 10v1M100.5 25v1M100.5 45v1M100.5 76v1M101.5 11v1M101.5 25v1M101.5 48v2M101.5 71v1M101.5 76v1M102.5 12v2M102.5 24v4M102.5 50v1M102.5 57v2M102.5 72v1M102.5 75v1M103.5 12v5M103.5 57v3M103.5 73v1M104.5 9v1M104.5 51v1M104.5 57v6M105.5 5v2M105.5 51v1M105.5 56v2M105.5 72v1M106.5 2v2M106.5 51v1M106.5 56v1M107.5 2v2M107.5 51v1M107.5 56v1M107.5 74v1M108.5 2v1M108.5 51v1M108.5 56v1M109.5 1v1M109.5 9v1M109.5 13v7M110.5 9v1M110.5 24v1M110.5 57v1M110.5 73v1M111.5 0v1M111.5 10v1M111.5 14v4M111.5 26v1M111.5 57v1M111.5 71v1M112.5 0v1M112.5 11v1M112.5 20v1M112.5 25v1M112.5 57v1M113.5 0v1M113.5 57v1M113.5 82v1M113.5 84v3M114.5 0v1M114.5 57v1M114.5 88v1M115.5 1v1M115.5 9v1M115.5 57v1M116.5 11v1M116.5 57v2M117.5 2v1M117.5 58v1M117.5 61v4M118.5 1v1M118.5 9v1M118.5 12v1M118.5 58v5M118.5 66v1M119.5 1v1M119.5 11v1M119.5 19v3M119.5 51v1M119.5 57v2M119.5 60v2M119.5 67v1M120.5 1v1M120.5 10v1M120.5 23v3M120.5 36v2M120.5 41v1M120.5 53v3M120.5 61v2M120.5 69v2M120.5 87v2M121.5 1v1M121.5 21v1M121.5 27v2M121.5 43v1M121.5 61v1M121.5 73v1M121.5 84v2M122.5 3v1M122.5 9v1M122.5 15v1M122.5 31v1M122.5 61v1M122.5 73v1M122.5 85v1M123.5 6v5M123.5 31v1M123.5 44v1M123.5 62v1M123.5 86v2M124.5 11v2M124.5 30v1M124.5 44v1M124.5 64v6M124.5 87v1M125.5 14v4M125.5 25v2M125.5 45v1M125.5 67v3M125.5 87v1M126.5 9v3M126.5 45v2M126.5 68v4M126.5 85v2M127.5 6v3M127.5 43v1M127.5 67v3M128.5 4v5M128.5 32v1M128.5 40v1M128.5 66v2M129.5 3v1M129.5 8v6M129.5 37v2M129.5 62v5M130.5 9v1M130.5 58v7M131.5 2v1M131.5 9v1M131.5 42v1M132.5 22v1M132.5 41v1M132.5 67v7M132.5 85v2M133.5 1v1M133.5 10v1M133.5 22v1M133.5 42v2M133.5 65v1M133.5 87v1M134.5 1v1M134.5 10v1M134.5 36v2M134.5 47v1M134.5 63v1M134.5 87v1M135.5 1v1M135.5 11v3M135.5 53v1M135.5 62v1M135.5 87v1M136.5 1v1M136.5 25v1M136.5 37v1M136.5 55v2M136.5 62v1M136.5 86v2M137.5 27v1M137.5 37v1M137.5 56v1M137.5 62v1M137.5 86v1M138.5 10v1M138.5 28v3M138.5 38v1M138.5 56v1M138.5 62v2M139.5 2v1M139.5 10v4M139.5 35v1M139.5 42v1M139.5 55v2M139.5 86v1M140.5 3v1M140.5 9v1M140.5 13v10M140.5 36v1M140.5 44v1M140.5 57v5M140.5 86v1M141.5 3v2M141.5 7v2M141.5 13v9M141.5 77v3M141.5 86v1M142.5 4v5M142.5 12v9M142.5 86v1M143.5 3v2M143.5 7v14M143.5 39v1M143.5 42v1M144.5 2v1M144.5 12v8M144.5 87v1M145.5 1v1M145.5 18v1M145.5 87v1M146.5 0v1M146.5 86v1M147.5 87v1M148.5 87v1M150.5 88v1M153.5 0v1M154.5 1v2M155.5 4v3M155.5 16v4M155.5 22v5M155.5 28v2M156.5 10v1M156.5 31v1M156.5 54v3M156.5 64v5M156.5 83v3M157.5 33v3M157.5 43v3M157.5 58v2M157.5 62v2"/>
<path stroke="#666666" d="M1.5 3v1M1.5 7v1M1.5 47v2M1.5 55v2M1.5 62v3M1.5 74v2M1.5 82v2M2.5 9v1M2.5 38v5M2.5 87v1M3.5 1v1M3.5 13v3M3.5 18v3M3.5 26v1M3.5 36v1M4.5 27v1M4.5 36v1M5.5 36v1M7.5 1v1M7.5 40v1M8.5 0v1M8.5 29v1M8.5 36v1M8.5 86v1M9.5 86v1M10.5 86v1M11.5 86v1M12.5 86v1M13.5 3v1M13.5 85v1M14.5 6v1M14.5 47v1M14.5 84v1M15.5 36v10M15.5 47v1M15.5 84v1M16.5 28v1M16.5 45v2M16.5 48v1M16.5 50v1M16.5 81v2M17.5 3v1M17.5 46v2M17.5 75v1M18.5 48v2M18.5 71v1M19.5 52v3M19.5 58v2M20.5 21v3M20.5 43v7M20.5 55v2M20.5 71v3M21.5 26v1M21.5 54v4M21.5 69v1M21.5 83v2M22.5 3v4M22.5 28v1M22.5 38v1M22.5 56v2M22.5 86v1M23.5 13v3M23.5 56v3M23.5 66v1M23.5 87v1M24.5 0v1M24.5 12v1M24.5 16v1M24.5 30v1M24.5 38v1M24.5 55v5M24.5 62v2M24.5 86v1M25.5 10v1M25.5 17v1M25.5 30v1M25.5 38v1M25.5 53v8M25.5 68v1M25.5 86v1M26.5 2v1M26.5 8v1M26.5 33v4M26.5 84v1M27.5 3v2M27.5 6v1M27.5 19v1M27.5 78v2M28.5 2v1M28.5 20v1M28.5 73v1M29.5 1v1M29.5 21v1M30.5 1v1M30.5 23v1M30.5 72v1M31.5 8v1M31.5 27v2M31.5 72v1M32.5 3v1M32.5 7v1M32.5 27v1M33.5 11v6M34.5 8v1M35.5 6v1M36.5 5v1M36.5 72v1M37.5 4v1M37.5 78v3M38.5 4v1M38.5 30v1M38.5 35v1M38.5 53v2M38.5 59v1M38.5 84v1M39.5 4v1M39.5 29v1M39.5 43v8M39.5 86v1M40.5 4v1M40.5 27v2M40.5 48v8M40.5 60v1M40.5 86v1M41.5 5v1M41.5 24v4M41.5 45v1M41.5 83v4M42.5 5v1M42.5 24v4M42.5 44v1M42.5 58v1M43.5 6v1M43.5 25v4M43.5 77v1M44.5 9v1M44.5 25v4M44.5 43v1M44.5 76v1M45.5 25v4M45.5 76v1M46.5 4v3M46.5 25v3M46.5 75v1M47.5 2v1M47.5 23v3M47.5 39v1M47.5 73v1M48.5 1v1M48.5 12v2M48.5 38v1M48.5 53v1M48.5 69v1M49.5 0v1M49.5 38v1M49.5 62v3M50.5 0v1M50.5 11v1M50.5 40v2M51.5 1v1M51.5 10v1M52.5 2v2M52.5 7v2M54.5 75v1M54.5 83v1M55.5 57v3M55.5 72v1M55.5 84v1M56.5 23v3M56.5 52v1M56.5 61v2M56.5 72v1M56.5 85v1M57.5 27v1M57.5 62v1M57.5 72v1M57.5 85v1M58.5 3v2M58.5 28v1M58.5 49v1M58.5 63v1M58.5 73v1M58.5 83v1M59.5 6v1M59.5 19v1M59.5 49v1M59.5 75v3M60.5 19v1M61.5 20v1M61.5 28v1M61.5 62v1M62.5 0v1M62.5 22v5M62.5 50v1M63.5 0v1M63.5 51v1M63.5 61v1M64.5 0v1M64.5 8v1M64.5 52v1M64.5 60v1M65.5 8v1M65.5 24v2M65.5 52v1M65.5 60v1M66.5 1v1M66.5 13v2M66.5 51v1M66.5 61v1M67.5 1v1M67.5 37v1M67.5 61v1M68.5 1v1M68.5 36v1M68.5 50v1M68.5 61v1M68.5 75v2M69.5 1v1M69.5 29v4M69.5 50v1M69.5 73v1M69.5 84v2M70.5 1v1M70.5 28v1M70.5 50v1M70.5 62v1M70.5 87v1M71.5 1v1M71.5 51v1M71.5 61v2M71.5 70v1M72.5 1v1M72.5 10v1M72.5 12v6M72.5 27v1M72.5 60v2M72.5 69v1M72.5 88v1M73.5 1v1M73.5 9v1M73.5 21v2M73.5 25v5M73.5 54v1M73.5 58v2M73.5 68v1M73.5 88v1M74.5 26v1M74.5 68v1M74.5 88v1M75.5 40v1M75.5 66v3M75.5 87v1M76.5 61v2M76.5 86v1M77.5 9v1M77.5 26v1M77.5 59v1M77.5 79v6M78.5 0v1M78.5 33v4M78.5 75v1M79.5 0v1M79.5 11v7M79.5 79v2M80.5 24v1M80.5 85v2M81.5 25v1M81.5 86v1M82.5 53v1M82.5 86v1M83.5 24v1M83.5 38v2M83.5 53v1M83.5 63v1M83.5 85v1M84.5 11v5M84.5 20v2M84.5 37v4M84.5 53v1M84.5 62v1M84.5 71v1M84.5 83v2M85.5 1v1M85.5 8v1M85.5 53v1M85.5 73v1M85.5 76v2M86.5 1v1M86.5 8v1M86.5 61v1M87.5 1v1M87.5 55v1M87.5 60v2M88.5 1v1M88.5 17v1M88.5 56v6M89.5 1v1M89.5 53v10M90.5 1v1M90.5 16v1M90.5 36v1M90.5 47v1M90.5 58v5M91.5 1v1M91.5 19v1M91.5 59v3M92.5 1v1M92.5 18v4M92.5 37v1M92.5 48v1M92.5 57v3M93.5 1v1M93.5 10v1M93.5 38v1M94.5 11v1M94.5 15v1M94.5 42v1M95.5 2v1M95.5 32v1M95.5 76v3M96.5 3v1M96.5 25v1M96.5 33v1M96.5 43v1M96.5 86v1M97.5 8v1M97.5 25v1M97.5 43v1M97.5 86v1M98.5 9v1M98.5 74v1M98.5 84v1M99.5 10v1M99.5 32v1M99.5 74v2M100.5 44v1M100.5 72v2M100.5 75v1M101.5 12v1M101.5 24v1M101.5 47v1M101.5 72v1M101.5 75v1M102.5 14v10M102.5 28v1M102.5 49v1M102.5 73v2M103.5 17v7M103.5 39v2M103.5 50v1M104.5 10v1M104.5 39v2M104.5 50v1M105.5 7v1M105.5 58v4M105.5 70v2M106.5 4v2M106.5 57v2M106.5 73v1M107.5 4v1M107.5 57v1M108.5 3v1M108.5 8v1M108.5 57v1M108.5 74v1M109.5 2v1M109.5 8v1M109.5 20v1M109.5 57v1M109.5 74v1M110.5 1v1M110.5 58v1M110.5 72v1M111.5 9v1M111.5 58v2M112.5 10v1M112.5 12v2M112.5 19v1M112.5 26v1M112.5 58v1M112.5 71v1M113.5 58v1M113.5 72v1M113.5 83v1M114.5 29v2M114.5 58v1M114.5 75v3M114.5 87v1M115.5 8v1M115.5 10v1M115.5 29v3M115.5 58v1M116.5 2v1M116.5 6v1M116.5 50v1M116.5 59v3M117.5 3v1M117.5 6v1M117.5 12v1M117.5 50v1M117.5 59v2M117.5 65v2M118.5 2v1M118.5 8v1M118.5 13v2M118.5 50v1M118.5 67v1M119.5 22v1M119.5 59v1M119.5 68v1M119.5 88v1M120.5 26v2M120.5 33v3M120.5 42v1M120.5 52v1M120.5 56v5M120.5 71v1M120.5 86v1M121.5 2v1M121.5 9v1M121.5 22v5M121.5 60v1M121.5 74v1M121.5 82v2M122.5 4v1M122.5 8v1M122.5 16v1M122.5 30v1M122.5 44v1M122.5 60v1M122.5 74v1M122.5 83v2M123.5 11v2M123.5 45v1M123.5 61v1M123.5 72v1M123.5 85v1M124.5 13v2M124.5 29v1M124.5 45v1M124.5 61v3M124.5 70v1M124.5 86v1M125.5 18v7M125.5 46v1M125.5 60v7M125.5 70v2M125.5 86v1M126.5 12v1M126.5 28v1M126.5 47v1M126.5 57v11M126.5 72v2M126.5 84v1M127.5 9v1M127.5 30v1M127.5 44v2M127.5 56v11M128.5 9v2M128.5 31v1M128.5 41v1M128.5 59v7M129.5 4v4M129.5 14v3M129.5 35v2M129.5 39v1M129.5 59v3M130.5 3v1M130.5 8v1M130.5 23v1M130.5 40v2M130.5 56v2M131.5 23v1M131.5 41v1M132.5 2v1M132.5 9v1M132.5 40v1M132.5 74v2M132.5 84v1M133.5 2v1M133.5 23v2M133.5 39v3M133.5 66v2M133.5 86v1M134.5 38v1M134.5 45v2M134.5 64v2M134.5 86v1M135.5 10v1M135.5 14v2M135.5 23v1M135.5 38v1M135.5 52v1M135.5 63v1M135.5 86v1M136.5 10v3M136.5 54v1M136.5 63v1M137.5 2v1M137.5 10v2M137.5 55v1M137.5 63v1M137.5 85v1M138.5 2v1M138.5 11v2M138.5 27v1M138.5 39v1M138.5 55v1M138.5 64v1M138.5 85v1M139.5 3v1M139.5 9v1M139.5 14v3M139.5 25v2M139.5 33v2M139.5 54v1M139.5 67v1M139.5 85v1M140.5 8v1M140.5 23v1M140.5 53v4M140.5 68v1M140.5 79v1M141.5 5v2M141.5 22v1M141.5 45v1M141.5 64v3M141.5 71v6M142.5 21v1M142.5 44v1M142.5 75v5M143.5 5v2M143.5 21v1M143.5 86v1M144.5 3v1M144.5 9v3M144.5 20v1M145.5 15v3M145.5 19v1M146.5 1v1M147.5 0v1M149.5 86v1M150.5 87v1M152.5 0v1M153.5 1v1M154.5 3v2M155.5 7v9M155.5 20v2M155.5 30v1M155.5 88v1M156.5 32v2M156.5 48v6M156.5 57v1M156.5 63v1M156.5 69v14M157.5 36v7M157.5 60v2"/>
<path stroke="#6c6c6c" d="M1.5 4v1M1.5 6v1M1.5 57v5M1.5 76v6M2.5 2v1M2.5 8v1M2.5 43v2M2.5 50v3M2.5 86v1M3.5 12v1M3.5 16v2M3.5 21v1M3.5 25v1M3.5 37v1M3.5 88v1M4.5 1v1M5.5 27v1M5.5 37v1M6.5 1v1M6.5 38v1M7.5 28v1M7.5 41v1M7.5 87v1M8.5 1v1M8.5 37v2M9.5 30v1M13.5 4v1M13.5 49v1M14.5 46v1M14.5 51v1M14.5 83v1M15.5 4v1M15.5 34v2M15.5 46v1M15.5 51v1M15.5 83v1M16.5 3v1M16.5 27v1M16.5 47v1M16.5 79v2M17.5 48v3M17.5 73v2M18.5 5v1M18.5 25v1M18.5 50v2M18.5 63v8M19.5 9v1M19.5 23v1M19.5 55v3M20.5 10v1M20.5 20v1M21.5 9v1M21.5 25v1M21.5 53v1M21.5 81v2M22.5 7v1M22.5 12v1M22.5 55v1M22.5 68v1M22.5 85v1M23.5 1v1M23.5 12v1M23.5 16v1M23.5 29v1M23.5 38v1M23.5 55v1M23.5 86v1M24.5 11v1M24.5 54v1M24.5 64v2M25.5 1v1M25.5 9v1M25.5 29v1M25.5 39v1M25.5 52v1M25.5 61v4M25.5 85v1M26.5 3v2M26.5 6v2M26.5 18v1M26.5 30v3M26.5 37v1M26.5 55v5M26.5 64v1M26.5 69v1M26.5 83v1M27.5 5v1M27.5 76v2M28.5 7v1M28.5 21v1M28.5 72v1M29.5 2v1M29.5 8v1M29.5 22v1M29.5 72v1M30.5 8v1M30.5 24v1M31.5 2v1M31.5 29v1M32.5 4v3M32.5 28v1M33.5 27v1M33.5 71v1M34.5 9v2M34.5 19v1M34.5 71v1M35.5 7v1M36.5 6v1M37.5 5v1M37.5 55v4M37.5 73v5M38.5 29v1M38.5 36v1M38.5 52v1M38.5 83v1M39.5 28v1M39.5 60v1M39.5 85v1M40.5 5v1M40.5 25v2M40.5 85v1M41.5 22v2M41.5 46v2M41.5 56v1M41.5 60v1M41.5 81v2M42.5 6v1M42.5 22v2M43.5 7v1M43.5 23v2M43.5 44v1M43.5 76v1M44.5 10v1M44.5 24v1M45.5 11v1M45.5 24v1M45.5 43v1M46.5 11v1M46.5 23v2M46.5 42v1M47.5 3v2M47.5 8v4M47.5 21v2M47.5 40v1M47.5 72v1M48.5 2v1M48.5 11v1M48.5 51v2M48.5 59v1M48.5 68v1M49.5 1v1M49.5 11v1M49.5 39v1M50.5 1v1M50.5 10v1M50.5 42v2M50.5 47v1M51.5 2v1M51.5 9v1M52.5 4v3M54.5 76v2M54.5 81v2M55.5 73v1M55.5 83v1M56.5 53v1M56.5 60v1M56.5 84v1M57.5 21v2M57.5 26v1M57.5 50v1M57.5 61v1M57.5 84v1M58.5 20v1M58.5 62v1M58.5 74v1M58.5 81v2M59.5 2v1M59.5 28v1M59.5 62v1M60.5 1v1M60.5 20v1M60.5 28v1M60.5 62v1M61.5 7v1M61.5 21v1M61.5 26v2M61.5 50v1M62.5 61v1M63.5 60v1M64.5 53v2M64.5 58v2M65.5 26v1M65.5 34v1M65.5 53v7M66.5 8v1M66.5 15v9M66.5 36v1M66.5 52v1M66.5 59v2M67.5 9v2M67.5 51v1M67.5 60v1M68.5 35v1M69.5 27v2M69.5 61v1M69.5 83v1M70.5 27v1M70.5 51v1M70.5 61v1M70.5 72v1M70.5 86v1M71.5 27v1M71.5 52v1M71.5 60v1M71.5 87v1M72.5 9v1M72.5 18v1M72.5 53v1M72.5 59v1M72.5 87v1M73.5 23v2M73.5 30v5M73.5 55v3M73.5 69v1M73.5 87v1M74.5 1v1M74.5 69v1M74.5 87v1M75.5 1v1M75.5 69v1M76.5 63v2M76.5 85v1M77.5 39v1M77.5 60v2M77.5 77v2M78.5 9v1M78.5 59v1M79.5 10v1M79.5 58v1M79.5 78v1M80.5 0v1M80.5 23v1M80.5 56v1M80.5 84v1M81.5 54v1M81.5 85v1M82.5 25v1M82.5 65v3M82.5 85v1M83.5 0v1M83.5 70v1M83.5 84v1M84.5 1v1M84.5 10v1M84.5 16v4M84.5 72v1M84.5 82v1M85.5 54v1M85.5 61v1M85.5 74v2M86.5 54v1M87.5 9v1M87.5 56v4M88.5 10v1M88.5 34v1M89.5 10v1M89.5 16v1M89.5 35v1M90.5 10v1M90.5 48v1M90.5 57v1M91.5 10v1M91.5 20v1M91.5 46v1M91.5 57v2M92.5 10v1M92.5 22v1M92.5 49v1M92.5 56v1M93.5 2v1M93.5 17v1M93.5 37v1M94.5 2v1M94.5 10v1M94.5 41v1M95.5 3v1M95.5 10v1M95.5 25v1M95.5 33v1M96.5 4v6M96.5 74v1M96.5 84v2M97.5 9v1M97.5 34v1M97.5 74v1M97.5 85v1M98.5 10v1M98.5 34v1M98.5 42v1M98.5 75v1M98.5 83v1M99.5 24v1M99.5 42v1M100.5 11v1M100.5 24v1M100.5 31v1M100.5 74v1M101.5 13v2M101.5 22v2M101.5 30v1M101.5 46v1M101.5 73v2M102.5 29v1M103.5 24v2M103.5 41v1M103.5 49v1M104.5 11v2M104.5 38v1M105.5 8v1M105.5 39v2M105.5 50v1M105.5 62v8M106.5 6v1M106.5 50v1M106.5 59v2M106.5 72v1M107.5 5v2M107.5 50v1M107.5 58v2M107.5 73v1M108.5 4v4M108.5 9v3M108.5 50v1M108.5 58v2M109.5 21v1M109.5 50v1M109.5 58v2M109.5 73v1M110.5 25v1M110.5 50v1M110.5 59v2M110.5 71v1M111.5 1v1M111.5 50v1M111.5 60v2M111.5 70v1M112.5 9v1M112.5 14v2M112.5 18v1M112.5 27v1M112.5 50v1M112.5 59v2M112.5 70v1M113.5 10v2M113.5 26v5M113.5 50v1M113.5 59v1M113.5 71v1M114.5 1v1M114.5 27v2M114.5 31v2M114.5 50v1M114.5 59v1M114.5 73v2M114.5 78v2M114.5 86v1M115.5 28v1M115.5 32v2M115.5 50v1M115.5 59v2M115.5 88v1M116.5 3v1M116.5 62v1M117.5 4v1M117.5 67v1M118.5 15v4M118.5 68v1M118.5 88v1M119.5 2v1M119.5 10v1M119.5 23v2M119.5 40v2M119.5 50v1M119.5 69v1M119.5 87v1M120.5 2v1M120.5 28v5M120.5 43v1M120.5 51v1M120.5 72v1M120.5 84v2M121.5 3v1M121.5 44v1M121.5 54v6M121.5 75v7M122.5 5v3M122.5 17v1M122.5 29v1M122.5 45v1M122.5 59v1M122.5 75v1M122.5 82v1M123.5 13v1M123.5 30v1M123.5 60v1M123.5 73v1M123.5 84v1M124.5 15v1M124.5 28v1M124.5 46v1M124.5 59v2M124.5 71v1M124.5 85v1M125.5 47v1M125.5 58v2M125.5 72v1M125.5 85v1M126.5 13v2M126.5 27v1M126.5 48v3M126.5 53v4M126.5 74v1M126.5 83v1M127.5 10v2M127.5 46v1M127.5 54v2M128.5 11v1M128.5 30v1M128.5 42v1M128.5 57v2M129.5 17v3M129.5 32v3M129.5 40v1M129.5 58v1M130.5 4v1M130.5 7v1M130.5 24v1M130.5 39v1M130.5 42v2M130.5 54v2M131.5 3v1M131.5 8v1M131.5 40v1M132.5 23v1M132.5 76v2M133.5 9v1M133.5 25v1M133.5 38v1M133.5 68v1M133.5 85v1M134.5 2v1M134.5 39v1M134.5 44v1M134.5 66v1M135.5 2v1M135.5 16v2M135.5 21v2M135.5 50v2M135.5 64v1M136.5 2v1M136.5 13v1M136.5 24v1M136.5 38v1M136.5 53v1M136.5 64v1M136.5 85v1M137.5 12v1M137.5 26v1M137.5 38v1M137.5 54v1M137.5 64v1M137.5 84v1M138.5 9v1M138.5 13v1M138.5 26v1M138.5 40v1M138.5 54v1M138.5 65v1M138.5 84v1M139.5 8v1M139.5 17v8M139.5 27v6M139.5 43v1M139.5 53v1M140.5 4v4M140.5 24v1M140.5 35v1M140.5 45v1M140.5 51v2M140.5 69v3M140.5 76v3M140.5 85v1M141.5 23v1M141.5 46v1M141.5 53v11M141.5 67v4M141.5 80v1M141.5 85v1M142.5 22v1M142.5 37v1M142.5 71v4M142.5 85v1M143.5 38v1M143.5 43v1M144.5 4v1M144.5 7v2M144.5 21v1M144.5 40v3M145.5 2v1M145.5 13v2M145.5 86v1M146.5 17v2M146.5 85v1M147.5 86v1M148.5 0v1M148.5 86v1M149.5 0v1M150.5 0v1M150.5 86v1M151.5 0v1M152.5 1v1M153.5 2v1M154.5 5v1M155.5 31v1M155.5 87v1M156.5 34v1M156.5 46v2M156.5 58v1"/>
<path stroke="#737373" d="M1.5 5v1M2.5 45v5M2.5 53v1M2.5 85v1M3.5 11v1M3.5 22v3M3.5 38v1M4.5 26v1M4.5 37v1M5.5 1v1M6.5 27v1M6.5 39v1M6.5 88v1M7.5 42v1M7.5 86v1M8.5 28v1M8.5 39v5M8.5 85v1M9.5 29v1M9.5 31v1M9.5 85v1M12.5 0v2M13.5 5v1M13.5 48v1M13.5 50v1M13.5 84v1M14.5 7v1M14.5 44v2M14.5 82v1M15.5 5v1M15.5 33v1M15.5 81v2M16.5 51v1M16.5 77v2M17.5 4v1M17.5 26v1M17.5 72v1M18.5 6v1M18.5 52v3M18.5 61v2M19.5 10v1M19.5 21v2M20.5 11v1M20.5 19v1M21.5 10v3M21.5 24v1M21.5 40v1M21.5 70v1M21.5 79v2M22.5 8v4M22.5 13v3M22.5 27v1M22.5 54v1M22.5 84v1M23.5 2v1M23.5 10v2M23.5 67v1M23.5 85v1M24.5 1v1M24.5 10v1M24.5 17v1M24.5 29v1M24.5 39v1M24.5 53v1M24.5 66v1M24.5 85v1M25.5 2v1M25.5 8v1M25.5 40v1M25.5 50v2M25.5 84v1M26.5 5v1M26.5 29v1M26.5 38v1M26.5 54v1M26.5 60v2M26.5 82v1M27.5 20v2M27.5 57v3M27.5 67v1M27.5 73v3M28.5 3v2M28.5 6v1M28.5 22v1M28.5 71v1M29.5 7v1M29.5 23v1M29.5 71v1M30.5 2v1M30.5 25v2M30.5 71v1M31.5 3v1M31.5 7v1M31.5 30v1M31.5 55v2M31.5 71v1M32.5 54v4M32.5 71v1M33.5 56v1M34.5 11v2M35.5 8v1M35.5 71v1M36.5 56v2M36.5 71v1M37.5 30v1M37.5 54v1M37.5 72v1M38.5 5v1M38.5 28v1M38.5 37v1M38.5 50v2M38.5 81v2M39.5 5v1M39.5 27v1M39.5 84v1M40.5 24v1M40.5 61v1M40.5 84v1M41.5 6v1M41.5 21v1M41.5 48v8M42.5 7v1M42.5 21v1M42.5 45v1M42.5 57v1M42.5 59v1M42.5 78v1M43.5 8v1M43.5 22v1M43.5 75v1M44.5 23v1M44.5 44v1M44.5 75v1M45.5 23v1M45.5 75v1M46.5 22v1M46.5 74v1M47.5 5v3M47.5 12v9M47.5 41v1M47.5 71v1M48.5 3v1M48.5 10v1M48.5 39v2M48.5 60v1M48.5 67v1M49.5 2v1M49.5 10v1M49.5 40v1M49.5 49v1M50.5 2v1M50.5 9v1M50.5 44v3M51.5 3v1M51.5 7v2M54.5 78v3M55.5 74v1M55.5 82v1M56.5 54v2M56.5 58v2M56.5 73v1M56.5 83v1M57.5 23v3M57.5 51v1M57.5 73v1M57.5 83v1M58.5 21v1M58.5 26v2M58.5 50v1M58.5 61v1M58.5 75v1M58.5 79v2M59.5 5v1M59.5 20v1M59.5 27v1M59.5 50v1M60.5 6v1M60.5 21v1M60.5 26v2M60.5 50v1M61.5 1v1M61.5 22v4M61.5 61v1M62.5 51v1M63.5 52v2M63.5 59v1M64.5 55v3M65.5 1v1M65.5 27v1M65.5 33v1M66.5 24v1M66.5 35v1M66.5 53v6M67.5 2v1M67.5 8v1M67.5 11v2M67.5 23v1M67.5 36v1M67.5 52v1M67.5 59v1M68.5 2v1M68.5 34v1M68.5 51v1M68.5 60v1M69.5 2v1M69.5 26v1M69.5 51v1M69.5 60v1M69.5 74v1M69.5 80v3M70.5 26v1M70.5 52v1M70.5 60v1M70.5 85v1M71.5 10v3M71.5 53v1M71.5 59v1M71.5 71v1M71.5 86v1M72.5 19v1M72.5 26v1M72.5 54v5M72.5 70v1M74.5 27v1M74.5 37v1M74.5 70v1M75.5 26v1M75.5 70v1M75.5 86v1M76.5 1v1M76.5 26v1M76.5 40v1M76.5 65v7M77.5 27v1M77.5 62v1M77.5 75v2M78.5 60v1M78.5 74v1M79.5 77v1M80.5 57v1M80.5 83v1M81.5 0v1M81.5 55v1M81.5 84v1M82.5 0v1M82.5 54v1M82.5 63v2M82.5 68v2M82.5 84v1M83.5 23v1M83.5 54v1M83.5 62v1M83.5 71v1M83.5 83v1M84.5 9v1M84.5 54v1M84.5 61v1M84.5 80v2M85.5 2v1M85.5 7v1M86.5 2v1M86.5 7v1M86.5 55v2M86.5 59v2M87.5 2v1M88.5 2v1M88.5 9v1M88.5 18v1M88.5 33v1M89.5 2v1M90.5 2v1M90.5 17v1M90.5 49v1M90.5 55v2M91.5 2v1M91.5 21v1M91.5 36v1M91.5 47v1M91.5 56v1M92.5 2v1M92.5 9v1M92.5 23v1M92.5 36v1M92.5 50v1M92.5 54v2M93.5 9v1M93.5 18v7M93.5 36v1M94.5 3v1M94.5 9v1M94.5 16v1M94.5 23v7M94.5 35v3M94.5 40v1M95.5 4v2M95.5 7v3M95.5 11v2M95.5 24v1M95.5 34v1M95.5 42v1M96.5 10v2M96.5 24v1M96.5 34v1M96.5 83v1M97.5 10v1M97.5 24v1M98.5 11v1M98.5 24v1M98.5 35v1M98.5 76v1M98.5 82v1M99.5 11v1M99.5 33v1M100.5 12v2M100.5 23v1M100.5 43v1M101.5 15v7M101.5 44v2M102.5 40v3M102.5 48v1M103.5 26v2M103.5 38v1M104.5 13v11M104.5 41v1M104.5 49v1M105.5 38v1M105.5 41v1M106.5 7v1M106.5 39v2M106.5 61v2M106.5 71v1M107.5 7v2M107.5 39v2M107.5 60v1M107.5 72v1M108.5 12v8M108.5 39v2M108.5 60v1M108.5 73v1M109.5 3v1M109.5 7v1M109.5 22v1M109.5 39v2M109.5 60v1M109.5 72v1M110.5 8v1M110.5 39v2M110.5 61v1M111.5 27v1M111.5 62v1M111.5 69v1M112.5 1v1M112.5 16v2M112.5 28v1M112.5 61v1M113.5 1v1M113.5 9v1M113.5 12v1M113.5 24v2M113.5 31v2M113.5 60v1M114.5 9v2M114.5 26v1M114.5 33v1M114.5 60v1M114.5 72v1M114.5 80v1M115.5 2v1M115.5 7v1M115.5 11v1M115.5 27v1M115.5 34v1M115.5 61v1M115.5 87v1M116.5 4v2M116.5 12v1M116.5 27v3M116.5 37v3M116.5 63v3M116.5 88v1M117.5 5v1M117.5 13v1M117.5 68v1M117.5 88v1M118.5 3v1M118.5 7v1M118.5 19v5M118.5 49v1M118.5 69v1M119.5 25v1M119.5 39v1M119.5 42v1M119.5 49v1M119.5 70v1M119.5 86v1M120.5 9v1M120.5 44v1M120.5 50v1M120.5 73v1M120.5 83v1M121.5 4v1M121.5 8v1M121.5 45v2M121.5 52v2M122.5 18v1M122.5 28v1M122.5 46v1M122.5 58v1M122.5 76v6M123.5 14v1M123.5 29v1M123.5 46v1M123.5 58v2M123.5 74v1M123.5 83v1M124.5 16v2M124.5 26v2M124.5 47v1M124.5 58v1M124.5 72v1M124.5 84v1M125.5 48v2M125.5 55v3M125.5 73v1M125.5 84v1M126.5 15v2M126.5 25v2M126.5 51v2M126.5 75v8M127.5 12v1M127.5 29v1M127.5 47v7M128.5 12v1M128.5 29v1M128.5 43v1M128.5 56v1M129.5 20v12M129.5 41v1M129.5 57v1M130.5 5v2M130.5 38v1M130.5 44v2M130.5 51v3M131.5 4v1M131.5 24v1M131.5 39v1M132.5 3v1M132.5 39v1M132.5 78v1M132.5 82v2M133.5 26v1M133.5 36v2M133.5 69v2M134.5 9v1M134.5 40v4M134.5 67v1M134.5 85v1M135.5 9v1M135.5 18v3M135.5 49v1M135.5 65v1M135.5 85v1M136.5 9v1M136.5 14v1M136.5 52v1M136.5 65v1M136.5 84v1M137.5 9v1M137.5 13v1M137.5 25v1M137.5 53v1M137.5 65v1M137.5 83v1M138.5 3v1M138.5 8v1M138.5 14v1M138.5 25v1M138.5 41v1M138.5 53v1M138.5 66v1M138.5 83v1M139.5 4v1M139.5 7v1M139.5 44v1M139.5 52v1M139.5 68v1M139.5 80v1M139.5 84v1M140.5 25v1M140.5 46v5M140.5 72v4M140.5 80v1M141.5 24v1M141.5 36v1M141.5 47v6M142.5 23v1M142.5 67v4M142.5 80v1M143.5 22v1M143.5 72v4M143.5 85v1M144.5 5v2M144.5 39v1M144.5 86v1M145.5 3v1M145.5 10v3M145.5 20v1M146.5 2v1M146.5 16v1M146.5 19v1M147.5 1v1M148.5 1v1M151.5 1v1M152.5 2v1M153.5 3v1M154.5 6v1M154.5 27v4M155.5 32v1M155.5 64v2M155.5 86v1M156.5 44v2M156.5 59v1M156.5 62v1"/>
<path stroke="#797979" d="M2.5 3v1M2.5 7v1M2.5 54v1M3.5 2v1M3.5 39v5M3.5 87v1M4.5 13v8M4.5 25v1M4.5 38v1M4.5 88v1M5.5 26v1M5.5 38v1M5.5 88v1M6.5 40v3M7.5 2v1M7.5 27v1M7.5 43v1M8.5 2v1M8.5 44v2M8.5 84v1M9.5 32v1M10.5 85v1M12.5 85v1M13.5 14v2M14.5 8v1M14.5 43v1M14.5 52v1M14.5 80v2M15.5 32v1M15.5 79v2M16.5 4v1M16.5 26v1M16.5 75v2M17.5 51v2M17.5 70v2M18.5 55v6M19.5 11v1M19.5 18v3M20.5 12v3M20.5 17v2M21.5 13v2M21.5 19v5M21.5 52v1M21.5 77v2M22.5 16v2M22.5 69v1M23.5 3v1M23.5 7v3M23.5 17v1M23.5 28v1M23.5 54v1M24.5 2v1M24.5 8v2M24.5 67v1M24.5 84v1M25.5 3v1M25.5 7v1M25.5 18v1M25.5 28v1M25.5 41v1M25.5 45v5M25.5 69v1M25.5 83v1M26.5 19v1M26.5 27v2M26.5 39v1M26.5 62v2M26.5 81v1M27.5 22v2M27.5 34v4M27.5 56v1M27.5 60v1M27.5 65v2M27.5 68v5M28.5 5v1M28.5 23v1M29.5 3v2M29.5 6v1M29.5 24v1M30.5 3v1M30.5 6v2M30.5 27v2M31.5 4v3M31.5 31v1M31.5 54v1M31.5 57v1M32.5 29v1M32.5 53v1M32.5 58v1M33.5 55v1M33.5 57v2M34.5 13v6M34.5 27v1M34.5 55v4M34.5 70v1M35.5 9v1M35.5 56v3M36.5 7v1M36.5 55v1M36.5 58v1M37.5 6v1M37.5 29v1M37.5 31v2M37.5 53v1M37.5 59v1M37.5 71v1M38.5 6v1M38.5 38v1M38.5 48v2M38.5 60v1M38.5 80v1M39.5 6v1M39.5 26v1M39.5 61v1M39.5 83v1M40.5 6v1M40.5 23v1M40.5 83v1M41.5 7v1M41.5 20v1M41.5 80v1M42.5 8v1M42.5 20v1M42.5 46v2M42.5 77v1M43.5 9v1M43.5 21v1M43.5 45v1M43.5 74v1M44.5 11v1M44.5 22v1M44.5 74v1M45.5 22v1M45.5 44v1M45.5 74v1M46.5 12v1M46.5 21v1M46.5 43v1M46.5 73v1M47.5 42v1M47.5 54v4M48.5 4v6M48.5 41v1M48.5 50v1M48.5 61v1M48.5 66v1M49.5 3v2M49.5 8v2M49.5 41v1M50.5 3v2M50.5 7v2M51.5 4v3M55.5 75v2M55.5 81v1M56.5 56v2M56.5 74v1M56.5 82v1M57.5 52v1M57.5 60v1M57.5 74v2M57.5 81v2M58.5 22v4M58.5 51v1M58.5 76v3M59.5 3v2M59.5 21v6M59.5 61v1M60.5 22v4M60.5 61v1M61.5 51v1M62.5 1v1M62.5 7v1M62.5 52v1M62.5 60v1M63.5 1v1M63.5 7v1M63.5 54v5M64.5 1v1M65.5 7v1M65.5 28v5M66.5 2v1M66.5 7v1M66.5 25v1M66.5 34v1M67.5 13v3M67.5 19v4M67.5 24v2M67.5 35v1M67.5 53v6M68.5 9v2M68.5 23v6M68.5 33v1M68.5 52v3M68.5 58v2M69.5 25v1M69.5 52v2M69.5 58v2M69.5 75v5M70.5 2v1M70.5 9v2M70.5 53v2M70.5 58v2M70.5 73v1M70.5 84v1M71.5 2v1M71.5 9v1M71.5 13v5M71.5 26v1M71.5 54v5M72.5 2v1M72.5 20v2M72.5 25v1M72.5 86v1M73.5 2v1M73.5 8v1M73.5 70v1M73.5 86v1M74.5 8v1M74.5 86v1M75.5 8v1M75.5 39v1M75.5 71v1M75.5 85v1M76.5 8v1M76.5 72v1M76.5 84v1M77.5 1v1M77.5 38v1M77.5 63v1M77.5 70v5M78.5 1v1M78.5 61v1M78.5 72v2M79.5 1v1M79.5 9v1M79.5 59v1M79.5 75v2M80.5 22v1M80.5 58v1M80.5 82v1M81.5 24v1M81.5 56v1M81.5 83v1M82.5 24v1M82.5 55v1M82.5 62v1M82.5 83v1M83.5 1v1M83.5 61v1M83.5 82v1M84.5 55v1M84.5 60v1M84.5 73v1M84.5 78v2M85.5 55v2M85.5 59v2M86.5 3v1M86.5 6v1M86.5 57v2M87.5 3v1M87.5 8v1M88.5 3v1M88.5 19v1M88.5 31v2M89.5 3v1M89.5 9v1M89.5 17v1M89.5 34v1M90.5 3v1M90.5 9v1M90.5 35v1M90.5 50v5M91.5 3v1M91.5 9v1M91.5 22v1M91.5 48v2M91.5 55v1M92.5 3v1M92.5 24v1M92.5 51v3M93.5 3v1M93.5 8v1M93.5 25v1M93.5 35v1M94.5 4v2M94.5 7v2M94.5 17v1M94.5 20v3M94.5 30v5M94.5 38v2M95.5 6v1M95.5 13v2M95.5 23v1M95.5 35v1M96.5 12v1M96.5 35v1M96.5 42v1M96.5 75v1M96.5 81v2M97.5 11v1M97.5 35v1M97.5 42v1M97.5 75v1M97.5 84v1M98.5 36v1M98.5 41v1M98.5 77v5M99.5 12v1M99.5 23v1M99.5 34v1M100.5 14v1M100.5 21v2M101.5 43v1M102.5 43v1M102.5 46v2M103.5 28v1M103.5 42v1M103.5 48v1M104.5 24v1M104.5 37v1M104.5 42v1M105.5 9v1M105.5 37v1M105.5 49v1M106.5 8v1M106.5 38v1M106.5 41v1M106.5 49v1M106.5 63v8M107.5 9v1M107.5 41v1M107.5 49v1M107.5 61v2M107.5 71v1M108.5 20v2M108.5 38v1M108.5 41v1M108.5 49v1M108.5 61v1M108.5 72v1M109.5 23v1M109.5 38v1M109.5 41v1M109.5 49v1M109.5 61v1M109.5 71v1M110.5 2v1M110.5 37v2M110.5 41v1M110.5 62v1M110.5 69v2M111.5 63v1M111.5 67v2M112.5 29v3M112.5 62v1M112.5 69v1M113.5 13v2M113.5 22v2M113.5 33v1M113.5 61v1M113.5 70v1M114.5 8v1M114.5 11v2M114.5 25v1M114.5 34v1M114.5 49v1M114.5 61v1M114.5 71v1M114.5 85v1M115.5 25v2M115.5 35v2M115.5 49v1M115.5 62v1M116.5 25v2M116.5 30v7M116.5 40v2M116.5 49v1M116.5 66v3M116.5 87v1M117.5 14v2M117.5 23v3M117.5 39v4M117.5 49v1M117.5 69v1M117.5 87v1M118.5 4v3M118.5 24v1M118.5 40v3M118.5 87v1M119.5 3v1M119.5 9v1M119.5 26v1M119.5 37v2M119.5 43v2M119.5 48v1M119.5 71v1M119.5 85v1M120.5 3v1M120.5 8v1M120.5 45v5M120.5 74v1M120.5 82v1M121.5 5v3M121.5 47v5M122.5 19v1M122.5 26v2M122.5 47v2M122.5 52v6M123.5 15v2M123.5 28v1M123.5 47v2M123.5 55v3M123.5 75v1M123.5 81v2M124.5 18v3M124.5 24v2M124.5 48v2M124.5 54v4M124.5 73v2M124.5 83v1M125.5 50v5M125.5 74v1M125.5 82v2M126.5 17v8M127.5 13v1M127.5 28v1M128.5 13v2M128.5 28v1M128.5 44v1M128.5 55v1M129.5 42v2M129.5 56v1M130.5 25v1M130.5 37v1M130.5 46v5M131.5 5v1M131.5 7v1M131.5 38v1M132.5 8v1M132.5 24v1M132.5 38v1M132.5 79v3M133.5 3v1M133.5 27v1M133.5 35v1M133.5 71v3M133.5 84v1M134.5 3v1M134.5 68v1M135.5 3v1M135.5 39v1M135.5 44v5M135.5 66v1M135.5 84v1M136.5 3v1M136.5 15v1M136.5 23v1M136.5 39v1M136.5 51v1M137.5 3v1M137.5 8v1M137.5 14v1M137.5 39v1M137.5 52v1M137.5 66v1M137.5 82v1M138.5 4v1M138.5 15v1M138.5 24v1M138.5 42v2M138.5 51v2M138.5 67v1M138.5 81v2M139.5 5v2M139.5 45v1M139.5 49v3M139.5 69v1M139.5 78v2M139.5 81v1M140.5 26v1M140.5 34v1M142.5 45v1M142.5 52v15M142.5 81v1M142.5 84v1M143.5 44v1M143.5 68v4M143.5 76v1M144.5 22v1M144.5 38v1M144.5 43v1M144.5 71v3M145.5 4v1M145.5 8v2M145.5 39v5M146.5 15v1M147.5 2v1M147.5 18v1M147.5 29v3M149.5 1v1M149.5 85v1M150.5 1v1M150.5 85v1M151.5 88v1M153.5 4v1M154.5 14v1M155.5 56v2M155.5 63v1M155.5 66v1M156.5 35v2M156.5 43v1M156.5 60v2"/>
<path stroke="#808080" d="M2.5 6v1M2.5 55v1M2.5 63v3M2.5 72v1M2.5 84v1M3.5 10v1M3.5 44v9M4.5 21v2M4.5 24v1M4.5 39v3M5.5 14v6M5.5 39v3M6.5 2v1M6.5 43v1M6.5 87v1M7.5 13v6M7.5 44v2M7.5 85v1M8.5 27v1M8.5 46v1M9.5 28v1M9.5 45v3M9.5 84v1M11.5 85v1M12.5 2v1M13.5 6v1M13.5 13v1M13.5 16v1M13.5 47v1M13.5 51v1M13.5 78v2M13.5 83v1M14.5 9v1M14.5 42v1M14.5 53v2M14.5 77v3M15.5 6v1M15.5 31v1M15.5 52v1M15.5 76v3M16.5 52v1M16.5 71v4M17.5 53v3M17.5 63v7M18.5 7v1M18.5 24v1M19.5 12v6M20.5 15v2M21.5 15v4M21.5 71v1M21.5 76v1M22.5 18v2M22.5 26v1M22.5 39v1M22.5 83v1M23.5 4v3M23.5 18v1M23.5 27v1M23.5 68v1M23.5 84v1M24.5 3v2M24.5 6v2M24.5 28v1M24.5 52v1M24.5 68v1M25.5 4v3M25.5 42v1M25.5 44v1M26.5 20v1M26.5 26v1M26.5 40v5M26.5 53v1M26.5 70v1M26.5 79v2M27.5 24v10M27.5 38v2M27.5 61v4M28.5 24v2M28.5 36v2M28.5 57v4M28.5 69v2M29.5 5v1M29.5 25v2M29.5 58v2M29.5 70v1M30.5 4v2M30.5 29v4M30.5 56v4M30.5 70v1M31.5 32v2M31.5 38v5M31.5 53v1M31.5 58v2M31.5 70v1M32.5 30v1M32.5 39v2M32.5 52v1M32.5 59v1M32.5 70v1M33.5 28v1M33.5 54v1M33.5 59v1M33.5 70v1M34.5 59v1M35.5 10v1M35.5 24v4M35.5 55v1M35.5 59v1M35.5 70v1M36.5 8v1M36.5 28v1M36.5 54v1M36.5 59v1M36.5 70v1M37.5 7v1M37.5 28v1M37.5 33v1M37.5 52v1M37.5 70v1M38.5 27v1M38.5 39v1M38.5 42v6M38.5 70v10M39.5 62v1M39.5 81v2M40.5 7v1M40.5 62v2M40.5 81v2M41.5 8v1M41.5 19v1M41.5 61v1M41.5 79v1M42.5 9v1M42.5 18v2M42.5 48v2M42.5 56v1M42.5 60v1M42.5 75v2M43.5 10v2M43.5 20v1M43.5 46v1M44.5 12v1M44.5 20v2M44.5 45v1M45.5 12v1M45.5 20v2M45.5 45v1M46.5 13v8M46.5 44v1M47.5 51v3M47.5 58v1M47.5 70v1M48.5 42v1M48.5 62v4M49.5 5v3M49.5 42v1M49.5 48v1M50.5 5v2M55.5 77v4M56.5 75v7M57.5 53v7M57.5 76v5M58.5 52v1M58.5 60v1M59.5 51v1M59.5 60v1M60.5 2v1M60.5 51v1M60.5 60v1M61.5 52v1M61.5 59v2M62.5 53v3M62.5 57v3M64.5 7v1M66.5 26v2M66.5 33v1M67.5 3v1M67.5 7v1M67.5 16v3M67.5 26v2M67.5 34v1M68.5 3v1M68.5 8v1M68.5 11v3M68.5 20v3M68.5 29v4M68.5 55v3M69.5 8v5M69.5 22v3M69.5 54v4M70.5 11v3M70.5 24v2M70.5 55v3M70.5 83v1M71.5 8v1M71.5 18v3M71.5 24v2M71.5 72v1M71.5 85v1M72.5 8v1M72.5 22v3M72.5 71v1M73.5 71v1M74.5 2v1M74.5 28v1M74.5 71v1M74.5 85v1M75.5 72v1M75.5 84v1M76.5 73v1M76.5 83v1M77.5 8v1M77.5 28v1M77.5 64v2M77.5 68v2M78.5 62v1M78.5 70v2M79.5 60v1M79.5 74v1M80.5 1v1M80.5 21v1M80.5 59v1M80.5 80v2M81.5 57v3M81.5 82v1M82.5 56v2M82.5 59v3M82.5 70v2M82.5 81v2M83.5 22v1M83.5 55v3M83.5 59v2M83.5 72v1M83.5 80v2M84.5 2v1M84.5 8v1M84.5 56v4M84.5 74v4M85.5 3v1M85.5 6v1M85.5 57v2M86.5 4v2M87.5 4v4M88.5 4v5M88.5 29v2M89.5 4v1M89.5 7v2M90.5 4v1M90.5 7v2M90.5 18v1M91.5 4v2M91.5 7v2M91.5 23v1M91.5 35v1M91.5 50v5M92.5 4v5M92.5 35v1M93.5 4v4M93.5 26v1M93.5 34v1M94.5 6v1M94.5 18v2M95.5 15v1M95.5 21v2M95.5 36v2M95.5 41v1M96.5 13v1M96.5 22v2M96.5 76v1M96.5 79v2M97.5 12v2M97.5 23v1M97.5 36v1M97.5 41v1M97.5 76v1M97.5 82v2M98.5 12v2M98.5 23v1M98.5 37v4M99.5 13v2M99.5 21v2M99.5 35v1M99.5 41v1M100.5 15v6M100.5 32v1M101.5 31v1M101.5 42v1M102.5 30v1M102.5 39v1M102.5 44v2M103.5 29v1M103.5 37v1M103.5 43v1M103.5 47v1M104.5 25v1M104.5 36v1M104.5 43v1M104.5 48v1M105.5 10v3M105.5 42v1M105.5 48v1M106.5 9v1M106.5 42v1M106.5 48v1M107.5 10v2M107.5 38v1M107.5 42v1M107.5 63v8M108.5 22v1M108.5 42v1M108.5 62v2M108.5 69v3M109.5 4v3M109.5 37v1M109.5 42v1M109.5 62v2M109.5 69v2M110.5 26v1M110.5 36v1M110.5 42v1M110.5 49v1M110.5 63v6M111.5 8v1M111.5 28v1M111.5 35v7M111.5 49v1M111.5 64v3M112.5 32v3M112.5 49v1M112.5 63v1M112.5 67v2M113.5 8v1M113.5 15v7M113.5 34v1M113.5 49v1M113.5 62v1M113.5 69v1M114.5 2v1M114.5 13v1M114.5 23v2M114.5 35v1M114.5 62v1M114.5 70v1M114.5 81v1M115.5 3v1M115.5 12v2M115.5 24v1M115.5 37v5M115.5 63v1M115.5 86v1M116.5 13v2M116.5 23v2M116.5 42v2M116.5 48v1M116.5 69v1M117.5 16v7M117.5 26v2M117.5 37v2M117.5 43v1M117.5 48v1M118.5 25v2M118.5 39v1M118.5 43v6M118.5 70v1M118.5 86v1M119.5 4v5M119.5 27v2M119.5 35v2M119.5 45v3M119.5 72v1M120.5 4v4M120.5 75v7M122.5 20v6M122.5 49v3M123.5 17v2M123.5 26v2M123.5 49v6M123.5 76v5M124.5 21v3M124.5 50v4M124.5 75v2M124.5 80v3M125.5 75v7M127.5 14v2M127.5 27v1M128.5 15v2M128.5 26v2M128.5 45v1M128.5 53v2M129.5 44v1M129.5 54v2M130.5 26v1M130.5 36v1M131.5 6v1M131.5 25v1M132.5 4v1M132.5 7v1M132.5 25v1M132.5 37v1M133.5 4v1M133.5 8v1M133.5 28v2M133.5 33v2M133.5 74v2M133.5 83v1M134.5 8v1M134.5 69v1M134.5 84v1M135.5 8v1M135.5 40v4M135.5 67v1M136.5 8v1M136.5 16v2M136.5 21v2M136.5 40v1M136.5 44v7M136.5 66v1M136.5 83v1M137.5 4v1M137.5 15v1M137.5 23v2M137.5 40v2M137.5 44v2M137.5 49v3M137.5 81v1M138.5 5v3M138.5 16v3M138.5 21v3M138.5 44v7M138.5 68v1M138.5 80v1M139.5 46v3M139.5 70v3M139.5 75v3M139.5 82v2M140.5 27v1M140.5 81v4M141.5 25v1M141.5 81v2M141.5 84v1M142.5 46v1M142.5 51v1M142.5 82v2M143.5 23v1M143.5 37v1M143.5 53v15M144.5 55v1M144.5 63v8M144.5 74v1M145.5 5v3M145.5 21v1M145.5 37v2M145.5 44v1M145.5 53v5M145.5 63v6M145.5 85v1M146.5 3v1M146.5 14v1M146.5 44v4M146.5 49v11M146.5 84v1M147.5 17v1M147.5 28v1M147.5 32v2M147.5 55v4M147.5 85v1M148.5 2v1M150.5 2v1M151.5 2v1M152.5 3v1M154.5 7v1M154.5 12v2M154.5 15v2M154.5 26v1M154.5 31v1M154.5 88v1M155.5 33v1M155.5 55v1M155.5 58v1M155.5 67v1M155.5 85v1M156.5 37v1M156.5 41v2"/>
<path stroke="#868686" d="M2.5 4v2M2.5 56v2M2.5 61v2M2.5 66v1M2.5 70v2M2.5 73v1M3.5 9v1M3.5 53v1M4.5 2v1M4.5 12v1M4.5 23v1M4.5 42v5M4.5 48v4M5.5 2v1M5.5 13v1M5.5 20v1M5.5 25v1M5.5 42v4M6.5 13v7M6.5 26v1M6.5 44v2M7.5 3v1M7.5 19v1M7.5 46v3M8.5 3v1M8.5 47v2M8.5 83v1M9.5 0v1M9.5 27v1M9.5 33v1M9.5 44v1M9.5 48v1M12.5 3v1M13.5 12v1M13.5 17v1M13.5 52v1M13.5 73v5M13.5 80v3M14.5 10v1M14.5 18v6M14.5 41v1M14.5 55v5M14.5 69v8M15.5 30v1M15.5 53v4M15.5 65v11M16.5 5v1M16.5 53v5M16.5 64v7M17.5 5v1M17.5 25v1M17.5 56v7M21.5 41v1M21.5 51v1M21.5 72v4M22.5 20v1M22.5 25v1M22.5 53v1M22.5 70v1M22.5 82v1M23.5 39v1M23.5 83v1M24.5 5v1M24.5 18v1M24.5 27v1M24.5 83v1M25.5 19v1M25.5 27v1M25.5 43v1M25.5 82v1M26.5 21v1M26.5 24v2M26.5 45v1M26.5 52v1M26.5 71v2M26.5 77v2M27.5 40v2M27.5 55v1M28.5 26v3M28.5 33v3M28.5 38v3M28.5 61v3M28.5 66v3M29.5 27v3M29.5 32v9M29.5 57v1M29.5 60v2M29.5 68v2M30.5 33v10M30.5 55v1M30.5 60v1M30.5 69v1M31.5 34v4M31.5 43v2M31.5 52v1M31.5 60v1M31.5 69v1M32.5 31v1M32.5 36v3M32.5 41v2M32.5 51v1M32.5 60v1M32.5 69v1M33.5 38v2M33.5 53v1M33.5 60v1M33.5 69v1M34.5 28v1M34.5 54v1M34.5 60v1M34.5 69v1M35.5 11v2M35.5 23v1M35.5 28v1M35.5 54v1M35.5 60v1M35.5 69v1M36.5 9v1M36.5 27v1M36.5 29v1M36.5 53v1M36.5 60v1M36.5 69v1M37.5 8v1M37.5 27v1M37.5 34v1M37.5 51v1M37.5 60v1M37.5 69v1M38.5 7v1M38.5 40v2M38.5 61v1M38.5 68v2M39.5 7v1M39.5 25v1M39.5 63v9M39.5 80v1M40.5 8v1M40.5 22v1M40.5 64v6M40.5 80v1M41.5 9v1M41.5 17v2M41.5 62v1M41.5 78v1M42.5 10v2M42.5 15v3M42.5 50v6M42.5 72v3M43.5 12v8M43.5 47v2M43.5 57v3M43.5 73v1M44.5 13v7M44.5 46v1M44.5 73v1M45.5 13v7M45.5 46v1M45.5 73v1M46.5 45v1M46.5 72v1M47.5 43v1M47.5 49v2M47.5 59v1M47.5 69v1M48.5 49v1M49.5 43v1M58.5 53v7M59.5 52v2M59.5 58v2M60.5 3v1M60.5 5v1M60.5 52v2M60.5 58v2M61.5 2v1M61.5 6v1M61.5 53v6M62.5 56v1M65.5 2v1M66.5 3v1M66.5 6v1M66.5 28v5M67.5 4v1M67.5 6v1M67.5 28v6M68.5 7v1M68.5 14v6M69.5 3v1M69.5 13v9M70.5 3v1M70.5 8v1M70.5 14v10M70.5 74v1M70.5 82v1M71.5 3v1M71.5 21v3M71.5 73v1M71.5 84v1M72.5 3v1M72.5 72v1M72.5 85v1M73.5 7v1M73.5 85v1M74.5 36v1M74.5 72v1M75.5 2v1M75.5 27v1M75.5 73v1M76.5 39v1M76.5 74v2M76.5 81v2M77.5 66v2M78.5 8v1M78.5 63v2M78.5 68v2M79.5 61v2M79.5 70v4M80.5 19v2M80.5 60v2M80.5 78v2M81.5 1v1M81.5 23v1M81.5 60v12M81.5 80v2M82.5 1v1M82.5 23v1M82.5 58v1M82.5 72v1M82.5 79v2M83.5 21v1M83.5 58v1M83.5 73v7M85.5 4v2M88.5 20v1M88.5 28v1M89.5 5v2M89.5 33v1M90.5 5v2M90.5 34v1M91.5 6v1M91.5 24v1M92.5 25v1M93.5 27v2M93.5 33v1M95.5 16v5M95.5 38v3M96.5 14v3M96.5 19v3M96.5 36v2M96.5 40v2M96.5 77v2M97.5 14v2M97.5 21v2M97.5 37v4M97.5 77v2M97.5 80v2M98.5 14v2M98.5 20v3M99.5 15v6M99.5 36v1M100.5 42v1M102.5 38v1M103.5 30v1M103.5 44v3M104.5 26v2M104.5 44v4M105.5 13v12M105.5 36v1M105.5 43v5M106.5 10v3M106.5 37v1M106.5 43v2M106.5 46v2M107.5 12v11M107.5 37v1M107.5 43v2M107.5 47v2M108.5 23v1M108.5 37v1M108.5 43v2M108.5 47v2M108.5 64v5M109.5 24v1M109.5 43v2M109.5 47v2M109.5 64v5M110.5 7v1M110.5 43v2M110.5 48v1M111.5 2v1M111.5 29v1M111.5 33v2M111.5 42v2M111.5 48v1M112.5 8v1M112.5 35v7M112.5 48v1M112.5 64v3M113.5 2v1M113.5 35v2M113.5 48v1M113.5 63v2M113.5 67v2M114.5 14v4M114.5 19v4M114.5 36v3M114.5 48v1M114.5 63v1M114.5 68v2M114.5 84v1M115.5 6v1M115.5 14v2M115.5 21v3M115.5 42v3M115.5 47v2M115.5 64v10M116.5 15v8M116.5 44v4M116.5 70v1M116.5 86v1M117.5 28v3M117.5 35v2M117.5 44v4M117.5 70v1M117.5 86v1M118.5 27v1M118.5 37v2M118.5 71v1M119.5 29v6M119.5 73v1M119.5 84v1M123.5 19v7M124.5 77v3M127.5 16v3M127.5 24v3M128.5 17v9M128.5 46v7M129.5 45v3M129.5 52v2M130.5 27v2M130.5 34v2M131.5 37v1M132.5 5v2M132.5 26v1M132.5 36v1M133.5 5v3M133.5 30v3M133.5 76v3M133.5 81v2M134.5 4v1M134.5 7v1M134.5 70v2M134.5 83v1M135.5 4v1M135.5 7v1M135.5 68v1M135.5 83v1M136.5 4v1M136.5 7v1M136.5 18v3M136.5 41v3M136.5 67v1M136.5 82v1M137.5 5v3M137.5 16v2M137.5 21v2M137.5 42v2M137.5 46v3M137.5 67v2M137.5 80v1M138.5 19v2M138.5 69v1M138.5 78v2M139.5 73v2M140.5 28v1M140.5 32v2M141.5 35v1M141.5 83v1M142.5 24v1M142.5 36v1M142.5 47v4M143.5 45v1M143.5 52v1M143.5 77v1M143.5 84v1M144.5 23v1M144.5 37v1M144.5 44v1M144.5 52v3M144.5 56v7M144.5 75v1M145.5 36v1M145.5 45v1M145.5 51v2M145.5 58v5M145.5 69v1M146.5 4v3M146.5 11v3M146.5 20v1M146.5 32v5M146.5 43v1M146.5 48v1M146.5 60v8M147.5 3v1M147.5 16v1M147.5 19v1M147.5 34v2M147.5 53v2M147.5 59v2M148.5 3v1M148.5 17v2M148.5 29v6M148.5 57v1M148.5 85v1M149.5 2v1M150.5 84v1M151.5 3v1M151.5 87v1M152.5 4v1M153.5 5v1M154.5 8v4M154.5 17v1M154.5 25v1M154.5 32v1M155.5 54v1M155.5 62v1M155.5 68v2M156.5 38v3"/>
<path stroke="#8c8c8c" d="M2.5 58v3M2.5 67v3M2.5 74v1M2.5 83v1M3.5 3v1M3.5 8v1M3.5 54v1M3.5 86v1M4.5 47v1M4.5 52v1M4.5 87v1M5.5 21v2M5.5 24v1M5.5 46v6M5.5 87v1M6.5 20v1M6.5 25v1M6.5 46v6M7.5 12v1M7.5 20v1M7.5 26v1M7.5 49v2M8.5 4v1M8.5 13v7M8.5 26v1M8.5 49v1M9.5 1v1M9.5 34v1M9.5 43v1M10.5 29v1M11.5 0v1M12.5 77v2M13.5 7v1M13.5 11v1M13.5 18v1M13.5 46v1M13.5 53v6M13.5 71v2M14.5 11v7M14.5 24v1M14.5 40v1M14.5 60v9M15.5 7v1M15.5 25v3M15.5 29v1M15.5 57v8M16.5 25v1M16.5 58v6M21.5 50v1M22.5 21v4M22.5 81v1M23.5 19v1M23.5 26v1M23.5 53v1M23.5 69v1M23.5 82v1M24.5 19v1M24.5 26v1M24.5 40v1M24.5 51v1M24.5 69v1M24.5 82v1M25.5 20v1M25.5 26v1M25.5 70v1M25.5 81v1M26.5 22v2M26.5 46v2M26.5 51v1M26.5 73v4M27.5 42v2M28.5 29v4M28.5 41v1M28.5 56v1M28.5 64v2M29.5 30v2M29.5 41v2M29.5 56v1M29.5 62v6M30.5 43v1M30.5 61v4M30.5 66v3M31.5 45v2M31.5 50v2M31.5 61v3M31.5 67v2M32.5 32v4M32.5 43v2M32.5 49v2M32.5 61v3M32.5 67v2M33.5 29v1M33.5 36v2M33.5 40v1M33.5 52v1M33.5 61v3M33.5 67v2M34.5 53v1M34.5 61v2M34.5 67v2M35.5 13v1M35.5 22v1M35.5 53v1M35.5 61v1M35.5 68v1M36.5 10v1M36.5 26v1M36.5 30v1M36.5 52v1M36.5 61v1M36.5 68v1M37.5 49v2M37.5 61v1M37.5 68v1M38.5 8v1M38.5 26v1M38.5 62v6M39.5 8v1M39.5 24v1M39.5 72v8M40.5 9v1M40.5 20v2M40.5 70v4M40.5 78v2M41.5 10v2M41.5 15v2M41.5 63v15M42.5 12v3M42.5 61v1M42.5 71v1M43.5 49v8M43.5 72v1M44.5 47v4M44.5 72v1M45.5 47v4M45.5 72v1M46.5 46v12M46.5 71v1M47.5 44v1M47.5 48v1M47.5 60v1M47.5 68v1M48.5 43v1M48.5 48v1M49.5 44v1M49.5 47v1M59.5 54v4M60.5 4v1M60.5 54v4M62.5 2v1M62.5 6v1M64.5 2v1M65.5 6v1M66.5 4v2M67.5 5v1M68.5 4v3M69.5 4v4M70.5 4v1M70.5 7v1M70.5 75v2M70.5 79v3M71.5 4v1M71.5 7v1M71.5 83v1M72.5 4v1M72.5 7v1M72.5 84v1M73.5 3v1M73.5 72v1M73.5 84v1M74.5 3v1M74.5 7v1M74.5 29v1M74.5 84v1M75.5 7v1M75.5 38v1M75.5 74v1M75.5 83v1M76.5 2v1M76.5 27v1M76.5 76v5M77.5 2v1M77.5 29v1M77.5 37v1M78.5 65v3M79.5 8v1M79.5 63v7M80.5 9v10M80.5 62v16M81.5 22v1M81.5 72v8M82.5 22v1M82.5 73v6M83.5 2v1M83.5 20v1M84.5 3v1M84.5 7v1M88.5 21v1M88.5 26v2M89.5 18v1M89.5 32v1M90.5 19v1M90.5 33v1M91.5 25v1M91.5 34v1M92.5 26v2M92.5 34v1M93.5 29v4M96.5 17v2M96.5 38v2M97.5 16v5M97.5 79v1M98.5 16v4M99.5 37v1M99.5 40v1M100.5 33v1M102.5 31v1M102.5 37v1M103.5 31v1M103.5 36v1M104.5 28v2M104.5 34v2M105.5 25v1M105.5 35v1M106.5 13v12M106.5 36v1M106.5 45v1M107.5 23v1M107.5 45v2M108.5 24v1M108.5 45v2M109.5 25v1M109.5 36v1M109.5 45v2M110.5 3v1M110.5 27v1M110.5 34v2M110.5 45v3M111.5 30v3M111.5 44v4M112.5 2v1M112.5 42v6M113.5 37v11M113.5 65v2M114.5 7v1M114.5 18v1M114.5 39v9M114.5 64v4M114.5 82v1M115.5 4v2M115.5 16v5M115.5 45v2M115.5 74v3M116.5 71v1M117.5 31v4M117.5 71v1M118.5 28v9M118.5 72v1M118.5 85v1M119.5 74v1M119.5 83v1M127.5 19v5M129.5 48v4M130.5 29v5M131.5 26v2M131.5 36v1M132.5 27v1M132.5 35v1M133.5 79v2M134.5 5v2M134.5 72v11M135.5 5v2M135.5 69v2M135.5 80v3M136.5 5v2M136.5 68v2M136.5 80v2M137.5 18v3M137.5 69v1M137.5 79v1M138.5 70v3M138.5 76v2M140.5 29v3M141.5 26v1M143.5 24v1M143.5 51v1M143.5 83v1M144.5 45v1M144.5 51v1M144.5 85v1M145.5 35v1M145.5 46v1M145.5 50v1M145.5 70v2M146.5 7v4M146.5 31v1M146.5 37v1M146.5 68v2M147.5 4v3M147.5 15v1M147.5 52v1M147.5 61v1M147.5 69v1M148.5 4v1M148.5 16v1M148.5 19v1M148.5 28v1M148.5 56v1M148.5 58v1M149.5 3v1M149.5 84v1M150.5 3v1M151.5 4v1M154.5 18v1M155.5 34v1M155.5 52v2M155.5 59v1M155.5 61v1M155.5 70v1M155.5 84v1"/>
<path stroke="#939393" d="M2.5 75v1M2.5 82v1M3.5 4v1M3.5 6v2M4.5 3v1M4.5 53v1M5.5 3v1M5.5 23v1M5.5 52v1M6.5 3v1M6.5 21v4M6.5 52v1M6.5 86v1M7.5 4v1M7.5 21v2M7.5 24v2M7.5 51v1M7.5 84v1M8.5 5v2M8.5 11v2M8.5 20v2M8.5 24v2M8.5 50v1M8.5 82v1M9.5 2v1M9.5 26v1M9.5 49v1M9.5 83v1M10.5 0v1M10.5 28v1M10.5 30v1M10.5 47v2M10.5 84v1M11.5 1v1M12.5 4v1M12.5 74v3M12.5 79v1M12.5 84v1M13.5 8v3M13.5 19v1M13.5 45v1M13.5 59v3M13.5 70v1M14.5 38v2M15.5 24v1M15.5 28v1M17.5 6v1M18.5 8v1M18.5 23v1M21.5 49v1M22.5 71v1M22.5 79v2M23.5 20v6M23.5 70v1M23.5 81v1M24.5 20v1M24.5 25v1M24.5 70v1M24.5 81v1M25.5 21v5M25.5 71v1M25.5 79v2M26.5 48v3M27.5 54v1M28.5 42v1M28.5 55v1M29.5 43v1M30.5 44v1M30.5 54v1M30.5 65v1M31.5 47v3M31.5 64v3M32.5 45v4M32.5 64v3M33.5 35v1M33.5 41v2M33.5 51v1M33.5 64v3M34.5 29v1M34.5 52v1M34.5 63v4M35.5 14v3M35.5 21v1M35.5 29v1M35.5 52v1M35.5 62v6M36.5 11v1M36.5 25v1M36.5 31v2M36.5 51v1M36.5 62v6M37.5 9v2M37.5 26v1M37.5 35v1M37.5 47v2M37.5 62v6M38.5 9v1M39.5 9v1M40.5 10v2M40.5 17v3M40.5 74v4M41.5 12v3M42.5 62v1M42.5 69v2M43.5 60v1M43.5 71v1M44.5 51v9M45.5 51v8M46.5 58v2M46.5 70v1M47.5 45v1M47.5 47v1M47.5 61v1M47.5 66v2M48.5 44v1M49.5 45v2M61.5 3v1M61.5 5v1M63.5 2v1M63.5 6v1M64.5 6v1M65.5 3v1M65.5 5v1M70.5 5v2M70.5 77v2M71.5 5v2M71.5 74v1M71.5 82v1M72.5 5v2M72.5 73v1M72.5 83v1M73.5 4v3M73.5 73v1M73.5 83v1M74.5 4v1M74.5 6v1M74.5 35v1M74.5 73v2M74.5 83v1M75.5 3v1M75.5 75v1M75.5 81v2M76.5 7v1M77.5 7v1M77.5 30v1M77.5 36v1M78.5 2v1M79.5 2v1M80.5 2v1M81.5 21v1M82.5 2v1M83.5 8v12M84.5 4v3M88.5 22v4M89.5 30v2M90.5 20v1M90.5 32v1M91.5 26v2M91.5 32v2M92.5 28v6M99.5 38v2M100.5 34v1M101.5 32v1M101.5 41v1M102.5 32v1M102.5 36v1M103.5 32v4M104.5 30v4M105.5 26v1M105.5 34v1M106.5 25v1M106.5 35v1M107.5 24v1M107.5 36v1M108.5 36v1M109.5 35v1M110.5 4v3M110.5 28v1M110.5 33v1M111.5 7v1M113.5 7v1M114.5 3v1M114.5 83v1M115.5 77v3M115.5 85v1M116.5 72v1M117.5 72v1M119.5 75v2M119.5 81v2M131.5 28v2M131.5 33v3M132.5 28v7M135.5 71v9M136.5 70v2M136.5 77v3M137.5 70v3M137.5 76v3M138.5 73v3M142.5 25v1M143.5 36v1M143.5 46v2M143.5 49v2M143.5 78v1M144.5 24v1M144.5 36v1M144.5 46v1M144.5 50v1M144.5 76v1M145.5 22v1M145.5 34v1M145.5 47v3M145.5 72v1M145.5 84v1M146.5 28v3M146.5 38v1M146.5 42v1M146.5 83v1M147.5 7v2M147.5 13v2M147.5 36v1M147.5 50v2M147.5 62v1M147.5 68v1M147.5 70v1M148.5 5v2M148.5 15v1M148.5 35v1M148.5 55v1M148.5 59v1M148.5 75v3M149.5 4v2M149.5 17v3M150.5 4v1M150.5 83v1M152.5 5v1M152.5 88v1M153.5 6v1M153.5 29v2M154.5 19v1M154.5 24v1M154.5 63v3M154.5 87v1M155.5 35v1M155.5 46v6M155.5 60v1M155.5 71v3M155.5 83v1"/>
<path stroke="#999999" d="M2.5 76v1M2.5 81v1M3.5 5v1M3.5 55v1M3.5 85v1M4.5 4v1M4.5 11v1M5.5 12v1M5.5 53v1M6.5 4v1M6.5 12v1M6.5 53v1M7.5 5v1M7.5 11v1M7.5 23v1M7.5 52v1M7.5 65v6M8.5 7v4M8.5 22v2M9.5 3v1M9.5 24v2M9.5 35v1M9.5 42v1M10.5 27v1M10.5 46v1M10.5 49v1M12.5 73v1M13.5 20v1M13.5 62v2M13.5 69v1M14.5 25v1M14.5 37v1M15.5 8v1M15.5 23v1M16.5 6v1M17.5 24v1M18.5 9v1M18.5 22v1M21.5 42v1M21.5 45v4M22.5 40v1M22.5 52v1M22.5 72v7M23.5 71v1M23.5 80v1M24.5 21v4M24.5 50v1M24.5 71v1M24.5 80v1M25.5 72v7M27.5 44v1M28.5 43v1M29.5 55v1M30.5 45v1M30.5 53v1M33.5 30v2M33.5 33v2M33.5 43v2M33.5 49v2M34.5 36v4M34.5 51v1M35.5 17v4M35.5 30v1M35.5 51v1M36.5 12v2M36.5 33v1M36.5 49v2M37.5 11v1M37.5 45v2M38.5 10v2M38.5 25v1M39.5 10v3M39.5 23v1M40.5 12v5M42.5 63v6M43.5 61v1M43.5 70v1M44.5 60v1M44.5 71v1M45.5 59v2M45.5 71v1M46.5 60v1M46.5 69v1M47.5 46v1M47.5 62v4M48.5 45v3M61.5 4v1M62.5 3v1M62.5 5v1M63.5 3v1M64.5 3v1M64.5 5v1M65.5 4v1M71.5 75v7M72.5 74v2M72.5 82v1M73.5 74v1M73.5 82v1M74.5 5v1M74.5 30v1M74.5 34v1M74.5 75v1M74.5 81v2M75.5 4v3M75.5 28v1M75.5 76v5M76.5 3v1M76.5 6v1M76.5 28v1M76.5 38v1M77.5 3v1M77.5 31v1M77.5 35v1M78.5 7v1M79.5 7v1M80.5 8v1M81.5 2v1M81.5 20v1M82.5 20v2M83.5 3v1M83.5 7v1M89.5 19v1M89.5 29v1M90.5 21v1M90.5 28v4M91.5 28v4M100.5 35v1M100.5 41v1M101.5 33v3M102.5 33v3M105.5 27v3M105.5 32v2M106.5 26v1M106.5 34v1M107.5 25v1M107.5 35v1M108.5 25v2M108.5 35v1M109.5 26v2M109.5 34v1M110.5 29v4M111.5 3v1M112.5 3v1M112.5 7v1M113.5 3v1M114.5 4v3M115.5 80v1M116.5 73v1M116.5 85v1M117.5 73v1M117.5 85v1M118.5 73v2M118.5 84v1M119.5 77v4M131.5 30v3M136.5 72v5M137.5 73v3M141.5 27v1M141.5 34v1M142.5 35v1M143.5 48v1M143.5 82v1M144.5 47v3M145.5 73v1M146.5 27v1M146.5 39v3M146.5 70v1M147.5 9v4M147.5 20v1M147.5 27v1M147.5 45v5M147.5 71v1M147.5 84v1M148.5 7v2M148.5 14v1M148.5 54v1M148.5 60v1M148.5 73v2M149.5 6v2M149.5 15v2M149.5 56v3M150.5 5v2M151.5 5v1M151.5 86v1M153.5 13v2M153.5 28v1M153.5 31v1M153.5 88v1M154.5 20v1M154.5 22v2M154.5 33v1M155.5 36v1M155.5 44v2M155.5 74v2M155.5 82v1"/>
<path stroke="#9f9f9f" d="M2.5 77v1M2.5 80v1M3.5 56v2M3.5 61v4M4.5 5v2M4.5 54v1M4.5 86v1M5.5 4v1M5.5 54v1M6.5 5v1M7.5 6v1M7.5 64v1M7.5 71v1M7.5 83v1M8.5 51v1M8.5 81v1M9.5 4v1M9.5 22v2M9.5 36v2M9.5 41v1M9.5 50v1M9.5 82v1M10.5 1v1M10.5 26v1M10.5 31v1M10.5 45v1M11.5 2v1M11.5 78v1M11.5 84v1M12.5 15v1M12.5 72v1M12.5 80v1M12.5 83v1M13.5 21v2M13.5 44v1M13.5 64v5M14.5 26v1M14.5 36v1M15.5 22v1M16.5 24v1M17.5 7v1M18.5 20v2M21.5 43v2M23.5 52v1M23.5 72v2M23.5 78v2M24.5 41v1M24.5 48v2M24.5 72v3M24.5 77v3M27.5 45v1M27.5 53v1M28.5 44v1M28.5 54v1M29.5 44v1M29.5 54v1M30.5 46v1M30.5 52v1M33.5 32v1M33.5 45v4M34.5 30v2M34.5 34v2M34.5 40v3M34.5 48v3M35.5 31v2M35.5 49v2M36.5 14v2M36.5 24v1M36.5 34v1M36.5 47v2M37.5 12v2M37.5 25v1M37.5 36v1M37.5 44v1M38.5 12v2M38.5 24v1M39.5 13v4M39.5 22v1M43.5 62v2M43.5 67v3M44.5 61v1M44.5 69v2M45.5 61v1M45.5 69v2M46.5 61v2M46.5 67v2M62.5 4v1M63.5 4v2M64.5 4v1M72.5 76v6M73.5 75v7M74.5 31v3M74.5 76v5M75.5 37v1M76.5 4v2M77.5 4v3M77.5 32v3M78.5 3v1M78.5 6v1M79.5 3v1M80.5 3v1M80.5 7v1M81.5 3v1M81.5 8v12M82.5 3v1M82.5 7v6M82.5 17v3M83.5 4v3M89.5 20v1M89.5 27v2M90.5 22v2M90.5 25v3M100.5 36v1M101.5 36v2M101.5 40v1M105.5 30v2M106.5 27v2M106.5 32v2M107.5 26v2M107.5 33v2M108.5 27v1M108.5 33v2M109.5 28v6M111.5 4v3M112.5 6v1M113.5 4v1M113.5 6v1M116.5 74v2M117.5 74v1M118.5 75v2M118.5 83v1M141.5 28v1M141.5 33v1M142.5 26v1M143.5 25v1M143.5 79v3M144.5 35v1M144.5 84v1M145.5 23v1M145.5 33v1M145.5 74v2M146.5 21v1M146.5 71v1M146.5 82v1M147.5 37v1M147.5 44v1M147.5 63v1M147.5 67v1M147.5 72v2M147.5 76v2M148.5 9v5M148.5 20v1M148.5 27v1M148.5 36v1M148.5 61v1M148.5 70v3M148.5 78v1M148.5 84v1M149.5 8v1M149.5 13v2M149.5 20v1M149.5 27v2M149.5 32v3M149.5 59v1M149.5 83v1M150.5 7v1M150.5 82v1M151.5 6v1M152.5 6v1M153.5 7v1M153.5 12v1M153.5 15v1M153.5 32v1M154.5 21v1M154.5 57v3M154.5 61v2M154.5 66v1M155.5 37v1M155.5 42v2M155.5 76v3M155.5 80v2"/>
<path stroke="#a6a6a6" d="M2.5 78v2M3.5 58v3M3.5 65v1M4.5 7v1M4.5 10v1M4.5 55v1M5.5 5v1M5.5 86v1M6.5 54v1M6.5 63v3M6.5 85v1M7.5 7v1M7.5 10v1M7.5 53v1M7.5 63v1M7.5 72v2M7.5 82v1M8.5 69v2M8.5 80v1M9.5 5v1M9.5 19v3M9.5 38v3M9.5 80v2M10.5 2v1M10.5 25v1M10.5 50v1M10.5 83v1M11.5 3v1M11.5 28v2M11.5 75v3M11.5 79v1M12.5 5v1M12.5 14v1M12.5 16v2M12.5 81v2M13.5 23v2M13.5 43v1M14.5 31v3M14.5 35v1M15.5 9v1M15.5 21v1M16.5 7v1M17.5 23v1M18.5 10v1M18.5 18v2M23.5 40v1M23.5 74v4M24.5 45v3M24.5 75v2M27.5 46v1M27.5 52v1M30.5 47v2M30.5 50v2M34.5 32v2M34.5 43v5M35.5 33v3M35.5 45v4M36.5 16v1M36.5 23v1M36.5 35v1M36.5 45v2M37.5 14v2M37.5 24v1M37.5 37v1M37.5 43v1M38.5 14v2M38.5 23v1M39.5 17v5M43.5 64v3M44.5 62v7M45.5 62v7M46.5 63v4M75.5 29v1M76.5 29v1M76.5 37v1M78.5 4v2M79.5 4v3M80.5 4v3M81.5 4v4M82.5 4v3M82.5 13v4M89.5 21v1M89.5 26v1M90.5 24v1M100.5 37v1M100.5 40v1M101.5 38v2M106.5 29v3M107.5 28v5M108.5 28v5M112.5 4v2M113.5 5v1M115.5 81v1M115.5 84v1M116.5 76v5M117.5 75v3M117.5 79v1M117.5 84v1M118.5 77v6M141.5 29v4M142.5 34v1M143.5 35v1M144.5 25v1M144.5 77v1M145.5 24v2M145.5 76v1M145.5 83v1M146.5 26v1M146.5 72v1M146.5 79v3M147.5 43v1M147.5 64v3M147.5 74v2M147.5 78v1M147.5 83v1M148.5 53v1M148.5 69v1M149.5 9v4M149.5 29v3M149.5 35v1M149.5 55v1M149.5 60v1M149.5 77v3M149.5 82v1M150.5 8v2M150.5 11v6M150.5 81v1M151.5 7v1M151.5 85v1M152.5 13v1M152.5 87v1M153.5 8v4M153.5 27v1M153.5 33v1M154.5 34v1M154.5 56v1M154.5 60v1M154.5 86v1M155.5 38v4M155.5 79v1"/>
<path stroke="#acacac" d="M3.5 66v1M3.5 72v1M3.5 84v1M4.5 8v2M4.5 56v2M4.5 61v4M5.5 6v1M5.5 11v1M5.5 55v2M5.5 62v3M6.5 6v1M6.5 11v1M6.5 55v2M6.5 62v1M6.5 66v1M7.5 8v2M7.5 54v1M7.5 62v1M7.5 74v1M8.5 52v1M8.5 65v4M8.5 71v4M8.5 78v2M9.5 6v1M9.5 15v4M9.5 51v1M9.5 78v2M10.5 3v1M10.5 24v1M10.5 32v1M10.5 44v1M10.5 51v1M10.5 77v4M10.5 82v1M11.5 27v1M11.5 30v1M11.5 74v1M11.5 80v1M11.5 83v1M12.5 13v1M12.5 18v1M12.5 48v3M12.5 71v1M13.5 25v2M14.5 27v4M14.5 34v1M15.5 19v2M16.5 22v2M17.5 22v1M18.5 11v1M18.5 17v1M22.5 51v1M23.5 51v1M24.5 42v1M24.5 44v1M27.5 47v5M28.5 45v1M28.5 53v1M29.5 45v1M29.5 53v1M30.5 49v1M35.5 36v2M35.5 43v2M36.5 17v6M36.5 44v1M37.5 16v2M37.5 23v1M37.5 38v1M37.5 41v2M38.5 16v3M38.5 22v1M75.5 36v1M76.5 36v1M89.5 22v4M100.5 38v2M115.5 82v2M116.5 81v1M116.5 84v1M117.5 78v1M117.5 80v2M142.5 27v1M143.5 26v1M143.5 34v1M144.5 34v1M145.5 26v1M145.5 32v1M145.5 77v1M146.5 73v2M146.5 76v3M147.5 38v1M147.5 42v1M147.5 79v1M148.5 37v1M148.5 51v2M148.5 62v1M148.5 79v1M148.5 83v1M149.5 54v1M149.5 61v1M149.5 80v2M150.5 10v1M150.5 17v1M150.5 27v2M150.5 58v2M150.5 80v1M151.5 8v1M151.5 11v4M152.5 7v1M152.5 12v1M152.5 14v1M152.5 30v2M153.5 16v1M153.5 61v4M153.5 87v1M154.5 35v1M154.5 67v1"/>
<path stroke="#b2b2b2" d="M3.5 67v1M3.5 70v2M3.5 73v1M4.5 58v3M4.5 65v1M4.5 85v1M5.5 7v1M5.5 57v5M5.5 65v1M6.5 7v1M6.5 57v5M6.5 67v6M6.5 84v1M7.5 55v1M7.5 60v2M7.5 75v1M7.5 81v1M8.5 63v2M8.5 75v3M9.5 7v2M9.5 12v3M9.5 73v5M10.5 4v1M10.5 22v2M10.5 43v1M10.5 74v3M10.5 81v1M11.5 4v1M11.5 26v1M11.5 46v5M11.5 73v1M11.5 81v2M12.5 6v1M12.5 12v1M12.5 19v1M12.5 26v4M12.5 46v2M12.5 51v10M12.5 70v1M13.5 27v3M13.5 42v1M15.5 10v1M15.5 17v2M16.5 8v1M16.5 21v1M17.5 8v1M17.5 20v2M18.5 12v5M22.5 41v1M22.5 50v1M23.5 41v1M23.5 50v1M24.5 43v1M28.5 46v1M28.5 52v1M29.5 46v2M29.5 51v2M35.5 38v1M35.5 41v2M36.5 36v1M36.5 43v1M37.5 18v5M37.5 39v2M38.5 19v3M75.5 30v1M75.5 35v1M76.5 30v2M76.5 35v1M116.5 82v2M117.5 82v2M142.5 28v1M142.5 32v2M144.5 26v1M144.5 33v1M144.5 78v1M144.5 83v1M145.5 27v2M145.5 31v1M145.5 78v1M145.5 82v1M146.5 22v1M146.5 25v1M146.5 75v1M147.5 21v1M147.5 26v1M147.5 39v3M147.5 80v3M148.5 26v1M148.5 38v1M148.5 44v7M148.5 68v1M148.5 80v1M149.5 21v1M149.5 26v1M149.5 36v1M149.5 53v1M149.5 76v1M150.5 18v1M150.5 26v1M150.5 29v6M150.5 57v1M150.5 60v2M150.5 79v1M151.5 9v2M151.5 15v1M152.5 8v4M152.5 15v1M152.5 28v2M152.5 32v2M152.5 61v2M153.5 34v1M153.5 58v3M154.5 55v1M154.5 68v1"/>
<path stroke="#b9b9b9" d="M3.5 68v2M3.5 74v1M3.5 83v1M5.5 8v1M5.5 10v1M5.5 66v1M5.5 85v1M6.5 8v1M6.5 10v1M6.5 73v1M7.5 56v4M7.5 76v5M8.5 53v1M8.5 62v1M9.5 9v3M9.5 52v1M9.5 71v2M10.5 5v1M10.5 17v5M10.5 33v1M10.5 52v1M10.5 73v1M11.5 5v1M11.5 15v4M11.5 24v2M11.5 31v1M11.5 45v1M11.5 51v3M11.5 72v1M12.5 7v1M12.5 11v1M12.5 20v6M12.5 30v1M12.5 44v2M12.5 61v1M13.5 30v2M13.5 41v1M15.5 11v2M15.5 16v1M16.5 19v2M17.5 9v1M17.5 19v1M22.5 42v1M22.5 45v5M23.5 49v1M28.5 47v5M29.5 48v3M35.5 39v2M36.5 37v1M36.5 42v1M75.5 31v4M76.5 32v3M142.5 29v3M143.5 27v1M143.5 33v1M144.5 27v1M144.5 32v1M145.5 29v2M145.5 79v3M146.5 23v2M148.5 21v1M148.5 39v5M148.5 63v1M148.5 81v2M149.5 37v1M149.5 44v3M149.5 51v2M149.5 62v1M149.5 75v1M150.5 19v1M150.5 35v1M150.5 56v1M150.5 62v1M151.5 16v1M151.5 28v7M151.5 58v6M151.5 84v1M152.5 34v1M152.5 59v2M152.5 63v1M153.5 26v1M153.5 65v1M154.5 36v2M154.5 54v1M154.5 69v1M154.5 85v1"/>
<path stroke="#bfbfbf" d="M4.5 66v1M5.5 9v1M5.5 67v1M6.5 9v1M6.5 83v1M8.5 54v2M8.5 60v2M9.5 53v1M9.5 70v1M10.5 6v1M10.5 13v4M10.5 34v1M10.5 42v1M10.5 53v1M10.5 72v1M11.5 13v2M11.5 19v5M11.5 44v1M11.5 54v4M11.5 71v1M12.5 8v3M12.5 31v1M12.5 43v1M12.5 62v1M12.5 69v1M13.5 32v1M13.5 38v3M15.5 13v3M16.5 9v1M16.5 18v1M17.5 10v1M17.5 18v1M22.5 43v2M23.5 42v7M36.5 38v4M143.5 28v1M143.5 31v2M144.5 28v1M144.5 31v1M144.5 79v1M144.5 81v2M147.5 22v1M147.5 25v1M148.5 67v1M149.5 22v1M149.5 25v1M149.5 38v6M149.5 47v4M149.5 74v1M150.5 20v1M150.5 25v1M150.5 36v1M150.5 63v1M150.5 78v1M151.5 27v1M151.5 35v1M152.5 27v1M152.5 58v1M152.5 64v1M152.5 86v1M153.5 17v1M153.5 35v1M153.5 57v1M153.5 86v1M154.5 38v8M154.5 53v1M154.5 70v1"/>
<path stroke="#c6c6c6" d="M3.5 75v1M3.5 82v1M4.5 67v6M4.5 84v1M5.5 68v5M5.5 84v1M6.5 74v1M8.5 56v4M9.5 54v1M9.5 69v1M10.5 7v2M10.5 11v2M10.5 35v1M10.5 41v1M10.5 54v2M10.5 71v1M11.5 6v1M11.5 12v1M11.5 32v1M11.5 43v1M11.5 58v3M12.5 42v1M12.5 63v1M12.5 68v1M13.5 33v1M13.5 36v2M16.5 10v1M16.5 17v1M17.5 11v1M17.5 17v1M143.5 29v2M144.5 29v2M144.5 80v1M147.5 23v2M148.5 22v1M148.5 25v1M148.5 64v3M149.5 23v2M149.5 63v1M149.5 73v1M150.5 37v2M150.5 55v1M151.5 36v1M151.5 57v1M151.5 64v1M151.5 83v1M152.5 16v1M152.5 35v1M153.5 25v1M153.5 36v1M153.5 66v1M154.5 46v3M154.5 52v1M154.5 71v2M154.5 84v1"/>
<path stroke="#cccccc" d="M3.5 76v1M3.5 81v1M4.5 73v1M5.5 73v1M6.5 75v1M6.5 82v1M9.5 55v9M9.5 68v1M10.5 9v2M10.5 36v5M10.5 56v5M10.5 70v1M11.5 7v5M11.5 42v1M11.5 61v1M11.5 70v1M12.5 32v1M12.5 41v1M12.5 64v4M13.5 34v2M16.5 11v2M16.5 15v2M17.5 12v5M148.5 23v2M149.5 64v1M149.5 68v5M150.5 21v4M150.5 39v7M150.5 54v1M150.5 64v1M150.5 77v1M151.5 17v1M151.5 26v1M151.5 37v1M151.5 82v1M152.5 36v1M152.5 57v1M152.5 65v1M152.5 85v1M153.5 18v1M153.5 37v2M153.5 56v1M153.5 67v1M154.5 49v3M154.5 73v2M154.5 83v1"/>
<path stroke="#d2d2d2" d="M3.5 77v4M4.5 74v1M4.5 83v1M5.5 74v1M6.5 76v1M6.5 81v1M9.5 64v4M10.5 61v1M11.5 33v2M11.5 40v2M11.5 62v1M12.5 33v1M12.5 38v3M16.5 13v2M149.5 65v3M150.5 46v2M150.5 53v1M150.5 65v1M150.5 76v1M151.5 38v3M151.5 56v1M151.5 65v1M151.5 81v1M152.5 17v1M152.5 26v1M152.5 37v3M153.5 19v1M153.5 24v1M153.5 39v5M153.5 85v1M154.5 75v1"/>
<path stroke="#d9d9d9" d="M5.5 83v1M6.5 77v4M10.5 62v1M10.5 69v1M11.5 35v5M11.5 63v1M11.5 69v1M12.5 34v4M150.5 48v5M150.5 66v2M150.5 75v1M151.5 18v1M151.5 25v1M151.5 41v3M151.5 66v1M151.5 80v1M152.5 40v3M152.5 56v1M152.5 66v1M152.5 84v1M153.5 20v1M153.5 23v1M153.5 44v2M153.5 55v1M153.5 68v1M154.5 76v2M154.5 81v2"/>
<path stroke="#dfdfdf" d="M4.5 75v1M4.5 82v1M5.5 75v1M5.5 82v1M10.5 63v2M10.5 68v1M11.5 64v1M11.5 68v1M150.5 68v1M150.5 74v1M151.5 19v1M151.5 24v1M151.5 44v2M151.5 55v1M151.5 78v2M152.5 18v1M152.5 25v1M152.5 43v2M152.5 67v1M153.5 21v2M153.5 46v1M153.5 54v1M153.5 69v2M153.5 84v1M154.5 78v3"/>
<path stroke="#e6e6e6" d="M4.5 76v2M4.5 80v2M5.5 76v1M5.5 81v1M10.5 65v3M11.5 65v3M150.5 69v5M151.5 20v1M151.5 23v1M151.5 46v1M151.5 54v1M151.5 67v1M151.5 77v1M152.5 45v1M152.5 55v1M152.5 68v1M152.5 83v1M153.5 47v2M153.5 53v1M153.5 71v2M153.5 83v1"/>
<path stroke="#ececec" d="M4.5 78v2M5.5 77v4M151.5 21v2M151.5 47v1M151.5 53v1M151.5 68v2M151.5 75v2M152.5 19v1M152.5 24v1M152.5 46v1M152.5 54v1M152.5 69v1M152.5 81v2M153.5 49v4M153.5 73v3M153.5 82v1"/>
<path stroke="#f2f2f2" d="M151.5 48v5M151.5 70v5M152.5 20v4M152.5 47v2M152.5 52v2M152.5 70v11M153.5 76v6"/>
<path stroke="#f9f9f9" d="M152.5 49v3"/>
</g></g></g>
<rect x="645.0" y="396.2" width="5" height="2" fill="#000"/>
<text x="632.7" y="405.2" font-size="25.7" fill="#000" text-anchor="end" textLength="13.3" lengthAdjust="spacingAndGlyphs">1</text>
<rect x="645.0" y="366.1" width="5" height="2" fill="#000"/>
<text x="632.7" y="375.1" font-size="25.7" fill="#000" text-anchor="end" textLength="13.3" lengthAdjust="spacingAndGlyphs">3</text>
<rect x="645.0" y="336.0" width="5" height="2" fill="#000"/>
<text x="632.7" y="345.0" font-size="25.7" fill="#000" text-anchor="end" textLength="13.3" lengthAdjust="spacingAndGlyphs">5</text>
<rect x="645.0" y="305.9" width="5" height="2" fill="#000"/>
<text x="632.7" y="314.9" font-size="25.7" fill="#000" text-anchor="end" textLength="13.3" lengthAdjust="spacingAndGlyphs">7</text>
<rect x="645.0" y="275.8" width="5" height="2" fill="#000"/>
<text x="632.7" y="284.8" font-size="25.7" fill="#000" text-anchor="end" textLength="13.3" lengthAdjust="spacingAndGlyphs">9</text>
<rect x="645.0" y="245.8" width="5" height="2" fill="#000"/>
<text x="632.7" y="254.8" font-size="25.7" fill="#000" text-anchor="end" textLength="26.7" lengthAdjust="spacingAndGlyphs">11</text>
<rect x="645.0" y="215.7" width="5" height="2" fill="#000"/>
<text x="632.7" y="224.7" font-size="25.7" fill="#000" text-anchor="end" textLength="26.7" lengthAdjust="spacingAndGlyphs">13</text>
<rect x="645.0" y="185.6" width="5" height="2" fill="#000"/>
<text x="632.7" y="194.6" font-size="25.7" fill="#000" text-anchor="end" textLength="26.7" lengthAdjust="spacingAndGlyphs">15</text>
<rect x="645.0" y="155.5" width="5" height="2" fill="#000"/>
<text x="632.7" y="164.5" font-size="25.7" fill="#000" text-anchor="end" textLength="26.7" lengthAdjust="spacingAndGlyphs">17</text>
<rect x="649.0" y="397.0" width="2" height="4.5" fill="#000"/>
<text x="648.7" y="435.3" font-size="25" fill="#000" text-anchor="middle" textLength="32.8" lengthAdjust="spacingAndGlyphs">SP</text>
<rect x="761.8" y="397.0" width="2" height="4.5" fill="#000"/>
<text x="766.2" y="435.3" font-size="25" fill="#000" text-anchor="middle" textLength="32.5" lengthAdjust="spacingAndGlyphs">0.5</text>
<rect x="874.6" y="397.0" width="2" height="4.5" fill="#000"/>
<text x="878.4" y="435.3" font-size="25" fill="#000" text-anchor="middle" textLength="32.5" lengthAdjust="spacingAndGlyphs">1.0</text>
<rect x="987.5" y="397.0" width="2" height="4.5" fill="#000"/>
<text x="991.9" y="435.3" font-size="25" fill="#000" text-anchor="middle" textLength="32.5" lengthAdjust="spacingAndGlyphs">1.5</text>
<rect x="1100.3" y="397.0" width="2" height="4.5" fill="#000"/>
<text x="1098.0" y="435.3" font-size="25" fill="#000" text-anchor="middle" textLength="33.8" lengthAdjust="spacingAndGlyphs">SR</text>
<text x="757.0" y="123.5" font-size="37.5" fill="#000" textLength="235.5" lengthAdjust="spacingAndGlyphs">CA1 Recording</text>
<text x="596.2" y="274.6" font-size="31.5" fill="#000" text-anchor="middle" textLength="97.5" lengthAdjust="spacingAndGlyphs" transform="rotate(-90 596.2 274.6)">Neuron</text>
<clipPath id="c3"><rect x="650" y="569" width="454" height="241"/></clipPath>
<filter id="f3" filterUnits="userSpaceOnUse" x="638" y="557" width="480" height="267" color-interpolation-filters="sRGB"><feGaussianBlur color-interpolation-filters="sRGB" stdDeviation="1.5 1.5"/><feComponentTransfer color-interpolation-filters="sRGB"><feFuncR type="table" tableValues="0.078 0.059 0.039 0.02 0 0 0 0 0 0 0 0 0 0 0 0 0 0.015 0.029 0.044 0.059 0.172 0.284 0.397 0.51 0.632 0.755 0.877 1 1 1 1 1 1 1 1 1 1 1 1 1"/><feFuncG type="table" tableValues="0 0 0 0 0 0 0 0 0 0.083 0.167 0.25 0.333 0.382 0.431 0.48 0.529 0.569 0.608 0.647 0.686 0.735 0.784 0.833 0.882 0.912 0.941 0.971 1 0.912 0.824 0.735 0.647 0.529 0.412 0.294 0.176 0.132 0.088 0.044 0"/><feFuncB type="table" tableValues="0.412 0.49 0.569 0.647 0.725 0.794 0.863 0.931 1 0.922 0.843 0.765 0.686 0.593 0.5 0.407 0.314 0.235 0.157 0.078 0 0 0 0 0 0 0 0 0 0 0 0 0 0 0 0 0 0 0 0 0"/></feComponentTransfer></filter>
<g clip-path="url(#c3)"><g filter="url(#f3)"><g transform="translate(638 557) scale(3)" fill="none" stroke-width="1.04">
<rect x="-1" y="-1" width="162" height="91" fill="#404040"/>
<path stroke="#060606" d="M34.5 8v1M61.5 81v2M63.5 18v1"/>
<path stroke="#0d0d0d" d="M34.5 6v2M34.5 9v1M60.5 81v2M61.5 83v1M62.5 18v2M62.5 81v2M63.5 19v1M64.5 18v2M70.5 38v1"/>
<path stroke="#131313" d="M33.5 7v3M34.5 10v1M35.5 7v3M36.5 73v1M38.5 53v2M46.5 33v2M56.5 71v3M60.5 83v1M61.5 18v1M61.5 80v1M62.5 17v1M62.5 20v1M62.5 83v1M63.5 17v1M63.5 20v1M63.5 82v1M64.5 17v1M64.5 20v1M69.5 36v5M70.5 36v2M70.5 39v2M73.5 48v1M84.5 65v4M95.5 13v1M97.5 28v2M98.5 27v3M105.5 78v2M135.5 68v2"/>
<path stroke="#1a1a1a" d="M23.5 7v1M24.5 7v1M33.5 6v1M33.5 10v1M34.5 5v1M35.5 6v1M36.5 72v1M36.5 74v2M37.5 53v2M38.5 51v2M38.5 55v1M39.5 52v3M46.5 32v1M46.5 35v2M60.5 80v1M61.5 19v1M62.5 80v1M63.5 81v1M67.5 47v2M68.5 37v3M69.5 41v1M70.5 35v1M70.5 41v1M71.5 38v3M73.5 47v1M73.5 49v1M79.5 18v2M80.5 47v3M81.5 47v3M83.5 64v6M84.5 63v2M84.5 69v2M85.5 65v4M90.5 33v2M94.5 8v1M95.5 12v1M95.5 14v1M96.5 12v2M97.5 27v1M97.5 30v1M98.5 30v1M105.5 76v2M105.5 80v1M126.5 6v4M130.5 21v5M132.5 53v2M133.5 53v2M136.5 68v2M139.5 13v1"/>
<path stroke="#202020" d="M23.5 6v1M23.5 8v1M24.5 6v1M24.5 8v1M29.5 38v2M34.5 11v1M35.5 5v1M35.5 10v1M37.5 52v1M37.5 55v1M38.5 56v1M39.5 51v1M39.5 55v1M46.5 31v1M56.5 70v1M56.5 74v1M59.5 81v2M61.5 17v1M61.5 20v1M61.5 84v1M62.5 64v2M63.5 21v1M63.5 37v2M63.5 83v1M64.5 37v3M65.5 18v2M67.5 46v1M67.5 49v1M68.5 40v2M69.5 35v1M69.5 42v1M70.5 42v1M71.5 37v1M71.5 41v1M72.5 48v1M73.5 27v3M73.5 46v1M73.5 50v1M75.5 16v3M76.5 16v3M78.5 18v1M79.5 17v1M79.5 20v1M80.5 46v1M80.5 50v1M81.5 46v1M81.5 50v1M83.5 63v1M83.5 70v1M84.5 71v1M85.5 64v1M85.5 69v2M90.5 32v1M90.5 35v1M94.5 6v2M94.5 9v2M95.5 11v1M95.5 15v1M96.5 11v1M96.5 14v1M97.5 26v1M98.5 26v1M98.5 31v1M101.5 54v7M103.5 62v3M105.5 81v1M113.5 47v3M116.5 7v2M117.5 7v2M124.5 37v3M124.5 47v2M125.5 47v2M126.5 5v1M126.5 10v1M130.5 8v3M131.5 54v1M132.5 55v1M133.5 55v1M137.5 33v1M139.5 12v1M139.5 14v2"/>
<path stroke="#262626" d="M28.5 38v2M29.5 37v1M33.5 5v1M33.5 11v1M33.5 52v2M34.5 4v1M36.5 71v1M36.5 76v1M37.5 51v1M38.5 50v1M39.5 56v1M44.5 24v4M46.5 37v1M47.5 33v2M50.5 68v3M51.5 68v4M57.5 51v2M57.5 68v3M59.5 83v1M60.5 84v1M61.5 63v4M62.5 21v1M62.5 63v1M62.5 66v1M62.5 84v1M63.5 36v1M63.5 39v1M63.5 80v1M64.5 21v1M64.5 36v1M65.5 20v1M67.5 45v1M67.5 50v1M68.5 36v1M69.5 43v1M70.5 34v1M70.5 43v1M71.5 42v1M72.5 47v1M72.5 49v1M74.5 27v2M75.5 15v1M75.5 19v1M76.5 19v1M78.5 17v1M78.5 19v1M80.5 45v1M80.5 51v1M81.5 45v1M81.5 51v1M83.5 62v1M84.5 62v1M85.5 63v1M85.5 71v1M90.5 36v1M94.5 5v1M94.5 11v1M97.5 31v1M99.5 27v3M101.5 52v2M101.5 61v1M102.5 54v7M103.5 61v1M105.5 75v1M109.5 17v3M111.5 56v3M113.5 50v1M116.5 6v1M116.5 9v1M116.5 28v3M117.5 6v1M117.5 9v1M117.5 52v3M124.5 36v1M124.5 40v1M124.5 46v1M124.5 49v1M125.5 46v1M125.5 49v1M126.5 4v1M130.5 7v1M130.5 11v1M130.5 20v1M130.5 26v1M131.5 53v1M131.5 55v1M133.5 52v1M135.5 67v1M135.5 70v1M136.5 70v1M137.5 31v2M137.5 34v1M139.5 11v1M139.5 21v3M140.5 12v3"/>
<path stroke="#2d2d2d" d="M4.5 28v3M23.5 5v1M23.5 9v1M24.5 5v1M24.5 9v1M28.5 37v1M29.5 40v1M30.5 38v1M32.5 7v3M34.5 12v1M35.5 4v1M35.5 11v1M37.5 50v1M37.5 56v1M37.5 73v1M38.5 57v1M39.5 50v1M40.5 52v3M44.5 23v1M44.5 28v2M45.5 24v5M46.5 30v1M47.5 32v1M47.5 35v1M50.5 67v1M50.5 71v1M51.5 67v1M56.5 69v1M57.5 53v1M57.5 71v1M58.5 69v1M59.5 80v1M60.5 18v2M60.5 79v1M61.5 62v1M61.5 79v1M62.5 62v1M62.5 67v1M62.5 79v1M63.5 16v1M63.5 35v1M63.5 84v1M64.5 16v1M64.5 35v1M64.5 40v1M64.5 81v2M65.5 17v1M67.5 38v3M68.5 42v1M69.5 34v1M71.5 43v1M72.5 39v3M72.5 46v1M72.5 50v1M73.5 45v1M73.5 51v1M74.5 17v1M74.5 29v1M76.5 15v1M77.5 17v1M80.5 19v1M82.5 63v3M83.5 71v1M84.5 72v1M85.5 62v1M85.5 72v1M86.5 66v5M89.5 33v3M92.5 23v1M93.5 6v5M94.5 12v1M95.5 10v1M99.5 30v1M101.5 51v1M101.5 62v1M102.5 52v2M102.5 61v2M103.5 60v1M103.5 65v1M104.5 77v3M105.5 82v1M109.5 16v1M109.5 20v1M111.5 59v1M113.5 51v1M116.5 27v1M116.5 31v1M117.5 5v1M117.5 51v1M117.5 55v1M118.5 82v1M120.5 25v3M121.5 24v4M123.5 64v2M124.5 41v1M124.5 63v4M125.5 45v1M126.5 11v1M130.5 6v1M132.5 52v1M136.5 67v1M137.5 35v1M138.5 13v2M139.5 16v1M140.5 11v1M140.5 15v1"/>
<path stroke="#333333" d="M3.5 27v4M4.5 27v1M4.5 31v1M5.5 29v2M15.5 77v2M16.5 76v3M17.5 75v5M18.5 29v3M18.5 75v5M19.5 33v1M19.5 74v6M20.5 30v6M20.5 68v2M20.5 76v2M21.5 31v5M21.5 57v15M22.5 57v8M23.5 59v2M30.5 37v1M30.5 39v1M32.5 6v1M32.5 10v1M33.5 4v1M33.5 12v1M33.5 51v1M33.5 54v1M34.5 3v1M36.5 52v3M37.5 72v1M37.5 74v1M38.5 49v1M39.5 49v1M40.5 51v1M40.5 55v1M44.5 30v1M45.5 29v1M45.5 32v4M46.5 29v1M46.5 38v1M47.5 31v1M47.5 36v1M48.5 5v5M49.5 6v4M49.5 52v2M50.5 49v8M50.5 72v1M51.5 38v3M51.5 48v10M51.5 66v1M51.5 72v1M52.5 38v6M52.5 47v12M53.5 38v6M53.5 47v12M54.5 38v6M54.5 48v10M55.5 38v6M55.5 49v6M56.5 38v6M57.5 38v5M57.5 50v1M58.5 38v5M58.5 70v1M59.5 84v1M60.5 17v1M60.5 20v1M61.5 21v1M61.5 67v1M61.5 85v1M62.5 16v1M63.5 40v1M63.5 63v3M63.5 79v1M64.5 41v1M64.5 80v1M64.5 83v1M66.5 46v4M67.5 37v1M67.5 41v1M67.5 44v1M67.5 51v1M68.5 35v1M68.5 43v1M68.5 46v4M69.5 44v1M70.5 44v1M71.5 36v1M71.5 44v1M72.5 42v1M72.5 45v1M73.5 26v1M74.5 16v1M74.5 18v1M74.5 26v1M75.5 20v1M76.5 20v1M77.5 16v1M77.5 18v1M78.5 16v1M78.5 20v1M79.5 47v3M80.5 20v1M80.5 44v1M80.5 52v1M81.5 44v1M81.5 52v1M82.5 47v3M82.5 62v1M82.5 66v1M84.5 8v4M85.5 6v6M86.5 4v9M86.5 51v3M86.5 64v2M86.5 71v1M87.5 4v9M87.5 51v5M88.5 5v7M88.5 50v7M89.5 6v4M89.5 32v1M89.5 36v1M89.5 52v6M90.5 31v1M90.5 37v1M90.5 55v4M90.5 76v5M91.5 75v7M92.5 24v1M92.5 74v8M93.5 5v1M93.5 11v1M93.5 73v9M94.5 4v1M94.5 13v1M94.5 73v9M95.5 9v1M95.5 74v6M96.5 10v1M97.5 32v1M98.5 25v1M98.5 32v1M99.5 26v1M99.5 31v1M101.5 50v1M101.5 63v1M102.5 51v1M102.5 63v2M104.5 7v7M104.5 62v2M104.5 76v1M104.5 80v1M105.5 6v9M105.5 74v1M106.5 6v9M107.5 7v7M108.5 8v5M109.5 15v1M109.5 21v1M110.5 17v3M111.5 55v1M112.5 56v4M116.5 10v1M116.5 32v1M117.5 4v1M117.5 56v1M117.5 67v2M118.5 83v1M120.5 23v2M120.5 28v1M121.5 23v1M121.5 28v1M123.5 37v3M123.5 63v1M123.5 66v1M124.5 35v1M124.5 45v1M124.5 62v1M124.5 67v1M125.5 6v2M125.5 37v3M125.5 50v1M126.5 3v1M126.5 46v3M130.5 19v1M130.5 27v1M130.5 54v2M133.5 56v1M134.5 52v3M134.5 68v2M136.5 32v3M137.5 30v1M137.5 36v1M138.5 12v1M138.5 15v1M139.5 10v1M139.5 17v1M139.5 20v1M140.5 16v1M140.5 64v5M141.5 64v6M142.5 64v6M143.5 64v5"/>
<path stroke="#393939" d="M2.5 27v5M3.5 26v1M3.5 31v2M4.5 26v1M4.5 32v1M5.5 27v2M5.5 31v2M14.5 10v3M14.5 76v3M15.5 75v2M15.5 79v1M16.5 75v1M16.5 79v1M17.5 74v1M18.5 28v1M18.5 32v1M18.5 73v2M18.5 80v1M19.5 30v3M19.5 34v3M19.5 67v7M19.5 80v2M20.5 29v1M20.5 36v2M20.5 56v12M20.5 70v6M20.5 78v4M21.5 29v2M21.5 36v1M21.5 53v4M21.5 72v9M22.5 5v3M22.5 31v5M22.5 55v2M22.5 65v15M23.5 4v1M23.5 33v1M23.5 57v2M23.5 61v6M23.5 70v9M24.5 4v1M24.5 57v5M25.5 58v1M32.5 4v2M32.5 11v2M33.5 3v1M33.5 13v1M34.5 2v1M34.5 13v1M35.5 3v1M35.5 12v1M36.5 6v1M36.5 50v2M36.5 55v1M36.5 77v1M37.5 49v1M37.5 57v1M37.5 75v1M40.5 50v1M44.5 22v1M44.5 31v2M45.5 23v1M45.5 30v2M45.5 36v2M46.5 28v1M47.5 5v5M47.5 30v1M47.5 37v1M48.5 2v3M48.5 10v1M48.5 50v5M49.5 3v3M49.5 10v2M49.5 36v2M49.5 49v3M49.5 54v5M50.5 4v7M50.5 36v4M50.5 48v1M50.5 57v5M50.5 66v1M50.5 73v1M51.5 37v1M51.5 41v7M51.5 58v5M51.5 65v1M51.5 73v1M52.5 37v1M52.5 44v3M52.5 59v4M53.5 44v3M53.5 59v4M54.5 37v1M54.5 44v4M54.5 58v5M55.5 37v1M55.5 44v5M55.5 55v4M56.5 37v1M56.5 44v10M56.5 68v1M57.5 36v2M57.5 43v7M57.5 67v1M57.5 72v1M58.5 35v3M58.5 43v3M58.5 51v1M58.5 68v1M58.5 71v1M58.5 82v2M59.5 17v4M59.5 36v6M59.5 79v1M59.5 85v1M60.5 21v1M60.5 37v1M60.5 78v1M60.5 85v1M61.5 16v1M61.5 61v1M61.5 68v1M61.5 78v1M62.5 36v2M62.5 61v1M62.5 68v1M62.5 78v1M62.5 85v1M63.5 22v1M63.5 62v1M63.5 66v2M63.5 85v1M64.5 22v1M64.5 34v1M64.5 79v1M64.5 84v1M65.5 21v1M65.5 37v4M65.5 81v2M66.5 38v4M66.5 44v2M66.5 50v1M67.5 42v2M67.5 52v1M68.5 44v2M68.5 50v1M69.5 45v1M70.5 33v1M70.5 45v2M71.5 45v1M72.5 28v2M72.5 43v2M72.5 51v1M73.5 41v4M73.5 52v1M74.5 15v1M74.5 19v1M74.5 25v1M74.5 46v5M75.5 21v1M77.5 19v1M79.5 16v1M79.5 21v1M79.5 45v2M79.5 50v2M80.5 18v1M80.5 43v1M81.5 43v1M81.5 53v1M82.5 45v2M82.5 50v3M82.5 67v1M83.5 9v4M83.5 50v3M83.5 61v1M84.5 7v1M84.5 12v1M84.5 49v5M84.5 61v1M85.5 0v6M85.5 12v1M85.5 48v7M85.5 73v1M86.5 0v4M86.5 13v1M86.5 47v4M86.5 54v2M86.5 63v1M86.5 72v3M87.5 0v4M87.5 13v2M87.5 47v4M87.5 56v1M87.5 74v7M88.5 1v4M88.5 12v3M88.5 47v3M88.5 57v1M88.5 75v8M89.5 1v5M89.5 10v4M89.5 37v1M89.5 50v2M89.5 58v1M89.5 75v9M90.5 2v11M90.5 38v1M90.5 53v2M90.5 59v1M90.5 75v1M90.5 81v4M91.5 4v8M91.5 55v6M91.5 74v1M91.5 82v3M92.5 8v1M92.5 56v5M92.5 72v2M92.5 82v3M93.5 4v1M93.5 56v4M93.5 70v3M93.5 82v3M94.5 3v1M94.5 14v1M94.5 70v3M94.5 82v3M95.5 5v4M95.5 16v1M95.5 72v2M95.5 80v4M96.5 15v1M96.5 27v3M96.5 74v6M97.5 25v1M97.5 33v1M97.5 75v3M98.5 33v1M99.5 25v1M99.5 32v1M100.5 28v2M100.5 54v6M101.5 49v1M101.5 64v2M102.5 49v2M103.5 5v9M103.5 59v1M104.5 3v4M104.5 14v1M104.5 61v1M104.5 64v1M104.5 75v1M104.5 81v2M105.5 3v3M105.5 15v1M105.5 83v1M106.5 3v3M106.5 15v2M107.5 3v4M107.5 14v2M108.5 6v2M108.5 13v3M109.5 8v7M110.5 9v3M110.5 16v1M110.5 20v1M111.5 60v1M112.5 47v5M112.5 55v1M115.5 29v2M116.5 5v1M117.5 3v1M117.5 10v1M117.5 29v3M117.5 50v1M117.5 57v1M117.5 69v1M118.5 81v1M120.5 29v2M121.5 22v1M121.5 29v2M123.5 35v2M123.5 40v1M123.5 62v1M123.5 67v2M124.5 34v1M124.5 42v1M124.5 50v1M124.5 68v1M125.5 3v3M125.5 8v1M125.5 35v2M125.5 40v2M125.5 44v1M126.5 2v1M126.5 12v1M126.5 45v1M126.5 49v1M130.5 5v1M130.5 12v1M130.5 53v1M131.5 52v1M132.5 56v1M134.5 55v1M136.5 31v1M136.5 35v1M137.5 37v1M137.5 68v2M138.5 10v2M138.5 16v1M138.5 21v2M138.5 67v3M139.5 9v1M139.5 18v2M139.5 24v1M139.5 63v7M140.5 10v1M140.5 63v1M140.5 69v2M141.5 63v1M141.5 70v1M142.5 63v1M142.5 70v1M143.5 63v1M143.5 69v1M144.5 64v6"/>
<path stroke="#464646" d="M0.5 54v7M0.5 72v3M0.5 84v3M1.5 4v3M1.5 12v5M1.5 20v3M1.5 37v6M1.5 48v4M1.5 88v1M2.5 8v4M2.5 22v2M2.5 34v1M2.5 45v3M3.5 23v2M3.5 33v1M3.5 46v1M4.5 24v1M4.5 33v1M4.5 46v2M5.5 1v1M5.5 25v1M5.5 33v1M5.5 45v3M6.5 1v1M6.5 26v2M6.5 31v2M7.5 1v1M8.5 0v2M8.5 87v2M12.5 0v1M13.5 3v2M13.5 78v1M13.5 86v1M14.5 15v1M15.5 3v3M15.5 74v1M15.5 86v1M16.5 0v1M16.5 74v1M17.5 73v1M17.5 80v1M17.5 86v1M18.5 34v1M18.5 43v4M18.5 70v2M18.5 85v1M19.5 47v3M19.5 60v3M20.5 1v2M20.5 27v1M20.5 40v4M21.5 8v1M21.5 38v1M21.5 50v1M22.5 29v1M23.5 30v1M23.5 55v1M24.5 31v2M24.5 35v1M24.5 64v1M24.5 76v1M25.5 4v1M25.5 34v2M25.5 55v1M25.5 62v1M25.5 78v1M26.5 37v1M26.5 53v1M26.5 60v1M26.5 79v1M27.5 2v1M27.5 37v1M27.5 39v1M27.5 55v1M27.5 59v1M27.5 79v1M28.5 14v3M28.5 79v1M28.5 81v2M29.5 4v1M29.5 12v1M29.5 16v2M29.5 36v1M29.5 78v1M29.5 85v1M30.5 8v1M30.5 18v3M30.5 75v3M30.5 86v1M31.5 20v2M31.5 36v1M31.5 40v1M31.5 73v2M31.5 77v1M31.5 86v1M32.5 21v1M32.5 37v2M32.5 41v1M32.5 73v2M32.5 86v1M33.5 20v1M33.5 39v2M33.5 73v2M33.5 78v1M33.5 85v1M34.5 16v2M34.5 49v2M34.5 73v1M34.5 81v3M35.5 13v2M35.5 49v1M35.5 54v1M35.5 73v1M35.5 85v1M36.5 9v1M36.5 49v1M36.5 56v1M36.5 86v1M37.5 3v1M37.5 58v1M38.5 2v1M38.5 85v1M39.5 2v1M39.5 32v2M39.5 46v1M39.5 82v1M40.5 2v1M40.5 31v1M40.5 38v4M40.5 56v1M40.5 81v1M41.5 3v1M41.5 29v2M41.5 47v6M41.5 55v1M41.5 78v2M42.5 2v1M42.5 26v3M42.5 43v2M42.5 74v1M43.5 24v1M43.5 42v1M43.5 72v1M44.5 0v1M44.5 41v1M44.5 76v3M45.5 0v1M45.5 22v1M45.5 40v1M46.5 1v1M46.5 8v2M46.5 24v2M46.5 39v1M46.5 86v1M47.5 11v1M47.5 24v1M47.5 38v1M47.5 86v1M48.5 12v1M48.5 23v1M48.5 57v2M48.5 85v1M49.5 12v1M49.5 22v1M49.5 62v8M49.5 80v4M50.5 13v1M50.5 22v1M50.5 40v1M51.5 2v12M51.5 23v1M51.5 31v1M51.5 35v1M52.5 24v1M52.5 36v1M52.5 70v1M52.5 75v1M53.5 25v2M53.5 29v1M53.5 68v1M53.5 80v2M54.5 68v1M54.5 83v1M55.5 36v1M55.5 69v1M55.5 84v1M56.5 1v1M56.5 12v3M56.5 30v1M56.5 84v1M57.5 16v1M57.5 29v1M57.5 32v2M57.5 74v1M58.5 12v3M58.5 20v1M58.5 27v3M58.5 75v1M59.5 4v3M59.5 10v1M59.5 23v1M59.5 33v1M59.5 43v5M59.5 49v1M59.5 68v1M60.5 3v1M60.5 7v1M60.5 9v1M60.5 22v1M60.5 39v1M60.5 63v1M61.5 8v1M61.5 38v1M61.5 71v1M61.5 75v1M62.5 2v1M62.5 8v1M62.5 22v1M62.5 35v1M62.5 60v1M62.5 69v1M62.5 77v1M63.5 8v1M63.5 34v1M63.5 59v1M64.5 33v1M64.5 51v2M64.5 55v3M64.5 69v1M64.5 77v1M65.5 9v1M65.5 22v1M65.5 35v1M65.5 70v2M65.5 75v1M66.5 9v1M66.5 36v1M66.5 72v2M66.5 84v2M67.5 59v1M67.5 69v2M67.5 87v1M68.5 57v1M68.5 86v1M69.5 2v1M69.5 33v1M69.5 57v1M69.5 71v1M69.5 74v2M69.5 82v1M70.5 2v1M70.5 8v1M70.5 32v1M70.5 56v1M70.5 70v1M70.5 73v1M70.5 83v1M71.5 3v1M71.5 7v3M71.5 54v1M71.5 67v2M71.5 72v1M71.5 84v1M72.5 4v1M72.5 6v1M72.5 10v1M72.5 53v1M72.5 64v1M72.5 85v1M73.5 4v2M73.5 10v3M73.5 39v1M73.5 53v1M73.5 67v1M73.5 71v1M73.5 85v1M74.5 2v1M74.5 22v2M74.5 30v1M74.5 39v1M74.5 68v1M74.5 71v1M74.5 85v1M75.5 0v1M75.5 39v1M75.5 55v1M75.5 68v1M75.5 72v1M75.5 84v1M76.5 0v1M76.5 22v1M76.5 54v1M76.5 69v5M76.5 84v1M77.5 0v1M77.5 15v1M77.5 53v1M77.5 74v1M77.5 82v2M78.5 1v1M78.5 15v1M78.5 75v3M78.5 84v1M79.5 2v1M79.5 36v1M79.5 52v1M79.5 86v1M80.5 1v1M80.5 22v1M80.5 37v1M80.5 87v1M81.5 0v1M81.5 20v2M81.5 24v4M81.5 29v1M81.5 38v1M81.5 54v1M81.5 87v1M82.5 10v1M82.5 23v1M82.5 29v1M82.5 38v1M82.5 54v1M82.5 71v1M82.5 86v1M83.5 0v1M83.5 13v1M83.5 24v1M83.5 38v1M83.5 54v1M83.5 84v1M84.5 1v1M84.5 6v1M84.5 13v1M84.5 24v1M84.5 31v1M84.5 37v1M84.5 78v1M85.5 24v1M85.5 55v1M86.5 23v1M86.5 56v1M86.5 61v1M87.5 16v1M87.5 21v1M87.5 69v1M88.5 18v2M88.5 30v2M88.5 73v1M89.5 15v1M89.5 31v1M89.5 59v1M90.5 43v1M90.5 61v1M91.5 33v1M91.5 41v1M92.5 35v1M92.5 41v1M92.5 54v1M92.5 64v1M92.5 71v1M93.5 13v1M93.5 36v1M93.5 42v1M93.5 54v1M94.5 15v1M94.5 36v1M94.5 45v2M94.5 57v1M95.5 35v1M95.5 49v1M95.5 58v1M95.5 66v1M95.5 70v1M96.5 25v1M96.5 31v3M96.5 49v1M96.5 58v1M96.5 64v1M96.5 81v1M96.5 84v1M97.5 4v3M97.5 46v1M97.5 50v1M97.5 57v1M97.5 63v1M97.5 78v1M97.5 86v1M98.5 2v2M98.5 47v1M98.5 53v2M98.5 63v1M98.5 86v1M99.5 1v2M99.5 24v1M99.5 40v1M99.5 64v1M99.5 73v2M100.5 1v2M100.5 21v2M100.5 34v2M100.5 67v5M100.5 85v1M101.5 2v2M101.5 21v1M101.5 32v1M101.5 67v2M101.5 70v1M101.5 85v1M102.5 5v4M102.5 13v1M102.5 31v1M102.5 46v1M102.5 85v1M103.5 14v1M103.5 23v1M103.5 45v1M103.5 83v1M104.5 15v1M104.5 31v1M104.5 65v1M104.5 73v1M105.5 17v1M105.5 20v2M105.5 32v1M105.5 43v1M105.5 58v2M105.5 72v1M106.5 17v1M106.5 32v1M106.5 35v3M106.5 39v3M106.5 57v1M106.5 83v1M107.5 16v1M107.5 34v1M107.5 56v1M108.5 17v1M108.5 35v1M108.5 56v1M108.5 84v1M109.5 36v1M109.5 56v1M109.5 81v1M110.5 2v1M110.5 22v1M110.5 58v1M110.5 80v1M111.5 8v1M111.5 12v2M111.5 38v1M111.5 43v2M111.5 78v1M112.5 9v2M112.5 40v1M112.5 46v1M112.5 61v2M112.5 78v1M113.5 9v1M113.5 27v3M113.5 38v2M113.5 53v1M113.5 63v6M113.5 78v4M114.5 28v2M114.5 38v2M114.5 83v2M115.5 2v1M115.5 27v1M115.5 32v1M115.5 36v1M115.5 39v1M115.5 85v2M116.5 63v2M116.5 67v1M116.5 86v2M117.5 27v1M117.5 41v1M117.5 58v8M117.5 87v1M118.5 8v1M118.5 28v2M118.5 41v1M118.5 63v2M118.5 86v2M119.5 8v2M119.5 27v2M119.5 81v1M119.5 84v3M120.5 9v2M120.5 21v1M120.5 41v1M120.5 65v2M120.5 84v2M121.5 10v3M121.5 20v1M121.5 41v1M121.5 65v5M121.5 82v2M122.5 7v2M122.5 11v14M122.5 42v1M122.5 64v2M122.5 72v8M123.5 5v1M123.5 14v1M123.5 18v4M123.5 25v2M123.5 43v1M123.5 46v1M123.5 48v2M123.5 61v1M124.5 5v1M124.5 14v1M124.5 19v1M124.5 28v1M125.5 30v1M125.5 51v1M125.5 68v1M126.5 33v1M126.5 51v1M126.5 69v1M127.5 6v1M127.5 34v1M127.5 50v6M127.5 71v2M128.5 5v1M128.5 34v1M128.5 54v4M128.5 74v1M129.5 9v1M129.5 23v2M129.5 34v2M129.5 41v2M129.5 44v1M129.5 51v1M129.5 58v1M129.5 75v1M129.5 81v1M129.5 84v1M130.5 13v1M130.5 17v1M130.5 28v1M130.5 52v1M131.5 23v1M131.5 62v1M131.5 86v1M132.5 22v1M132.5 62v1M132.5 64v2M132.5 86v1M133.5 10v2M133.5 16v1M133.5 21v1M133.5 66v1M134.5 3v3M134.5 8v1M134.5 50v1M134.5 57v2M134.5 85v1M135.5 19v1M135.5 34v1M135.5 48v2M135.5 81v2M136.5 1v1M136.5 19v1M136.5 25v1M136.5 30v1M136.5 39v1M136.5 78v1M137.5 1v1M137.5 8v1M137.5 18v1M137.5 25v1M137.5 39v1M137.5 83v2M138.5 1v1M138.5 33v1M138.5 39v1M138.5 62v3M138.5 71v1M138.5 87v1M139.5 2v1M139.5 7v1M139.5 40v1M139.5 61v1M139.5 71v1M139.5 88v1M140.5 4v1M140.5 19v1M140.5 35v1M140.5 42v1M140.5 46v4M140.5 61v1M140.5 88v1M141.5 14v1M141.5 37v1M141.5 52v2M141.5 61v1M141.5 72v1M141.5 87v1M142.5 4v2M142.5 11v2M142.5 38v2M142.5 45v8M142.5 61v1M142.5 71v1M142.5 85v1M143.5 7v1M143.5 11v1M143.5 85v1M144.5 1v1M144.5 11v1M144.5 86v1M145.5 1v1M145.5 8v1M145.5 11v1M145.5 64v1M145.5 68v2M146.5 1v1M146.5 63v1M146.5 65v1M146.5 86v1M147.5 2v1M147.5 86v1M148.5 85v1M149.5 3v1M149.5 83v1M150.5 14v1M150.5 17v1M150.5 85v2M151.5 4v1M151.5 14v1M151.5 88v1M152.5 2v1M153.5 1v1M154.5 2v1M155.5 5v1M155.5 18v1M155.5 25v2M156.5 9v1M156.5 16v1M156.5 27v2M156.5 87v2M157.5 29v2M157.5 79v5M158.5 33v5M158.5 40v3M158.5 56v3M158.5 62v2M159.5 48v6"/>
<path stroke="#4c4c4c" d="M0.5 75v3M0.5 81v3M1.5 17v3M1.5 52v3M1.5 59v8M1.5 87v1M2.5 3v1M2.5 7v1M2.5 12v2M2.5 21v1M2.5 44v1M2.5 48v2M3.5 2v1M3.5 22v1M3.5 45v1M3.5 47v2M4.5 23v1M4.5 45v1M4.5 48v1M5.5 24v1M5.5 48v1M6.5 25v1M6.5 33v1M6.5 47v1M7.5 2v1M9.5 0v1M9.5 86v1M10.5 86v1M12.5 1v1M12.5 86v1M13.5 5v2M13.5 76v1M14.5 74v1M14.5 80v1M15.5 6v8M15.5 45v1M15.5 80v1M16.5 86v1M17.5 29v2M17.5 44v2M18.5 35v1M18.5 42v1M18.5 47v1M18.5 69v1M18.5 81v1M19.5 28v1M19.5 50v10M20.5 3v1M20.5 26v1M21.5 9v1M21.5 27v1M21.5 48v2M22.5 28v1M22.5 53v1M23.5 36v1M24.5 10v1M24.5 30v1M24.5 55v1M24.5 65v1M24.5 75v1M25.5 5v1M25.5 31v3M25.5 36v1M25.5 54v1M25.5 63v1M26.5 3v1M26.5 36v1M26.5 38v1M26.5 52v1M26.5 61v1M27.5 14v3M27.5 54v1M27.5 60v1M28.5 3v1M28.5 13v1M28.5 17v1M28.5 40v1M28.5 56v4M29.5 18v2M29.5 77v1M29.5 79v1M29.5 84v1M30.5 21v1M30.5 36v1M30.5 74v1M30.5 78v1M31.5 22v1M31.5 41v1M32.5 22v1M32.5 42v1M32.5 53v1M32.5 78v1M33.5 21v1M33.5 41v1M33.5 50v1M33.5 79v1M33.5 84v1M34.5 18v2M34.5 54v1M35.5 15v1M35.5 72v1M35.5 79v1M35.5 84v1M36.5 10v1M37.5 4v1M37.5 59v1M37.5 70v1M37.5 77v1M37.5 86v1M38.5 3v1M38.5 59v1M39.5 3v1M39.5 31v1M39.5 34v1M39.5 45v1M39.5 81v1M40.5 3v1M40.5 30v1M40.5 80v1M41.5 4v1M41.5 28v1M41.5 56v1M41.5 77v1M42.5 3v1M42.5 24v2M42.5 45v1M42.5 56v2M43.5 1v1M43.5 23v1M43.5 43v1M43.5 58v4M43.5 71v1M44.5 21v1M44.5 42v1M44.5 75v1M44.5 84v1M45.5 41v1M45.5 85v1M46.5 10v1M47.5 23v1M47.5 52v4M48.5 22v1M48.5 38v1M48.5 48v1M48.5 59v1M48.5 76v3M48.5 84v1M49.5 13v1M49.5 20v2M50.5 14v1M50.5 21v1M51.5 32v1M51.5 34v1M52.5 0v1M52.5 30v1M52.5 74v1M53.5 36v1M53.5 77v3M54.5 28v2M54.5 36v1M55.5 29v1M55.5 70v1M56.5 2v2M56.5 11v1M56.5 29v1M56.5 31v1M56.5 35v1M56.5 55v1M56.5 66v1M56.5 75v1M57.5 17v2M57.5 28v1M57.5 54v1M57.5 83v1M58.5 21v1M58.5 26v1M58.5 53v1M58.5 67v1M58.5 76v1M59.5 11v1M59.5 15v1M59.5 24v1M59.5 32v1M59.5 50v1M59.5 67v1M60.5 4v1M60.5 6v1M60.5 34v1M60.5 62v1M61.5 3v1M61.5 7v1M61.5 9v1M61.5 22v1M61.5 35v1M61.5 60v1M61.5 72v3M62.5 9v1M63.5 2v1M63.5 23v1M63.5 41v1M63.5 48v1M63.5 77v1M64.5 2v1M64.5 8v2M64.5 24v1M64.5 53v2M65.5 8v1M65.5 34v1M65.5 72v3M66.5 8v1M66.5 10v1M66.5 18v3M67.5 2v1M67.5 8v2M67.5 71v1M67.5 86v1M68.5 2v1M68.5 8v2M68.5 71v2M68.5 85v1M69.5 8v2M69.5 76v2M69.5 79v3M70.5 7v1M70.5 9v1M70.5 57v1M70.5 74v1M70.5 82v1M71.5 6v1M71.5 10v1M71.5 35v1M71.5 66v1M71.5 73v1M71.5 83v1M72.5 5v1M72.5 11v1M72.5 27v1M72.5 30v1M72.5 63v1M72.5 72v1M72.5 84v1M73.5 6v4M73.5 13v2M73.5 66v1M73.5 72v1M73.5 84v1M74.5 3v1M74.5 13v1M74.5 54v1M74.5 72v1M74.5 84v1M75.5 1v1M75.5 29v1M75.5 56v1M76.5 14v1M76.5 23v1M76.5 39v1M76.5 67v2M76.5 74v1M76.5 83v1M77.5 21v1M77.5 39v1M77.5 73v1M77.5 75v2M77.5 80v2M78.5 21v1M78.5 38v1M78.5 53v1M78.5 78v2M78.5 83v1M79.5 3v1M79.5 31v2M79.5 35v1M79.5 76v1M80.5 29v2M81.5 19v1M81.5 62v1M82.5 0v1M82.5 22v1M83.5 30v1M83.5 79v5M84.5 2v1M84.5 36v1M84.5 74v1M84.5 77v1M86.5 57v1M86.5 59v2M87.5 17v4M87.5 59v1M87.5 68v1M88.5 20v2M88.5 29v1M90.5 30v1M90.5 51v1M90.5 62v1M91.5 13v1M91.5 32v1M91.5 42v1M91.5 53v1M91.5 63v1M92.5 25v1M92.5 42v1M92.5 65v1M93.5 23v1M93.5 43v1M93.5 53v1M94.5 47v5M94.5 56v1M95.5 17v1M95.5 21v3M95.5 34v1M95.5 50v1M95.5 67v3M96.5 24v1M96.5 72v1M96.5 82v2M97.5 7v6M97.5 42v1M97.5 45v1M97.5 51v1M97.5 73v1M98.5 4v1M98.5 73v1M98.5 78v1M99.5 3v1M99.5 72v1M99.5 75v1M99.5 85v1M100.5 3v1M100.5 20v1M100.5 36v5M100.5 72v1M100.5 84v1M101.5 4v1M101.5 20v1M101.5 47v1M101.5 69v1M101.5 71v1M102.5 9v4M102.5 14v1M102.5 22v1M103.5 31v1M104.5 22v1M104.5 44v1M105.5 18v2M105.5 33v1M105.5 60v1M105.5 71v1M106.5 31v1M106.5 38v1M106.5 58v1M106.5 73v2M107.5 57v1M107.5 84v1M108.5 18v1M108.5 57v1M109.5 3v1M109.5 6v1M109.5 57v1M109.5 80v1M110.5 7v1M110.5 37v1M110.5 59v1M110.5 79v1M111.5 2v1M111.5 14v2M111.5 22v2M111.5 61v1M112.5 8v1M112.5 11v2M112.5 25v4M112.5 38v1M112.5 63v6M112.5 77v1M113.5 8v1M113.5 10v1M113.5 26v1M113.5 54v1M113.5 60v3M114.5 2v1M114.5 8v3M114.5 27v1M114.5 30v1M114.5 37v1M114.5 81v2M115.5 8v2M115.5 35v1M115.5 84v1M116.5 11v1M116.5 40v1M116.5 50v6M116.5 60v3M116.5 65v2M116.5 68v1M116.5 85v1M117.5 11v1M117.5 49v1M117.5 70v1M117.5 86v1M118.5 9v2M118.5 27v1M118.5 61v2M118.5 65v2M118.5 85v1M119.5 10v1M119.5 26v1M119.5 41v1M119.5 62v5M120.5 11v2M120.5 20v1M120.5 63v2M120.5 67v2M120.5 83v1M121.5 13v3M121.5 19v1M121.5 42v1M121.5 63v2M121.5 70v2M121.5 79v3M122.5 9v2M122.5 43v1M122.5 63v1M123.5 13v1M123.5 22v3M123.5 44v2M124.5 13v1M124.5 51v1M124.5 60v1M125.5 18v1M125.5 29v1M125.5 67v1M126.5 52v2M126.5 68v1M127.5 7v1M127.5 56v2M127.5 70v1M128.5 6v1M129.5 33v1M129.5 36v1M129.5 40v1M129.5 45v1M130.5 14v3M130.5 29v4M130.5 75v3M131.5 24v1M131.5 63v1M132.5 66v1M132.5 71v2M133.5 12v1M133.5 14v2M133.5 22v1M133.5 57v1M133.5 65v1M133.5 71v1M134.5 18v1M134.5 22v1M134.5 47v3M134.5 84v1M135.5 2v1M135.5 7v1M135.5 23v1M135.5 40v1M135.5 47v1M135.5 50v1M135.5 57v1M135.5 71v1M135.5 79v2M136.5 26v4M136.5 71v1M137.5 9v1M137.5 26v1M137.5 29v1M137.5 71v1M137.5 79v4M138.5 24v1M138.5 61v1M138.5 72v1M138.5 86v1M139.5 34v1M139.5 87v1M140.5 34v1M140.5 43v3M140.5 60v1M140.5 72v1M141.5 15v4M141.5 36v1M141.5 54v1M141.5 60v1M141.5 86v1M142.5 13v1M142.5 37v1M142.5 53v2M142.5 84v1M143.5 2v1M143.5 12v1M143.5 39v2M143.5 61v1M143.5 71v1M144.5 12v1M144.5 62v1M144.5 71v1M145.5 12v1M145.5 63v1M145.5 70v1M145.5 86v1M148.5 3v1M148.5 84v1M149.5 81v2M150.5 4v1M150.5 83v2M151.5 13v1M153.5 2v1M155.5 6v1M155.5 17v1M155.5 27v1M156.5 10v1M156.5 15v1M156.5 29v1M156.5 86v1M157.5 31v1M157.5 63v5M157.5 75v4M158.5 38v2M158.5 43v4M158.5 54v2M158.5 59v3"/>
<path stroke="#535353" d="M0.5 78v3M1.5 55v4M1.5 67v2M1.5 86v1M2.5 14v2M2.5 19v2M2.5 35v1M2.5 50v1M2.5 88v1M3.5 9v2M3.5 21v1M3.5 49v1M4.5 2v1M4.5 22v1M4.5 49v1M5.5 23v1M5.5 34v1M5.5 44v1M5.5 49v1M6.5 34v1M6.5 46v1M6.5 48v1M7.5 26v3M7.5 88v1M8.5 2v1M8.5 86v1M9.5 77v1M11.5 0v1M11.5 86v1M12.5 2v1M12.5 77v1M13.5 7v7M13.5 79v1M13.5 85v1M14.5 16v1M14.5 85v1M15.5 14v1M15.5 44v1M15.5 46v1M16.5 1v1M16.5 44v3M16.5 80v1M17.5 31v1M17.5 46v2M18.5 27v1M18.5 36v1M18.5 48v1M18.5 65v4M19.5 0v1M20.5 4v1M20.5 25v1M21.5 26v1M21.5 39v1M21.5 46v2M22.5 9v1M22.5 37v1M23.5 29v1M24.5 36v1M24.5 66v1M24.5 72v3M25.5 30v1M25.5 37v1M26.5 14v2M26.5 35v1M26.5 51v1M26.5 62v1M27.5 13v1M27.5 61v1M28.5 18v1M28.5 36v1M28.5 55v1M28.5 60v1M28.5 78v1M29.5 5v1M29.5 11v1M29.5 20v2M29.5 80v1M30.5 22v1M30.5 41v1M30.5 72v2M30.5 85v1M31.5 23v1M31.5 35v1M31.5 72v1M31.5 78v1M32.5 23v1M32.5 36v1M32.5 54v1M32.5 72v1M32.5 85v1M33.5 22v2M33.5 38v1M33.5 72v1M34.5 20v1M34.5 48v1M34.5 72v1M35.5 16v1M35.5 55v1M35.5 71v1M36.5 57v1M36.5 78v1M37.5 5v1M37.5 48v1M37.5 60v1M38.5 4v1M38.5 47v1M39.5 4v1M39.5 35v1M39.5 44v1M40.5 4v1M41.5 5v1M41.5 27v1M41.5 76v1M42.5 23v1M42.5 46v1M42.5 54v2M42.5 73v1M43.5 22v1M43.5 57v1M43.5 62v2M43.5 70v1M44.5 43v1M44.5 59v2M44.5 72v3M44.5 79v1M44.5 83v1M45.5 21v1M45.5 42v1M46.5 2v1M46.5 7v1M46.5 23v1M47.5 12v1M47.5 22v1M47.5 49v3M47.5 56v1M47.5 85v1M48.5 13v1M48.5 21v1M49.5 14v2M49.5 18v2M49.5 39v1M50.5 15v1M50.5 20v1M50.5 41v1M50.5 46v1M51.5 14v1M51.5 22v1M51.5 33v1M52.5 23v1M52.5 71v3M53.5 24v1M53.5 30v1M53.5 69v1M53.5 76v1M54.5 69v1M54.5 82v1M55.5 30v1M55.5 71v1M55.5 83v1M56.5 4v1M56.5 9v2M56.5 15v1M56.5 32v1M56.5 34v1M56.5 56v1M56.5 65v1M58.5 22v1M58.5 25v1M58.5 77v1M58.5 80v1M59.5 12v3M59.5 25v1M60.5 5v1M60.5 10v1M60.5 15v1M60.5 23v1M60.5 61v1M62.5 7v1M62.5 76v1M63.5 9v1M63.5 47v1M63.5 49v1M63.5 58v1M63.5 69v1M64.5 25v1M64.5 32v1M64.5 76v1M65.5 2v1M65.5 10v1M65.5 23v1M66.5 2v1M66.5 21v1M66.5 35v1M66.5 74v1M66.5 83v1M67.5 10v1M67.5 35v1M67.5 60v1M67.5 68v1M68.5 34v1M68.5 58v1M68.5 70v1M69.5 7v1M69.5 70v1M69.5 78v1M70.5 3v1M70.5 31v1M70.5 58v1M70.5 69v1M70.5 75v1M70.5 81v1M71.5 4v2M71.5 63v3M72.5 12v1M72.5 73v1M73.5 15v2M73.5 25v1M75.5 73v1M75.5 83v1M76.5 1v1M76.5 24v1M76.5 82v1M77.5 1v1M77.5 77v3M78.5 2v1M78.5 74v1M78.5 80v3M79.5 4v1M79.5 30v1M79.5 33v2M79.5 75v1M79.5 77v1M79.5 85v1M80.5 7v2M80.5 17v1M80.5 23v1M80.5 31v1M80.5 36v1M80.5 86v1M81.5 8v1M81.5 30v1M81.5 55v1M81.5 61v1M81.5 63v1M81.5 86v1M82.5 8v1M82.5 11v1M82.5 30v1M82.5 55v1M82.5 72v1M82.5 85v1M83.5 23v1M83.5 37v1M83.5 73v1M83.5 78v1M84.5 5v1M84.5 32v1M84.5 35v1M84.5 55v1M84.5 60v1M84.5 75v2M85.5 23v1M85.5 56v1M85.5 60v1M86.5 15v1M86.5 22v1M86.5 58v1M87.5 67v1M88.5 22v1M88.5 27v2M88.5 59v1M88.5 72v1M89.5 16v1M89.5 73v1M90.5 14v1M90.5 44v1M90.5 73v1M92.5 13v1M92.5 34v1M92.5 70v1M93.5 35v1M94.5 21v2M94.5 35v1M94.5 52v1M94.5 55v1M95.5 20v1M95.5 24v1M96.5 50v1M97.5 24v1M97.5 56v1M97.5 79v1M97.5 85v1M98.5 5v1M98.5 24v1M98.5 64v1M99.5 4v1M99.5 23v1M99.5 65v1M99.5 76v1M100.5 4v1M100.5 18v2M101.5 5v1M101.5 33v1M102.5 66v1M102.5 84v1M103.5 44v1M103.5 66v1M103.5 73v2M103.5 82v1M104.5 32v1M104.5 72v1M105.5 42v1M105.5 61v2M106.5 18v1M106.5 59v1M106.5 71v2M106.5 75v1M106.5 82v1M107.5 17v1M107.5 33v1M107.5 58v1M108.5 34v1M108.5 58v1M108.5 83v1M109.5 4v2M109.5 35v1M109.5 58v1M110.5 23v1M111.5 16v6M111.5 24v1M111.5 77v1M112.5 2v1M112.5 13v2M112.5 23v2M112.5 29v1M112.5 41v1M113.5 2v1M113.5 11v2M113.5 25v1M113.5 30v1M113.5 55v5M113.5 69v1M113.5 77v1M114.5 11v1M114.5 26v1M114.5 79v2M115.5 7v1M115.5 10v1M115.5 26v1M115.5 33v2M115.5 83v1M116.5 25v1M116.5 49v1M116.5 56v4M116.5 69v1M116.5 84v1M117.5 26v1M117.5 42v1M117.5 85v1M118.5 11v1M118.5 26v1M118.5 42v1M118.5 58v3M118.5 67v1M118.5 80v1M119.5 11v2M119.5 25v1M119.5 60v2M119.5 67v1M120.5 13v2M120.5 19v1M120.5 42v1M120.5 61v2M120.5 69v1M120.5 82v1M121.5 16v3M121.5 62v1M121.5 72v7M122.5 61v2M123.5 6v1M123.5 50v1M123.5 60v1M124.5 27v1M124.5 59v1M125.5 52v1M125.5 58v1M126.5 13v1M126.5 32v1M126.5 54v4M127.5 69v1M128.5 58v1M128.5 73v1M129.5 10v1M129.5 22v1M129.5 25v1M129.5 37v3M129.5 46v1M129.5 50v1M129.5 59v1M129.5 74v1M129.5 82v2M130.5 33v1M130.5 57v1M130.5 61v1M130.5 74v1M130.5 78v2M130.5 85v1M131.5 74v1M132.5 67v1M132.5 69v2M132.5 73v1M133.5 13v1M133.5 61v1M133.5 72v1M134.5 9v1M134.5 35v2M134.5 40v1M134.5 59v1M135.5 8v1M135.5 24v1M135.5 33v1M135.5 56v1M135.5 58v1M135.5 78v1M136.5 8v1M137.5 17v1M137.5 66v1M137.5 77v2M138.5 60v1M138.5 73v1M138.5 85v1M139.5 6v1M139.5 60v1M139.5 72v1M140.5 20v1M140.5 50v1M140.5 59v1M140.5 87v1M141.5 35v1M141.5 55v1M141.5 59v1M141.5 73v1M141.5 85v1M142.5 14v1M142.5 55v1M142.5 60v1M142.5 72v1M142.5 83v1M143.5 13v1M143.5 38v1M143.5 41v2M143.5 60v1M144.5 61v1M145.5 13v1M146.5 11v2M146.5 62v1M147.5 62v1M147.5 65v1M147.5 85v1M149.5 80v1M150.5 13v1M150.5 82v1M151.5 5v1M151.5 12v1M151.5 18v1M151.5 87v1M152.5 3v1M154.5 3v1M154.5 20v3M154.5 25v2M155.5 7v1M155.5 28v1M156.5 11v4M156.5 85v1M157.5 32v1M157.5 62v1M157.5 68v7M158.5 47v7"/>
<path stroke="#595959" d="M1.5 69v3M1.5 85v1M2.5 4v1M2.5 6v1M2.5 16v3M2.5 43v1M2.5 51v2M3.5 8v1M3.5 11v3M3.5 20v1M3.5 34v1M4.5 21v1M5.5 2v1M6.5 2v1M6.5 24v1M6.5 35v1M6.5 49v1M7.5 29v1M7.5 87v1M8.5 69v2M9.5 1v1M9.5 76v1M10.5 0v1M10.5 77v1M11.5 77v1M12.5 78v1M13.5 14v1M14.5 44v2M15.5 47v1M15.5 73v1M16.5 2v1M16.5 47v1M16.5 73v1M17.5 28v1M17.5 43v1M17.5 48v1M17.5 72v1M18.5 41v1M18.5 49v2M18.5 63v2M19.5 27v1M20.5 5v2M20.5 23v2M21.5 10v1M21.5 18v8M21.5 44v2M22.5 27v1M22.5 52v1M23.5 10v1M23.5 28v1M23.5 54v1M24.5 29v1M24.5 71v1M25.5 6v2M25.5 29v1M25.5 53v1M25.5 64v1M25.5 77v1M26.5 13v1M26.5 16v1M26.5 29v3M26.5 39v1M26.5 49v2M26.5 63v1M26.5 78v1M27.5 3v1M27.5 17v1M27.5 29v1M27.5 36v1M27.5 53v1M27.5 62v1M28.5 19v1M28.5 28v1M28.5 61v1M29.5 22v7M29.5 81v1M29.5 83v1M30.5 23v3M30.5 71v1M31.5 24v2M31.5 34v1M31.5 71v1M31.5 85v1M32.5 24v2M32.5 35v1M32.5 52v1M32.5 71v1M33.5 24v1M33.5 42v1M33.5 71v1M33.5 80v1M33.5 83v1M34.5 21v2M34.5 71v1M35.5 17v1M35.5 80v1M36.5 11v2M36.5 58v1M36.5 69v1M37.5 6v1M37.5 61v1M38.5 31v2M38.5 60v1M38.5 84v1M39.5 30v1M39.5 36v1M39.5 43v1M39.5 58v1M39.5 80v1M40.5 29v1M40.5 79v1M41.5 26v1M42.5 4v1M42.5 21v2M42.5 47v2M42.5 53v1M42.5 58v1M43.5 9v1M43.5 44v1M43.5 56v1M43.5 64v3M43.5 69v1M44.5 1v1M44.5 20v1M44.5 58v1M44.5 61v2M44.5 68v4M44.5 80v1M45.5 1v1M45.5 9v2M46.5 11v1M46.5 22v1M46.5 85v1M47.5 21v1M47.5 48v1M47.5 57v1M48.5 19v2M48.5 60v2M48.5 75v1M48.5 79v1M49.5 16v2M50.5 16v1M52.5 1v1M52.5 13v1M52.5 31v1M52.5 35v1M54.5 27v1M54.5 30v1M55.5 0v1M55.5 35v1M55.5 72v3M56.5 5v4M56.5 33v1M56.5 83v1M57.5 19v1M57.5 75v1M58.5 23v2M58.5 78v2M59.5 26v1M59.5 31v1M59.5 51v1M59.5 66v1M60.5 40v1M60.5 60v1M61.5 4v1M61.5 6v1M61.5 10v1M61.5 15v1M62.5 3v1M62.5 15v1M62.5 34v1M62.5 39v1M62.5 70v1M63.5 7v1M63.5 15v1M63.5 33v1M64.5 15v1M64.5 31v1M64.5 70v1M65.5 15v1M65.5 33v1M66.5 11v1M66.5 17v1M66.5 75v1M66.5 82v1M67.5 67v1M67.5 72v1M68.5 7v1M68.5 10v1M68.5 73v1M69.5 3v1M69.5 10v1M69.5 58v1M70.5 6v1M70.5 10v1M70.5 76v2M70.5 80v1M71.5 11v1M71.5 55v1M71.5 62v1M71.5 74v1M71.5 82v1M72.5 83v1M73.5 17v1M73.5 73v1M74.5 4v1M74.5 12v1M74.5 38v1M74.5 73v1M74.5 83v1M75.5 2v1M75.5 38v1M75.5 57v1M76.5 25v4M76.5 55v1M76.5 66v1M76.5 75v1M76.5 81v1M77.5 14v1M77.5 22v1M77.5 54v1M77.5 72v1M78.5 14v1M78.5 37v1M79.5 5v1M79.5 22v1M79.5 53v1M79.5 78v1M80.5 2v1M80.5 24v1M80.5 28v1M80.5 32v1M80.5 54v1M81.5 9v1M81.5 37v1M82.5 37v1M82.5 60v1M83.5 7v1M83.5 55v1M83.5 60v1M83.5 77v1M84.5 3v1M84.5 33v2M85.5 14v1M87.5 60v1M88.5 23v4M89.5 30v1M89.5 60v1M90.5 50v1M91.5 31v1M91.5 72v1M92.5 53v1M92.5 66v1M93.5 14v1M93.5 22v1M93.5 44v1M93.5 52v1M94.5 16v1M94.5 23v1M94.5 53v2M95.5 18v2M95.5 33v1M95.5 57v1M96.5 23v1M96.5 57v1M96.5 65v1M97.5 13v1M97.5 43v2M97.5 64v1M98.5 6v2M98.5 41v1M98.5 85v1M99.5 5v1M99.5 47v1M99.5 71v1M99.5 77v1M100.5 5v1M100.5 16v2M100.5 47v1M100.5 73v1M101.5 6v2M101.5 14v6M101.5 72v1M101.5 84v1M102.5 15v1M102.5 32v1M102.5 45v1M102.5 72v1M103.5 22v1M103.5 75v1M104.5 43v1M104.5 66v1M105.5 34v1M105.5 63v3M105.5 70v1M106.5 30v1M106.5 60v1M106.5 70v1M106.5 76v1M106.5 81v1M107.5 59v1M108.5 19v1M109.5 23v1M109.5 59v1M109.5 79v1M110.5 3v1M110.5 36v1M110.5 60v1M110.5 78v1M111.5 37v1M111.5 62v3M111.5 66v3M112.5 15v8M112.5 69v1M113.5 13v1M113.5 23v2M113.5 37v1M113.5 40v1M114.5 12v1M114.5 24v2M114.5 31v1M114.5 68v2M114.5 77v2M115.5 3v1M115.5 11v1M115.5 25v1M115.5 82v1M116.5 12v1M116.5 48v1M116.5 83v1M117.5 12v1M117.5 25v1M117.5 48v1M117.5 84v1M118.5 12v1M118.5 24v2M118.5 51v7M118.5 68v1M119.5 13v1M119.5 23v2M119.5 42v1M119.5 57v3M119.5 68v1M120.5 15v4M120.5 59v2M120.5 70v1M120.5 81v1M121.5 43v1M121.5 59v3M122.5 44v1M122.5 59v2M123.5 51v1M123.5 58v2M124.5 6v1M124.5 20v1M124.5 52v7M125.5 53v5M125.5 59v1M125.5 66v1M126.5 58v1M127.5 8v1M127.5 33v1M127.5 58v1M128.5 7v1M129.5 32v1M129.5 47v3M130.5 60v1M130.5 62v1M130.5 80v1M131.5 25v1M131.5 61v1M131.5 64v1M131.5 73v1M132.5 23v1M132.5 51v1M132.5 61v1M132.5 68v1M133.5 62v3M133.5 85v1M134.5 34v1M134.5 37v3M134.5 71v1M134.5 83v1M135.5 46v1M135.5 51v1M135.5 66v1M136.5 18v1M136.5 77v1M137.5 10v1M137.5 27v2M137.5 72v1M137.5 76v1M138.5 7v1M138.5 32v1M138.5 59v1M139.5 3v1M139.5 59v1M139.5 86v1M140.5 57v2M140.5 86v1M141.5 19v1M141.5 34v1M141.5 56v3M142.5 15v4M142.5 36v1M142.5 56v4M142.5 80v3M143.5 14v1M143.5 37v1M143.5 43v3M143.5 59v1M143.5 84v1M144.5 7v1M144.5 13v2M144.5 85v1M145.5 62v1M146.5 10v1M146.5 66v1M147.5 3v1M148.5 53v3M148.5 83v1M149.5 4v1M149.5 14v2M149.5 79v1M150.5 5v1M150.5 18v1M150.5 81v1M151.5 6v1M151.5 86v1M154.5 18v2M154.5 23v2M154.5 27v1M155.5 8v1M155.5 88v1M156.5 30v1M157.5 33v1M157.5 57v3M157.5 61v1"/>
<path stroke="#606060" d="M1.5 72v2M2.5 5v1M2.5 36v1M2.5 53v1M2.5 61v2M2.5 87v1M3.5 3v1M3.5 7v1M3.5 14v2M3.5 19v1M3.5 44v1M3.5 50v1M4.5 34v1M4.5 44v1M4.5 50v1M5.5 22v1M5.5 50v1M6.5 23v1M6.5 45v1M7.5 25v1M7.5 48v1M8.5 3v1M8.5 68v1M8.5 71v1M8.5 85v1M9.5 67v1M9.5 78v1M11.5 1v1M12.5 3v1M13.5 15v1M13.5 75v1M14.5 43v1M14.5 46v3M14.5 73v1M15.5 15v1M15.5 43v1M15.5 48v1M16.5 48v1M17.5 0v1M17.5 32v1M17.5 49v1M18.5 37v1M18.5 51v2M18.5 60v3M18.5 84v1M19.5 1v1M20.5 7v1M20.5 17v6M21.5 40v1M21.5 43v1M22.5 25v2M23.5 27v1M24.5 28v1M24.5 54v1M24.5 67v4M25.5 8v2M25.5 28v1M26.5 17v1M26.5 28v1M26.5 32v1M26.5 34v1M26.5 47v2M27.5 18v1M27.5 26v3M27.5 30v1M27.5 63v1M27.5 78v1M28.5 12v1M28.5 20v8M28.5 29v1M28.5 62v1M29.5 6v1M29.5 10v1M29.5 29v1M29.5 41v1M29.5 56v2M29.5 76v1M29.5 82v1M30.5 26v4M30.5 79v1M31.5 26v2M31.5 31v3M31.5 42v1M32.5 26v1M32.5 34v1M32.5 43v1M32.5 79v1M33.5 25v2M33.5 37v1M33.5 49v1M33.5 55v1M33.5 81v2M34.5 23v4M35.5 48v1M35.5 70v1M35.5 83v1M36.5 13v1M36.5 48v1M36.5 59v3M37.5 62v1M37.5 69v1M37.5 78v1M38.5 5v1M38.5 33v1M38.5 46v1M38.5 61v1M39.5 5v1M39.5 37v1M39.5 42v1M40.5 5v1M40.5 57v1M41.5 6v1M41.5 57v1M41.5 75v1M42.5 5v5M42.5 20v1M42.5 49v4M43.5 10v1M43.5 21v1M43.5 45v1M43.5 55v1M43.5 67v2M44.5 9v2M44.5 44v1M44.5 57v1M44.5 63v5M44.5 81v2M45.5 11v1M45.5 20v1M45.5 43v1M45.5 84v1M46.5 12v1M46.5 21v1M46.5 40v1M46.5 55v1M47.5 13v1M47.5 20v1M48.5 14v5M48.5 62v1M48.5 69v2M48.5 73v2M48.5 83v1M49.5 47v1M50.5 17v3M50.5 42v1M51.5 15v1M52.5 12v1M52.5 32v1M52.5 34v1M53.5 23v1M53.5 35v1M53.5 70v1M53.5 75v1M55.5 13v1M55.5 28v1M55.5 31v1M56.5 16v1M56.5 28v1M56.5 57v1M56.5 64v1M57.5 66v1M57.5 82v1M59.5 27v1M59.5 30v1M60.5 11v1M60.5 14v1M60.5 33v1M60.5 48v2M60.5 59v1M61.5 5v1M61.5 34v1M62.5 6v1M62.5 10v1M62.5 23v1M62.5 59v1M63.5 3v1M63.5 10v1M63.5 46v1M63.5 50v1M63.5 76v1M64.5 7v1M64.5 10v1M64.5 26v1M65.5 7v1M65.5 11v1M65.5 24v1M66.5 7v1M66.5 12v1M66.5 16v1M66.5 22v1M67.5 7v1M67.5 11v1M67.5 61v1M67.5 85v1M68.5 3v1M68.5 69v1M68.5 84v1M69.5 32v1M70.5 4v2M70.5 11v1M70.5 59v1M70.5 78v2M71.5 34v1M71.5 75v1M72.5 13v1M72.5 37v1M72.5 54v1M72.5 74v1M73.5 18v1M73.5 38v1M73.5 54v1M73.5 65v1M73.5 83v1M74.5 11v1M74.5 55v1M74.5 67v1M75.5 13v1M75.5 30v1M75.5 58v1M75.5 67v1M75.5 74v1M75.5 82v1M76.5 29v1M76.5 76v1M76.5 80v1M77.5 64v1M78.5 3v1M78.5 22v1M79.5 6v2M79.5 74v1M79.5 84v1M80.5 25v3M80.5 35v1M80.5 75v3M81.5 1v1M81.5 18v1M81.5 56v1M81.5 60v1M81.5 64v1M82.5 21v1M82.5 73v1M82.5 78v1M82.5 84v1M83.5 1v1M83.5 14v1M83.5 31v1M83.5 74v1M83.5 76v1M84.5 4v1M84.5 23v1M84.5 56v1M85.5 57v3M89.5 17v1M90.5 45v1M90.5 63v1M91.5 43v1M91.5 52v1M91.5 64v1M92.5 43v1M92.5 67v1M92.5 69v1M93.5 24v1M94.5 20v1M94.5 34v1M95.5 25v1M96.5 71v1M97.5 52v1M97.5 55v1M98.5 8v3M99.5 6v1M99.5 22v1M99.5 66v1M99.5 78v1M99.5 84v1M100.5 6v1M100.5 15v1M100.5 83v1M101.5 8v6M101.5 34v1M102.5 71v1M103.5 15v1M103.5 32v1M103.5 72v1M103.5 81v1M104.5 21v1M105.5 41v1M105.5 66v4M106.5 61v1M106.5 69v1M106.5 77v1M106.5 80v1M107.5 60v1M108.5 59v1M109.5 60v1M110.5 61v1M111.5 7v1M111.5 25v1M111.5 65v1M111.5 69v1M111.5 76v1M112.5 30v1M112.5 37v1M112.5 45v1M113.5 14v3M113.5 20v3M114.5 7v1M114.5 13v2M114.5 23v1M114.5 36v1M114.5 70v1M114.5 76v1M115.5 12v2M115.5 24v1M115.5 68v3M115.5 81v1M116.5 13v1M116.5 24v1M116.5 47v1M116.5 70v1M117.5 13v1M117.5 24v1M117.5 43v1M117.5 83v1M118.5 13v2M118.5 23v1M118.5 43v1M118.5 50v1M118.5 69v1M119.5 14v3M119.5 20v3M119.5 50v7M119.5 69v1M119.5 80v1M120.5 43v1M120.5 50v9M120.5 71v1M120.5 80v1M121.5 49v10M122.5 45v14M123.5 12v1M123.5 52v6M124.5 12v1M125.5 19v1M125.5 28v1M125.5 60v1M126.5 14v1M128.5 33v1M130.5 43v1M130.5 58v2M131.5 75v1M132.5 74v1M133.5 58v1M133.5 60v1M133.5 73v1M134.5 17v1M134.5 23v1M134.5 66v1M134.5 82v1M135.5 6v1M135.5 18v1M135.5 32v1M135.5 52v1M135.5 55v1M135.5 77v1M136.5 7v1M136.5 40v1M136.5 58v1M136.5 66v1M137.5 16v1M137.5 59v2M137.5 73v1M137.5 75v1M138.5 2v1M138.5 40v1M138.5 74v1M138.5 84v1M139.5 33v1M139.5 41v1M139.5 48v1M139.5 58v1M139.5 73v1M140.5 21v1M140.5 33v1M140.5 51v1M140.5 56v1M140.5 73v1M141.5 74v1M141.5 84v1M142.5 19v1M142.5 79v1M143.5 3v1M143.5 6v1M143.5 15v6M143.5 46v13M143.5 72v1M144.5 15v7M144.5 38v2M144.5 60v1M144.5 72v1M145.5 14v1M145.5 61v1M145.5 71v1M146.5 2v1M146.5 8v2M146.5 13v1M146.5 85v1M147.5 49v8M148.5 4v1M148.5 51v2M148.5 56v1M148.5 64v1M149.5 78v1M151.5 11v1M152.5 88v1M153.5 3v1M154.5 4v1M154.5 17v1M154.5 28v1M155.5 16v1M155.5 29v1M156.5 84v1M157.5 34v1M157.5 56v1M157.5 60v1"/>
<path stroke="#666666" d="M1.5 74v1M1.5 84v1M2.5 42v1M2.5 54v7M2.5 63v1M3.5 16v3M3.5 51v1M3.5 88v1M4.5 19v2M5.5 21v1M6.5 22v1M6.5 36v1M6.5 44v1M6.5 50v1M6.5 88v1M7.5 3v1M7.5 24v1M7.5 47v1M7.5 49v1M7.5 86v1M8.5 27v1M8.5 67v1M8.5 72v4M9.5 2v1M9.5 66v1M9.5 68v1M9.5 75v1M9.5 85v1M10.5 1v1M10.5 76v1M10.5 78v1M11.5 78v1M12.5 76v1M12.5 85v1M14.5 17v1M14.5 42v1M14.5 49v1M15.5 49v1M16.5 3v1M16.5 49v1M17.5 33v1M17.5 50v1M17.5 85v1M18.5 0v1M18.5 40v1M18.5 53v7M18.5 82v1M20.5 8v2M20.5 14v3M21.5 17v1M21.5 41v2M22.5 19v6M22.5 38v1M22.5 51v1M23.5 25v2M23.5 37v1M24.5 26v2M24.5 37v1M25.5 10v1M25.5 26v2M25.5 38v1M25.5 52v1M25.5 65v1M26.5 4v1M26.5 12v1M26.5 18v1M26.5 25v3M26.5 33v1M26.5 64v1M27.5 19v2M27.5 23v3M27.5 52v1M27.5 64v2M28.5 4v1M28.5 54v1M28.5 63v1M29.5 55v1M29.5 58v1M29.5 60v3M30.5 30v1M30.5 35v1M30.5 69v2M30.5 84v1M31.5 28v3M31.5 70v1M32.5 27v2M32.5 32v2M32.5 70v1M32.5 84v1M33.5 27v1M33.5 43v1M33.5 47v2M33.5 70v1M34.5 27v1M34.5 39v2M34.5 70v1M35.5 18v1M35.5 69v1M35.5 81v2M36.5 14v1M36.5 62v1M36.5 68v1M36.5 85v1M37.5 7v2M37.5 63v1M37.5 68v1M37.5 85v1M38.5 6v1M38.5 30v1M38.5 62v1M38.5 79v1M39.5 29v1M39.5 38v1M39.5 40v2M40.5 6v1M40.5 28v1M41.5 7v1M41.5 25v1M41.5 74v1M42.5 10v3M42.5 17v3M42.5 59v1M42.5 72v1M43.5 2v1M43.5 8v1M43.5 11v2M43.5 19v2M43.5 46v1M44.5 11v1M44.5 19v1M44.5 56v1M45.5 12v1M45.5 44v1M45.5 56v3M45.5 77v2M46.5 6v1M46.5 20v1M46.5 53v2M46.5 56v2M47.5 14v1M47.5 19v1M47.5 39v1M47.5 58v1M47.5 84v1M48.5 63v6M48.5 71v2M48.5 80v1M48.5 82v1M50.5 45v1M51.5 21v1M52.5 2v1M52.5 11v1M52.5 14v1M52.5 33v1M53.5 31v1M53.5 74v1M54.5 31v1M54.5 35v1M54.5 70v1M54.5 75v1M55.5 1v1M55.5 14v1M55.5 32v1M55.5 34v1M57.5 27v1M59.5 28v2M59.5 52v1M59.5 65v1M60.5 12v2M60.5 24v1M61.5 23v1M61.5 39v1M61.5 59v1M62.5 4v1M62.5 71v1M62.5 75v1M63.5 24v1M63.5 42v1M63.5 57v1M63.5 70v1M64.5 3v1M64.5 27v1M64.5 29v2M64.5 71v1M64.5 75v1M65.5 14v1M66.5 13v3M66.5 76v1M66.5 81v1M67.5 3v1M67.5 12v1M67.5 20v2M67.5 66v1M68.5 11v1M68.5 59v1M69.5 6v1M69.5 11v1M70.5 30v1M70.5 68v1M71.5 12v1M71.5 30v1M71.5 61v1M71.5 81v1M72.5 14v1M72.5 82v1M73.5 19v1M73.5 24v1M73.5 74v1M74.5 5v1M74.5 74v1M74.5 82v1M75.5 59v1M75.5 75v1M76.5 2v1M76.5 38v1M76.5 65v1M76.5 77v3M77.5 2v1M77.5 23v1M77.5 38v1M77.5 63v1M77.5 65v1M78.5 30v1M78.5 54v1M79.5 8v1M79.5 15v1M79.5 29v1M79.5 79v1M80.5 6v1M80.5 33v2M80.5 74v1M80.5 85v1M81.5 31v1M81.5 57v1M81.5 76v2M81.5 85v1M82.5 12v1M82.5 31v1M82.5 56v1M82.5 59v1M82.5 74v1M82.5 76v2M82.5 79v1M83.5 36v1M83.5 56v1M83.5 59v1M83.5 75v1M84.5 14v1M84.5 57v1M84.5 59v1M86.5 21v1M87.5 66v1M88.5 71v1M90.5 46v1M90.5 49v1M91.5 30v1M92.5 33v1M92.5 68v1M93.5 34v1M93.5 45v1M94.5 17v1M94.5 19v1M95.5 51v1M96.5 16v1M96.5 51v1M97.5 53v2M97.5 72v1M97.5 80v1M97.5 84v1M98.5 11v2M98.5 46v1M98.5 72v1M98.5 79v1M99.5 7v2M99.5 79v1M100.5 7v2M100.5 12v3M102.5 21v1M102.5 44v1M102.5 67v1M102.5 73v1M102.5 83v1M103.5 76v1M103.5 80v1M104.5 16v1M104.5 71v1M106.5 19v1M106.5 29v1M106.5 62v3M106.5 66v3M106.5 78v2M107.5 32v1M107.5 61v1M107.5 83v1M108.5 20v1M108.5 60v1M108.5 82v1M109.5 34v1M109.5 61v1M109.5 78v1M110.5 6v1M110.5 62v2M111.5 70v1M112.5 7v1M112.5 42v1M112.5 76v1M113.5 7v1M113.5 17v3M113.5 76v1M114.5 15v8M114.5 32v1M114.5 67v1M114.5 71v1M114.5 75v1M115.5 6v1M115.5 14v3M115.5 21v3M115.5 40v1M115.5 67v1M115.5 71v1M115.5 79v2M116.5 14v2M116.5 21v3M116.5 82v1M117.5 14v3M117.5 21v3M117.5 44v1M117.5 46v2M117.5 82v1M118.5 15v8M118.5 49v1M119.5 17v3M119.5 43v1M119.5 49v1M119.5 70v1M120.5 49v1M120.5 72v3M120.5 77v3M121.5 44v2M121.5 48v1M123.5 7v1M124.5 7v1M124.5 21v1M124.5 26v1M126.5 15v2M126.5 31v1M126.5 59v1M126.5 67v1M127.5 68v1M128.5 72v1M129.5 21v1M129.5 60v1M130.5 34v1M130.5 44v1M130.5 63v1M131.5 26v1M131.5 32v1M131.5 57v1M132.5 57v1M133.5 23v1M133.5 50v1M133.5 59v1M134.5 10v1M134.5 41v1M134.5 46v1M134.5 81v1M135.5 3v1M135.5 25v1M135.5 41v1M135.5 53v2M135.5 59v1M136.5 2v1M136.5 9v1M136.5 48v2M136.5 59v1M137.5 74v1M138.5 75v1M138.5 83v1M139.5 49v1M139.5 85v1M140.5 52v1M140.5 55v1M140.5 85v1M141.5 33v1M141.5 83v1M142.5 35v1M142.5 73v1M142.5 78v1M143.5 21v1M143.5 36v1M144.5 2v1M144.5 22v1M144.5 37v1M144.5 40v2M144.5 58v2M145.5 7v1M145.5 15v1M145.5 60v1M145.5 85v1M146.5 7v1M146.5 61v1M147.5 47v2M147.5 57v2M147.5 61v1M148.5 50v1M148.5 57v1M148.5 82v1M149.5 16v1M149.5 77v1M150.5 80v1M151.5 7v1M151.5 10v1M151.5 85v1M152.5 4v1M155.5 9v1M155.5 87v1M156.5 31v1M156.5 64v1M156.5 83v1M157.5 35v2M157.5 41v4M157.5 55v1"/>
<path stroke="#6c6c6c" d="M1.5 75v1M1.5 83v1M2.5 64v1M3.5 52v1M4.5 12v7M4.5 51v1M5.5 20v1M5.5 43v1M6.5 21v1M6.5 37v1M7.5 23v1M7.5 30v1M7.5 38v1M8.5 26v1M8.5 28v1M8.5 76v1M9.5 38v1M9.5 69v1M12.5 4v1M13.5 84v1M14.5 50v3M14.5 81v1M15.5 16v1M15.5 50v2M15.5 85v1M16.5 43v1M16.5 50v1M17.5 34v1M17.5 51v1M17.5 71v1M18.5 38v2M19.5 2v1M19.5 26v1M20.5 10v4M21.5 11v1M23.5 20v5M23.5 53v1M24.5 24v2M25.5 17v3M25.5 24v2M25.5 76v1M26.5 19v6M26.5 46v1M26.5 65v1M27.5 21v2M27.5 35v1M27.5 66v2M28.5 30v1M28.5 64v5M28.5 77v1M29.5 7v1M29.5 9v1M29.5 30v1M29.5 35v1M29.5 59v1M29.5 63v9M30.5 31v1M30.5 63v1M30.5 68v1M30.5 80v1M31.5 68v2M31.5 79v1M32.5 29v3M32.5 44v1M32.5 68v2M33.5 28v1M33.5 36v1M33.5 44v1M33.5 46v1M33.5 68v2M34.5 28v1M34.5 38v1M34.5 41v1M34.5 47v1M34.5 55v1M34.5 68v2M35.5 25v3M35.5 56v1M35.5 62v3M35.5 67v2M36.5 15v1M36.5 63v5M37.5 9v1M37.5 47v1M37.5 64v4M38.5 7v1M38.5 34v1M38.5 63v2M38.5 78v1M38.5 80v1M38.5 83v1M39.5 6v1M39.5 39v1M39.5 79v1M40.5 78v1M41.5 8v1M41.5 13v4M41.5 24v1M42.5 13v4M43.5 13v6M43.5 47v1M43.5 54v1M44.5 12v2M44.5 18v1M44.5 45v1M44.5 55v1M45.5 8v1M45.5 13v1M45.5 19v1M45.5 45v1M45.5 55v1M45.5 59v1M46.5 3v1M46.5 13v2M46.5 18v2M46.5 47v6M46.5 58v1M47.5 15v4M47.5 59v1M47.5 78v1M48.5 81v1M50.5 43v2M52.5 22v1M53.5 0v1M53.5 32v1M53.5 34v1M53.5 71v3M54.5 26v1M54.5 32v1M54.5 34v1M54.5 71v1M54.5 74v1M54.5 76v1M54.5 81v1M55.5 12v1M55.5 33v1M56.5 17v1M56.5 58v1M56.5 63v1M57.5 20v1M59.5 53v1M61.5 11v1M61.5 14v1M62.5 5v1M63.5 4v1M63.5 6v1M63.5 43v3M63.5 51v1M64.5 11v1M64.5 14v1M64.5 28v1M65.5 3v1M65.5 12v2M65.5 32v1M66.5 3v1M66.5 34v1M66.5 77v1M66.5 80v1M67.5 13v1M67.5 18v2M67.5 62v1M68.5 6v1M68.5 12v1M68.5 21v2M68.5 74v1M69.5 4v2M69.5 69v1M70.5 12v1M70.5 60v1M71.5 29v1M71.5 31v1M71.5 76v2M71.5 80v1M72.5 62v1M72.5 75v1M73.5 20v1M73.5 23v1M73.5 64v1M73.5 82v1M74.5 6v1M74.5 10v1M75.5 3v1M75.5 81v1M76.5 56v1M77.5 28v2M77.5 71v1M78.5 13v1M78.5 29v1M78.5 31v1M78.5 36v1M78.5 73v1M79.5 9v1M79.5 23v1M79.5 28v1M79.5 83v1M80.5 3v1M80.5 9v1M80.5 78v1M81.5 36v1M81.5 58v2M81.5 72v4M81.5 78v1M82.5 57v2M82.5 75v1M82.5 83v1M83.5 32v1M83.5 57v2M84.5 58v1M86.5 16v1M87.5 61v1M88.5 60v1M89.5 18v1M89.5 29v1M90.5 15v1M90.5 29v1M90.5 47v2M91.5 14v1M92.5 52v1M93.5 51v1M94.5 18v1M94.5 24v1M95.5 26v1M95.5 32v1M95.5 56v1M96.5 22v1M96.5 56v1M96.5 66v1M98.5 13v1M98.5 23v1M98.5 65v1M98.5 84v1M99.5 9v6M99.5 67v1M99.5 70v1M99.5 80v1M99.5 83v1M100.5 9v3M100.5 41v1M100.5 74v1M101.5 41v1M101.5 46v1M102.5 43v1M102.5 68v1M102.5 70v1M103.5 43v1M103.5 77v1M104.5 33v1M104.5 67v1M105.5 35v1M105.5 40v1M106.5 65v1M107.5 62v2M107.5 67v4M108.5 33v1M108.5 61v2M109.5 62v2M110.5 4v2M110.5 24v1M110.5 35v1M110.5 64v5M110.5 77v1M111.5 3v1M111.5 75v1M112.5 44v1M112.5 70v1M113.5 31v1M113.5 70v1M114.5 3v1M114.5 35v1M114.5 40v1M114.5 66v1M114.5 72v1M114.5 74v1M115.5 4v1M115.5 17v4M115.5 66v1M115.5 72v7M116.5 16v5M116.5 41v1M116.5 46v1M116.5 71v1M116.5 81v1M117.5 17v4M117.5 45v1M117.5 71v1M117.5 81v1M118.5 44v2M118.5 47v2M118.5 70v1M118.5 79v1M119.5 44v1M119.5 48v1M119.5 71v1M119.5 79v1M120.5 44v2M120.5 47v2M120.5 75v2M121.5 46v2M123.5 11v1M124.5 11v1M125.5 61v1M125.5 65v1M126.5 17v2M127.5 9v1M128.5 8v1M128.5 59v1M129.5 11v1M129.5 26v1M129.5 31v1M129.5 73v1M130.5 42v1M130.5 51v1M131.5 31v1M131.5 72v1M131.5 76v1M131.5 85v1M133.5 74v1M134.5 60v1M134.5 72v1M134.5 80v1M135.5 9v1M135.5 45v1M135.5 72v1M136.5 57v1M136.5 72v1M136.5 76v1M137.5 7v1M137.5 11v1M137.5 58v1M137.5 61v1M137.5 65v1M138.5 25v1M138.5 58v1M138.5 76v1M138.5 82v1M139.5 4v2M139.5 47v1M139.5 57v1M139.5 74v1M140.5 22v1M140.5 53v2M140.5 74v1M141.5 75v1M142.5 20v1M142.5 74v1M142.5 77v1M143.5 79v2M144.5 36v1M144.5 42v2M144.5 56v2M144.5 73v1M145.5 16v1M145.5 37v4M145.5 57v3M146.5 55v6M147.5 4v1M147.5 46v1M147.5 59v1M147.5 84v1M148.5 49v1M148.5 58v1M148.5 63v1M149.5 56v1M149.5 76v1M150.5 12v1M151.5 8v2M153.5 28v1M154.5 5v1M154.5 16v1M154.5 88v1M155.5 15v1M156.5 63v1M156.5 65v1M156.5 82v1M157.5 37v4M157.5 45v1M157.5 54v1"/>
<path stroke="#737373" d="M1.5 82v1M2.5 37v1M2.5 41v1M2.5 65v1M2.5 86v1M3.5 4v1M3.5 6v1M3.5 53v1M4.5 3v1M4.5 11v1M4.5 88v1M5.5 3v1M5.5 15v5M5.5 35v1M5.5 51v1M5.5 88v1M6.5 3v1M6.5 20v1M6.5 43v1M7.5 22v1M7.5 37v1M7.5 50v1M7.5 69v2M8.5 4v1M8.5 48v2M8.5 77v1M9.5 28v2M9.5 37v1M9.5 65v1M11.5 2v1M11.5 76v1M13.5 16v1M13.5 80v1M14.5 53v2M14.5 72v1M14.5 84v1M15.5 52v1M16.5 4v1M16.5 51v2M17.5 1v1M17.5 27v1M17.5 42v1M17.5 52v3M18.5 26v1M18.5 83v1M19.5 25v1M21.5 16v1M22.5 18v1M23.5 19v1M24.5 19v5M24.5 53v1M25.5 11v1M25.5 20v4M25.5 51v1M25.5 66v1M26.5 40v1M27.5 4v1M27.5 12v1M27.5 31v1M27.5 40v1M27.5 51v1M27.5 68v1M28.5 35v1M28.5 69v1M29.5 8v1M29.5 75v1M30.5 32v1M30.5 34v1M30.5 62v1M30.5 64v4M30.5 83v1M31.5 63v5M31.5 84v1M32.5 51v1M32.5 64v4M32.5 80v1M32.5 83v1M33.5 29v1M33.5 45v1M33.5 64v4M34.5 63v5M35.5 19v1M35.5 24v1M35.5 28v1M35.5 61v1M35.5 65v2M37.5 10v3M37.5 30v2M38.5 8v1M38.5 29v1M38.5 45v1M38.5 65v4M38.5 81v2M39.5 7v1M39.5 59v1M40.5 7v2M40.5 27v1M41.5 9v4M41.5 17v2M41.5 22v2M41.5 73v1M42.5 60v1M43.5 48v2M43.5 52v2M44.5 8v1M44.5 14v4M44.5 46v1M44.5 54v1M45.5 14v5M45.5 46v1M45.5 54v1M45.5 60v2M45.5 79v1M45.5 83v1M46.5 5v1M46.5 15v3M46.5 59v1M46.5 84v1M47.5 60v1M47.5 77v1M48.5 39v1M49.5 40v1M52.5 3v1M52.5 10v1M53.5 33v1M54.5 0v1M54.5 33v1M54.5 72v2M55.5 15v1M55.5 75v1M56.5 62v1M58.5 54v1M58.5 66v1M60.5 41v1M60.5 47v1M60.5 50v1M60.5 58v1M61.5 12v2M62.5 11v1M62.5 14v1M62.5 48v2M62.5 72v3M63.5 5v1M63.5 11v1M63.5 14v1M63.5 32v1M63.5 56v1M63.5 75v1M64.5 4v1M64.5 6v1M64.5 12v2M64.5 72v3M65.5 6v1M65.5 25v1M66.5 6v1M66.5 78v2M67.5 4v1M67.5 6v1M67.5 14v1M67.5 16v2M67.5 22v1M67.5 63v3M67.5 73v1M67.5 84v1M68.5 4v2M68.5 20v1M68.5 83v1M69.5 12v1M69.5 31v1M69.5 59v1M70.5 29v1M71.5 13v1M71.5 32v2M71.5 56v1M71.5 78v2M72.5 15v1M72.5 26v1M72.5 81v1M73.5 21v2M73.5 63v1M73.5 75v1M73.5 81v1M74.5 7v3M74.5 31v1M74.5 37v1M74.5 75v1M74.5 81v1M75.5 37v1M75.5 60v1M75.5 76v2M75.5 79v2M76.5 13v1M76.5 64v1M77.5 13v1M77.5 24v1M77.5 27v1M78.5 4v1M78.5 23v1M79.5 24v1M79.5 80v3M80.5 5v1M80.5 55v1M80.5 73v1M80.5 84v1M81.5 7v1M81.5 32v1M81.5 65v1M81.5 84v1M82.5 1v1M82.5 13v1M82.5 20v1M82.5 36v1M82.5 80v3M83.5 22v1M83.5 33v3M85.5 22v1M88.5 70v1M89.5 19v2M89.5 61v1M89.5 72v1M91.5 23v2M91.5 29v1M91.5 44v1M92.5 14v1M92.5 26v1M92.5 32v1M92.5 44v1M93.5 46v1M95.5 31v1M95.5 52v1M96.5 52v1M96.5 70v1M97.5 14v1M97.5 23v1M97.5 65v1M97.5 81v3M98.5 80v1M99.5 15v1M99.5 21v1M99.5 68v2M99.5 81v2M101.5 35v1M101.5 73v1M102.5 33v1M102.5 69v1M103.5 67v1M103.5 71v1M103.5 78v2M104.5 70v1M106.5 20v1M106.5 28v1M107.5 18v1M107.5 64v3M107.5 71v2M108.5 21v1M108.5 63v6M109.5 64v4M111.5 26v1M111.5 36v1M111.5 71v1M112.5 3v1M112.5 31v1M112.5 43v1M113.5 3v1M113.5 36v1M113.5 45v1M114.5 33v2M114.5 73v1M115.5 5v1M116.5 72v1M116.5 79v2M117.5 80v1M118.5 46v1M118.5 71v1M119.5 45v3M119.5 72v2M119.5 78v1M120.5 46v1M123.5 8v3M124.5 8v1M125.5 62v1M127.5 59v1M130.5 73v1M130.5 81v1M131.5 27v1M131.5 30v1M131.5 33v1M131.5 51v1M131.5 60v1M131.5 65v1M131.5 77v3M132.5 24v1M132.5 60v1M132.5 75v1M132.5 85v1M133.5 75v1M134.5 33v1M134.5 76v4M135.5 31v1M135.5 76v1M136.5 75v1M137.5 2v1M137.5 15v1M137.5 40v1M138.5 77v2M138.5 80v2M139.5 25v1M139.5 84v1M140.5 23v1M140.5 84v1M141.5 32v1M141.5 76v1M141.5 81v2M142.5 34v1M142.5 75v2M143.5 4v2M143.5 22v1M143.5 35v1M143.5 73v1M143.5 78v1M143.5 83v1M144.5 23v1M144.5 44v2M144.5 54v2M145.5 2v1M145.5 17v1M145.5 22v1M145.5 36v1M145.5 41v2M145.5 56v1M145.5 72v1M146.5 43v4M146.5 53v2M146.5 67v1M147.5 45v1M147.5 60v1M148.5 65v1M148.5 81v1M149.5 13v1M149.5 55v1M149.5 57v1M149.5 64v1M150.5 6v1M150.5 79v1M151.5 84v1M152.5 13v1M152.5 87v1M153.5 27v1M153.5 88v1M154.5 15v1M154.5 29v1M155.5 10v1M155.5 14v1M155.5 30v1M156.5 32v1M156.5 62v1M156.5 66v1M156.5 81v1M157.5 46v1"/>
<path stroke="#797979" d="M1.5 76v2M1.5 81v1M3.5 5v1M3.5 35v1M3.5 54v2M3.5 87v1M4.5 52v1M5.5 13v2M6.5 14v6M6.5 38v1M6.5 51v1M6.5 87v1M7.5 14v8M7.5 39v1M7.5 68v1M7.5 71v2M7.5 85v1M8.5 25v1M8.5 29v1M8.5 38v1M8.5 50v1M8.5 66v1M8.5 78v1M8.5 84v1M9.5 3v1M9.5 27v1M9.5 39v1M9.5 74v1M10.5 2v1M10.5 29v2M10.5 36v2M10.5 85v1M11.5 85v1M12.5 5v1M13.5 74v1M14.5 41v1M14.5 55v2M15.5 17v1M15.5 42v1M15.5 53v3M15.5 72v1M16.5 53v2M16.5 72v1M16.5 85v1M17.5 55v9M17.5 81v1M21.5 12v1M22.5 10v1M22.5 39v1M22.5 50v1M23.5 38v1M24.5 18v1M24.5 38v1M25.5 16v1M25.5 39v1M26.5 66v1M26.5 77v1M27.5 32v1M27.5 34v1M27.5 69v1M28.5 31v1M29.5 31v1M29.5 72v1M29.5 74v1M30.5 33v1M30.5 42v1M30.5 55v2M30.5 61v1M30.5 81v2M31.5 43v1M31.5 80v1M31.5 83v1M32.5 55v1M32.5 63v1M32.5 81v2M33.5 30v1M33.5 35v1M33.5 63v1M34.5 29v1M34.5 37v1M34.5 42v1M34.5 62v1M35.5 20v1M35.5 23v1M35.5 47v1M35.5 57v1M36.5 16v1M36.5 27v3M36.5 47v1M36.5 79v1M37.5 13v1M37.5 29v1M37.5 32v1M38.5 9v3M38.5 44v1M38.5 69v1M39.5 8v4M39.5 28v1M40.5 9v5M40.5 26v1M40.5 58v1M41.5 19v3M41.5 58v1M43.5 7v1M43.5 50v2M44.5 47v2M44.5 53v1M45.5 47v2M45.5 52v2M45.5 62v2M45.5 76v1M46.5 4v1M46.5 41v1M46.5 46v1M46.5 60v1M46.5 78v1M47.5 47v1M47.5 61v1M47.5 79v1M47.5 83v1M51.5 16v1M51.5 20v1M53.5 13v1M53.5 22v1M55.5 2v1M55.5 82v1M56.5 18v1M56.5 59v3M57.5 55v1M57.5 76v1M59.5 54v1M59.5 64v1M60.5 32v1M61.5 49v1M62.5 12v2M62.5 33v1M62.5 58v1M63.5 12v2M63.5 25v1M63.5 52v1M63.5 71v1M63.5 74v1M64.5 5v1M65.5 4v2M65.5 31v1M66.5 4v2M66.5 23v1M67.5 5v1M67.5 15v1M67.5 34v1M68.5 13v2M68.5 18v2M68.5 23v1M68.5 33v1M68.5 68v1M69.5 13v1M70.5 13v1M71.5 14v1M72.5 31v1M72.5 76v5M73.5 31v1M73.5 76v1M73.5 80v1M74.5 56v1M74.5 76v1M74.5 80v1M75.5 12v1M75.5 78v1M76.5 61v3M77.5 3v1M77.5 25v2M77.5 30v1M77.5 55v1M77.5 66v1M78.5 12v1M78.5 24v1M78.5 28v1M78.5 32v1M79.5 10v1M79.5 25v3M79.5 73v1M80.5 4v1M80.5 62v2M80.5 79v1M81.5 10v1M81.5 17v1M81.5 33v3M81.5 79v1M82.5 7v1M82.5 14v2M82.5 32v1M82.5 35v1M86.5 20v1M87.5 62v1M87.5 65v1M89.5 21v1M89.5 28v1M90.5 72v1M91.5 25v4M91.5 51v1M91.5 71v1M92.5 21v1M93.5 15v1M93.5 21v1M93.5 25v1M93.5 33v1M93.5 50v1M94.5 33v1M95.5 27v1M95.5 53v3M96.5 55v1M96.5 67v1M98.5 81v1M98.5 83v1M99.5 16v1M99.5 41v1M100.5 82v1M101.5 40v1M101.5 42v1M101.5 83v1M102.5 16v1M103.5 70v1M104.5 42v1M104.5 68v2M105.5 36v1M105.5 39v1M107.5 73v1M108.5 69v1M108.5 81v1M109.5 68v1M110.5 34v1M110.5 69v1M111.5 6v1M111.5 72v1M111.5 74v1M112.5 36v1M112.5 75v1M113.5 75v1M114.5 4v1M114.5 6v1M114.5 47v1M115.5 47v1M115.5 65v1M116.5 73v6M117.5 72v1M117.5 79v1M118.5 72v2M118.5 78v1M119.5 74v4M124.5 9v2M124.5 22v1M124.5 25v1M125.5 20v1M125.5 63v2M126.5 19v1M126.5 30v1M127.5 32v1M128.5 71v1M129.5 20v1M129.5 61v1M130.5 35v1M130.5 45v1M130.5 84v1M131.5 28v2M131.5 58v2M132.5 58v1M134.5 16v1M134.5 24v1M134.5 73v3M135.5 4v2M135.5 26v1M135.5 75v1M136.5 17v1M136.5 50v1M136.5 73v2M137.5 12v1M138.5 31v1M138.5 79v1M139.5 42v1M139.5 75v1M139.5 83v1M140.5 32v1M140.5 75v1M141.5 20v1M141.5 31v1M141.5 77v4M143.5 74v1M143.5 77v1M143.5 81v2M144.5 35v1M144.5 46v8M144.5 74v1M145.5 18v1M145.5 21v1M145.5 23v1M145.5 35v1M145.5 43v3M145.5 54v2M146.5 14v1M146.5 36v7M146.5 47v6M147.5 5v1M147.5 12v2M147.5 44v1M148.5 59v1M149.5 17v1M149.5 54v1M149.5 65v1M149.5 75v1M151.5 30v1M152.5 5v1M152.5 12v1M152.5 14v1M152.5 29v1M153.5 4v1M153.5 29v1M155.5 11v3M155.5 86v1M156.5 57v2M156.5 67v1M156.5 80v1M157.5 47v2M157.5 52v2"/>
<path stroke="#808080" d="M1.5 78v3M2.5 38v3M2.5 66v1M2.5 85v1M3.5 43v1M3.5 56v7M4.5 4v1M4.5 10v1M5.5 52v1M6.5 13v1M6.5 39v1M6.5 42v1M7.5 4v1M7.5 13v1M7.5 31v1M7.5 51v1M8.5 24v1M8.5 51v1M9.5 30v1M9.5 64v1M9.5 70v1M10.5 28v1M10.5 31v1M10.5 35v1M10.5 38v1M12.5 79v1M13.5 54v1M14.5 18v1M14.5 57v2M15.5 56v5M16.5 5v1M16.5 28v1M16.5 55v7M17.5 35v1M17.5 64v2M17.5 70v1M18.5 1v1M19.5 3v1M19.5 24v1M21.5 13v1M21.5 15v1M22.5 40v1M23.5 18v1M23.5 52v1M25.5 12v1M25.5 15v1M25.5 50v1M25.5 67v2M25.5 75v1M26.5 5v1M26.5 11v1M26.5 67v1M27.5 33v1M27.5 50v1M28.5 5v1M28.5 11v1M28.5 34v1M28.5 53v1M28.5 70v1M29.5 34v1M29.5 54v1M29.5 73v1M31.5 54v2M31.5 62v1M31.5 81v2M32.5 45v1M33.5 31v1M33.5 34v1M34.5 46v1M35.5 21v2M35.5 29v1M35.5 60v1M36.5 26v1M36.5 30v1M37.5 28v1M37.5 33v1M38.5 12v1M38.5 28v1M38.5 35v1M38.5 77v1M39.5 12v1M40.5 14v1M40.5 77v1M42.5 71v1M43.5 3v1M44.5 49v4M45.5 2v1M45.5 49v3M45.5 64v6M45.5 80v3M46.5 61v1M46.5 79v1M46.5 83v1M47.5 62v6M47.5 80v1M48.5 47v1M52.5 4v1M52.5 9v1M52.5 15v1M53.5 1v1M53.5 14v1M54.5 13v2M54.5 25v1M54.5 77v1M54.5 80v1M55.5 11v1M55.5 27v1M56.5 19v1M56.5 82v1M57.5 21v1M57.5 26v1M57.5 65v1M57.5 81v1M60.5 25v1M61.5 33v1M61.5 48v1M61.5 58v1M62.5 40v1M63.5 53v3M63.5 72v2M65.5 26v1M68.5 15v3M68.5 60v1M68.5 75v1M68.5 82v1M69.5 14v11M70.5 14v1M70.5 28v1M70.5 61v1M70.5 67v1M71.5 28v1M71.5 60v1M72.5 16v1M73.5 62v1M73.5 77v3M74.5 77v3M75.5 4v1M75.5 31v1M76.5 3v1M76.5 30v1M76.5 57v1M77.5 62v1M77.5 70v1M78.5 5v1M78.5 11v1M78.5 25v3M78.5 35v1M78.5 63v1M79.5 54v1M80.5 80v1M80.5 83v1M81.5 71v1M81.5 80v1M81.5 83v1M82.5 16v1M82.5 19v1M82.5 33v2M83.5 6v1M83.5 15v1M85.5 15v1M86.5 17v1M87.5 63v2M88.5 69v1M89.5 22v2M89.5 26v2M90.5 28v1M90.5 64v1M91.5 22v1M91.5 65v1M92.5 31v1M93.5 47v3M94.5 25v1M95.5 28v3M96.5 21v1M96.5 53v2M96.5 68v2M97.5 71v1M98.5 14v1M98.5 71v1M98.5 82v1M99.5 20v1M101.5 36v1M102.5 42v1M102.5 74v1M103.5 21v1M103.5 33v1M103.5 68v2M104.5 17v1M104.5 20v1M105.5 37v2M106.5 27v1M107.5 31v1M107.5 74v1M107.5 82v1M108.5 22v1M109.5 24v1M109.5 33v1M109.5 69v1M109.5 77v1M110.5 33v1M110.5 70v1M110.5 76v1M111.5 4v2M111.5 27v1M111.5 30v2M111.5 35v1M111.5 73v1M112.5 6v1M112.5 71v1M113.5 6v1M113.5 32v1M113.5 35v1M113.5 71v1M114.5 5v1M114.5 48v1M114.5 65v1M115.5 48v1M116.5 45v1M117.5 73v6M118.5 74v4M125.5 27v1M126.5 60v1M127.5 10v1M127.5 67v1M128.5 9v1M128.5 32v1M129.5 12v1M129.5 27v1M129.5 30v1M130.5 41v1M130.5 64v1M131.5 80v1M132.5 59v1M132.5 76v1M133.5 34v1M133.5 76v1M133.5 80v1M133.5 84v1M134.5 11v1M134.5 65v1M135.5 17v1M135.5 30v1M135.5 42v1M135.5 44v1M135.5 73v2M136.5 47v1M136.5 60v1M137.5 13v2M137.5 62v1M137.5 64v1M138.5 48v1M139.5 46v1M139.5 50v1M139.5 56v1M139.5 76v1M139.5 82v1M140.5 24v1M140.5 76v1M140.5 83v1M142.5 33v1M143.5 23v1M143.5 34v1M143.5 75v2M144.5 24v1M144.5 75v1M144.5 84v1M145.5 19v2M145.5 24v1M145.5 46v8M145.5 73v1M146.5 24v2M146.5 35v1M147.5 25v1M147.5 43v1M148.5 5v1M148.5 13v2M148.5 48v1M148.5 62v1M148.5 79v2M149.5 5v1M149.5 53v1M149.5 58v1M149.5 63v1M149.5 74v1M150.5 78v1M151.5 19v1M151.5 29v1M151.5 31v1M151.5 83v1M152.5 28v1M152.5 30v1M153.5 14v1M153.5 26v1M154.5 6v1M154.5 13v2M156.5 33v1M156.5 59v3M156.5 68v1M156.5 76v4M157.5 49v3"/>
<path stroke="#868686" d="M2.5 67v1M3.5 63v1M4.5 5v5M4.5 35v1M4.5 43v1M4.5 53v1M5.5 4v1M5.5 12v1M6.5 4v1M6.5 40v2M6.5 52v1M7.5 36v1M7.5 46v1M7.5 67v1M7.5 73v1M8.5 5v1M8.5 15v9M8.5 39v1M8.5 47v1M8.5 52v1M8.5 79v1M9.5 26v1M9.5 36v1M9.5 71v1M9.5 73v1M9.5 79v1M10.5 32v3M10.5 39v1M10.5 75v1M11.5 3v1M12.5 6v1M12.5 75v1M13.5 17v1M13.5 52v2M13.5 55v2M14.5 59v1M14.5 71v1M14.5 82v2M15.5 18v1M15.5 25v3M15.5 61v2M15.5 81v1M16.5 27v1M16.5 29v1M16.5 62v1M17.5 66v1M17.5 69v1M19.5 23v1M21.5 14v1M22.5 41v1M22.5 49v1M24.5 11v1M24.5 52v1M25.5 13v2M25.5 40v1M25.5 49v1M25.5 69v3M26.5 45v1M26.5 68v2M27.5 48v2M27.5 77v1M28.5 32v2M29.5 32v2M30.5 54v1M30.5 60v1M32.5 62v1M33.5 32v2M33.5 62v1M34.5 30v1M34.5 36v1M34.5 43v1M35.5 30v1M35.5 58v2M36.5 25v1M37.5 14v1M37.5 27v1M37.5 46v1M37.5 79v1M38.5 13v1M38.5 43v1M38.5 70v1M39.5 13v1M39.5 27v1M39.5 60v1M39.5 78v1M40.5 15v1M40.5 25v1M42.5 61v1M44.5 2v1M45.5 70v1M46.5 62v6M46.5 77v1M46.5 80v1M47.5 68v1M47.5 76v1M47.5 81v2M51.5 17v1M51.5 19v1M52.5 5v1M52.5 8v1M52.5 21v1M53.5 12v1M54.5 1v1M54.5 24v1M55.5 3v1M55.5 16v1M56.5 27v1M59.5 55v1M59.5 63v1M60.5 42v1M60.5 51v1M60.5 57v1M61.5 24v1M62.5 24v1M62.5 50v1M65.5 27v1M65.5 30v1M66.5 33v1M67.5 23v1M67.5 74v1M69.5 25v1M69.5 30v1M70.5 15v2M71.5 15v1M71.5 57v1M72.5 36v1M72.5 55v1M73.5 37v1M74.5 66v1M75.5 66v1M76.5 60v1M77.5 37v1M77.5 67v1M77.5 69v1M78.5 33v2M78.5 64v1M80.5 16v1M80.5 72v1M80.5 81v2M81.5 66v1M81.5 81v2M82.5 17v2M83.5 2v1M84.5 22v1M86.5 19v1M88.5 61v1M88.5 68v1M89.5 24v2M89.5 62v1M90.5 16v1M90.5 27v1M91.5 45v1M91.5 50v1M92.5 27v1M92.5 30v1M92.5 45v1M92.5 51v1M94.5 32v1M98.5 66v1M99.5 17v1M100.5 75v1M101.5 39v1M102.5 20v1M102.5 82v1M104.5 34v1M106.5 21v1M106.5 26v1M107.5 75v1M108.5 70v1M108.5 80v1M111.5 28v2M111.5 32v3M112.5 4v2M112.5 32v1M112.5 35v1M112.5 72v1M112.5 74v1M113.5 4v2M113.5 33v2M113.5 41v1M113.5 72v3M115.5 49v1M115.5 64v1M116.5 42v1M124.5 23v2M126.5 29v1M126.5 66v1M128.5 60v1M129.5 19v1M131.5 66v1M131.5 71v1M132.5 33v1M132.5 77v4M133.5 24v1M133.5 33v1M133.5 35v1M133.5 49v1M133.5 77v3M133.5 81v1M134.5 42v1M134.5 61v1M135.5 27v1M135.5 29v1M135.5 43v1M135.5 60v1M136.5 56v1M137.5 48v2M137.5 57v1M137.5 63v1M138.5 6v1M138.5 26v1M138.5 49v1M138.5 57v1M139.5 32v1M139.5 77v2M139.5 81v1M140.5 77v1M140.5 81v2M141.5 27v4M142.5 32v1M144.5 6v1M144.5 34v1M144.5 76v1M145.5 25v1M145.5 34v1M146.5 3v1M146.5 6v1M146.5 26v1M146.5 34v1M146.5 68v1M146.5 84v1M147.5 6v1M147.5 24v1M147.5 66v1M147.5 83v1M148.5 60v2M148.5 77v2M149.5 18v1M149.5 52v1M149.5 73v1M150.5 11v1M150.5 19v1M150.5 31v1M150.5 57v1M152.5 6v1M152.5 11v1M152.5 86v1M153.5 13v1M153.5 25v1M154.5 7v1M154.5 11v2M154.5 30v1M154.5 87v1M155.5 31v1M155.5 85v1M156.5 56v1M156.5 69v7"/>
<path stroke="#8c8c8c" d="M4.5 54v5M4.5 87v1M5.5 5v1M5.5 42v1M5.5 53v1M5.5 87v1M6.5 86v1M7.5 12v1M7.5 32v1M7.5 52v1M7.5 74v1M7.5 84v1M8.5 14v1M8.5 30v1M8.5 37v1M8.5 53v1M8.5 65v1M9.5 31v1M9.5 63v1M9.5 72v1M10.5 27v1M10.5 66v2M13.5 51v1M13.5 81v1M13.5 83v1M14.5 40v1M14.5 60v1M15.5 19v1M15.5 24v1M15.5 63v1M16.5 6v1M16.5 26v1M16.5 42v1M16.5 63v1M17.5 2v1M17.5 26v1M17.5 67v2M19.5 22v1M22.5 17v1M22.5 42v2M22.5 48v1M23.5 39v1M24.5 17v1M24.5 39v1M25.5 41v1M25.5 48v1M25.5 72v1M25.5 74v1M27.5 47v1M28.5 76v1M30.5 57v1M31.5 53v1M32.5 46v1M34.5 31v1M34.5 35v1M34.5 44v2M34.5 56v1M34.5 61v1M35.5 46v1M36.5 17v1M36.5 31v2M36.5 84v1M37.5 34v1M38.5 27v1M38.5 36v1M38.5 76v1M40.5 76v1M41.5 72v1M42.5 62v1M45.5 7v1M45.5 75v1M46.5 42v1M46.5 45v1M46.5 68v1M46.5 81v2M47.5 69v1M51.5 18v1M52.5 6v2M54.5 12v1M54.5 15v1M54.5 23v1M54.5 78v2M55.5 10v1M58.5 65v1M59.5 56v1M60.5 46v1M61.5 40v1M62.5 47v1M62.5 57v1M63.5 26v1M63.5 31v1M65.5 28v2M67.5 83v1M68.5 76v1M69.5 26v1M69.5 29v1M69.5 60v1M69.5 68v1M70.5 17v1M70.5 66v1M71.5 16v1M71.5 59v1M72.5 17v1M73.5 55v1M74.5 36v1M74.5 60v1M75.5 5v1M75.5 11v1M75.5 36v1M75.5 61v1M76.5 12v1M76.5 37v1M76.5 58v2M77.5 4v1M77.5 12v1M77.5 68v1M78.5 6v1M78.5 10v1M78.5 55v1M78.5 72v1M79.5 11v1M79.5 63v1M80.5 10v1M80.5 56v1M80.5 61v1M80.5 64v1M81.5 2v1M81.5 67v1M81.5 70v1M86.5 18v1M88.5 67v1M89.5 63v1M90.5 21v6M92.5 28v2M93.5 26v1M93.5 32v1M94.5 26v1M96.5 17v1M97.5 66v1M98.5 22v1M98.5 42v1M98.5 45v1M99.5 18v2M99.5 46v1M100.5 46v1M100.5 81v1M101.5 37v2M102.5 34v1M103.5 16v1M103.5 42v1M104.5 19v1M106.5 22v1M107.5 19v1M108.5 23v1M108.5 71v1M108.5 77v3M109.5 70v1M109.5 76v1M110.5 32v1M110.5 71v1M110.5 75v1M112.5 33v2M112.5 73v1M114.5 49v1M114.5 64v1M126.5 20v1M128.5 24v1M128.5 70v1M129.5 28v2M129.5 62v1M130.5 36v1M130.5 50v1M130.5 82v1M132.5 25v1M132.5 32v1M133.5 47v2M134.5 15v1M134.5 32v1M135.5 28v1M136.5 10v1M139.5 43v3M139.5 79v2M140.5 25v1M140.5 78v3M142.5 21v1M142.5 27v2M142.5 31v1M143.5 24v2M143.5 33v1M144.5 25v1M144.5 77v1M145.5 33v1M145.5 74v1M146.5 23v1M146.5 27v1M146.5 32v2M146.5 69v1M147.5 14v1M147.5 26v1M147.5 31v2M147.5 42v1M148.5 76v1M149.5 51v1M149.5 59v1M150.5 7v1M150.5 56v1M150.5 58v1M150.5 77v1M151.5 82v1M152.5 10v1M153.5 5v1M153.5 12v1M153.5 30v1M153.5 87v1M154.5 8v3M156.5 34v1"/>
<path stroke="#939393" d="M2.5 68v1M2.5 84v1M3.5 64v1M3.5 86v1M4.5 59v2M5.5 11v1M5.5 36v1M5.5 54v2M6.5 12v1M6.5 53v2M7.5 5v1M7.5 33v3M7.5 53v2M7.5 66v1M8.5 13v1M8.5 54v2M8.5 80v1M8.5 83v1M9.5 4v1M9.5 25v1M9.5 32v1M9.5 35v1M9.5 48v4M9.5 84v1M10.5 3v1M10.5 65v1M10.5 68v1M12.5 7v1M12.5 84v1M13.5 50v1M13.5 57v1M13.5 73v1M14.5 19v1M14.5 61v1M14.5 70v1M15.5 20v1M15.5 23v1M15.5 28v1M15.5 71v1M16.5 7v1M16.5 25v1M16.5 30v1M16.5 81v1M17.5 36v1M17.5 41v1M18.5 2v1M18.5 25v1M19.5 4v1M19.5 20v2M22.5 44v4M23.5 40v1M23.5 51v1M24.5 40v1M25.5 45v3M25.5 73v1M26.5 6v1M26.5 10v1M26.5 70v1M27.5 5v1M27.5 11v1M27.5 70v1M28.5 41v1M30.5 58v2M31.5 56v1M31.5 61v1M32.5 50v1M34.5 32v1M34.5 34v1M35.5 31v1M36.5 24v1M36.5 33v1M36.5 46v1M37.5 26v1M37.5 45v1M37.5 84v1M38.5 42v1M38.5 71v1M39.5 14v1M39.5 26v1M39.5 61v1M39.5 67v1M39.5 77v1M40.5 24v1M41.5 59v1M42.5 63v2M42.5 70v1M43.5 6v1M45.5 71v1M45.5 74v1M46.5 43v2M46.5 69v1M47.5 40v1M47.5 70v1M49.5 46v1M53.5 2v1M53.5 15v1M54.5 22v1M55.5 4v1M56.5 20v1M56.5 76v1M57.5 22v1M57.5 25v1M58.5 55v1M59.5 57v1M59.5 62v1M60.5 26v1M60.5 31v1M60.5 43v1M60.5 56v1M61.5 50v1M66.5 24v1M68.5 24v1M68.5 67v1M68.5 81v1M69.5 27v2M70.5 18v1M70.5 27v1M70.5 62v1M71.5 58v1M72.5 18v1M72.5 61v1M74.5 57v1M74.5 61v1M76.5 4v1M77.5 31v1M78.5 7v3M79.5 14v1M81.5 68v2M83.5 21v1M84.5 15v1M88.5 66v1M89.5 64v1M91.5 15v1M91.5 46v2M91.5 49v1M92.5 46v1M92.5 50v1M93.5 16v1M94.5 31v1M96.5 20v1M97.5 15v1M97.5 22v1M97.5 70v1M98.5 15v1M98.5 67v1M98.5 70v1M101.5 43v1M101.5 45v1M101.5 74v1M102.5 17v1M104.5 18v1M104.5 41v1M106.5 23v3M107.5 30v1M107.5 76v1M107.5 81v1M108.5 32v1M108.5 72v1M108.5 75v2M110.5 25v1M110.5 72v3M115.5 46v1M115.5 50v1M115.5 63v1M116.5 43v2M126.5 28v1M127.5 11v1M127.5 60v1M128.5 10v1M128.5 23v1M129.5 13v1M129.5 18v1M129.5 63v1M129.5 72v1M130.5 40v1M130.5 46v1M130.5 72v1M130.5 83v1M131.5 34v1M131.5 70v1M134.5 12v1M134.5 25v1M134.5 45v1M135.5 10v1M135.5 65v1M136.5 6v1M136.5 51v1M136.5 65v1M138.5 3v1M138.5 30v1M138.5 41v1M140.5 31v1M141.5 26v1M142.5 26v1M142.5 29v2M143.5 26v1M143.5 32v1M144.5 3v1M144.5 33v1M144.5 78v1M145.5 6v1M145.5 26v1M145.5 32v1M145.5 75v1M145.5 84v1M146.5 15v1M146.5 28v4M147.5 11v1M147.5 33v5M147.5 41v1M148.5 15v1M148.5 47v1M149.5 50v1M149.5 60v3M149.5 66v1M149.5 72v1M150.5 30v1M150.5 32v1M151.5 32v1M152.5 7v3M152.5 31v1M153.5 11v1M153.5 15v1M153.5 24v1M155.5 62v3M156.5 43v1M156.5 55v1"/>
<path stroke="#999999" d="M2.5 69v5M3.5 36v1M4.5 61v1M5.5 6v1M5.5 56v4M6.5 5v1M6.5 55v4M7.5 40v1M7.5 55v4M7.5 75v1M8.5 6v1M8.5 12v1M8.5 56v4M8.5 64v1M9.5 18v3M9.5 24v1M9.5 33v2M9.5 40v1M9.5 52v2M9.5 62v1M10.5 26v1M10.5 40v1M10.5 64v1M10.5 79v1M11.5 4v1M11.5 28v2M11.5 75v1M11.5 79v1M13.5 18v1M13.5 47v3M13.5 58v1M13.5 82v1M14.5 20v1M14.5 25v3M14.5 39v1M14.5 62v1M14.5 69v1M15.5 21v2M15.5 41v1M15.5 64v1M16.5 8v1M16.5 31v1M16.5 64v1M16.5 71v1M17.5 84v1M19.5 18v2M22.5 11v1M23.5 11v1M23.5 17v1M23.5 41v1M24.5 41v1M24.5 51v1M25.5 42v3M26.5 41v1M26.5 76v1M27.5 46v1M28.5 6v1M28.5 10v1M28.5 52v1M28.5 71v1M31.5 44v1M32.5 47v1M32.5 61v1M33.5 56v1M33.5 61v1M34.5 33v1M34.5 60v1M35.5 32v7M35.5 40v6M36.5 18v1M36.5 23v1M36.5 34v1M36.5 45v1M36.5 80v1M37.5 15v1M37.5 35v1M37.5 44v1M38.5 14v1M38.5 26v1M38.5 37v1M38.5 41v1M38.5 72v4M39.5 65v2M39.5 68v2M40.5 16v1M40.5 59v1M40.5 75v1M42.5 65v2M43.5 4v2M44.5 7v1M45.5 72v2M46.5 76v1M47.5 71v1M47.5 75v1M48.5 40v1M49.5 41v1M52.5 16v1M53.5 11v1M53.5 21v1M55.5 9v1M55.5 17v1M55.5 26v1M55.5 76v1M57.5 24v1M57.5 56v1M57.5 64v1M57.5 77v1M57.5 80v1M59.5 61v1M60.5 44v2M60.5 52v1M60.5 55v1M61.5 32v1M61.5 57v1M62.5 32v1M62.5 51v1M63.5 30v1M67.5 33v1M67.5 75v1M68.5 32v1M68.5 61v1M68.5 77v2M68.5 80v1M70.5 19v1M70.5 63v1M70.5 65v1M71.5 17v1M71.5 27v1M72.5 25v1M73.5 61v1M74.5 32v1M74.5 58v2M75.5 6v1M75.5 10v1M75.5 32v1M75.5 35v1M77.5 5v1M77.5 11v1M77.5 56v1M78.5 62v1M78.5 65v1M79.5 12v1M79.5 64v1M79.5 72v1M81.5 6v1M81.5 11v1M81.5 16v1M83.5 5v1M85.5 21v1M88.5 62v1M88.5 65v1M89.5 71v1M90.5 17v1M90.5 20v1M91.5 21v1M91.5 48v1M91.5 66v1M91.5 70v1M92.5 15v1M92.5 47v3M93.5 20v1M93.5 27v1M93.5 31v1M94.5 27v2M94.5 30v1M96.5 18v2M97.5 67v3M98.5 68v2M100.5 76v1M101.5 82v1M102.5 18v2M102.5 41v1M102.5 75v1M103.5 20v1M107.5 77v1M107.5 80v1M108.5 24v1M108.5 73v2M109.5 71v1M109.5 75v1M114.5 46v1M114.5 50v1M114.5 63v1M115.5 41v1M125.5 21v1M125.5 26v1M126.5 27v1M126.5 61v1M126.5 65v1M127.5 31v1M127.5 66v1M128.5 22v1M128.5 25v1M128.5 31v1M128.5 69v1M129.5 14v1M129.5 17v1M129.5 64v1M130.5 37v1M131.5 44v1M131.5 67v1M131.5 81v1M132.5 31v1M132.5 34v1M132.5 50v1M132.5 81v1M133.5 32v1M133.5 36v1M133.5 46v1M133.5 82v2M134.5 14v1M134.5 43v1M134.5 62v1M134.5 64v1M136.5 3v1M136.5 16v1M136.5 41v1M136.5 46v1M136.5 55v1M138.5 27v1M138.5 47v1M139.5 51v1M139.5 55v1M140.5 26v1M143.5 27v2M143.5 31v1M144.5 26v2M144.5 32v1M144.5 79v1M144.5 83v1M145.5 27v2M145.5 31v1M146.5 5v1M146.5 70v1M147.5 7v1M147.5 27v1M147.5 30v1M147.5 38v3M147.5 82v1M148.5 31v3M148.5 66v1M149.5 12v1M149.5 19v1M149.5 31v2M150.5 10v1M150.5 33v1M150.5 55v1M150.5 59v1M150.5 63v2M150.5 76v1M151.5 28v1M151.5 81v1M152.5 15v1M152.5 27v1M153.5 6v1M153.5 10v1M153.5 23v1M155.5 32v1M155.5 58v4M155.5 65v1M155.5 84v1M156.5 35v1M156.5 41v2M156.5 44v2"/>
<path stroke="#9f9f9f" d="M2.5 74v1M2.5 83v1M3.5 42v1M3.5 65v1M4.5 62v1M5.5 10v1M5.5 60v1M6.5 11v1M6.5 59v1M6.5 85v1M7.5 11v1M7.5 45v1M7.5 59v1M7.5 65v1M7.5 83v1M8.5 11v1M8.5 31v1M8.5 36v1M8.5 60v4M8.5 81v2M9.5 17v1M9.5 21v3M9.5 47v1M9.5 54v1M10.5 63v1M10.5 69v1M10.5 74v1M11.5 27v1M12.5 8v1M12.5 15v2M13.5 46v1M13.5 72v1M14.5 21v1M14.5 24v1M14.5 63v2M14.5 68v1M15.5 65v1M16.5 9v1M16.5 24v1M16.5 32v1M16.5 65v1M17.5 3v1M17.5 25v1M19.5 5v1M19.5 16v2M22.5 16v1M23.5 42v1M24.5 16v1M24.5 42v1M26.5 7v1M26.5 9v1M26.5 71v1M29.5 42v1M29.5 53v1M30.5 43v1M30.5 53v1M31.5 60v1M32.5 48v2M32.5 56v1M34.5 57v1M35.5 39v1M36.5 35v1M36.5 44v1M37.5 25v1M37.5 43v1M37.5 80v1M38.5 38v1M38.5 40v1M39.5 25v1M39.5 62v3M39.5 70v1M39.5 76v1M40.5 23v1M40.5 73v2M42.5 67v3M45.5 3v1M46.5 70v1M47.5 72v1M47.5 74v1M52.5 20v1M54.5 2v1M54.5 11v1M54.5 16v1M54.5 21v1M55.5 5v2M55.5 8v1M55.5 18v3M55.5 81v1M56.5 26v1M57.5 23v1M59.5 58v3M60.5 27v1M60.5 30v1M60.5 53v2M61.5 25v1M61.5 47v1M62.5 25v1M62.5 41v1M62.5 56v1M63.5 27v1M63.5 29v1M66.5 32v1M67.5 82v1M68.5 79v1M69.5 67v1M70.5 26v1M70.5 64v1M72.5 19v1M72.5 32v1M72.5 35v1M74.5 35v1M74.5 65v1M75.5 7v3M75.5 33v1M76.5 5v1M76.5 11v1M76.5 31v1M77.5 36v1M77.5 61v1M79.5 13v1M79.5 62v1M80.5 57v1M80.5 60v1M80.5 71v1M82.5 2v1M83.5 3v1M88.5 63v2M89.5 65v1M90.5 18v2M90.5 65v1M90.5 71v1M93.5 28v3M94.5 29v1M98.5 21v1M98.5 44v1M100.5 80v1M101.5 44v1M102.5 81v1M103.5 34v1M104.5 35v1M107.5 20v1M107.5 78v2M109.5 32v1M109.5 72v3M113.5 44v1M114.5 41v1M115.5 51v1M115.5 62v1M127.5 12v1M128.5 61v1M128.5 66v3M129.5 15v2M130.5 38v2M130.5 47v1M130.5 49v1M130.5 65v1M131.5 43v1M131.5 68v2M131.5 84v1M132.5 26v1M132.5 84v1M133.5 25v1M133.5 40v1M134.5 13v1M134.5 31v1M134.5 63v1M136.5 61v1M137.5 6v1M137.5 47v1M137.5 50v1M138.5 28v2M138.5 50v1M138.5 56v1M139.5 26v1M139.5 31v1M141.5 21v1M142.5 25v1M143.5 29v2M144.5 5v1M144.5 28v4M144.5 80v3M145.5 3v1M145.5 29v2M145.5 76v1M146.5 4v1M146.5 83v1M147.5 10v1M147.5 23v1M147.5 28v2M148.5 12v1M148.5 25v1M148.5 34v2M148.5 43v4M148.5 75v1M149.5 33v2M149.5 49v1M149.5 71v1M150.5 8v2M150.5 29v1M150.5 60v3M150.5 65v1M151.5 33v1M151.5 57v2M152.5 85v1M153.5 7v3M153.5 22v1M153.5 31v1M154.5 31v1M154.5 59v4M154.5 86v1M155.5 57v1M156.5 36v2M156.5 39v2M156.5 46v1M156.5 54v1"/>
<path stroke="#a6a6a6" d="M2.5 75v1M3.5 85v1M4.5 63v1M4.5 86v1M5.5 7v1M5.5 37v1M5.5 61v1M5.5 86v1M6.5 6v1M6.5 60v1M6.5 67v1M7.5 6v1M7.5 60v1M7.5 76v1M7.5 82v1M8.5 7v1M8.5 10v1M8.5 32v1M8.5 35v1M9.5 5v1M9.5 16v1M9.5 61v1M9.5 80v1M10.5 25v1M10.5 41v1M10.5 84v1M11.5 26v1M11.5 30v1M12.5 9v1M12.5 13v2M12.5 17v1M12.5 27v1M12.5 74v1M12.5 80v1M13.5 19v1M13.5 26v2M13.5 45v1M13.5 59v1M14.5 22v2M14.5 65v3M15.5 29v1M15.5 66v1M15.5 70v1M15.5 84v1M16.5 10v7M16.5 22v2M16.5 33v2M16.5 70v1M17.5 37v1M17.5 40v1M17.5 82v1M18.5 24v1M19.5 15v1M23.5 43v1M23.5 50v1M24.5 43v1M24.5 50v1M26.5 8v1M26.5 44v1M27.5 10v1M27.5 76v1M28.5 7v3M28.5 75v1M31.5 52v1M31.5 57v1M34.5 58v2M36.5 19v2M36.5 22v1M36.5 36v1M36.5 43v1M36.5 83v1M37.5 36v1M37.5 83v1M38.5 25v1M38.5 39v1M39.5 15v1M39.5 71v1M40.5 17v1M40.5 22v1M40.5 72v1M41.5 60v1M41.5 71v1M44.5 3v1M45.5 6v1M47.5 46v1M47.5 73v1M52.5 17v1M52.5 19v1M53.5 3v1M53.5 10v1M53.5 16v1M54.5 20v1M55.5 7v1M55.5 21v1M56.5 21v1M56.5 81v1M57.5 78v2M58.5 64v1M60.5 28v2M61.5 41v1M61.5 51v1M62.5 46v1M62.5 52v1M63.5 28v1M66.5 25v1M67.5 24v1M67.5 76v1M68.5 25v1M68.5 62v1M68.5 66v1M69.5 61v1M70.5 20v1M70.5 25v1M71.5 18v1M72.5 20v1M72.5 24v1M73.5 32v1M73.5 36v1M74.5 33v1M74.5 62v1M75.5 34v1M75.5 62v1M75.5 65v1M76.5 6v1M76.5 10v1M76.5 36v1M77.5 6v1M77.5 10v1M78.5 71v1M79.5 55v1M80.5 58v2M80.5 65v1M82.5 6v1M83.5 4v1M83.5 16v1M84.5 21v1M85.5 16v1M91.5 67v1M91.5 69v1M93.5 17v1M93.5 19v1M97.5 21v1M98.5 16v1M98.5 43v1M100.5 42v1M100.5 77v1M100.5 79v1M102.5 35v1M103.5 17v1M103.5 41v1M104.5 40v1M107.5 29v1M110.5 31v1M113.5 42v1M114.5 51v1M114.5 62v1M115.5 52v1M115.5 61v1M126.5 21v1M126.5 62v1M126.5 64v1M127.5 20v2M128.5 11v1M128.5 21v1M128.5 26v1M129.5 65v1M130.5 48v1M131.5 45v1M131.5 50v1M132.5 30v1M133.5 37v3M133.5 41v1M134.5 26v1M134.5 44v1M135.5 16v1M135.5 61v1M136.5 11v1M136.5 45v1M136.5 52v1M136.5 54v1M137.5 3v1M137.5 41v1M137.5 56v1M138.5 4v2M139.5 52v1M139.5 54v1M140.5 27v1M140.5 30v1M141.5 25v1M142.5 22v1M144.5 4v1M145.5 83v1M146.5 16v1M146.5 22v1M147.5 8v1M147.5 67v1M147.5 81v1M148.5 6v1M148.5 24v1M148.5 36v1M148.5 42v1M149.5 6v1M149.5 35v1M149.5 67v1M149.5 70v1M150.5 34v1M150.5 54v1M150.5 75v1M151.5 59v2M151.5 80v1M152.5 32v1M153.5 59v2M153.5 86v1M154.5 58v1M154.5 63v1M155.5 66v1M156.5 38v1M156.5 47v1M156.5 53v1"/>
<path stroke="#acacac" d="M2.5 82v1M3.5 37v1M4.5 36v1M4.5 42v1M4.5 64v1M5.5 8v2M5.5 41v1M5.5 62v1M6.5 61v1M6.5 65v2M6.5 68v3M7.5 7v1M7.5 10v1M7.5 44v1M7.5 61v1M7.5 64v1M7.5 77v1M8.5 8v2M8.5 33v2M8.5 40v1M8.5 46v1M9.5 55v1M9.5 60v1M10.5 4v1M10.5 24v1M10.5 70v1M10.5 73v1M11.5 74v1M11.5 84v1M12.5 10v3M12.5 18v1M12.5 26v1M12.5 28v1M12.5 54v3M13.5 20v1M13.5 25v1M13.5 44v1M13.5 71v1M14.5 28v1M14.5 38v1M15.5 40v1M15.5 67v3M16.5 17v5M16.5 35v1M16.5 41v1M16.5 66v1M16.5 69v1M17.5 24v1M17.5 38v2M18.5 3v1M18.5 23v1M19.5 6v1M19.5 14v1M22.5 12v1M23.5 44v1M23.5 49v1M24.5 12v1M24.5 44v1M24.5 49v1M27.5 6v1M27.5 41v1M27.5 71v1M28.5 51v1M28.5 72v1M31.5 45v1M31.5 58v2M32.5 60v1M33.5 57v1M33.5 60v1M36.5 21v1M36.5 42v1M36.5 81v2M37.5 16v1M37.5 24v1M37.5 42v1M38.5 15v1M39.5 24v1M39.5 72v4M40.5 18v1M40.5 21v1M40.5 60v1M40.5 71v1M46.5 71v1M46.5 75v1M49.5 42v1M52.5 18v1M53.5 20v1M54.5 3v1M54.5 17v1M55.5 25v1M57.5 57v1M57.5 63v1M58.5 56v1M61.5 52v1M61.5 56v1M62.5 42v1M62.5 53v3M67.5 81v1M68.5 63v1M68.5 65v1M70.5 21v4M71.5 19v1M71.5 26v1M72.5 21v3M72.5 34v1M72.5 56v1M73.5 56v1M74.5 34v1M74.5 63v2M76.5 7v3M77.5 7v3M77.5 32v1M77.5 35v1M78.5 56v1M78.5 66v1M79.5 65v1M80.5 11v1M80.5 15v1M81.5 3v1M81.5 12v1M81.5 15v1M83.5 20v1M89.5 66v1M89.5 70v1M91.5 16v1M91.5 68v1M92.5 20v1M93.5 18v1M97.5 16v1M99.5 42v1M100.5 78v1M101.5 75v1M102.5 40v1M102.5 76v1M102.5 80v1M103.5 18v2M104.5 36v1M108.5 25v1M108.5 31v1M109.5 25v1M110.5 26v1M113.5 43v1M114.5 52v1M114.5 61v1M115.5 45v1M115.5 53v1M115.5 60v1M125.5 22v1M125.5 25v1M126.5 26v1M126.5 63v1M127.5 13v1M127.5 19v1M127.5 22v5M127.5 30v1M127.5 61v1M127.5 65v1M128.5 30v1M128.5 62v1M128.5 65v1M129.5 71v1M130.5 71v1M131.5 35v1M131.5 42v1M132.5 27v1M132.5 29v1M133.5 31v1M135.5 11v1M136.5 4v2M136.5 53v1M136.5 62v1M136.5 64v1M139.5 53v1M140.5 28v2M142.5 24v1M145.5 4v2M145.5 77v1M145.5 82v1M146.5 82v1M147.5 9v1M147.5 15v1M147.5 79v2M148.5 16v1M148.5 23v1M148.5 26v1M148.5 30v1M148.5 37v1M148.5 41v1M148.5 71v4M149.5 20v1M149.5 30v1M149.5 36v1M149.5 68v1M150.5 28v1M150.5 35v1M150.5 66v1M151.5 34v1M151.5 56v1M151.5 61v3M152.5 26v1M152.5 58v4M153.5 16v1M153.5 21v1M153.5 58v1M153.5 61v2M154.5 57v1M155.5 33v1M155.5 56v1M155.5 83v1M156.5 48v1M156.5 52v1"/>
<path stroke="#b2b2b2" d="M2.5 76v1M3.5 41v1M3.5 66v1M5.5 63v2M6.5 7v1M6.5 10v1M6.5 62v1M6.5 64v1M6.5 71v2M6.5 84v1M7.5 8v2M7.5 41v1M7.5 43v1M7.5 62v2M7.5 78v4M9.5 6v1M9.5 15v1M9.5 41v1M9.5 46v1M9.5 56v1M9.5 83v1M10.5 18v6M10.5 42v1M10.5 62v1M10.5 71v2M11.5 5v1M11.5 25v1M11.5 31v1M12.5 19v1M12.5 25v1M12.5 53v1M12.5 73v1M12.5 83v1M13.5 21v4M13.5 28v1M13.5 42v2M13.5 60v1M13.5 70v1M15.5 82v1M16.5 36v1M16.5 67v2M16.5 84v1M17.5 4v1M17.5 23v1M17.5 83v1M18.5 21v2M19.5 7v1M19.5 13v1M22.5 15v1M23.5 16v1M23.5 45v2M23.5 48v1M24.5 15v1M24.5 45v2M24.5 48v1M26.5 42v2M26.5 72v1M26.5 75v1M27.5 7v1M27.5 9v1M27.5 45v1M28.5 73v2M32.5 57v1M33.5 59v1M36.5 37v1M36.5 41v1M37.5 23v1M37.5 37v1M37.5 41v1M37.5 81v2M38.5 24v1M40.5 19v2M40.5 69v2M41.5 70v1M44.5 6v1M45.5 4v2M46.5 72v3M47.5 41v1M48.5 46v1M49.5 45v1M53.5 4v1M53.5 9v1M53.5 17v1M53.5 19v1M54.5 10v1M54.5 18v2M55.5 22v3M55.5 77v1M56.5 22v1M56.5 25v1M57.5 62v1M58.5 63v1M61.5 31v1M61.5 46v1M61.5 53v3M62.5 26v1M62.5 31v1M62.5 43v3M66.5 31v1M67.5 32v1M67.5 77v4M68.5 31v1M68.5 64v1M69.5 62v1M69.5 66v1M72.5 33v1M72.5 60v1M75.5 63v2M76.5 32v1M76.5 35v1M77.5 33v2M77.5 57v1M77.5 60v1M78.5 61v1M78.5 70v1M79.5 71v1M80.5 66v1M80.5 70v1M81.5 5v1M84.5 16v1M85.5 20v1M91.5 20v1M92.5 16v1M97.5 20v1M98.5 17v1M98.5 20v1M99.5 45v1M100.5 45v1M101.5 81v1M102.5 36v1M102.5 77v1M103.5 35v1M104.5 39v1M107.5 21v1M107.5 27v2M114.5 45v1M114.5 53v1M114.5 60v1M115.5 42v1M115.5 54v2M115.5 58v2M125.5 23v2M126.5 22v1M126.5 25v1M127.5 14v1M127.5 18v1M127.5 27v1M127.5 29v1M128.5 12v1M128.5 20v1M128.5 27v1M128.5 63v2M129.5 66v1M130.5 66v1M131.5 82v2M132.5 28v1M132.5 35v1M132.5 82v2M133.5 26v1M134.5 27v1M134.5 30v1M135.5 62v1M135.5 64v1M136.5 15v1M136.5 42v1M136.5 44v1M136.5 63v1M138.5 42v1M138.5 46v1M139.5 27v1M139.5 30v1M141.5 22v1M141.5 24v1M142.5 23v1M145.5 78v4M146.5 71v1M146.5 81v1M147.5 68v1M147.5 77v2M148.5 22v1M148.5 27v1M148.5 38v3M148.5 67v1M148.5 70v1M149.5 11v1M149.5 48v1M149.5 69v1M150.5 20v1M150.5 36v1M150.5 53v1M150.5 74v1M151.5 20v1M151.5 27v1M151.5 79v1M152.5 16v1M152.5 57v1M152.5 62v1M152.5 84v1M153.5 32v1M153.5 63v1M154.5 32v1M154.5 64v1M154.5 85v1M155.5 67v1M156.5 49v3"/>
<path stroke="#b9b9b9" d="M2.5 77v1M2.5 81v1M3.5 38v1M3.5 67v1M3.5 84v1M4.5 65v1M5.5 38v3M5.5 65v2M5.5 85v1M6.5 8v2M6.5 63v1M6.5 73v1M7.5 42v1M9.5 14v1M9.5 45v1M9.5 57v3M9.5 81v1M10.5 17v1M10.5 43v1M10.5 52v2M11.5 17v8M11.5 73v1M12.5 20v5M12.5 29v1M12.5 52v1M12.5 57v1M13.5 41v1M13.5 69v1M15.5 38v2M15.5 83v1M16.5 40v1M17.5 20v3M18.5 4v1M18.5 18v3M19.5 8v1M19.5 11v2M22.5 13v2M23.5 12v1M23.5 47v1M24.5 13v2M24.5 47v1M26.5 73v2M27.5 8v1M27.5 75v1M28.5 50v1M29.5 52v1M30.5 44v1M30.5 52v1M31.5 51v1M32.5 58v2M33.5 58v1M36.5 38v3M37.5 17v1M37.5 38v3M39.5 16v1M39.5 23v1M40.5 61v1M40.5 67v2M41.5 61v1M41.5 69v1M44.5 4v2M48.5 41v1M49.5 43v1M53.5 5v4M53.5 18v1M54.5 4v1M54.5 9v1M55.5 80v1M56.5 23v2M56.5 77v1M57.5 58v2M57.5 61v1M58.5 57v1M61.5 26v1M61.5 42v1M66.5 26v1M67.5 25v1M68.5 26v1M69.5 63v3M71.5 20v2M71.5 25v1M73.5 33v1M73.5 35v1M73.5 60v1M76.5 33v2M77.5 58v2M78.5 67v3M79.5 56v1M79.5 61v1M79.5 66v1M80.5 67v3M81.5 4v1M81.5 13v2M82.5 3v1M83.5 17v1M83.5 19v1M85.5 17v1M89.5 67v1M89.5 69v1M90.5 66v1M90.5 70v1M97.5 17v1M98.5 18v2M100.5 43v2M101.5 76v1M102.5 37v1M102.5 39v1M102.5 78v2M103.5 40v1M104.5 37v2M107.5 22v2M107.5 25v2M108.5 26v1M110.5 30v1M114.5 42v1M114.5 54v2M114.5 58v2M115.5 44v1M115.5 56v2M126.5 23v2M127.5 15v3M127.5 28v1M127.5 62v3M128.5 28v2M131.5 41v1M131.5 46v1M132.5 45v2M132.5 49v1M133.5 27v1M133.5 30v1M133.5 42v1M133.5 45v1M134.5 28v2M135.5 15v1M135.5 63v1M136.5 12v1M136.5 14v1M136.5 43v1M137.5 4v2M137.5 46v1M137.5 51v1M137.5 55v1M138.5 51v1M138.5 55v1M139.5 28v2M141.5 23v1M146.5 17v1M146.5 21v1M146.5 77v4M147.5 22v1M147.5 69v1M148.5 11v1M148.5 28v2M148.5 68v2M149.5 21v1M149.5 29v1M149.5 37v2M149.5 40v4M150.5 37v1M150.5 52v1M150.5 67v1M151.5 35v1M151.5 64v1M151.5 78v1M152.5 33v1M152.5 63v1M153.5 20v1M153.5 57v1M155.5 34v1M155.5 55v1M155.5 68v1M155.5 82v1"/>
<path stroke="#bfbfbf" d="M2.5 78v3M3.5 39v2M4.5 37v1M4.5 41v1M4.5 66v1M4.5 85v1M6.5 74v1M8.5 41v1M8.5 45v1M9.5 7v1M9.5 42v3M9.5 82v1M10.5 5v1M10.5 44v1M10.5 50v2M10.5 54v1M10.5 61v1M10.5 80v1M11.5 6v1M11.5 16v1M11.5 32v1M11.5 35v3M11.5 68v5M11.5 80v1M12.5 51v1M12.5 58v1M12.5 71v2M12.5 81v2M13.5 39v2M13.5 61v1M14.5 37v1M15.5 30v1M15.5 37v1M16.5 37v3M16.5 82v1M17.5 5v1M17.5 16v4M18.5 16v2M19.5 9v2M23.5 15v1M27.5 72v1M28.5 42v1M28.5 47v3M29.5 43v1M31.5 46v1M37.5 22v1M38.5 16v1M38.5 23v1M40.5 62v1M40.5 65v2M41.5 62v7M47.5 45v1M49.5 44v1M54.5 5v4M55.5 78v2M56.5 80v1M57.5 60v1M58.5 58v1M58.5 62v1M61.5 27v1M61.5 30v1M61.5 43v3M62.5 27v1M62.5 30v1M66.5 27v1M66.5 30v1M68.5 27v1M68.5 30v1M71.5 22v3M72.5 57v1M73.5 34v1M78.5 57v1M78.5 60v1M79.5 67v1M79.5 70v1M80.5 12v1M80.5 14v1M82.5 5v1M83.5 18v1M84.5 20v1M85.5 18v2M89.5 68v1M91.5 17v3M92.5 17v1M92.5 19v1M97.5 18v2M99.5 43v2M101.5 80v1M102.5 38v1M103.5 36v1M107.5 24v1M109.5 31v1M110.5 27v1M114.5 44v1M114.5 56v2M115.5 43v1M128.5 13v1M128.5 18v2M129.5 67v1M129.5 70v1M130.5 67v1M130.5 70v1M131.5 36v1M131.5 49v1M132.5 41v2M132.5 44v1M132.5 47v2M133.5 28v2M133.5 43v2M135.5 12v1M135.5 14v1M136.5 13v1M137.5 45v1M138.5 43v3M146.5 18v1M146.5 20v1M146.5 76v1M147.5 70v1M148.5 7v1M148.5 17v1M148.5 21v1M149.5 7v1M149.5 26v3M149.5 39v1M149.5 44v1M150.5 27v1M150.5 38v5M150.5 50v2M150.5 73v1M151.5 36v1M151.5 55v1M152.5 25v1M152.5 34v1M152.5 83v1M153.5 17v1M153.5 85v1M154.5 33v1M154.5 56v1M155.5 35v1M155.5 42v3M155.5 69v1M155.5 81v1"/>
<path stroke="#c6c6c6" d="M3.5 68v5M5.5 67v1M6.5 75v1M6.5 83v1M8.5 42v3M9.5 13v1M10.5 16v1M10.5 45v5M10.5 83v1M11.5 33v2M11.5 38v2M11.5 52v3M11.5 66v2M11.5 83v1M12.5 49v2M12.5 59v1M12.5 70v1M13.5 38v1M13.5 62v1M13.5 68v1M14.5 29v1M15.5 36v1M17.5 14v2M18.5 15v1M23.5 13v2M27.5 42v1M27.5 44v1M27.5 73v2M28.5 46v1M29.5 51v1M30.5 45v1M31.5 47v1M31.5 50v1M37.5 18v4M38.5 22v1M39.5 17v1M39.5 22v1M40.5 63v2M47.5 42v1M56.5 78v2M58.5 59v3M61.5 28v2M62.5 28v2M66.5 28v2M67.5 31v1M68.5 28v2M72.5 58v2M73.5 57v1M73.5 59v1M78.5 58v2M79.5 57v1M79.5 60v1M79.5 68v2M80.5 13v1M82.5 4v1M84.5 17v1M90.5 67v3M92.5 18v1M101.5 77v3M103.5 37v3M108.5 27v1M108.5 30v1M109.5 26v1M110.5 28v2M114.5 43v1M128.5 14v4M129.5 68v2M130.5 68v2M131.5 40v1M131.5 47v2M132.5 36v1M132.5 40v1M132.5 43v1M135.5 13v1M137.5 42v3M137.5 52v3M138.5 52v1M138.5 54v1M146.5 19v1M146.5 72v1M147.5 16v1M147.5 76v1M148.5 10v1M148.5 18v3M149.5 8v1M149.5 10v1M149.5 22v1M149.5 25v1M149.5 47v1M150.5 43v1M150.5 49v1M150.5 68v5M151.5 26v1M151.5 37v6M151.5 65v1M151.5 77v1M152.5 17v1M152.5 21v4M152.5 56v1M152.5 64v1M153.5 18v2M153.5 33v1M153.5 64v1M154.5 65v1M154.5 84v1M155.5 36v1M155.5 40v2M155.5 45v1M155.5 54v1M155.5 70v4M155.5 80v1"/>
<path stroke="#cccccc" d="M3.5 73v2M3.5 83v1M4.5 38v3M4.5 67v1M4.5 84v1M5.5 68v2M5.5 84v1M9.5 8v1M9.5 12v1M10.5 6v1M10.5 55v1M10.5 60v1M10.5 81v1M11.5 7v1M11.5 15v1M11.5 40v3M11.5 51v1M11.5 55v2M11.5 61v5M12.5 30v1M12.5 45v4M12.5 60v1M12.5 69v1M13.5 29v1M13.5 63v2M13.5 66v2M15.5 31v1M15.5 35v1M16.5 83v1M17.5 6v1M17.5 13v1M18.5 5v1M18.5 14v1M27.5 43v1M28.5 43v3M29.5 44v1M30.5 51v1M31.5 48v2M38.5 17v1M38.5 21v1M39.5 18v1M39.5 21v1M47.5 43v2M48.5 42v1M48.5 45v1M67.5 26v1M73.5 58v1M79.5 58v2M84.5 18v2M108.5 28v2M131.5 37v1M131.5 39v1M132.5 37v1M138.5 53v1M146.5 75v1M147.5 21v1M147.5 71v1M148.5 8v2M149.5 9v1M149.5 23v2M149.5 45v2M150.5 21v1M150.5 26v1M151.5 21v1M151.5 43v1M151.5 54v1M151.5 76v1M152.5 18v3M152.5 35v1M152.5 82v1M153.5 34v1M153.5 56v1M154.5 34v1M155.5 37v3M155.5 46v1M155.5 74v6"/>
<path stroke="#d2d2d2" d="M3.5 75v1M4.5 68v1M5.5 70v4M6.5 76v1M6.5 82v1M9.5 9v3M10.5 15v1M10.5 56v1M10.5 59v1M10.5 82v1M11.5 14v1M11.5 43v8M11.5 57v1M11.5 59v2M11.5 81v2M12.5 43v2M12.5 61v1M12.5 68v1M13.5 37v1M13.5 65v1M14.5 36v1M15.5 32v1M15.5 34v1M17.5 7v2M17.5 11v2M18.5 6v1M18.5 13v1M29.5 45v3M29.5 50v1M30.5 46v1M38.5 18v3M39.5 19v2M48.5 43v2M67.5 27v4M109.5 27v1M109.5 30v1M131.5 38v1M132.5 38v2M146.5 73v2M147.5 17v1M147.5 75v1M150.5 44v1M150.5 48v1M151.5 66v1M152.5 36v8M152.5 55v1M153.5 84v1M154.5 35v1M154.5 42v3M154.5 55v1M154.5 66v1M155.5 47v1M155.5 53v1"/>
<path stroke="#d9d9d9" d="M3.5 76v1M3.5 82v1M4.5 69v5M5.5 74v1M5.5 83v1M6.5 77v1M6.5 81v1M10.5 7v1M10.5 14v1M10.5 57v2M11.5 8v1M11.5 13v1M11.5 58v1M12.5 31v1M12.5 37v6M12.5 62v2M12.5 66v2M14.5 30v1M15.5 33v1M17.5 9v2M18.5 7v1M18.5 11v2M29.5 48v2M30.5 47v4M109.5 28v2M147.5 18v3M147.5 72v1M150.5 22v1M150.5 25v1M151.5 22v1M151.5 25v1M151.5 44v1M151.5 53v1M151.5 75v1M152.5 44v1M152.5 65v1M152.5 81v1M153.5 35v2M153.5 41v4M153.5 55v1M153.5 65v1M154.5 36v6M154.5 45v1M154.5 67v1M154.5 83v1M155.5 48v5"/>
<path stroke="#dfdfdf" d="M3.5 77v2M3.5 80v2M4.5 74v2M4.5 83v1M5.5 75v1M6.5 78v3M10.5 8v1M10.5 13v1M11.5 9v4M12.5 35v2M12.5 64v2M13.5 30v1M13.5 36v1M14.5 35v1M18.5 8v3M147.5 73v2M150.5 23v2M150.5 45v3M151.5 23v2M151.5 45v1M151.5 50v3M151.5 67v1M151.5 74v1M152.5 45v1M152.5 54v1M152.5 80v1M153.5 37v4M153.5 45v1M153.5 83v1M154.5 46v1M154.5 54v1M154.5 82v1"/>
<path stroke="#e6e6e6" d="M3.5 79v1M4.5 76v1M4.5 82v1M5.5 76v1M5.5 82v1M10.5 9v1M10.5 12v1M12.5 32v3M13.5 35v1M14.5 31v1M151.5 46v4M151.5 68v1M151.5 73v1M152.5 46v1M152.5 53v1M152.5 66v1M152.5 78v2M153.5 46v1M153.5 54v1M153.5 66v1M153.5 82v1M154.5 47v1M154.5 53v1M154.5 68v2"/>
<path stroke="#ececec" d="M4.5 77v1M4.5 81v1M5.5 77v2M5.5 80v2M10.5 10v2M13.5 31v1M13.5 34v1M14.5 32v3M151.5 69v4M152.5 47v2M152.5 52v1M152.5 67v1M152.5 76v2M153.5 47v1M153.5 53v1M153.5 67v1M153.5 81v1M154.5 48v5M154.5 70v5M154.5 80v2"/>
<path stroke="#f2f2f2" d="M4.5 78v3M5.5 79v1M13.5 32v2M152.5 49v3M152.5 68v1M152.5 74v2M153.5 48v5M153.5 68v1M153.5 80v1M154.5 75v5"/>
<path stroke="#f9f9f9" d="M152.5 69v5M153.5 69v11"/>
</g></g></g>
<rect x="645.0" y="808.0" width="5" height="2" fill="#000"/>
<text x="633.7" y="817.0" font-size="25.7" fill="#000" text-anchor="end" textLength="13.3" lengthAdjust="spacingAndGlyphs">1</text>
<rect x="645.0" y="777.9" width="5" height="2" fill="#000"/>
<text x="633.7" y="786.9" font-size="25.7" fill="#000" text-anchor="end" textLength="13.3" lengthAdjust="spacingAndGlyphs">3</text>
<rect x="645.0" y="747.8" width="5" height="2" fill="#000"/>
<text x="633.7" y="756.8" font-size="25.7" fill="#000" text-anchor="end" textLength="13.3" lengthAdjust="spacingAndGlyphs">5</text>
<rect x="645.0" y="717.6" width="5" height="2" fill="#000"/>
<text x="633.7" y="726.6" font-size="25.7" fill="#000" text-anchor="end" textLength="13.3" lengthAdjust="spacingAndGlyphs">7</text>
<rect x="645.0" y="687.5" width="5" height="2" fill="#000"/>
<text x="633.7" y="696.5" font-size="25.7" fill="#000" text-anchor="end" textLength="13.3" lengthAdjust="spacingAndGlyphs">9</text>
<rect x="645.0" y="657.4" width="5" height="2" fill="#000"/>
<text x="633.7" y="666.4" font-size="25.7" fill="#000" text-anchor="end" textLength="26.7" lengthAdjust="spacingAndGlyphs">11</text>
<rect x="645.0" y="627.2" width="5" height="2" fill="#000"/>
<text x="633.7" y="636.2" font-size="25.7" fill="#000" text-anchor="end" textLength="26.7" lengthAdjust="spacingAndGlyphs">13</text>
<rect x="645.0" y="597.1" width="5" height="2" fill="#000"/>
<text x="633.7" y="606.1" font-size="25.7" fill="#000" text-anchor="end" textLength="26.7" lengthAdjust="spacingAndGlyphs">15</text>
<rect x="645.0" y="567.0" width="5" height="2" fill="#000"/>
<text x="633.7" y="576.0" font-size="25.7" fill="#000" text-anchor="end" textLength="26.7" lengthAdjust="spacingAndGlyphs">17</text>
<rect x="649.0" y="810.0" width="2" height="4.5" fill="#000"/>
<text x="648.7" y="848.3" font-size="25" fill="#000" text-anchor="middle" textLength="32.8" lengthAdjust="spacingAndGlyphs">SP</text>
<rect x="762.4" y="810.0" width="2" height="4.5" fill="#000"/>
<text x="766.8" y="848.3" font-size="25" fill="#000" text-anchor="middle" textLength="32.5" lengthAdjust="spacingAndGlyphs">0.5</text>
<rect x="875.8" y="810.0" width="2" height="4.5" fill="#000"/>
<text x="879.5" y="848.3" font-size="25" fill="#000" text-anchor="middle" textLength="32.5" lengthAdjust="spacingAndGlyphs">1.0</text>
<rect x="989.1" y="810.0" width="2" height="4.5" fill="#000"/>
<text x="993.5" y="848.3" font-size="25" fill="#000" text-anchor="middle" textLength="32.5" lengthAdjust="spacingAndGlyphs">1.5</text>
<rect x="1102.5" y="810.0" width="2" height="4.5" fill="#000"/>
<text x="1100.2" y="848.3" font-size="25" fill="#000" text-anchor="middle" textLength="33.8" lengthAdjust="spacingAndGlyphs">SR</text>
<text x="710.0" y="537.0" font-size="37.5" fill="#000" textLength="333.0" lengthAdjust="spacingAndGlyphs">CA1 MIMO Prediction</text>
<text x="598.7" y="683.1" font-size="31.5" fill="#000" text-anchor="middle" textLength="97.5" lengthAdjust="spacingAndGlyphs" transform="rotate(-90 598.7 683.1)">Neuron</text>
<text x="877.8" y="891.0" font-size="30.5" fill="#000" text-anchor="middle" textLength="141.0" lengthAdjust="spacingAndGlyphs">Time (sec)</text>
<clipPath id="c4"><rect x="1226" y="357" width="451" height="241"/></clipPath>
<filter id="f4" filterUnits="userSpaceOnUse" x="1205.9" y="336.8" width="491.29999999999995" height="280.8" color-interpolation-filters="sRGB"><feGaussianBlur color-interpolation-filters="sRGB" stdDeviation="2.5 3.2"/><feComponentTransfer color-interpolation-filters="sRGB"><feFuncR type="table" tableValues="0.22 0.204 0.078 0 0 0 0 0.235 0.745 1 1 1 1 1 1 1 1 1 1 1 1"/><feFuncG type="table" tableValues="0 0 0 0 0.157 0.471 0.745 0.843 0.941 1 0.902 0.765 0.608 0.451 0.275 0.118 0 0 0 0 0"/><feFuncB type="table" tableValues="0.502 0.529 0.843 1 0.961 0.745 0.235 0 0 0 0 0 0 0 0 0 0 0 0 0 0"/></feComponentTransfer></filter>
<g clip-path="url(#c4)"><g filter="url(#f4)">
<rect x="1205.9" y="336.8" width="491.29999999999995" height="280.8" fill="#000"/>
<path fill="#fff" d="M1343.0 331.9H1348.7V364.9H1343.0zM1371.6 331.9H1377.3V365.9H1371.6zM1440.1 331.9H1445.8V365.9H1440.1zM1457.3 331.9H1463.0V364.9H1457.3zM1548.7 331.9H1554.4V364.9H1548.7zM1622.9 331.9H1628.6V364.9H1622.9zM1645.8 331.9H1651.5V364.9H1645.8zM1228.8 366.9H1251.6V380.9H1228.8zM1263.0 366.9H1268.7V380.9H1263.0zM1291.6 366.9H1297.3V379.9H1291.6zM1371.6 365.8H1377.3V379.9H1371.6zM1440.1 365.8H1445.8V379.9H1440.1zM1657.2 366.9H1662.9V379.9H1657.2zM1668.6 366.9H1674.3V379.9H1668.6zM1240.2 380.8H1251.6V395.8H1240.2zM1257.3 380.8H1268.7V395.8H1257.3zM1280.2 381.8H1285.9V394.8H1280.2zM1451.6 381.8H1457.3V394.8H1451.6zM1594.4 381.8H1600.1V395.8H1594.4zM1617.2 381.8H1622.9V394.8H1617.2zM1245.9 395.7H1251.6V410.8H1245.9zM1263.0 395.7H1268.7V410.8H1263.0zM1320.2 396.8H1331.6V410.8H1320.2zM1371.6 396.8H1377.3V409.8H1371.6zM1411.6 396.8H1417.3V409.8H1411.6zM1423.0 396.8H1428.7V410.8H1423.0zM1463.0 396.8H1468.7V409.8H1463.0zM1485.8 396.8H1491.5V409.8H1485.8zM1503.0 396.8H1508.7V409.8H1503.0zM1520.1 396.8H1525.8V409.8H1520.1zM1594.4 395.7H1600.1V409.8H1594.4zM1651.5 396.8H1657.2V410.8H1651.5zM1668.6 396.8H1674.3V410.8H1668.6zM1240.2 410.7H1251.6V424.7H1240.2zM1263.0 410.7H1268.7V424.7H1263.0zM1320.2 410.7H1325.9V424.7H1320.2zM1377.3 411.7H1383.0V424.7H1377.3zM1423.0 410.7H1428.7V424.7H1423.0zM1480.1 411.7H1485.8V424.7H1480.1zM1497.3 411.7H1503.0V424.7H1497.3zM1531.5 411.7H1537.2V425.7H1531.5zM1588.7 411.7H1594.4V424.7H1588.7zM1634.4 411.7H1640.1V424.7H1634.4zM1651.5 410.7H1674.3V425.7H1651.5zM1251.6 426.7H1257.3V440.7H1251.6zM1394.4 426.7H1400.1V439.7H1394.4zM1411.6 426.7H1417.3V439.7H1411.6zM1445.8 426.7H1451.6V439.7H1445.8zM1491.5 426.7H1497.3V439.7H1491.5zM1531.5 425.6H1543.0V439.7H1531.5zM1594.4 426.7H1600.1V439.7H1594.4zM1611.5 426.7H1617.2V439.7H1611.5zM1628.6 426.7H1634.4V439.7H1628.6zM1640.1 426.7H1651.5V440.7H1640.1zM1657.2 425.6H1674.3V440.7H1657.2zM1234.5 441.6H1240.2V454.6H1234.5zM1245.9 440.6H1257.3V455.6H1245.9zM1428.7 441.6H1434.4V454.6H1428.7zM1440.1 441.6H1445.8V454.6H1440.1zM1640.1 440.6H1645.8V454.6H1640.1zM1668.6 440.6H1700.1V455.6H1668.6zM1203.0 456.6H1228.8V469.6H1203.0zM1245.9 455.5H1251.6V470.6H1245.9zM1257.3 456.6H1263.0V469.6H1257.3zM1320.2 456.6H1325.9V470.6H1320.2zM1520.1 456.6H1525.8V469.6H1520.1zM1605.8 456.6H1611.5V469.6H1605.8zM1657.2 456.6H1662.9V470.6H1657.2zM1668.6 455.5H1700.1V470.6H1668.6zM1234.5 471.5H1240.2V484.5H1234.5zM1245.9 470.5H1251.6V485.5H1245.9zM1280.2 471.5H1285.9V485.5H1280.2zM1291.6 471.5H1297.3V484.5H1291.6zM1314.4 470.5H1325.9V484.5H1314.4zM1354.4 471.5H1360.1V484.5H1354.4zM1394.4 471.5H1400.1V484.5H1394.4zM1508.7 471.5H1514.4V484.5H1508.7zM1554.4 471.5H1560.1V484.5H1554.4zM1611.5 471.5H1617.2V484.5H1611.5zM1622.9 471.5H1628.6V484.5H1622.9zM1645.8 471.5H1651.5V484.5H1645.8zM1657.2 470.5H1700.1V485.5H1657.2zM1240.2 485.4H1251.6V500.5H1240.2zM1280.2 485.4H1285.9V499.5H1280.2zM1297.3 486.5H1308.7V500.5H1297.3zM1485.8 486.5H1491.5V499.5H1485.8zM1605.8 486.5H1611.5V499.5H1605.8zM1668.6 485.4H1700.1V500.5H1668.6zM1228.8 500.4H1251.6V515.4H1228.8zM1297.3 500.4H1303.0V514.4H1297.3zM1394.4 501.4H1400.1V514.4H1394.4zM1554.4 501.4H1560.1V515.4H1554.4zM1622.9 501.4H1634.4V514.4H1622.9zM1668.6 500.4H1700.1V515.4H1668.6zM1203.0 515.3H1251.6V530.4H1203.0zM1303.0 516.4H1314.4V529.4H1303.0zM1383.0 516.4H1388.7V530.4H1383.0zM1428.7 516.4H1434.4V529.4H1428.7zM1440.1 516.4H1451.6V529.4H1440.1zM1554.4 515.3H1560.1V529.4H1554.4zM1668.6 515.3H1700.1V529.4H1668.6zM1228.8 530.3H1240.2V544.3H1228.8zM1245.9 530.3H1251.6V545.3H1245.9zM1257.3 531.3H1263.0V545.3H1257.3zM1331.6 531.3H1337.3V545.3H1331.6zM1348.7 531.3H1354.4V544.3H1348.7zM1383.0 530.3H1388.7V544.3H1383.0zM1417.3 531.3H1423.0V544.3H1417.3zM1434.4 531.3H1440.1V544.3H1434.4zM1474.4 531.3H1480.1V544.3H1474.4zM1594.4 531.3H1600.1V544.3H1594.4zM1617.2 531.3H1622.9V544.3H1617.2zM1657.2 531.3H1668.6V545.3H1657.2zM1203.0 546.2H1228.8V560.3H1203.0zM1240.2 545.2H1251.6V559.2H1240.2zM1257.3 545.2H1263.0V559.2H1257.3zM1331.6 545.2H1337.3V559.2H1331.6zM1445.8 546.2H1457.3V559.2H1445.8zM1480.1 546.2H1485.8V559.2H1480.1zM1600.1 546.2H1605.8V559.2H1600.1zM1657.2 545.2H1700.1V560.3H1657.2zM1203.0 560.2H1234.5V575.2H1203.0zM1285.9 561.2H1297.3V574.2H1285.9zM1325.9 561.2H1331.6V574.2H1325.9zM1348.7 561.2H1354.4V574.2H1348.7zM1537.2 561.2H1543.0V574.2H1537.2zM1651.5 561.2H1657.2V574.2H1651.5zM1668.6 560.2H1700.1V575.2H1668.6zM1203.0 575.1H1234.5V590.2H1203.0zM1377.3 576.2H1383.0V589.2H1377.3zM1411.6 576.2H1417.3V589.2H1411.6zM1514.4 576.2H1520.1V589.2H1514.4zM1531.5 576.2H1537.2V589.2H1531.5zM1645.8 576.2H1651.5V590.2H1645.8zM1668.6 575.1H1700.1V590.2H1668.6zM1203.0 590.1H1228.8V624.1H1203.0zM1240.2 591.1H1251.6V624.1H1240.2zM1257.3 591.1H1263.0V624.1H1257.3zM1320.2 591.1H1325.9V624.1H1320.2zM1348.7 591.1H1354.4V624.1H1348.7zM1451.6 591.1H1457.3V624.1H1451.6zM1605.8 591.1H1611.5V624.1H1605.8zM1628.6 591.1H1634.4V624.1H1628.6zM1645.8 590.1H1651.5V624.1H1645.8zM1668.6 590.1H1700.1V624.1H1668.6z"/>
</g></g>
<rect x="1220.9" y="597.8" width="5" height="2" fill="#000"/>
<text x="1207.7" y="606.8" font-size="25.7" fill="#000" text-anchor="end" textLength="13.3" lengthAdjust="spacingAndGlyphs">1</text>
<rect x="1220.9" y="567.7" width="5" height="2" fill="#000"/>
<text x="1207.7" y="576.7" font-size="25.7" fill="#000" text-anchor="end" textLength="13.3" lengthAdjust="spacingAndGlyphs">3</text>
<rect x="1220.9" y="537.6" width="5" height="2" fill="#000"/>
<text x="1207.7" y="546.6" font-size="25.7" fill="#000" text-anchor="end" textLength="13.3" lengthAdjust="spacingAndGlyphs">5</text>
<rect x="1220.9" y="507.5" width="5" height="2" fill="#000"/>
<text x="1207.7" y="516.5" font-size="25.7" fill="#000" text-anchor="end" textLength="13.3" lengthAdjust="spacingAndGlyphs">7</text>
<rect x="1220.9" y="477.4" width="5" height="2" fill="#000"/>
<text x="1207.7" y="486.4" font-size="25.7" fill="#000" text-anchor="end" textLength="13.3" lengthAdjust="spacingAndGlyphs">9</text>
<rect x="1220.9" y="447.3" width="5" height="2" fill="#000"/>
<text x="1207.7" y="456.3" font-size="25.7" fill="#000" text-anchor="end" textLength="26.7" lengthAdjust="spacingAndGlyphs">11</text>
<rect x="1220.9" y="417.2" width="5" height="2" fill="#000"/>
<text x="1207.7" y="426.2" font-size="25.7" fill="#000" text-anchor="end" textLength="26.7" lengthAdjust="spacingAndGlyphs">13</text>
<rect x="1220.9" y="387.1" width="5" height="2" fill="#000"/>
<text x="1207.7" y="396.1" font-size="25.7" fill="#000" text-anchor="end" textLength="26.7" lengthAdjust="spacingAndGlyphs">15</text>
<rect x="1220.9" y="357.0" width="5" height="2" fill="#000"/>
<text x="1207.7" y="366.0" font-size="25.7" fill="#000" text-anchor="end" textLength="26.7" lengthAdjust="spacingAndGlyphs">17</text>
<rect x="1224.9" y="597.6" width="2" height="4.5" fill="#000"/>
<text x="1224.6" y="635.9" font-size="25" fill="#000" text-anchor="middle" textLength="32.8" lengthAdjust="spacingAndGlyphs">SP</text>
<rect x="1337.7" y="597.6" width="2" height="4.5" fill="#000"/>
<text x="1342.1" y="635.9" font-size="25" fill="#000" text-anchor="middle" textLength="32.5" lengthAdjust="spacingAndGlyphs">0.5</text>
<rect x="1450.6" y="597.6" width="2" height="4.5" fill="#000"/>
<text x="1454.4" y="635.9" font-size="25" fill="#000" text-anchor="middle" textLength="32.5" lengthAdjust="spacingAndGlyphs">1.0</text>
<rect x="1563.4" y="597.6" width="2" height="4.5" fill="#000"/>
<text x="1567.8" y="635.9" font-size="25" fill="#000" text-anchor="middle" textLength="32.5" lengthAdjust="spacingAndGlyphs">1.5</text>
<rect x="1676.2" y="597.6" width="2" height="4.5" fill="#000"/>
<text x="1673.9" y="635.9" font-size="25" fill="#000" text-anchor="middle" textLength="33.8" lengthAdjust="spacingAndGlyphs">SR</text>
<text x="1274.0" y="327.0" font-size="37.5" fill="#000" textLength="351.0" lengthAdjust="spacingAndGlyphs">CA1 MIMO Stimulation</text>
<text x="1172.6" y="475.0" font-size="31.5" fill="#000" text-anchor="middle" textLength="97.5" lengthAdjust="spacingAndGlyphs" transform="rotate(-90 1172.6 475.0)">Neuron</text>
<text x="1452.6" y="678.6" font-size="30.5" fill="#000" text-anchor="middle" textLength="141.0" lengthAdjust="spacingAndGlyphs">Time (sec)</text>
<clipPath id="c5"><rect x="1230" y="894" width="452" height="240"/></clipPath>
<filter id="f5" filterUnits="userSpaceOnUse" x="1210.5" y="873.5" width="491.5" height="281.0" color-interpolation-filters="sRGB"><feGaussianBlur color-interpolation-filters="sRGB" stdDeviation="2.5 3.2"/><feComponentTransfer color-interpolation-filters="sRGB"><feFuncR type="table" tableValues="0.22 0.204 0.078 0 0 0 0 0.235 0.745 1 1 1 1 1 1 1 1 1 1 1 1"/><feFuncG type="table" tableValues="0 0 0 0 0.157 0.471 0.745 0.843 0.941 1 0.902 0.765 0.608 0.451 0.275 0.118 0 0 0 0 0"/><feFuncB type="table" tableValues="0.502 0.529 0.843 1 0.961 0.745 0.235 0 0 0 0 0 0 0 0 0 0 0 0 0 0"/></feComponentTransfer></filter>
<g clip-path="url(#c5)"><g filter="url(#f5)">
<rect x="1210.5" y="873.5" width="491.5" height="281.0" fill="#000"/>
<path fill="#fff" d="M1239.1 868.6H1244.8V901.6H1239.1zM1256.2 868.6H1261.9V901.6H1256.2zM1273.4 868.6H1279.1V901.6H1273.4zM1290.5 868.6H1296.2V901.6H1290.5zM1341.9 868.6H1347.7V901.6H1341.9zM1359.1 868.6H1364.8V901.6H1359.1zM1370.5 868.6H1376.2V901.6H1370.5zM1416.2 868.6H1422.0V901.6H1416.2zM1444.8 868.6H1450.5V901.6H1444.8zM1513.4 868.6H1519.1V901.6H1513.4zM1547.7 868.6H1553.4V901.6H1547.7zM1244.8 903.5H1250.5V916.5H1244.8zM1284.8 903.5H1290.5V916.5H1284.8zM1319.1 903.5H1324.8V916.5H1319.1zM1347.7 903.5H1353.4V916.5H1347.7zM1427.7 903.5H1433.4V916.5H1427.7zM1479.1 903.5H1484.8V916.5H1479.1zM1530.5 903.5H1536.3V916.5H1530.5zM1553.4 903.5H1559.1V916.5H1553.4zM1564.8 903.5H1570.6V916.5H1564.8zM1576.3 903.5H1582.0V916.5H1576.3zM1599.1 903.5H1604.8V916.5H1599.1zM1616.3 903.5H1622.0V916.5H1616.3zM1633.4 903.5H1639.1V916.5H1633.4zM1673.4 903.5H1679.1V916.5H1673.4zM1207.6 918.5H1233.4V932.5H1207.6zM1250.5 918.5H1256.2V931.5H1250.5zM1290.5 918.5H1296.2V931.5H1290.5zM1444.8 918.5H1450.5V931.5H1444.8zM1462.0 918.5H1467.7V931.5H1462.0zM1536.3 918.5H1542.0V931.5H1536.3zM1547.7 918.5H1553.4V931.5H1547.7zM1559.1 918.5H1564.8V931.5H1559.1zM1622.0 918.5H1627.7V931.5H1622.0zM1207.6 932.3H1233.4V946.4H1207.6zM1279.1 933.4H1284.8V946.4H1279.1zM1307.7 933.4H1313.4V946.4H1307.7zM1341.9 933.4H1347.7V946.4H1341.9zM1364.8 933.4H1370.5V946.4H1364.8zM1393.4 933.4H1399.1V946.4H1393.4zM1404.8 933.4H1410.5V946.4H1404.8zM1456.2 933.4H1462.0V946.4H1456.2zM1473.4 933.4H1479.1V946.4H1473.4zM1513.4 933.4H1519.1V946.4H1513.4zM1564.8 933.4H1570.6V946.4H1564.8zM1587.7 933.4H1593.4V946.4H1587.7zM1616.3 933.4H1622.0V946.4H1616.3zM1644.9 933.4H1650.6V946.4H1644.9zM1673.4 933.4H1679.1V946.4H1673.4zM1233.4 948.3H1239.1V961.3H1233.4zM1273.4 948.3H1279.1V961.3H1273.4zM1301.9 948.3H1307.7V961.3H1301.9zM1330.5 948.3H1336.2V961.3H1330.5zM1422.0 948.3H1427.7V961.3H1422.0zM1462.0 948.3H1467.7V961.3H1462.0zM1479.1 948.3H1484.8V961.3H1479.1zM1507.7 948.3H1513.4V961.3H1507.7zM1576.3 948.3H1582.0V961.3H1576.3zM1627.7 948.3H1633.4V961.3H1627.7zM1207.6 963.2H1233.4V976.2H1207.6zM1250.5 963.2H1256.2V976.2H1250.5zM1313.4 963.2H1319.1V976.2H1313.4zM1364.8 963.2H1370.5V976.2H1364.8zM1450.5 963.2H1456.2V976.2H1450.5zM1502.0 963.2H1507.7V976.2H1502.0zM1530.5 963.2H1536.3V976.2H1530.5zM1542.0 963.2H1547.7V976.2H1542.0zM1587.7 963.2H1593.4V976.2H1587.7zM1656.3 963.2H1662.0V976.2H1656.3zM1239.1 978.2H1244.8V991.2H1239.1zM1267.6 978.2H1273.4V991.2H1267.6zM1279.1 978.2H1284.8V991.2H1279.1zM1307.7 978.2H1313.4V991.2H1307.7zM1359.1 978.2H1364.8V991.2H1359.1zM1387.7 978.2H1393.4V991.2H1387.7zM1399.1 978.2H1404.8V991.2H1399.1zM1416.2 978.2H1422.0V991.2H1416.2zM1427.7 978.2H1433.4V991.2H1427.7zM1462.0 978.2H1467.7V991.2H1462.0zM1496.3 978.2H1502.0V991.2H1496.3zM1207.6 993.1H1233.4V1006.1H1207.6zM1284.8 993.1H1290.5V1006.1H1284.8zM1364.8 993.1H1370.5V1006.1H1364.8zM1393.4 993.1H1399.1V1006.1H1393.4zM1444.8 993.1H1450.5V1006.1H1444.8zM1502.0 993.1H1507.7V1006.1H1502.0zM1570.6 993.1H1576.3V1006.1H1570.6zM1627.7 993.1H1633.4V1006.1H1627.7zM1656.3 993.1H1662.0V1006.1H1656.3zM1673.4 993.1H1679.1V1006.1H1673.4zM1267.6 1008.0H1273.4V1021.0H1267.6zM1330.5 1008.0H1336.2V1021.0H1330.5zM1404.8 1008.0H1410.5V1021.0H1404.8zM1439.1 1008.0H1444.8V1021.0H1439.1zM1479.1 1008.0H1484.8V1021.0H1479.1zM1490.5 1008.0H1496.3V1021.0H1490.5zM1530.5 1008.0H1536.3V1021.0H1530.5zM1553.4 1008.0H1559.1V1021.0H1553.4zM1587.7 1008.0H1593.4V1021.0H1587.7zM1233.4 1022.9H1239.1V1035.9H1233.4zM1296.2 1022.9H1301.9V1035.9H1296.2zM1347.7 1022.9H1353.4V1035.9H1347.7zM1370.5 1022.9H1376.2V1035.9H1370.5zM1422.0 1022.9H1427.7V1035.9H1422.0zM1450.5 1022.9H1456.2V1035.9H1450.5zM1564.8 1022.9H1570.6V1035.9H1564.8zM1239.1 1037.8H1244.8V1050.8H1239.1zM1267.6 1037.8H1273.4V1050.8H1267.6zM1279.1 1037.8H1284.8V1050.8H1279.1zM1307.7 1037.8H1313.4V1050.8H1307.7zM1359.1 1037.8H1364.8V1050.8H1359.1zM1387.7 1037.8H1393.4V1050.8H1387.7zM1410.5 1037.8H1416.2V1050.8H1410.5zM1496.3 1037.8H1502.0V1050.8H1496.3zM1547.7 1037.8H1553.4V1050.8H1547.7zM1559.1 1037.8H1564.8V1050.8H1559.1zM1599.1 1037.8H1604.8V1050.8H1599.1zM1644.9 1037.8H1650.6V1050.8H1644.9zM1261.9 1052.8H1267.6V1065.8H1261.9zM1284.8 1052.8H1290.5V1065.8H1284.8zM1296.2 1052.8H1301.9V1065.8H1296.2zM1324.8 1052.8H1330.5V1065.8H1324.8zM1341.9 1052.8H1347.7V1065.8H1341.9zM1376.2 1052.8H1382.0V1065.8H1376.2zM1456.2 1052.8H1462.0V1065.8H1456.2zM1490.5 1052.8H1496.3V1065.8H1490.5zM1513.4 1052.8H1519.1V1065.8H1513.4zM1524.8 1052.8H1530.5V1065.8H1524.8zM1239.1 1067.7H1244.8V1080.7H1239.1zM1301.9 1067.7H1307.7V1080.7H1301.9zM1347.7 1067.7H1353.4V1080.7H1347.7zM1382.0 1067.7H1387.7V1080.7H1382.0zM1410.5 1067.7H1416.2V1080.7H1410.5zM1422.0 1067.7H1427.7V1080.7H1422.0zM1439.1 1067.7H1444.8V1080.7H1439.1zM1450.5 1067.7H1456.2V1080.7H1450.5zM1507.7 1067.7H1513.4V1080.7H1507.7zM1559.1 1067.7H1564.8V1080.7H1559.1zM1593.4 1067.7H1599.1V1080.7H1593.4zM1610.6 1067.7H1616.3V1080.7H1610.6zM1650.6 1067.7H1656.3V1080.7H1650.6zM1233.4 1082.6H1239.1V1095.6H1233.4zM1267.6 1082.6H1273.4V1095.6H1267.6zM1296.2 1082.6H1301.9V1095.6H1296.2zM1313.4 1082.6H1319.1V1095.6H1313.4zM1324.8 1082.6H1330.5V1095.6H1324.8zM1393.4 1082.6H1399.1V1095.6H1393.4zM1473.4 1082.6H1479.1V1095.6H1473.4zM1484.8 1082.6H1490.5V1095.6H1484.8zM1519.1 1082.6H1524.8V1095.6H1519.1zM1587.7 1082.6H1593.4V1095.6H1587.7zM1599.1 1082.6H1604.8V1095.6H1599.1zM1639.1 1082.6H1644.9V1095.6H1639.1zM1656.3 1082.6H1662.0V1095.6H1656.3zM1239.1 1097.5H1244.8V1110.5H1239.1zM1250.5 1097.5H1256.2V1110.5H1250.5zM1364.8 1097.5H1370.5V1110.5H1364.8zM1376.2 1097.5H1382.0V1110.5H1376.2zM1404.8 1097.5H1410.5V1110.5H1404.8zM1422.0 1097.5H1427.7V1110.5H1422.0zM1582.0 1097.5H1587.7V1110.5H1582.0zM1616.3 1097.5H1622.0V1110.5H1616.3zM1633.4 1097.5H1639.1V1110.5H1633.4zM1650.6 1097.5H1656.3V1110.5H1650.6zM1244.8 1112.5H1250.5V1125.5H1244.8zM1273.4 1112.5H1279.1V1125.5H1273.4zM1341.9 1112.5H1347.7V1125.5H1341.9zM1359.1 1112.5H1364.8V1125.5H1359.1zM1393.4 1112.5H1399.1V1125.5H1393.4zM1462.0 1112.5H1467.7V1125.5H1462.0zM1502.0 1112.5H1507.7V1125.5H1502.0zM1559.1 1112.5H1564.8V1125.5H1559.1zM1233.4 1127.4H1239.1V1160.4H1233.4zM1279.1 1127.4H1284.8V1160.4H1279.1zM1290.5 1127.4H1296.2V1160.4H1290.5zM1313.4 1127.4H1319.1V1160.4H1313.4zM1370.5 1127.4H1376.2V1160.4H1370.5zM1387.7 1127.4H1393.4V1160.4H1387.7zM1410.5 1127.4H1416.2V1160.4H1410.5zM1427.7 1127.4H1433.4V1160.4H1427.7zM1484.8 1127.4H1490.5V1160.4H1484.8zM1519.1 1127.4H1524.8V1160.4H1519.1zM1542.0 1127.4H1547.7V1160.4H1542.0zM1593.4 1127.4H1599.1V1160.4H1593.4zM1616.3 1127.4H1622.0V1160.4H1616.3zM1639.1 1127.4H1644.9V1160.4H1639.1z"/>
</g></g>
<rect x="1225.5" y="1135.3" width="5" height="2" fill="#000"/>
<text x="1211.2" y="1144.3" font-size="25.7" fill="#000" text-anchor="end" textLength="13.3" lengthAdjust="spacingAndGlyphs">1</text>
<rect x="1225.5" y="1105.2" width="5" height="2" fill="#000"/>
<text x="1211.2" y="1114.2" font-size="25.7" fill="#000" text-anchor="end" textLength="13.3" lengthAdjust="spacingAndGlyphs">3</text>
<rect x="1225.5" y="1075.0" width="5" height="2" fill="#000"/>
<text x="1211.2" y="1084.0" font-size="25.7" fill="#000" text-anchor="end" textLength="13.3" lengthAdjust="spacingAndGlyphs">5</text>
<rect x="1225.5" y="1044.9" width="5" height="2" fill="#000"/>
<text x="1211.2" y="1053.9" font-size="25.7" fill="#000" text-anchor="end" textLength="13.3" lengthAdjust="spacingAndGlyphs">7</text>
<rect x="1225.5" y="1014.8" width="5" height="2" fill="#000"/>
<text x="1211.2" y="1023.8" font-size="25.7" fill="#000" text-anchor="end" textLength="13.3" lengthAdjust="spacingAndGlyphs">9</text>
<rect x="1225.5" y="984.7" width="5" height="2" fill="#000"/>
<text x="1211.2" y="993.7" font-size="25.7" fill="#000" text-anchor="end" textLength="26.7" lengthAdjust="spacingAndGlyphs">11</text>
<rect x="1225.5" y="954.5" width="5" height="2" fill="#000"/>
<text x="1211.2" y="963.5" font-size="25.7" fill="#000" text-anchor="end" textLength="26.7" lengthAdjust="spacingAndGlyphs">13</text>
<rect x="1225.5" y="924.4" width="5" height="2" fill="#000"/>
<text x="1211.2" y="933.4" font-size="25.7" fill="#000" text-anchor="end" textLength="26.7" lengthAdjust="spacingAndGlyphs">15</text>
<rect x="1225.5" y="894.3" width="5" height="2" fill="#000"/>
<text x="1211.2" y="903.3" font-size="25.7" fill="#000" text-anchor="end" textLength="26.7" lengthAdjust="spacingAndGlyphs">17</text>
<rect x="1229.5" y="1134.5" width="2" height="4.5" fill="#000"/>
<text x="1229.2" y="1172.8" font-size="25" fill="#000" text-anchor="middle" textLength="32.8" lengthAdjust="spacingAndGlyphs">SP</text>
<rect x="1342.4" y="1134.5" width="2" height="4.5" fill="#000"/>
<text x="1346.8" y="1172.8" font-size="25" fill="#000" text-anchor="middle" textLength="32.5" lengthAdjust="spacingAndGlyphs">0.5</text>
<rect x="1455.2" y="1134.5" width="2" height="4.5" fill="#000"/>
<text x="1459.0" y="1172.8" font-size="25" fill="#000" text-anchor="middle" textLength="32.5" lengthAdjust="spacingAndGlyphs">1.0</text>
<rect x="1568.1" y="1134.5" width="2" height="4.5" fill="#000"/>
<text x="1572.5" y="1172.8" font-size="25" fill="#000" text-anchor="middle" textLength="32.5" lengthAdjust="spacingAndGlyphs">1.5</text>
<rect x="1681.0" y="1134.5" width="2" height="4.5" fill="#000"/>
<text x="1678.7" y="1172.8" font-size="25" fill="#000" text-anchor="middle" textLength="33.8" lengthAdjust="spacingAndGlyphs">SR</text>
<text x="1274.0" y="864.0" font-size="37.5" fill="#000" textLength="356.0" lengthAdjust="spacingAndGlyphs">CA1 RAND Stimulation</text>
<text x="1176.1" y="1012.0" font-size="31.5" fill="#000" text-anchor="middle" textLength="97.5" lengthAdjust="spacingAndGlyphs" transform="rotate(-90 1176.1 1012.0)">Neuron</text>
<text x="1457.2" y="1215.5" font-size="30.5" fill="#000" text-anchor="middle" textLength="141.0" lengthAdjust="spacingAndGlyphs">Time (sec)</text>
<text x="354.0" y="42.3" font-size="52.3" fill="#000" textLength="976.0" lengthAdjust="spacingAndGlyphs">Application of MIMO-Based Closed Loop</text>
<polygon points="485.2,307.4 542.1,262.0 538.6,253.8 562.4,254.6 560.5,281.0 552.7,274.9 495.1,320.0" fill="#000"/>
<text x="506.9" y="269.5" font-size="30" fill="#000" text-anchor="middle" textLength="97.0" lengthAdjust="spacingAndGlyphs" transform="rotate(-38 506.9 269.5)">Record</text>
<polygon points="478.7,662.8 548.5,690.8 553.8,686.3 560.9,704.5 539.7,713.9 540.9,707.4 473.4,676.3" fill="#f00"/>
<text x="522.2" y="672.6" font-size="29" fill="#f00" text-anchor="middle" textLength="79.5" lengthAdjust="spacingAndGlyphs" transform="rotate(21.6 522.2 672.6)">MIMO</text>
<text x="502.4" y="723.2" font-size="29.5" fill="#f00" text-anchor="middle" textLength="99.0" lengthAdjust="spacingAndGlyphs" transform="rotate(20.7 502.4 723.2)">Predict</text>
<polygon points="1138.1,701.0 1195.6,655.2 1192.1,646.4 1216.2,647.6 1213.2,674.0 1206.2,667.5 1148.1,712.1" fill="#000"/>
<text x="1160.2" y="667.2" font-size="29.5" fill="#000" text-anchor="middle" textLength="76.0" lengthAdjust="spacingAndGlyphs" transform="rotate(-36.6 1160.2 667.2)">MIMO</text>
<text x="1192.5" y="710.6" font-size="29" fill="#000" text-anchor="middle" textLength="62.0" lengthAdjust="spacingAndGlyphs" transform="rotate(-36.6 1192.5 710.6)">Stim</text>
<polygon points="1040.5,905.8 1105.0,945.7 1110.9,942.2 1114.4,962.1 1090.9,966.8 1095.6,959.8 1032.8,919.9" fill="#000"/>
<text x="1081.5" y="919.6" font-size="29.5" fill="#000" text-anchor="middle" textLength="84.0" lengthAdjust="spacingAndGlyphs" transform="rotate(31.7 1081.5 919.6)">RAND</text>
<text x="1052.5" y="963.8" font-size="29" fill="#000" text-anchor="middle" textLength="62.0" lengthAdjust="spacingAndGlyphs" transform="rotate(31.5 1052.5 963.8)">Stim</text>
<polygon points="855.8,451.6 879.9,451.6 879.9,471.9 893,471.9 868,498 842.7,471.9 855.8,471.9" fill="#000"/>
<text x="750.5" y="487.3" font-size="31" fill="#222" textLength="86.5" lengthAdjust="spacingAndGlyphs" font-style="italic">MIMO</text>
<text x="897.5" y="487.3" font-size="31" fill="#222" textLength="129.0" lengthAdjust="spacingAndGlyphs" font-style="italic">Modeling</text>
<rect x="277.7" y="937.0" width="47.30000000000001" height="117.0" fill="#000"/>
<rect x="279.9" y="939.2" width="42.9" height="16.1" fill="#000066"/>
<rect x="279.9" y="958.7" width="42.9" height="16.1" fill="#0000ff"/>
<rect x="279.9" y="978.2" width="42.9" height="16.1" fill="#009900"/>
<rect x="279.9" y="997.7" width="42.9" height="16.1" fill="#ffff00"/>
<rect x="279.9" y="1017.2" width="42.9" height="16.1" fill="#ff9900"/>
<rect x="279.9" y="1036.7" width="42.9" height="16.1" fill="#ff0000"/>
<text x="174.6" y="893.2" font-size="33" fill="#000" textLength="78.8" lengthAdjust="spacingAndGlyphs">Firing</text>
<text x="185.9" y="926.4" font-size="33" fill="#000" textLength="68.8" lengthAdjust="spacingAndGlyphs">Rate</text>
<text x="337.1" y="893.2" font-size="33" fill="#000" textLength="78.8" lengthAdjust="spacingAndGlyphs">Firing</text>
<text x="344.4" y="926.4" font-size="33" fill="#000" textLength="75.1" lengthAdjust="spacingAndGlyphs">Prob.</text>
<text x="190.8" y="960.7" font-size="31" fill="#000" textLength="30.2" lengthAdjust="spacingAndGlyphs">&lt;1</text>
<text x="175.9" y="1007.9" font-size="31" fill="#000" textLength="59.9" lengthAdjust="spacingAndGlyphs">5 Hz</text>
<text x="182.7" y="1057.3" font-size="31" fill="#000" textLength="47.8" lengthAdjust="spacingAndGlyphs">&gt;10</text>
<text x="344.4" y="960.7" font-size="31" fill="#000" textLength="73.7" lengthAdjust="spacingAndGlyphs">&lt;20%</text>
<text x="352.5" y="1007.9" font-size="31" fill="#000" textLength="56.7" lengthAdjust="spacingAndGlyphs">50%</text>
<text x="343.0" y="1057.3" font-size="31" fill="#000" textLength="75.1" lengthAdjust="spacingAndGlyphs">&gt;80%</text>
<text x="461.3" y="990.4" font-size="25.5" fill="#222" textLength="95.8" lengthAdjust="spacingAndGlyphs" font-family='"DejaVu Sans", "Liberation Sans", sans-serif'>No Stim</text>
<text x="460.5" y="1055.7" font-size="25.5" fill="#222" textLength="53.5" lengthAdjust="spacingAndGlyphs" font-family='"DejaVu Sans", "Liberation Sans", sans-serif'>Stim</text>
<path d="M440.2 938.0 H447.8 V1032.5 H440.2 M447.8 984.4 H453.7" fill="none" stroke="#666" stroke-width="2.2"/>
<rect x="439.1" y="1047.1" width="14.8" height="2.2" fill="#333"/>
</svg>
</body></html>
